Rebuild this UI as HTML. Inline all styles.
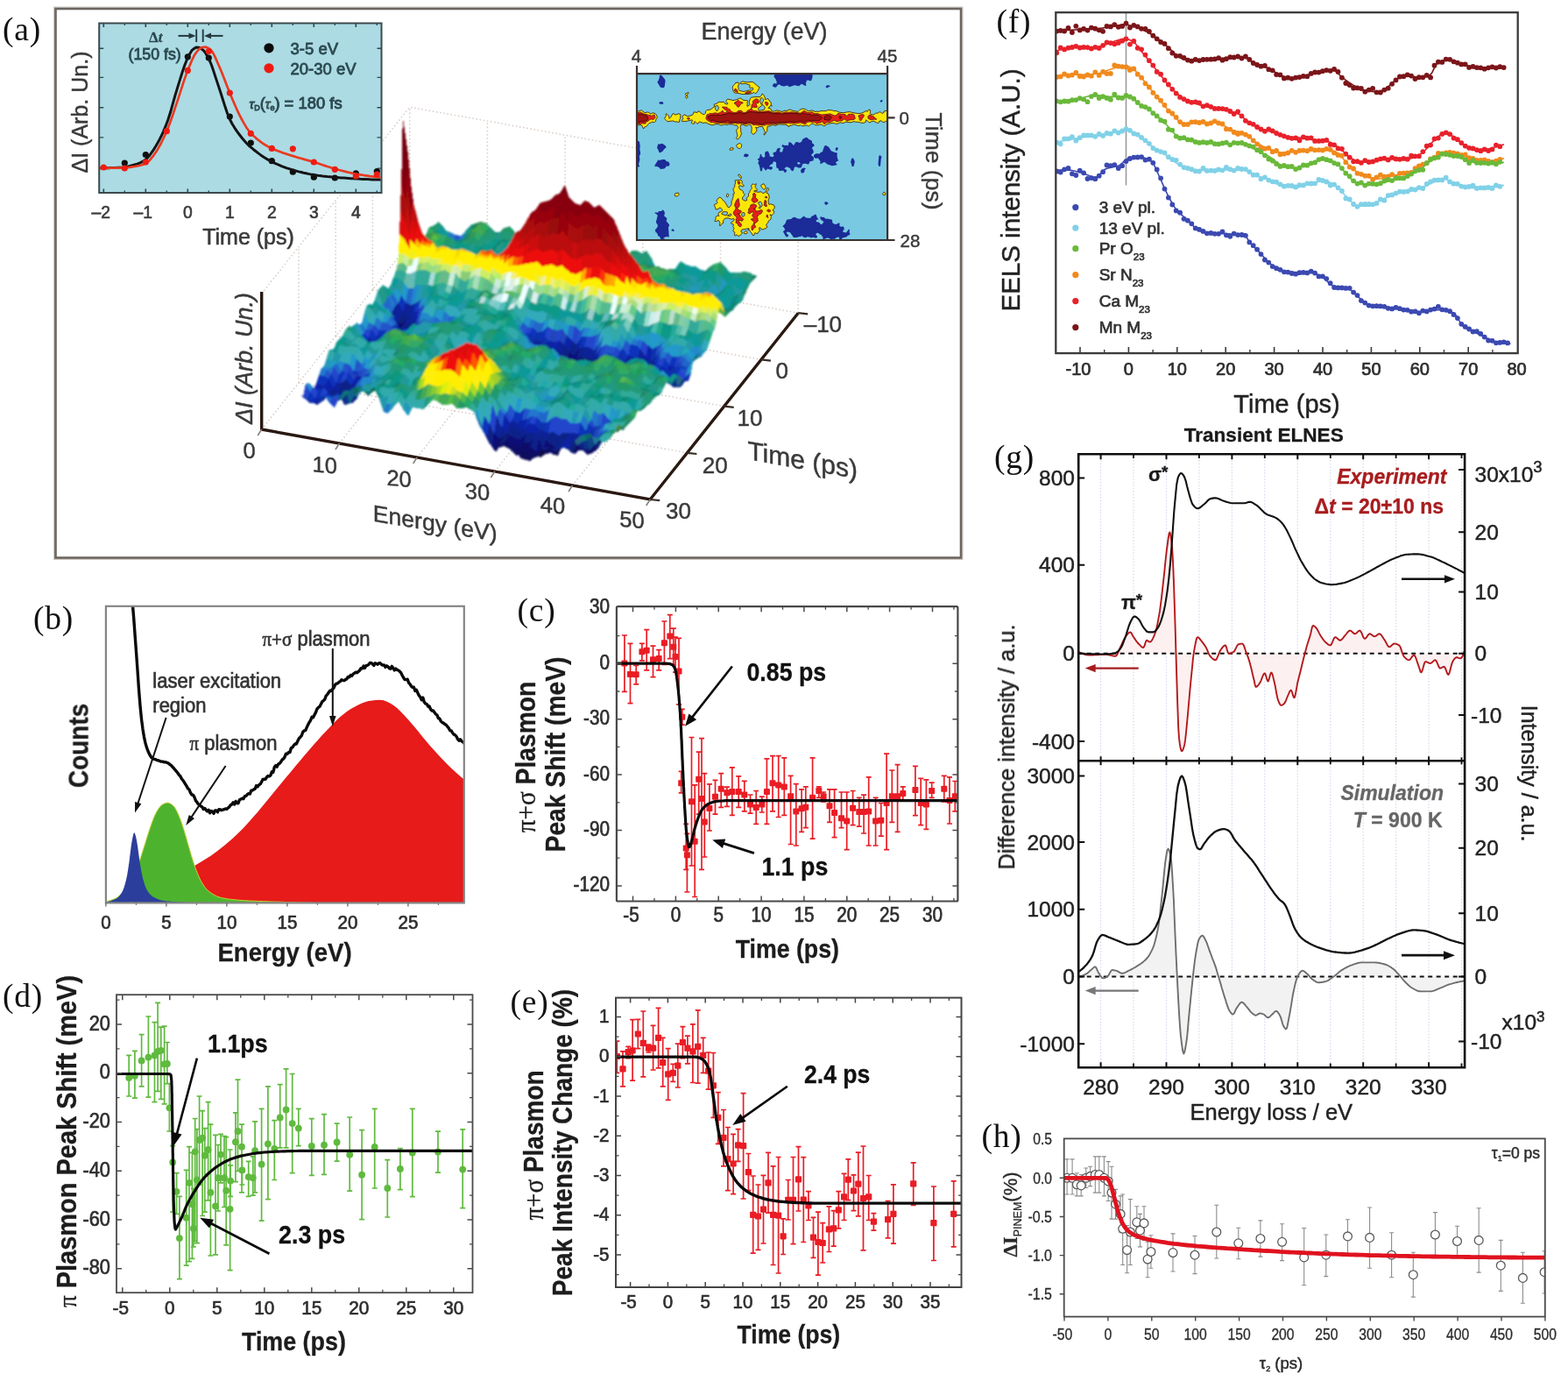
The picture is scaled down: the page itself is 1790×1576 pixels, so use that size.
<!DOCTYPE html>
<html lang="en">
<head>
<meta charset="utf-8">
<title>Figure: ultrafast EELS dynamics</title>
<style>
html,body{margin:0;padding:0;background:#fff;}
body{width:1790px;height:1576px;overflow:hidden;}
svg{display:block;font-family:"Liberation Sans",sans-serif;}
.soft{filter:blur(0.6px)}
</style>
</head>
<body>
<svg width="1790" height="1576" viewBox="0 0 1790 1576">
<defs>
<clipPath id="cpa1"><rect x="114.2" y="27.5" width="320.3" height="191.5"/></clipPath>
<filter id="blur3d" x="-5%" y="-5%" width="110%" height="110%"><feGaussianBlur stdDeviation="0.9"/></filter>
<clipPath id="cpc"><rect x="727" y="84.2" width="286.1" height="189.8"/></clipPath>
<clipPath id="cpb"><rect x="120.9" y="691.8" width="408.9" height="338.6"/></clipPath>
<clipPath id="cpc2"><rect x="703.9" y="692.2" width="389.5" height="336.3"/></clipPath>
<clipPath id="cpd"><rect x="133" y="1135.2" width="406.5" height="340"/></clipPath>
<clipPath id="cpe"><rect x="703" y="1138.6" width="394.5" height="330.4"/></clipPath>
<clipPath id="cpf"><rect x="1205.3" y="14.2" width="527.4" height="388.9"/></clipPath>
<clipPath id="cpg1"><rect x="1231.2" y="518.2" width="440.9" height="350"/></clipPath><clipPath id="cpg2"><rect x="1231.2" y="868.2" width="440.9" height="350"/></clipPath>
<clipPath id="cph"><rect x="1214.7" y="1299.4" width="549.1" height="203.2"/></clipPath>
</defs>
<rect width="1790" height="1576" fill="#fff"/>
<g class="soft">
<g id="a-frame"><rect x="63.5" y="10" width="1033.5" height="626.5" fill="none" stroke="#cfcac6" stroke-width="5" />
<rect x="63.5" y="10" width="1033.5" height="626.5" fill="#fff" stroke="#6c6661" stroke-width="2.6" /></g>
<g id="a-3d"><path d="M298.7 490L467.7 277.2M467.7 277.2L467.7 122.2M387.4 506L556.4 293.2M556.4 293.2L556.4 138.2M476.1 522L645.1 309.2M645.1 309.2L645.1 154.2M564.8 538L733.8 325.2M733.8 325.2L733.8 170.2M653.5 554L822.5 341.2M822.5 341.2L822.5 186.2M742.2 570L911.2 357.2M911.2 357.2L911.2 202.2M467.7 277.2L911.2 357.2M467.7 277.2L467.7 122.2M425.4 330.4L868.9 410.4M425.4 330.4L425.4 175.4M383.2 383.6L826.7 463.6M383.2 383.6L383.2 228.6M340.9 436.8L784.4 516.8M340.9 436.8L340.9 281.8M298.7 490L742.2 570M298.7 490L298.7 335M298.7 335L467.7 122.2L911.2 202.2" stroke="#d9cdc6" stroke-width="1.5" stroke-dasharray="1.6 2.6" fill="none"/><g shape-rendering="crispEdges" filter="url(#blur3d)"><path fill="#188" d="M503 259l6 4l-3-5l-6-5z"/><path fill="#299" d="M509 263l5 2l-3 4l-5-11z"/><path fill="#27c" d="M514 265l6 3l-3 10l-6-9z"/><path fill="#25c" d="M520 268l6 1l-4 9l-5 0z"/><path fill="#27c" d="M526 269l5-5l-3 12l-6 2z"/><path fill="#299" d="M531 264l6-7l-3 11l-6 8z"/><path fill="#197" d="M537 257l5-2l-3 5l-5 8z"/><path fill="#285" d="M542 255l6-2l-3 4l-6 3z"/><path fill="#495" d="M548 253l6 1l-4 3l-5 0z"/><path fill="#3a6" d="M554 254l5 4l-3 3l-6-4z"/><path fill="#297" d="M559 258l6 7l-3 1l-6-5z"/><path fill="#187" d="M565 265l5 0l-3 2l-5-1z"/><path fill="#175" d="M570 265l6-5l-3 4l-6 3z"/><path fill="#296" d="M576 260l6-2l-4 7l-5-1zM582 258l5 6l-3 3l-6-2z"/><path fill="#187" d="M587 264l6 13l-4-9l-5-1zM593 277l5-1l-3-4l-6-4z"/><path fill="#176" d="M598 276l6-9l-3 6l-6-1z"/><path fill="#296" d="M604 267l5-7l-3 9l-5 4z"/><path fill="#5b4" d="M609 260l6-1l-3 10l-6 0z"/><path fill="#7b3" d="M615 259l6 0l-4 7l-5 3z"/><path fill="#9b2" d="M621 259l5 0l-3 4l-6 3z"/><path fill="#bd2" d="M626 259l6 1l-3 7l-6-4z"/><path fill="#ad2" d="M632 260l5-1l-3 12l-5-4z"/><path fill="#9c3" d="M637 259l6 4l-3 7l-6 1z"/><path fill="#7c3" d="M643 263l6 6l-4 2l-5-1z"/><path fill="#6b4" d="M649 269l5-1l-3 7l-6-4zM654 268l6 2l-3 5l-6 0z"/><path fill="#5a4" d="M660 270l5 5l-3-2l-5 2z"/><path fill="#482" d="M665 275l6-4l-3 1l-6 1z"/><path fill="#8b2" d="M671 271l6-4l-4 6l-5-1z"/><path fill="#ad2" d="M677 267l5 5l-3 5l-6-4z"/><path fill="#5b5" d="M682 272l6 10l-3 1l-6-6z"/><path fill="#286" d="M688 282l5 0l-3 3l-5-2z"/><path fill="#295" d="M693 282l6-2l-3 5l-6 0z"/><path fill="#296" d="M699 280l6 5l-4 4l-5-4z"/><path fill="#198" d="M705 285l5 9l-3 3l-6-8zM710 294l6-3l-3 7l-6-1z"/><path fill="#197" d="M716 291l5-5l-3 7l-5 5z"/><path fill="#296" d="M721 286l6 0l-3 6l-6 1z"/><path fill="#297" d="M727 286l6 3l-4 6l-5-3zM733 289l5-3l-3 11l-6-2zM738 286l6 9l-3 7l-6-5z"/><path fill="#199" d="M744 295l5 12l-3 0l-5-5z"/><path fill="#178" d="M749 307l6 1l-3-4l-6 3z"/><path fill="#28a" d="M755 308l6 9l-4-8l-5-5z"/><path fill="#269" d="M761 317l5-4l-3 0l-6-4z"/><path fill="#178" d="M766 313l6-8l-3 5l-6 3z"/><path fill="#198" d="M772 305l5-7l-3 8l-5 4zM777 298l6 4l-3 9l-6-5z"/><path fill="#199" d="M783 302l6 2l-4 9l-5-2zM789 304l5 0l-3 11l-6-2zM794 304l6 4l-3 9l-6-2zM800 308l5 1l-3 5l-5 3z"/><path fill="#187" d="M805 309l6-5l-3 6l-6 4z"/><path fill="#296" d="M811 304l5-3l-3 7l-5 2z"/><path fill="#3a6" d="M816 301l6-2l-3 11l-6-2z"/><path fill="#296" d="M822 299l6 5l-4 13l-5-7z"/><path fill="#198" d="M828 304l5 7l-3 11l-6-5zM833 311l6 0l-3 7l-6 4z"/><path fill="#298" d="M839 311l5 0l-3 6l-5 1z"/><path fill="#297" d="M844 311l6-1l-3 7l-6 0zM850 310l6 1l-4 10l-5-4zM856 311l5 3l-3 5l-6 2z"/><path fill="#176" d="M861 314l6 2l-3-1l-6 4z"/><path fill="#297" d="M500 253l6 5l-4 2l-5-4z"/><path fill="#199" d="M506 258l5 11l-3 0l-6-9z"/><path fill="#27c" d="M511 269l6 9l-3-1l-6-8z"/><path fill="#14a" d="M517 278l5 0l-3-2l-5 1z"/><path fill="#25b" d="M522 278l6-2l-3 2l-6-2z"/><path fill="#278" d="M528 276l6-8l-4 2l-5 8z"/><path fill="#176" d="M534 268l5-8l-3 2l-6 8z"/><path fill="#274" d="M539 260l6-3l-3 3l-6 2z"/><path fill="#4a5" d="M545 257l5 0l-3 4l-5-1z"/><path fill="#3a5" d="M550 257l6 4l-3 4l-6-4z"/><path fill="#296" d="M556 261l6 5l-4 1l-5-2z"/><path fill="#297" d="M562 266l5 1l-3 5l-6-5z"/><path fill="#298" d="M567 267l6-3l-3 10l-6-2z"/><path fill="#297" d="M573 264l5 1l-3 8l-5 1zM578 265l6 2l-3 8l-6-2zM584 267l5 1l-3 9l-5-2z"/><path fill="#298" d="M589 268l6 4l-3 5l-6 0z"/><path fill="#198" d="M595 272l6 1l-4 5l-5-1z"/><path fill="#286" d="M601 273l5-4l-3 6l-6 3z"/><path fill="#2a6" d="M606 269l6 0l-3 6l-6 0z"/><path fill="#4a5" d="M612 269l5-3l-3 7l-5 2z"/><path fill="#6b3" d="M617 266l6-3l-3 8l-6 2z"/><path fill="#7c3" d="M623 263l6 4l-4 7l-5-3z"/><path fill="#5b4" d="M629 267l5 4l-3 7l-6-4z"/><path fill="#5b5" d="M634 271l6-1l-3 8l-6 0z"/><path fill="#5b4" d="M640 270l5 1l-3 7l-5 0zM645 271l6 4l-3 3l-6 0z"/><path fill="#5a4" d="M651 275l6 0l-4 4l-5-1z"/><path fill="#6a3" d="M657 275l5-2l-3 5l-6 1z"/><path fill="#8b3" d="M662 273l6-1l-3 5l-6 1z"/><path fill="#ac2" d="M668 272l5 1l-3 5l-5-1z"/><path fill="#9c2" d="M673 273l6 4l-3 2l-6-1z"/><path fill="#6b4" d="M679 277l6 6l-4 1l-5-5z"/><path fill="#395" d="M685 283l5 2l-3 3l-6-4z"/><path fill="#295" d="M690 285l6 0l-3 4l-6-1z"/><path fill="#296" d="M696 285l5 4l-3 2l-5-2z"/><path fill="#286" d="M701 289l6 8l-3-5l-6-1z"/><path fill="#187" d="M707 297l6 1l-4-2l-5-4zM713 298l5-5l-3 7l-6-4z"/><path fill="#297" d="M718 293l6-1l-3 7l-6 1zM724 292l5 3l-3 5l-5-1zM729 295l6 2l-3 4l-6-1z"/><path fill="#197" d="M735 297l6 5l-4-1l-5 0z"/><path fill="#187" d="M741 302l5 5l-3-5l-6-1z"/><path fill="#176" d="M746 307l6-3l-3 0l-6-2z"/><path fill="#187" d="M752 304l5 5l-3-3l-5-2zM757 309l6 4l-3-5l-6-2z"/><path fill="#176" d="M763 313l6-3l-4-3l-5 1zM769 310l5-4l-3 1l-6 0z"/><path fill="#198" d="M774 306l6 5l-3 5l-6-9z"/><path fill="#299" d="M780 311l5 2l-3 5l-5-2zM785 313l6 2l-3 5l-6-2z"/><path fill="#29a" d="M791 315l6 2l-4 6l-5-3z"/><path fill="#199" d="M797 317l5-3l-3 7l-6 2z"/><path fill="#198" d="M802 314l6-4l-4 9l-5 2zM808 310l5-2l-3 10l-6 1zM813 308l6 2l-3 16l-6-8z"/><path fill="#299" d="M819 310l5 7l-3 18l-5-9z"/><path fill="#29b" d="M824 317l6 5l-3 10l-6 3z"/><path fill="#199" d="M830 322l6-4l-4 8l-5 6zM836 318l5-1l-3 9l-6 0zM841 317l6 0l-3 13l-6-4zM847 317l5 4l-3 11l-5-2z"/><path fill="#198" d="M852 321l6-2l-3 5l-6 8z"/><path fill="#286" d="M858 319l6-4l-4 4l-5 5z"/><path fill="#297" d="M497 256l5 4l-3 4l-5-6z"/><path fill="#199" d="M502 260l6 9l-3 0l-6-5zM508 269l6 8l-4-4l-5-4z"/><path fill="#178" d="M514 277l5-1l-3-4l-6 1z"/><path fill="#289" d="M519 276l6 2l-3-1l-6-5z"/><path fill="#177" d="M525 278l5-8l-3 3l-5 4z"/><path fill="#187" d="M530 270l6-8l-3 7l-6 4z"/><path fill="#296" d="M536 262l6-2l-4 5l-5 4z"/><path fill="#4a4" d="M542 260l5 1l-3 3l-6 1z"/><path fill="#4a5" d="M547 261l6 4l-3 3l-6-4z"/><path fill="#296" d="M553 265l5 2l-3 5l-5-4z"/><path fill="#297" d="M558 267l6 5l-3 4l-6-4z"/><path fill="#198" d="M564 272l6 2l-4 6l-5-4z"/><path fill="#187" d="M570 274l5-1l-3 3l-6 4zM575 273l6 2l-4 2l-5-1z"/><path fill="#198" d="M581 275l5 2l-3 7l-6-7z"/><path fill="#187" d="M586 277l6 0l-3 2l-6 5z"/><path fill="#186" d="M592 277l5 1l-3 1l-5 0z"/><path fill="#175" d="M597 278l6-3l-3 2l-6 2z"/><path fill="#285" d="M603 275l6 0l-4 2l-5 0z"/><path fill="#384" d="M609 275l5-2l-3 4l-6 0z"/><path fill="#5a4" d="M614 273l6-2l-3 6l-6 0z"/><path fill="#5b5" d="M620 271l5 3l-3 8l-5-5z"/><path fill="#3a6" d="M625 274l6 4l-3 5l-6-1zM631 278l6 0l-4 7l-5-2zM637 278l5 0l-3 8l-6-1zM642 278l6 0l-3 9l-6-1zM648 278l5 1l-3 9l-5-1z"/><path fill="#4a5" d="M653 279l6-1l-3 11l-6-1z"/><path fill="#5b4" d="M659 278l6-1l-4 8l-5 4z"/><path fill="#8b3" d="M665 277l5 1l-3 3l-6 4z"/><path fill="#9c2" d="M670 278l6 1l-3 5l-6-3z"/><path fill="#6b4" d="M676 279l5 5l-3 6l-5-6z"/><path fill="#3a5" d="M681 284l6 4l-3 5l-6-3z"/><path fill="#395" d="M687 288l6 1l-4 4l-5 0zM693 289l5 2l-3 2l-6 0z"/><path fill="#296" d="M698 291l6 1l-3 4l-6-3z"/><path fill="#297" d="M704 292l5 4l-3 4l-5-4zM709 296l6 4l-3 2l-6-2z"/><path fill="#176" d="M715 300l6-1l-4 0l-5 3z"/><path fill="#186" d="M721 299l5 1l-3 0l-6-1zM726 300l6 1l-3 0l-6-1z"/><path fill="#175" d="M732 301l5 0l-3 0l-5 0z"/><path fill="#286" d="M737 301l6 1l-3 2l-6-3zM743 302l6 2l-4 2l-5-2z"/><path fill="#186" d="M749 304l5 2l-3-1l-6 1zM754 306l6 2l-3-2l-6-1z"/><path fill="#175" d="M760 308l5-1l-3 1l-5-2zM765 307l6 0l-3 0l-6 1z"/><path fill="#187" d="M771 307l6 9l-4-3l-5-6zM777 316l5 2l-3-2l-6-3z"/><path fill="#188" d="M782 318l6 2l-3 0l-6-4z"/><path fill="#199" d="M788 320l5 3l-3 2l-5-5z"/><path fill="#29a" d="M793 323l6-2l-3 9l-6-5zM799 321l5-2l-3 11l-5 0z"/><path fill="#199" d="M804 319l6-1l-3 6l-6 6z"/><path fill="#299" d="M810 318l6 8l-4 1l-5-3z"/><path fill="#29c" d="M816 326l5 9l-3 1l-6-9z"/><path fill="#26a" d="M821 335l6-3l-3 0l-6 4z"/><path fill="#177" d="M827 332l5-6l-3-1l-5 7z"/><path fill="#187" d="M832 326l6 0l-3 0l-6-1z"/><path fill="#299" d="M838 326l6 4l-4 4l-5-8z"/><path fill="#29a" d="M844 330l5 2l-3 6l-6-4z"/><path fill="#188" d="M849 332l6-8l-3 4l-6 10z"/><path fill="#285" d="M855 324l5-5l-3 3l-5 6z"/><path fill="#296" d="M494 258l5 6l-3 1l-6-6z"/><path fill="#187" d="M499 264l6 5l-3-1l-6-3zM505 269l5 4l-3-3l-5-2z"/><path fill="#176" d="M510 273l6-1l-3-1l-6-1z"/><path fill="#187" d="M516 272l6 5l-4-4l-5-2z"/><path fill="#177" d="M522 277l5-4l-3 1l-6-1z"/><path fill="#187" d="M527 273l6-4l-3 5l-6 0z"/><path fill="#286" d="M533 269l5-4l-3 8l-5 1z"/><path fill="#395" d="M538 265l6-1l-3 6l-6 3z"/><path fill="#3a6" d="M544 264l6 4l-4 7l-5-5z"/><path fill="#297" d="M550 268l5 4l-3 6l-6-3z"/><path fill="#298" d="M555 272l6 4l-3 3l-6-1z"/><path fill="#198" d="M561 276l5 4l-3 2l-5-3z"/><path fill="#176" d="M566 280l6-4l-3 3l-6 3z"/><path fill="#297" d="M572 276l5 1l-3 4l-5-2z"/><path fill="#198" d="M577 277l6 7l-3 2l-6-5z"/><path fill="#176" d="M583 284l6-5l-4 3l-5 4z"/><path fill="#275" d="M589 279l5 0l-3 0l-6 3z"/><path fill="#274" d="M594 279l6-2l-3 0l-6 2z"/><path fill="#494" d="M600 277l5 0l-3 2l-5-2z"/><path fill="#4a5" d="M605 277l6 0l-3 6l-6-4zM611 277l6 0l-4 8l-5-2z"/><path fill="#296" d="M617 277l5 5l-3 10l-6-7z"/><path fill="#297" d="M622 282l6 1l-3 11l-6-2zM628 283l5 2l-3 9l-5 0zM633 285l6 1l-3 8l-6 0zM639 286l6 1l-4 7l-5 0zM645 287l5 1l-3 6l-6 0zM650 288l6 1l-3 8l-6-3z"/><path fill="#296" d="M656 289l5-4l-3 9l-5 3z"/><path fill="#5b4" d="M661 285l6-4l-3 6l-6 7z"/><path fill="#8c3" d="M667 281l6 3l-4 5l-5-2z"/><path fill="#5b4" d="M673 284l5 6l-3 4l-6-5z"/><path fill="#3a5" d="M678 290l6 3l-3 3l-6-2z"/><path fill="#384" d="M684 293l5 0l-3 1l-5 2z"/><path fill="#494" d="M689 293l6 0l-3 3l-6-2z"/><path fill="#3a6" d="M695 293l6 3l-4 4l-5-4z"/><path fill="#296" d="M701 296l5 4l-3 0l-6 0z"/><path fill="#286" d="M706 300l6 2l-3 0l-6-2z"/><path fill="#275" d="M712 302l5-3l-3 3l-5 0z"/><path fill="#296" d="M717 299l6 1l-3 4l-6-2z"/><path fill="#295" d="M723 300l6 1l-4 3l-5 0z"/><path fill="#385" d="M729 301l5 0l-3 2l-6 1z"/><path fill="#395" d="M734 301l6 3l-3 2l-6-3z"/><path fill="#285" d="M740 304l5 2l-3 0l-5 0z"/><path fill="#274" d="M745 306l6-1l-3-1l-6 2z"/><path fill="#395" d="M751 305l6 1l-4 2l-5-4zM757 306l5 2l-3 1l-6-1z"/><path fill="#385" d="M762 308l6-1l-3 2l-6 0z"/><path fill="#296" d="M768 307l5 6l-3 1l-5-5z"/><path fill="#297" d="M773 313l6 3l-3 2l-6-4z"/><path fill="#198" d="M779 316l6 4l-4 4l-5-6z"/><path fill="#299" d="M785 320l5 5l-3 4l-6-5z"/><path fill="#29b" d="M790 325l6 5l-4 5l-5-6zM796 330l5 0l-3 3l-6 2z"/><path fill="#188" d="M801 330l6-6l-3 3l-6 6z"/><path fill="#199" d="M807 324l5 3l-3 2l-5-2z"/><path fill="#29a" d="M812 327l6 9l-3 0l-6-7z"/><path fill="#289" d="M818 336l6-4l-4 3l-5 1z"/><path fill="#188" d="M824 332l5-7l-3 7l-6 3z"/><path fill="#198" d="M829 325l6 1l-3 4l-6 2z"/><path fill="#199" d="M835 326l5 8l-3 4l-5-8z"/><path fill="#29a" d="M840 334l6 4l-3 2l-6-2z"/><path fill="#187" d="M846 338l6-10l-4 4l-5 8z"/><path fill="#286" d="M852 328l5-6l-3 6l-6 4z"/><path fill="#3a6" d="M490 259l6 6l-3 1l-6 0z"/><path fill="#285" d="M496 265l6 3l-4-2l-5 0zM502 268l5 2l-3-2l-6-2z"/><path fill="#175" d="M507 270l6 1l-3-2l-6-1z"/><path fill="#285" d="M513 271l5 2l-3-2l-5-2z"/><path fill="#187" d="M518 273l6 1l-3 2l-6-5zM524 274l6 0l-4 3l-5-1z"/><path fill="#297" d="M530 274l5-1l-3 6l-6-2z"/><path fill="#296" d="M535 273l6-3l-3 8l-6 1z"/><path fill="#297" d="M541 270l5 5l-3 5l-5-2zM546 275l6 3l-3 4l-6-2z"/><path fill="#198" d="M552 278l6 1l-4 6l-5-3zM558 279l5 3l-3 3l-6 0z"/><path fill="#187" d="M563 282l6-3l-4 6l-5 0z"/><path fill="#298" d="M569 279l5 2l-3 8l-6-4z"/><path fill="#199" d="M574 281l6 5l-3 8l-6-5z"/><path fill="#187" d="M580 286l5-4l-3 4l-5 8z"/><path fill="#285" d="M585 282l6-3l-3 3l-6 4z"/><path fill="#483" d="M591 279l6-2l-4 3l-5 2z"/><path fill="#6b4" d="M597 277l5 2l-3 4l-6-3z"/><path fill="#4a5" d="M602 279l6 4l-3 7l-6-7z"/><path fill="#296" d="M608 283l5 2l-3 6l-5-1z"/><path fill="#298" d="M613 285l6 7l-3 5l-6-6z"/><path fill="#199" d="M619 292l6 2l-4 7l-5-4z"/><path fill="#188" d="M625 294l5 0l-3 3l-6 4z"/><path fill="#187" d="M630 294l6 0l-3 2l-6 1z"/><path fill="#186" d="M636 294l5 0l-3 2l-5 0z"/><path fill="#297" d="M641 294l6 0l-3 4l-6-2zM647 294l6 3l-4 2l-5-1z"/><path fill="#175" d="M653 297l5-3l-3 3l-6 2z"/><path fill="#394" d="M658 294l6-7l-3 6l-6 4z"/><path fill="#7b3" d="M664 287l5 2l-3 4l-5 0z"/><path fill="#5b4" d="M669 289l6 5l-3 5l-6-6z"/><path fill="#3a6" d="M675 294l6 2l-4 5l-5-2z"/><path fill="#395" d="M681 296l5-2l-3 5l-6 2z"/><path fill="#5a5" d="M686 294l6 2l-3 4l-6-1z"/><path fill="#3a5" d="M692 296l5 4l-3 2l-5-2z"/><path fill="#384" d="M697 300l6 0l-3 1l-6 1zM703 300l6 2l-4-2l-5 1z"/><path fill="#394" d="M709 302l5 0l-3 2l-6-4z"/><path fill="#3a6" d="M714 302l6 2l-3 5l-6-5z"/><path fill="#2a6" d="M720 304l5 0l-3 7l-5-2z"/><path fill="#3a6" d="M725 304l6-1l-3 6l-6 2z"/><path fill="#4a5" d="M731 303l6 3l-4 3l-5 0z"/><path fill="#3a5" d="M737 306l5 0l-3 5l-6-2z"/><path fill="#4a5" d="M742 306l6-2l-3 6l-6 1zM748 304l5 4l-3 4l-5-2zM753 308l6 1l-3 4l-6-1zM759 309l6 0l-4 5l-5-1z"/><path fill="#2a6" d="M765 309l5 5l-3 6l-6-6z"/><path fill="#297" d="M770 314l6 4l-3 2l-6 0z"/><path fill="#198" d="M776 318l5 6l-3 1l-5-5z"/><path fill="#299" d="M781 324l6 5l-3 6l-6-10z"/><path fill="#29a" d="M787 329l5 6l-3-1l-5 1z"/><path fill="#178" d="M792 335l6-2l-3-1l-6 2z"/><path fill="#188" d="M798 333l6-6l-4 6l-5-1z"/><path fill="#299" d="M804 327l5 2l-3 8l-6-4z"/><path fill="#29a" d="M809 329l6 7l-3 7l-6-6z"/><path fill="#189" d="M815 336l5-1l-3 2l-5 6z"/><path fill="#188" d="M820 335l6-3l-3 3l-6 2z"/><path fill="#198" d="M826 332l6-2l-4 6l-5-1z"/><path fill="#199" d="M832 330l5 8l-3-1l-6-1z"/><path fill="#177" d="M837 338l6 2l-3-3l-6 0z"/><path fill="#176" d="M843 340l5-8l-3 3l-5 2z"/><path fill="#286" d="M848 332l6-4l-3 7l-6 0z"/><path fill="#395" d="M487 266l6 0l-3 4l-6 2z"/><path fill="#494" d="M493 266l5 0l-3 1l-5 3z"/><path fill="#4a4" d="M498 266l6 2l-3 3l-6-4z"/><path fill="#3a6" d="M504 268l6 1l-4 8l-5-6z"/><path fill="#296" d="M510 269l5 2l-3 9l-6-3z"/><path fill="#297" d="M515 271l6 5l-3 8l-6-4z"/><path fill="#198" d="M521 276l5 1l-3 7l-5 0zM526 277l6 2l-3 7l-6-2zM532 279l6-1l-4 8l-5 0z"/><path fill="#298" d="M538 278l5 2l-3 7l-6-1z"/><path fill="#198" d="M543 280l6 2l-3 4l-6 1z"/><path fill="#187" d="M549 282l5 3l-3 1l-5 0z"/><path fill="#186" d="M554 285l6 0l-3 1l-6 0z"/><path fill="#187" d="M560 285l5 0l-3 3l-5-2z"/><path fill="#198" d="M565 285l6 4l-3 5l-6-6z"/><path fill="#299" d="M571 289l6 5l-4 6l-5-6z"/><path fill="#198" d="M577 294l5-8l-3 9l-6 5z"/><path fill="#296" d="M582 286l6-4l-3 6l-6 7z"/><path fill="#494" d="M588 282l5-2l-3 5l-5 3z"/><path fill="#5b4" d="M593 280l6 3l-3 7l-6-5z"/><path fill="#2a6" d="M599 283l6 7l-4 4l-5-4z"/><path fill="#296" d="M605 290l5 1l-3 3l-6 0z"/><path fill="#298" d="M610 291l6 6l-3 2l-6-5z"/><path fill="#187" d="M616 297l5 4l-3-1l-5-1z"/><path fill="#176" d="M621 301l6-4l-3 2l-6 1zM627 297l6-1l-4 2l-5 1z"/><path fill="#286" d="M633 296l5 0l-3 2l-6 0zM638 296l6 2l-3 1l-6-1zM644 298l5 1l-3 2l-5-2z"/><path fill="#275" d="M649 299l6-2l-3 2l-6 2z"/><path fill="#494" d="M655 297l6-4l-4 7l-5-1z"/><path fill="#5b5" d="M661 293l5 0l-3 10l-6-3z"/><path fill="#3a6" d="M666 293l6 6l-3 9l-6-5z"/><path fill="#297" d="M672 299l5 2l-3 8l-5-1z"/><path fill="#296" d="M677 301l6-2l-3 8l-6 2z"/><path fill="#3a6" d="M683 299l6 1l-4 9l-5-2z"/><path fill="#2a6" d="M689 300l5 2l-3 9l-6-2z"/><path fill="#3a6" d="M694 302l6-1l-3 8l-6 2z"/><path fill="#5a4" d="M700 301l5-1l-3 5l-5 4z"/><path fill="#6b4" d="M705 300l6 4l-3 3l-6-2z"/><path fill="#3a6" d="M711 304l6 5l-4 4l-5-6z"/><path fill="#297" d="M717 309l5 2l-3 6l-6-4z"/><path fill="#296" d="M722 311l6-2l-3 7l-6 1zM728 309l5 0l-3 5l-5 2z"/><path fill="#3a6" d="M733 309l6 2l-3 6l-6-3z"/><path fill="#395" d="M739 311l6-1l-4 5l-5 2z"/><path fill="#4a5" d="M745 310l5 2l-3 3l-6 0z"/><path fill="#3a5" d="M750 312l6 1l-3 7l-6-5z"/><path fill="#2a6" d="M756 313l5 1l-3 9l-5-3z"/><path fill="#297" d="M761 314l6 6l-3 6l-6-3zM767 320l6 0l-4 6l-5 0z"/><path fill="#298" d="M773 320l5 5l-3 3l-6-2z"/><path fill="#199" d="M778 325l6 10l-4 0l-5-7z"/><path fill="#188" d="M784 335l5-1l-3 0l-6 1zM789 334l6-2l-3 5l-6-3z"/><path fill="#299" d="M795 332l5 1l-3 6l-5-2zM800 333l6 4l-3 3l-6-1z"/><path fill="#29a" d="M806 337l6 6l-4 0l-5-3z"/><path fill="#178" d="M812 343l5-6l-3 3l-6 3z"/><path fill="#187" d="M817 337l6-2l-3 2l-6 3z"/><path fill="#198" d="M823 335l5 1l-3 3l-5-2z"/><path fill="#199" d="M828 336l6 1l-3 6l-6-4z"/><path fill="#198" d="M834 337l6 0l-4 4l-5 2z"/><path fill="#187" d="M840 337l5-2l-3 5l-6 1z"/><path fill="#298" d="M845 335l6 0l-3 7l-6-2z"/><path fill="#296" d="M484 272l6-2l-4 6l-5 1z"/><path fill="#494" d="M490 270l5-3l-3 6l-6 3z"/><path fill="#5b4" d="M495 267l6 4l-3 4l-6-2z"/><path fill="#2a6" d="M501 271l5 6l-3 4l-5-6z"/><path fill="#297" d="M506 277l6 3l-3 4l-6-3z"/><path fill="#198" d="M512 280l6 4l-4 3l-5-3zM518 284l5 0l-3 4l-6-1z"/><path fill="#199" d="M523 284l6 2l-3 7l-6-5zM529 286l5 0l-3 11l-5-4zM534 286l6 1l-3 10l-6 0z"/><path fill="#198" d="M540 287l6-1l-4 6l-5 5z"/><path fill="#186" d="M546 286l5 0l-3 1l-6 5z"/><path fill="#275" d="M551 286l6 0l-4-1l-5 2z"/><path fill="#286" d="M557 286l5 2l-3 1l-6-4z"/><path fill="#297" d="M562 288l6 6l-3 1l-6-6z"/><path fill="#188" d="M568 294l5 6l-3-3l-5-2z"/><path fill="#177" d="M573 300l6-5l-3 2l-6 0z"/><path fill="#186" d="M579 295l6-7l-4 4l-5 5z"/><path fill="#494" d="M585 288l5-3l-3 5l-6 2z"/><path fill="#4a5" d="M590 285l6 5l-3 4l-6-4z"/><path fill="#2a6" d="M596 290l5 4l-3 3l-5-3z"/><path fill="#297" d="M601 294l6 0l-3 5l-6-2zM607 294l6 5l-4 3l-5-3z"/><path fill="#186" d="M613 299l5 1l-3 1l-6 1zM618 300l6-1l-3 3l-6-1z"/><path fill="#286" d="M624 299l5-1l-3 3l-5 1z"/><path fill="#285" d="M629 298l6 0l-3 2l-6 1z"/><path fill="#384" d="M635 298l6 1l-4 0l-5 1z"/><path fill="#3a6" d="M641 299l5 2l-3 4l-6-6z"/><path fill="#296" d="M646 301l6-2l-3 7l-6-1z"/><path fill="#3a6" d="M652 299l5 1l-3 6l-5 0zM657 300l6 3l-3 5l-6-2z"/><path fill="#297" d="M663 303l6 5l-4 2l-5-2z"/><path fill="#286" d="M669 308l5 1l-3 2l-6-1zM674 309l6-2l-3 4l-6 0z"/><path fill="#297" d="M680 307l5 2l-3 6l-5-4zM685 309l6 2l-3 5l-6-1zM691 311l6-2l-4 8l-5-1z"/><path fill="#396" d="M697 309l5-4l-3 7l-6 5z"/><path fill="#5b4" d="M702 305l6 2l-3 4l-6 1z"/><path fill="#3a5" d="M708 307l5 6l-3 3l-5-5z"/><path fill="#297" d="M713 313l6 4l-3 2l-6-3z"/><path fill="#286" d="M719 317l6-1l-4 3l-5 0z"/><path fill="#296" d="M725 316l5-2l-3 6l-6-1zM730 314l6 3l-3 5l-6-2z"/><path fill="#295" d="M736 317l5-2l-3 5l-5 2z"/><path fill="#3a5" d="M741 315l6 0l-3 5l-6 0z"/><path fill="#2a6" d="M747 315l6 5l-4 7l-5-7z"/><path fill="#297" d="M753 320l5 3l-3 5l-6-1zM758 323l6 3l-4 3l-5-1z"/><path fill="#198" d="M764 326l5 0l-3 6l-6-3zM769 326l6 2l-3 5l-6-1zM775 328l5 7l-3-1l-5-1z"/><path fill="#188" d="M780 335l6-1l-3 4l-6-4z"/><path fill="#299" d="M786 334l6 3l-4 5l-5-4z"/><path fill="#199" d="M792 337l5 2l-3 2l-6 1z"/><path fill="#177" d="M797 339l6 1l-3-2l-6 3z"/><path fill="#187" d="M803 340l5 3l-3-3l-5-2z"/><path fill="#188" d="M808 343l6-3l-3 4l-6-4z"/><path fill="#199" d="M814 340l6-3l-4 10l-5-3zM820 337l5 2l-3 8l-6 0zM825 339l6 4l-3 5l-6-1zM831 343l5-2l-3 9l-5-2z"/><path fill="#188" d="M836 341l6-1l-3 4l-6 6z"/><path fill="#198" d="M842 340l6 2l-4 4l-5-2z"/><path fill="#297" d="M481 277l5-1l-3 6l-5 1z"/><path fill="#395" d="M486 276l6-3l-3 5l-6 4z"/><path fill="#4a5" d="M492 273l6 2l-4 3l-5 0z"/><path fill="#3a6" d="M498 275l5 6l-3 3l-6-6z"/><path fill="#297" d="M503 281l6 3l-3 4l-6-4z"/><path fill="#198" d="M509 284l5 3l-3 3l-5-2zM514 287l6 1l-3 4l-6-2z"/><path fill="#199" d="M520 288l6 5l-4 8l-5-9z"/><path fill="#29a" d="M526 293l5 4l-3 7l-6-3zM531 297l6 0l-4 8l-5-1z"/><path fill="#199" d="M537 297l5-5l-3 8l-6 5z"/><path fill="#197" d="M542 292l6-5l-3 6l-6 7z"/><path fill="#285" d="M548 287l5-2l-3 3l-5 5z"/><path fill="#4a5" d="M553 285l6 4l-3 2l-6-3z"/><path fill="#296" d="M559 289l6 6l-4-1l-5-3z"/><path fill="#187" d="M565 295l5 2l-3 1l-6-4zM570 297l6 0l-3 3l-6-2z"/><path fill="#186" d="M576 297l5-5l-3 6l-5 2z"/><path fill="#395" d="M581 292l6-2l-3 6l-6 2z"/><path fill="#4a5" d="M587 290l6 4l-4 4l-5-2z"/><path fill="#296" d="M593 294l5 3l-3 3l-6-2zM598 297l6 2l-3 3l-6-2z"/><path fill="#297" d="M604 299l5 3l-3 4l-5-4z"/><path fill="#186" d="M609 302l6-1l-3 3l-6 2z"/><path fill="#285" d="M615 301l6 1l-4 1l-5 1zM621 302l5-1l-3 3l-6-1z"/><path fill="#384" d="M626 301l6-1l-3 2l-6 2z"/><path fill="#4a4" d="M632 300l5-1l-3 5l-5-2z"/><path fill="#3a6" d="M637 299l6 6l-3 6l-6-7z"/><path fill="#297" d="M643 305l6 1l-4 9l-5-4zM649 306l5 0l-3 7l-6 2zM654 306l6 2l-3 5l-6 0z"/><path fill="#296" d="M660 308l5 2l-3 2l-5 1zM665 310l6 1l-3 2l-6-1z"/><path fill="#286" d="M671 311l6 0l-4 3l-5-1z"/><path fill="#296" d="M677 311l5 4l-3 1l-6-2z"/><path fill="#286" d="M682 315l6 1l-3 2l-6-2z"/><path fill="#186" d="M688 316l5 1l-3 2l-5-1z"/><path fill="#285" d="M693 317l6-5l-3 5l-6 2z"/><path fill="#494" d="M699 312l6-1l-4 4l-5 2z"/><path fill="#4a5" d="M705 311l5 5l-3 1l-6-2z"/><path fill="#296" d="M710 316l6 3l-3 2l-6-4zM716 319l5 0l-3 4l-5-2z"/><path fill="#297" d="M721 319l6 1l-3 7l-6-4zM727 320l6 2l-4 5l-5 0z"/><path fill="#285" d="M733 322l5-2l-3 4l-6 3z"/><path fill="#394" d="M738 320l6 0l-3 2l-6 2z"/><path fill="#396" d="M744 320l5 7l-3 0l-5-5z"/><path fill="#286" d="M749 327l6 1l-3 1l-6-2z"/><path fill="#297" d="M755 328l5 1l-3 4l-5-4z"/><path fill="#198" d="M760 329l6 3l-3 6l-6-5zM766 332l6 1l-4 5l-5 0z"/><path fill="#187" d="M772 333l5 1l-3 2l-6 2z"/><path fill="#198" d="M777 334l6 4l-3 2l-6-4zM783 338l5 4l-3 0l-5-2z"/><path fill="#176" d="M788 342l6-1l-3-2l-6 3z"/><path fill="#165" d="M794 341l6-3l-4-1l-5 2z"/><path fill="#187" d="M800 338l5 2l-3 1l-6-4z"/><path fill="#199" d="M805 340l6 4l-3 4l-6-7z"/><path fill="#29a" d="M811 344l5 3l-3 10l-5-9zM816 347l6 0l-3 9l-6 1z"/><path fill="#199" d="M822 347l6 1l-4 2l-5 6zM828 348l5 2l-3 3l-6-3z"/><path fill="#187" d="M833 350l6-6l-3 5l-6 4zM839 344l5 2l-3 2l-5 1z"/><path fill="#186" d="M478 283l5-1l-3 3l-6 0z"/><path fill="#285" d="M483 282l6-4l-3 4l-6 3z"/><path fill="#494" d="M489 278l5 0l-3 3l-5 1z"/><path fill="#3a6" d="M494 278l6 6l-3 5l-6-8z"/><path fill="#297" d="M500 284l6 4l-4 4l-5-3z"/><path fill="#197" d="M506 288l5 2l-3 3l-6-1z"/><path fill="#187" d="M511 290l6 2l-3 1l-6 0z"/><path fill="#199" d="M517 292l5 9l-3 1l-5-9zM522 301l6 3l-3 1l-6-3z"/><path fill="#289" d="M528 304l5 1l-3 0l-5 0z"/><path fill="#177" d="M533 305l6-5l-3 1l-6 4z"/><path fill="#187" d="M539 300l6-7l-4 6l-5 2z"/><path fill="#296" d="M545 293l5-5l-3 9l-6 2z"/><path fill="#3a6" d="M550 288l6 3l-3 7l-6-1z"/><path fill="#2a6" d="M556 291l5 3l-3 5l-5-1z"/><path fill="#297" d="M561 294l6 4l-3 5l-6-4zM567 298l6 2l-4 4l-5-1z"/><path fill="#286" d="M573 300l5-2l-3 5l-6 1z"/><path fill="#296" d="M578 298l6-2l-3 6l-6 1z"/><path fill="#395" d="M584 296l5 2l-3 2l-5 2z"/><path fill="#394" d="M589 298l6 2l-3-1l-6 1z"/><path fill="#395" d="M595 300l6 2l-4 2l-5-5z"/><path fill="#297" d="M601 302l5 4l-3 3l-6-5z"/><path fill="#286" d="M606 306l6-2l-3 3l-6 2z"/><path fill="#285" d="M612 304l5-1l-3 2l-5 2z"/><path fill="#395" d="M617 303l6 1l-3 2l-6-1z"/><path fill="#494" d="M623 304l6-2l-4 4l-5 0z"/><path fill="#4b5" d="M629 302l5 2l-3 6l-6-4z"/><path fill="#2a6" d="M634 304l6 7l-3 3l-6-4z"/><path fill="#297" d="M640 311l5 4l-3 2l-5-3z"/><path fill="#186" d="M645 315l6-2l-3 4l-6 0z"/><path fill="#297" d="M651 313l6 0l-4 8l-5-4zM657 313l5-1l-3 10l-6-1zM662 312l6 1l-3 7l-6 2z"/><path fill="#296" d="M668 313l5 1l-3 3l-5 3zM673 314l6 2l-3 4l-6-3zM679 316l6 2l-4 2l-5 0z"/><path fill="#286" d="M685 318l5 1l-3 2l-6-1z"/><path fill="#285" d="M690 319l6-2l-3 4l-6 0z"/><path fill="#494" d="M696 317l5-2l-3 3l-5 3z"/><path fill="#5a4" d="M701 315l6 2l-3 2l-6-1z"/><path fill="#4a4" d="M707 317l6 4l-4 0l-5-2z"/><path fill="#395" d="M713 321l5 2l-3 2l-6-4z"/><path fill="#297" d="M718 323l6 4l-3 3l-6-5z"/><path fill="#286" d="M724 327l5 0l-3 3l-5 0z"/><path fill="#275" d="M729 327l6-3l-3 3l-6 3z"/><path fill="#494" d="M735 324l6-2l-4 4l-5 1z"/><path fill="#5a4" d="M741 322l5 5l-3 0l-6-1z"/><path fill="#395" d="M746 327l6 2l-4 3l-5-5z"/><path fill="#297" d="M752 329l5 4l-3 3l-6-4z"/><path fill="#197" d="M757 333l6 5l-3-1l-6-1z"/><path fill="#176" d="M763 338l5 0l-3 0l-5-1z"/><path fill="#175" d="M768 338l6-2l-3 0l-6 2z"/><path fill="#297" d="M774 336l6 4l-4 0l-5-4z"/><path fill="#187" d="M780 340l5 2l-3 1l-6-3z"/><path fill="#186" d="M785 342l6-3l-3 3l-6 1z"/><path fill="#296" d="M791 339l5-2l-3 6l-5-1z"/><path fill="#297" d="M796 337l6 4l-3 7l-6-5z"/><path fill="#199" d="M802 341l6 7l-4 4l-5-4z"/><path fill="#29a" d="M808 348l5 9l-3 1l-6-6z"/><path fill="#28a" d="M813 357l6-1l-3 4l-6-2z"/><path fill="#178" d="M819 356l5-6l-3 2l-5 8z"/><path fill="#188" d="M824 350l6 3l-3-1l-6 0z"/><path fill="#177" d="M830 353l6-4l-4 3l-5 0z"/><path fill="#187" d="M836 349l5-1l-3 4l-6 0z"/><path fill="#285" d="M474 285l6 0l-3 2l-6 1z"/><path fill="#384" d="M480 285l6-3l-4 3l-5 2z"/><path fill="#5a4" d="M486 282l5-1l-3 5l-6-1z"/><path fill="#3a6" d="M491 281l6 8l-3 3l-6-6z"/><path fill="#297" d="M497 289l5 3l-3 3l-5-3zM502 292l6 1l-3 2l-6 0z"/><path fill="#186" d="M508 293l6 0l-4 2l-5 0z"/><path fill="#198" d="M514 293l5 9l-3 0l-6-7z"/><path fill="#188" d="M519 302l6 3l-4-2l-5-1z"/><path fill="#177" d="M525 305l5 0l-3-2l-6 0z"/><path fill="#176" d="M530 305l6-4l-3 1l-6 1zM536 301l5-2l-3 2l-5 1z"/><path fill="#297" d="M541 299l6-2l-3 7l-6-3zM547 297l6 1l-4 6l-5 0zM553 298l5 1l-3 7l-6-2zM558 299l6 4l-3 4l-6-1z"/><path fill="#197" d="M564 303l5 1l-3 4l-5-1z"/><path fill="#175" d="M569 304l6-1l-3 1l-6 4z"/><path fill="#285" d="M575 303l6-1l-4 1l-5 1z"/><path fill="#384" d="M581 302l5-2l-3 3l-6 0z"/><path fill="#593" d="M586 300l6-1l-3 3l-6 1z"/><path fill="#5b5" d="M592 299l5 5l-3 3l-5-5z"/><path fill="#296" d="M597 304l6 5l-3 1l-6-3z"/><path fill="#275" d="M603 309l6-2l-4 1l-5 2z"/><path fill="#383" d="M609 307l5-2l-3 1l-6 2z"/><path fill="#593" d="M614 305l6 1l-3 2l-6-2z"/><path fill="#5a4" d="M620 306l5 0l-3 5l-5-3z"/><path fill="#4a5" d="M625 306l6 4l-3 6l-6-5z"/><path fill="#296" d="M631 310l6 4l-4 4l-5-2z"/><path fill="#297" d="M637 314l5 3l-3 5l-6-4zM642 317l6 0l-3 5l-6 0z"/><path fill="#198" d="M648 317l5 4l-3 7l-5-6z"/><path fill="#199" d="M653 321l6 1l-3 8l-6-2z"/><path fill="#198" d="M659 322l6-2l-4 6l-5 4z"/><path fill="#297" d="M665 320l5-3l-3 8l-6 1zM670 317l6 3l-3 7l-6-2z"/><path fill="#296" d="M676 320l5 0l-3 5l-5 2zM681 320l6 1l-3 3l-6 1z"/><path fill="#385" d="M687 321l6 0l-4 2l-5 1z"/><path fill="#494" d="M693 321l5-3l-3 4l-6 1z"/><path fill="#6b3" d="M698 318l6 1l-3 4l-6-1z"/><path fill="#6b4" d="M704 319l5 2l-3 3l-5-1z"/><path fill="#5a4" d="M709 321l6 4l-3 2l-6-3z"/><path fill="#296" d="M715 325l6 5l-4 0l-5-3zM721 330l5 0l-3 4l-6-4z"/><path fill="#285" d="M726 330l6-3l-3 5l-6 2z"/><path fill="#494" d="M732 327l5-1l-3 4l-5 2z"/><path fill="#5b4" d="M737 326l6 1l-3 4l-6-1z"/><path fill="#4a5" d="M743 327l5 5l-3 5l-5-6z"/><path fill="#297" d="M748 332l6 4l-3 4l-6-3z"/><path fill="#286" d="M754 336l6 1l-4 2l-5 1z"/><path fill="#285" d="M760 337l5 1l-3 1l-6 0zM765 338l6-2l-3 3l-6 0zM771 336l5 4l-3-1l-5 0z"/><path fill="#296" d="M776 340l6 3l-3 2l-6-6z"/><path fill="#297" d="M782 343l6-1l-4 6l-5-3z"/><path fill="#198" d="M788 342l5 1l-3 10l-6-5z"/><path fill="#199" d="M793 343l6 5l-3 11l-6-6zM799 348l5 4l-3 1l-5 6z"/><path fill="#188" d="M804 352l6 6l-3-5l-6 0zM810 358l6 2l-4 1l-5-8z"/><path fill="#177" d="M816 360l5-8l-3 4l-6 5z"/><path fill="#187" d="M821 352l6 0l-3 2l-6 2z"/><path fill="#186" d="M827 352l5 0l-3 2l-5 0z"/><path fill="#187" d="M832 352l6 0l-3 3l-6-1z"/><path fill="#297" d="M471 288l6-1l-3 6l-6 4z"/><path fill="#395" d="M477 287l5-2l-3 4l-5 4z"/><path fill="#5a4" d="M482 285l6 1l-3 5l-6-2z"/><path fill="#3a5" d="M488 286l6 6l-4 3l-5-4z"/><path fill="#297" d="M494 292l5 3l-3 5l-6-5z"/><path fill="#286" d="M499 295l6 0l-3 3l-6 2z"/><path fill="#296" d="M505 295l5 0l-3 5l-5-2z"/><path fill="#298" d="M510 295l6 7l-3 3l-6-5z"/><path fill="#176" d="M516 302l5 1l-3 0l-5 2zM521 303l6 0l-3 0l-6 0z"/><path fill="#187" d="M527 303l6-1l-4 4l-5-3z"/><path fill="#186" d="M533 302l5-1l-3 2l-6 3z"/><path fill="#297" d="M538 301l6 3l-3 3l-6-4zM544 304l5 0l-3 6l-5-3z"/><path fill="#198" d="M549 304l6 2l-3 6l-6-2zM555 306l6 1l-4 8l-5-3zM561 307l5 1l-3 5l-6 2z"/><path fill="#285" d="M566 308l6-4l-3 2l-6 7z"/><path fill="#494" d="M572 304l5-1l-3 2l-5 1z"/><path fill="#5a4" d="M577 303l6 0l-3 5l-6-3z"/><path fill="#5b4" d="M583 303l6-1l-4 7l-5-1z"/><path fill="#5b5" d="M589 302l5 5l-3 5l-6-3z"/><path fill="#3a5" d="M594 307l6 3l-3 2l-6 0z"/><path fill="#384" d="M600 310l5-2l-3 3l-5 1z"/><path fill="#582" d="M605 308l6-2l-3 0l-6 5z"/><path fill="#8c3" d="M611 306l6 2l-4 3l-5-5z"/><path fill="#5b4" d="M617 308l5 3l-3 7l-6-7z"/><path fill="#296" d="M622 311l6 5l-3 7l-6-5z"/><path fill="#297" d="M628 316l5 2l-3 9l-5-4z"/><path fill="#198" d="M633 318l6 4l-3 7l-6-2zM639 322l6 0l-4 6l-5 1zM645 322l5 6l-3 1l-6-1zM650 328l6 2l-3 2l-6-3z"/><path fill="#199" d="M656 330l5-4l-3 11l-5-5zM661 326l6-1l-3 12l-6 0z"/><path fill="#198" d="M667 325l6 2l-4 7l-5 3z"/><path fill="#297" d="M673 327l5-2l-3 7l-6 2z"/><path fill="#296" d="M678 325l6-1l-3 5l-6 3z"/><path fill="#395" d="M684 324l5-1l-3 5l-5 1z"/><path fill="#5a4" d="M689 323l6-1l-3 5l-6 1z"/><path fill="#6b4" d="M695 322l6 1l-4 6l-5-2zM701 323l5 1l-3 5l-6 0z"/><path fill="#5b4" d="M706 324l6 3l-3 5l-6-3z"/><path fill="#3a6" d="M712 327l5 3l-3 6l-5-4z"/><path fill="#297" d="M717 330l6 4l-3 6l-6-4z"/><path fill="#296" d="M723 334l6-2l-4 6l-5 2z"/><path fill="#395" d="M729 332l5-2l-3 5l-6 3z"/><path fill="#5b5" d="M734 330l6 1l-4 7l-5-3z"/><path fill="#3a6" d="M740 331l5 6l-3 6l-6-5z"/><path fill="#297" d="M745 337l6 3l-3 7l-6-4zM751 340l5-1l-3 7l-5 1z"/><path fill="#296" d="M756 339l6 0l-3 5l-6 2zM762 339l6 0l-4 5l-5 0z"/><path fill="#395" d="M768 339l5 0l-3 3l-6 2z"/><path fill="#3a6" d="M773 339l6 6l-3 1l-6-4z"/><path fill="#297" d="M779 345l5 3l-3 4l-5-6z"/><path fill="#199" d="M784 348l6 5l-3 6l-6-7z"/><path fill="#29a" d="M790 353l6 6l-4 4l-5-4z"/><path fill="#188" d="M796 359l5-6l-3 5l-6 5z"/><path fill="#187" d="M801 353l6 0l-3 3l-6 2z"/><path fill="#198" d="M807 353l5 8l-3-2l-5-3z"/><path fill="#166" d="M812 361l6-5l-3 0l-6 3z"/><path fill="#175" d="M818 356l6-2l-4 0l-5 2z"/><path fill="#286" d="M824 354l5 0l-3 2l-6-2zM829 354l6 1l-3 2l-6-1z"/><path fill="#373" d="M468 297l6-4l-4-6l-5 0z"/><path fill="#483" d="M474 293l5-4l-3 0l-6-2z"/><path fill="#593" d="M479 289l6 2l-3-1l-6-1z"/><path fill="#5a4" d="M485 291l5 4l-3 0l-5-5z"/><path fill="#295" d="M490 295l6 5l-3-1l-6-4z"/><path fill="#275" d="M496 300l6-2l-4 1l-5 0z"/><path fill="#297" d="M502 298l5 2l-3 6l-6-7z"/><path fill="#298" d="M507 300l6 5l-4 2l-5-1z"/><path fill="#175" d="M513 305l5-2l-3 0l-6 4z"/><path fill="#285" d="M518 303l6 0l-3 0l-6 0z"/><path fill="#286" d="M524 303l5 3l-3 1l-5-4z"/><path fill="#275" d="M529 306l6-3l-3 2l-6 2z"/><path fill="#296" d="M535 303l6 4l-4 1l-5-3z"/><path fill="#297" d="M541 307l5 3l-3 4l-6-6z"/><path fill="#197" d="M546 310l6 2l-3 3l-6-1z"/><path fill="#187" d="M552 312l5 3l-3-1l-5 1z"/><path fill="#175" d="M557 315l6-2l-3-1l-6 2z"/><path fill="#274" d="M563 313l6-7l-4 0l-5 6z"/><path fill="#593" d="M569 306l5-1l-3 2l-6-1z"/><path fill="#6b4" d="M574 305l6 3l-3 3l-6-4z"/><path fill="#4a5" d="M580 308l5 1l-3 5l-5-3zM585 309l6 3l-3 4l-6-2z"/><path fill="#395" d="M591 312l6 0l-4 2l-5 2z"/><path fill="#483" d="M597 312l5-1l-3 0l-6 3z"/><path fill="#891" d="M602 311l6-5l-3 1l-6 4z"/><path fill="#bc2" d="M608 306l5 5l-3 0l-5-4z"/><path fill="#6a3" d="M613 311l6 7l-3-1l-6-6z"/><path fill="#395" d="M619 318l6 5l-4-2l-5-4z"/><path fill="#285" d="M625 323l5 4l-3-7l-6 1z"/><path fill="#275" d="M630 327l6 2l-3-8l-6-1z"/><path fill="#174" d="M636 329l5-1l-3-9l-5 2z"/><path fill="#274" d="M641 328l6 1l-3-12l-6 2z"/><path fill="#285" d="M647 329l6 3l-4-11l-5-4z"/><path fill="#286" d="M653 332l5 5l-3-11l-6-5z"/><path fill="#175" d="M658 337l6 0l-3-12l-6 1z"/><path fill="#164" d="M664 337l5-3l-3-11l-5 2z"/><path fill="#374" d="M669 334l6-2l-3-9l-6 0z"/><path fill="#483" d="M675 332l6-3l-4-6l-5 0z"/><path fill="#582" d="M681 329l5-1l-3-6l-6 1z"/><path fill="#791" d="M686 328l6-1l-3-7l-6 2z"/><path fill="#9b2" d="M692 327l5 2l-3-5l-5-4z"/><path fill="#7a2" d="M697 329l6 0l-3-4l-6-1zM703 329l6 3l-4-6l-5-1z"/><path fill="#6a3" d="M709 332l5 4l-3-5l-6-5z"/><path fill="#395" d="M714 336l6 4l-3-2l-6-7z"/><path fill="#274" d="M720 340l5-2l-3 0l-5 0z"/><path fill="#384" d="M725 338l6-3l-3 2l-6 1z"/><path fill="#4a4" d="M731 335l5 3l-3 1l-5-2z"/><path fill="#3a6" d="M736 338l6 5l-3 1l-6-5z"/><path fill="#297" d="M742 343l6 4l-4 2l-5-5z"/><path fill="#197" d="M748 347l5-1l-3 6l-6-3z"/><path fill="#186" d="M753 346l6-2l-3 4l-6 4z"/><path fill="#285" d="M759 344l5 0l-3 2l-5 2z"/><path fill="#494" d="M764 344l6-2l-3 4l-6 0z"/><path fill="#4a5" d="M770 342l6 4l-4 3l-5-3z"/><path fill="#297" d="M776 346l5 6l-3 1l-6-4z"/><path fill="#187" d="M781 352l6 7l-3-3l-6-3z"/><path fill="#188" d="M787 359l5 4l-3-3l-5-4z"/><path fill="#177" d="M792 363l6-5l-3 3l-6-1z"/><path fill="#176" d="M798 358l6-2l-4 1l-5 4zM804 356l5 3l-3-2l-6 0z"/><path fill="#164" d="M809 359l6-3l-3-2l-6 3z"/><path fill="#274" d="M815 356l5-2l-3 1l-5-1z"/><path fill="#395" d="M820 354l6 2l-3 2l-6-3z"/><path fill="#296" d="M826 356l6 1l-4 5l-5-4z"/><path fill="#d11" d="M465 287l5 0l-2-44l-5-16z"/><path fill="#ed0" d="M470 287l6 2l-2-25l-6-21zM476 289l6 1l-2-16l-6-10z"/><path fill="#dd1" d="M482 290l5 5l-2-12l-5-9z"/><path fill="#ac2" d="M487 295l6 4l-2-11l-6-5z"/><path fill="#7a2" d="M493 299l5 0l-2-9l-5-2z"/><path fill="#5a4" d="M498 299l6 7l-2-8l-6-8z"/><path fill="#384" d="M504 306l5 1l-1-9l-6 0z"/><path fill="#473" d="M509 307l6-4l-2-8l-5 3z"/><path fill="#692" d="M515 303l6 0l-2-7l-6-1z"/><path fill="#6a3" d="M521 303l5 4l-2-9l-5-2z"/><path fill="#582" d="M526 307l6-2l-2-9l-6 2z"/><path fill="#7a2" d="M532 305l5 3l-1-9l-6-3z"/><path fill="#4a4" d="M537 308l6 6l-2-9l-5-6z"/><path fill="#284" d="M543 314l6 1l-2-9l-6-1z"/><path fill="#373" d="M549 315l5-1l-2-12l-5 4z"/><path fill="#483" d="M554 314l6-2l-2-11l-6 1z"/><path fill="#891" d="M560 312l5-6l-1-9l-6 4z"/><path fill="#cc1" d="M565 306l6 1l-2-7l-5-3z"/><path fill="#bb1" d="M571 307l6 4l-2-9l-6-2z"/><path fill="#9a1" d="M577 311l5 3l-2-11l-5-1z"/><path fill="#9a2" d="M582 314l6 2l-2-14l-6 1z"/><path fill="#991" d="M588 316l5-2l-1-18l-6 6z"/><path fill="#a90" d="M593 314l6-3l-2-18l-5 3zM599 311l6-4l-2-21l-6 7z"/><path fill="#db0" d="M605 307l5 4l-2-26l-5 1z"/><path fill="#ec0" d="M610 311l6 6l-2-30l-6-2z"/><path fill="#cb0" d="M616 317l5 4l-2-35l-5 1z"/><path fill="#ba0" d="M621 321l6-1l-2-36l-6 2z"/><path fill="#cb0" d="M627 320l6 1l-2-37l-6 0z"/><path fill="#a90" d="M633 321l5-2l-2-39l-5 4z"/><path fill="#b50" d="M638 319l6-2l-2-40l-6 3z"/><path fill="#c30" d="M644 317l5 4l-2-44l-5 0z"/><path fill="#eb0" d="M649 321l6 5l-2-41l-6-8z"/><path fill="#cb0" d="M655 326l6-1l-2-39l-6-1z"/><path fill="#ba0" d="M661 325l5-2l-2-37l-5 0z"/><path fill="#c70" d="M666 323l6 0l-2-38l-6 1z"/><path fill="#c50" d="M672 323l5 0l-2-37l-5-1z"/><path fill="#b40" d="M677 323l6-1l-2-35l-6-1z"/><path fill="#a11" d="M683 322l6-2l-2-35l-6 2z"/><path fill="#d21" d="M689 320l5 4l-2-34l-5-5z"/><path fill="#d50" d="M694 324l6 1l-2-32l-6-3z"/><path fill="#d70" d="M700 325l5 1l-2-30l-5-3z"/><path fill="#ed0" d="M705 326l6 5l-2-27l-6-8zM711 331l6 7l-2-24l-6-10z"/><path fill="#cc0" d="M717 338l5 0l-2-20l-5-4z"/><path fill="#bb0" d="M722 338l6-1l-2-17l-6-2z"/><path fill="#dc1" d="M728 337l5 2l-2-15l-5-4z"/><path fill="#cc1" d="M733 339l6 5l-2-13l-6-7z"/><path fill="#7a3" d="M739 344l5 5l-1-15l-6-3z"/><path fill="#4a4" d="M744 349l6 3l-2-11l-5-7z"/><path fill="#373" d="M750 352l6-4l-2-9l-6 2z"/><path fill="#582" d="M756 348l5-2l-2-9l-5 2z"/><path fill="#7a2" d="M761 346l6 0l-2-6l-6-3zM767 346l5 3l-1-7l-6-2z"/><path fill="#5a3" d="M772 349l6 4l-2-8l-5-3z"/><path fill="#484" d="M778 353l6 3l-2-10l-6-1z"/><path fill="#395" d="M784 356l5 4l-2-10l-5-4z"/><path fill="#285" d="M789 360l6 1l-2-9l-6-2z"/><path fill="#274" d="M795 361l5-4l-1-9l-6 4z"/><path fill="#483" d="M800 357l6 0l-2-10l-5 1z"/><path fill="#682" d="M806 357l6-3l-2-8l-6 1z"/><path fill="#8a2" d="M812 354l5 1l-2-8l-5-1z"/><path fill="#8b2" d="M817 355l6 3l-2-7l-6-4z"/><path fill="#5a4" d="M823 358l5 4l-1-5l-6-6z"/><path fill="#801" d="M463 227l5 16l-1-48l-6-35z"/><path fill="#911" d="M468 243l6 21l-1-27l-6-42z"/><path fill="#c11" d="M474 264l6 10l-2-18l-5-19z"/><path fill="#e40" d="M480 274l5 9l-1-12l-6-15z"/><path fill="#ed0" d="M485 283l6 5l-2-12l-5-5z"/><path fill="#cc0" d="M491 288l5 2l-1-11l-6-3z"/><path fill="#ed0" d="M496 290l6 8l-1-11l-6-8z"/><path fill="#ba0" d="M502 298l6 0l-2-13l-5 2zM508 298l5-3l-1-9l-6-1z"/><path fill="#cb0" d="M513 295l6 1l-2-8l-5-2zM519 296l5 2l-1-10l-6 0z"/><path fill="#ba0" d="M524 298l6-2l-2-9l-5 1z"/><path fill="#dc0" d="M530 296l6 3l-2-10l-6-2z"/><path fill="#dd1" d="M536 299l5 6l-1-12l-6-4z"/><path fill="#cb1" d="M541 305l6 1l-2-11l-5-2z"/><path fill="#a90" d="M547 306l5-4l-1-12l-6 5z"/><path fill="#ba0" d="M552 302l6-1l-2-11l-5 0z"/><path fill="#a90" d="M558 301l6-4l-2-10l-6 3z"/><path fill="#ed0" d="M564 297l5 3l-1-7l-6-6z"/><path fill="#cb0" d="M569 300l6 2l-2-10l-5 1z"/><path fill="#ba0" d="M575 302l5 1l-1-15l-6 4z"/><path fill="#a90" d="M580 303l6-1l-2-19l-5 5z"/><path fill="#a10" d="M586 302l6-6l-2-22l-6 9z"/><path fill="#911" d="M592 296l5-3l-1-22l-6 3z"/><path fill="#900" d="M597 293l6-7l-2-24l-5 9z"/><path fill="#800" d="M603 286l5-1l-1-31l-6 8z"/><path fill="#901" d="M608 285l6 2l-2-34l-5 1z"/><path fill="#700" d="M614 287l5-1l-1-40l-6 7z"/><path fill="#701" d="M619 286l6-2l-1-40l-6 2z"/><path fill="#801" d="M625 284l6 0l-2-41l-5 1z"/><path fill="#700" d="M631 284l5-4l-1-42l-6 5z"/><path fill="#600" d="M636 280l6-3l-2-42l-5 3zM642 277l5 0l-1-49l-6 7z"/><path fill="#901" d="M647 277l6 8l-1-44l-6-13z"/><path fill="#801" d="M653 285l6 1l-2-40l-5-5zM659 286l5 0l-1-38l-6-2z"/><path fill="#700" d="M664 286l6-1l-2-41l-5 4z"/><path fill="#801" d="M670 285l5 1l-1-40l-6-2zM675 286l6 1l-1-37l-6-4z"/><path fill="#600" d="M681 287l6-2l-2-38l-5 3z"/><path fill="#901" d="M687 285l5 5l-1-37l-6-6zM692 290l6 3l-2-36l-5-4z"/><path fill="#911" d="M698 293l5 3l-1-33l-6-6z"/><path fill="#a11" d="M703 296l6 8l-1-30l-6-11z"/><path fill="#b11" d="M709 304l6 10l-2-26l-5-14z"/><path fill="#c11" d="M715 314l5 4l-1-22l-6-8zM720 318l6 2l-2-20l-5-4z"/><path fill="#d11" d="M726 320l5 4l-1-18l-6-6z"/><path fill="#e90" d="M731 324l6 7l-1-16l-6-9z"/><path fill="#dc0" d="M737 331l6 3l-2-18l-5-1z"/><path fill="#ed0" d="M743 334l5 7l-1-15l-6-10z"/><path fill="#bb0" d="M748 341l6-2l-2-11l-5-2z"/><path fill="#ba0" d="M754 339l5-2l-1-10l-6 1z"/><path fill="#dc0" d="M759 337l6 3l-2-9l-5-4z"/><path fill="#cb0" d="M765 340l6 2l-2-10l-6-1z"/><path fill="#dc1" d="M771 342l5 3l-1-9l-6-4z"/><path fill="#bb0" d="M776 345l6 1l-2-10l-5 0z"/><path fill="#dc1" d="M782 346l5 4l-1-12l-6-2z"/><path fill="#cc1" d="M787 350l6 2l-2-12l-5-2z"/><path fill="#a90" d="M793 352l6-4l-2-10l-6 2z"/><path fill="#ba0" d="M799 348l5-1l-1-9l-6 0z"/><path fill="#aa0" d="M804 347l6-1l-2-10l-5 2z"/><path fill="#cb0" d="M810 346l5 1l-1-9l-6-2z"/><path fill="#dd0" d="M815 347l6 4l-2-8l-5-5z"/><path fill="#dd1" d="M821 351l6 6l-2-8l-6-6z"/><path fill="#601" d="M461 160l6 35l-1-18l-6-43z"/><path fill="#801" d="M467 195l6 42l-2-9l-5-51z"/><path fill="#a11" d="M473 237l5 19l-1-5l-6-23z"/><path fill="#c11" d="M478 256l6 15l-2-4l-5-16z"/><path fill="#d11" d="M484 271l5 5l-1-3l-6-6z"/><path fill="#d60" d="M489 276l6 3l-1-3l-6-3z"/><path fill="#ed0" d="M495 279l6 8l-2-4l-5-7z"/><path fill="#ba0" d="M501 287l5-2l-1-4l-6 2z"/><path fill="#cb0" d="M506 285l6 1l-2-4l-5-1z"/><path fill="#dc0" d="M512 286l5 2l-1-3l-6-3z"/><path fill="#cb0" d="M517 288l6 0l-1-3l-6 0z"/><path fill="#ba0" d="M523 288l5-1l-1-3l-5 1z"/><path fill="#dc0" d="M528 287l6 2l-1-3l-6-2zM534 289l6 4l-2-5l-5-2zM540 293l5 2l-1-4l-6-3z"/><path fill="#a90" d="M545 295l6-5l-1-4l-6 5z"/><path fill="#c80" d="M551 290l5 0l-1-3l-5-1z"/><path fill="#a40" d="M556 290l6-3l-1-2l-6 2z"/><path fill="#e60" d="M562 287l6 6l-2-2l-5-6z"/><path fill="#b60" d="M568 293l5-1l-1-3l-6 2z"/><path fill="#911" d="M573 292l6-4l-1-4l-6 5zM579 288l5-5l-1-7l-5 8z"/><path fill="#800" d="M584 283l6-9l-1-9l-6 11z"/><path fill="#801" d="M590 274l6-3l-2-8l-5 2z"/><path fill="#700" d="M596 271l5-9l-1-8l-6 9z"/><path fill="#600" d="M601 262l6-8l-1-11l-6 11z"/><path fill="#601" d="M607 254l5-1l-1-13l-5 3z"/><path fill="#600" d="M612 253l6-7l-1-15l-6 9z"/><path fill="#601" d="M618 246l6-2l-2-14l-5 1zM624 244l5-1l-1-15l-6 2z"/><path fill="#500" d="M629 243l6-5l-1-16l-6 6zM635 238l5-3l-1-14l-5 1zM640 235l6-7l-1-17l-6 10z"/><path fill="#701" d="M646 228l6 13l-2-15l-5-15zM652 241l5 5l-1-14l-6-6zM657 246l6 2l-1-14l-6-2z"/><path fill="#500" d="M663 248l5-4l-1-15l-5 5z"/><path fill="#701" d="M668 244l6 2l-1-15l-6-2zM674 246l6 4l-2-13l-5-6z"/><path fill="#500" d="M680 250l5-3l-1-13l-6 3z"/><path fill="#701" d="M685 247l6 6l-2-14l-5-5z"/><path fill="#801" d="M691 253l5 4l-1-13l-6-5zM696 257l6 6l-1-12l-6-7zM702 263l6 11l-2-11l-5-12z"/><path fill="#901" d="M708 274l5 14l-1-10l-6-15z"/><path fill="#a11" d="M713 288l6 8l-2-9l-5-9z"/><path fill="#b11" d="M719 296l5 4l-1-6l-6-7zM724 300l6 6l-1-4l-6-8z"/><path fill="#c11" d="M730 306l6 9l-2-5l-5-8z"/><path fill="#b11" d="M736 315l5 1l-1-7l-6 1z"/><path fill="#d11" d="M741 316l6 10l-2-6l-5-11z"/><path fill="#db0" d="M747 326l5 2l-1-4l-6-4z"/><path fill="#ba0" d="M752 328l6-1l-1-3l-6 0z"/><path fill="#ec0" d="M758 327l5 4l-1-3l-5-4z"/><path fill="#cb0" d="M763 331l6 1l-1-3l-6-1z"/><path fill="#ec0" d="M769 332l6 4l-2-4l-5-3z"/><path fill="#ba0" d="M775 336l5 0l-1-3l-6-1z"/><path fill="#cb0" d="M780 336l6 2l-1-4l-6-1z"/><path fill="#dc0" d="M786 338l5 2l-1-4l-5-2z"/><path fill="#ba0" d="M791 340l6-2l-1-3l-6 1z"/><path fill="#ca0" d="M797 338l6 0l-2-3l-5 0z"/><path fill="#ba0" d="M803 338l5-2l-1-2l-6 1z"/><path fill="#db0" d="M808 336l6 2l-1-2l-6-2z"/><path fill="#ed0" d="M814 338l5 5l-1-3l-5-4zM819 343l6 6l-1-2l-6-7z"/><path fill="#701" d="M460 134l6 43l-1 5l-5-42z"/><path fill="#801" d="M466 177l5 51l0 3l-6-49z"/><path fill="#b11" d="M471 228l6 23l-1 3l-5-23z"/><path fill="#d11" d="M477 251l5 16l0 2l-6-15z"/><path fill="#e11" d="M482 267l6 6l0 1l-6-5z"/><path fill="#f31" d="M488 273l6 3l-1 1l-5-3z"/><path fill="#fb0" d="M494 276l5 7l0 0l-6-6z"/><path fill="#dc0" d="M499 283l6-2l-1 0l-5 2z"/><path fill="#fb0" d="M505 281l5 1l0 1l-6-2z"/><path fill="#fe0" d="M510 282l6 3l0 0l-6-2z"/><path fill="#fd0" d="M516 285l6 0l-1 1l-5-1z"/><path fill="#eb0" d="M522 285l5-1l0 1l-6 1z"/><path fill="#fb0" d="M527 284l6 2l-1 1l-5-2z"/><path fill="#fd0" d="M533 286l5 2l0 1l-6-2z"/><path fill="#fe0" d="M538 288l6 3l0 0l-6-2z"/><path fill="#da0" d="M544 291l6-5l-1 1l-5 4z"/><path fill="#e50" d="M550 286l5 1l0 1l-6-1z"/><path fill="#d21" d="M555 287l6-2l-1 1l-5 2z"/><path fill="#f41" d="M561 285l5 6l0 1l-6-6z"/><path fill="#d50" d="M566 291l6-2l-1 1l-5 2z"/><path fill="#c11" d="M572 289l6-5l-1 1l-6 5zM578 284l5-8l0 1l-6 8z"/><path fill="#a11" d="M583 276l6-11l-1 1l-5 11zM589 265l5-2l0 1l-6 2z"/><path fill="#911" d="M594 263l6-9l-1 2l-5 8z"/><path fill="#901" d="M600 254l6-11l-1 3l-6 10z"/><path fill="#801" d="M606 243l5-3l0 2l-6 4zM611 240l6-9l-1 3l-5 8zM617 231l5-1l0 4l-6 0zM622 230l6-2l-1 3l-5 3zM628 228l6-6l-1 4l-6 5zM634 222l5-1l0 4l-6 1z"/><path fill="#701" d="M639 221l6-10l-1 5l-5 9zM645 211l5 15l0 4l-6-14z"/><path fill="#801" d="M650 226l6 6l-1 4l-5-6zM656 232l6 2l-1 4l-6-2zM662 234l5-5l0 5l-6 4zM667 229l6 2l-1 4l-5-1zM673 231l5 6l0 3l-6-5zM678 237l6-3l-1 3l-5 3zM684 234l5 5l0 3l-6-5zM689 239l6 5l0 3l-6-5zM695 244l6 7l-1 4l-5-8z"/><path fill="#901" d="M701 251l5 12l0 3l-6-11z"/><path fill="#911" d="M706 263l6 15l-1 2l-5-14z"/><path fill="#a11" d="M712 278l5 9l0 1l-6-8z"/><path fill="#b11" d="M717 287l6 7l0 2l-6-8z"/><path fill="#c11" d="M723 294l6 8l-1 3l-5-9z"/><path fill="#d11" d="M729 302l5 8l0 2l-6-7zM734 310l6-1l-1 1l-5 2z"/><path fill="#e11" d="M740 309l5 11l0 0l-6-10z"/><path fill="#f50" d="M745 320l6 4l0 1l-6-5z"/><path fill="#e70" d="M751 324l6 0l-1 1l-5 0z"/><path fill="#fa0" d="M757 324l5 4l0 1l-6-4z"/><path fill="#ec0" d="M762 328l6 1l-1 0l-5 0z"/><path fill="#fe0" d="M768 329l5 3l0 0l-6-3z"/><path fill="#ed0" d="M773 332l6 1l-1 0l-5-1z"/><path fill="#fd0" d="M779 333l6 1l-1 0l-6-1zM785 334l5 2l0 0l-6-2z"/><path fill="#ed0" d="M790 336l6-1l-1 1l-5 0z"/><path fill="#fd0" d="M796 335l5 0l0 1l-6 0z"/><path fill="#e90" d="M801 335l6-1l-1 0l-5 2z"/><path fill="#f80" d="M807 334l6 2l-1 0l-6-2z"/><path fill="#fe0" d="M813 336l5 4l0 1l-6-5zM818 340l6 7l-1 0l-5-6z"/><path fill="#701" d="M460 140l5 42l0 12l-6-39z"/><path fill="#801" d="M465 182l6 49l-1 7l-5-44z"/><path fill="#b11" d="M471 231l5 23l0 4l-6-20z"/><path fill="#d11" d="M476 254l6 15l-1 2l-5-13z"/><path fill="#e11" d="M482 269l6 5l-1 2l-6-5z"/><path fill="#f41" d="M488 274l5 3l0 1l-6-2z"/><path fill="#fc0" d="M493 277l6 6l-1 1l-5-6z"/><path fill="#dc0" d="M499 283l5-2l0 0l-6 3z"/><path fill="#fb0" d="M504 281l6 2l-1 0l-5-2z"/><path fill="#fe0" d="M510 283l6 2l-1 1l-6-3zM516 285l5 1l0 1l-6-1z"/><path fill="#ed0" d="M521 286l6-1l-1 1l-5 1z"/><path fill="#fc0" d="M527 285l5 2l0 1l-6-2z"/><path fill="#fe0" d="M532 287l6 2l-1 0l-5-1zM538 289l6 2l-1 1l-6-3z"/><path fill="#da0" d="M544 291l5-4l0 1l-6 4z"/><path fill="#f50" d="M549 287l6 1l-1 1l-5-1z"/><path fill="#e31" d="M555 288l5-2l0 2l-6 1z"/><path fill="#f50" d="M560 286l6 6l-1 1l-5-5z"/><path fill="#e60" d="M566 292l5-2l0 2l-6 1z"/><path fill="#d11" d="M571 290l6-5l0 3l-6 4zM577 285l6-8l-1 3l-5 8z"/><path fill="#c11" d="M583 277l5-11l0 4l-6 10z"/><path fill="#b11" d="M588 266l6-2l-1 5l-5 1z"/><path fill="#a11" d="M594 264l5-8l0 6l-6 7zM599 256l6-10l0 7l-6 9z"/><path fill="#901" d="M605 246l6-4l-1 7l-5 4zM611 242l5-8l0 7l-6 8z"/><path fill="#801" d="M616 234l6 0l-1 9l-5-2zM622 234l5-3l0 9l-6 3zM627 231l6-5l0 9l-6 5zM633 226l6-1l-1 10l-5 0zM639 225l5-9l0 11l-6 8zM644 216l6 14l-1 10l-5-13zM650 230l5 6l0 9l-6-5zM655 236l6 2l-1 10l-5-3zM661 238l6-4l-1 9l-6 5zM667 234l5 1l0 8l-6 0zM672 235l6 5l-1 8l-5-5zM678 240l5-3l0 8l-6 3zM683 237l6 5l-1 7l-5-4zM689 242l6 5l-1 8l-6-6z"/><path fill="#901" d="M695 247l5 8l0 7l-6-7zM700 255l6 11l-1 6l-5-10z"/><path fill="#a11" d="M706 266l5 14l0 4l-6-12z"/><path fill="#b11" d="M711 280l6 8l-1 4l-5-8z"/><path fill="#c11" d="M717 288l6 8l-1 5l-6-9z"/><path fill="#d11" d="M723 296l5 9l0 4l-6-8z"/><path fill="#e11" d="M728 305l6 7l-1 3l-5-6zM734 312l5-2l0 3l-6 2zM739 310l6 10l-1 1l-5-8z"/><path fill="#f50" d="M745 320l6 5l-1 1l-6-5z"/><path fill="#f80" d="M751 325l5 0l0 1l-6 0z"/><path fill="#fa0" d="M756 325l6 4l-1 0l-5-3z"/><path fill="#fc0" d="M762 329l5 0l0 0l-6 0z"/><path fill="#fe0" d="M767 329l6 3l-1 0l-5-3zM773 332l5 1l0 1l-6-2z"/><path fill="#ed0" d="M778 333l6 1l0 0l-6 0z"/><path fill="#fe0" d="M784 334l6 2l-1 0l-5-2z"/><path fill="#fd0" d="M790 336l5 0l0 1l-6-1z"/><path fill="#fe0" d="M795 336l6 0l-1 1l-5 0z"/><path fill="#eb0" d="M801 336l5-2l0 2l-6 1z"/><path fill="#f90" d="M806 334l6 2l0 1l-6-1z"/><path fill="#fe0" d="M812 336l6 5l-1 1l-5-5zM818 341l5 6l0 0l-6-5z"/><path fill="#701" d="M459 155l6 39l-1 16l-5-32z"/><path fill="#901" d="M465 194l5 44l0 9l-6-37z"/><path fill="#c11" d="M470 238l6 20l-1 6l-5-17z"/><path fill="#e11" d="M476 258l5 13l0 4l-6-11z"/><path fill="#f31" d="M481 271l6 5l0 2l-6-3z"/><path fill="#f60" d="M487 276l6 2l-1 1l-5-1z"/><path fill="#fe0" d="M493 278l5 6l0 1l-6-6z"/><path fill="#dc0" d="M498 284l6-3l-1 1l-5 3z"/><path fill="#fc0" d="M504 281l5 2l0 1l-6-2z"/><path fill="#fe0" d="M509 283l6 3l0 1l-6-3zM515 286l6 1l-1 2l-5-2z"/><path fill="#ed0" d="M521 287l5-1l0 1l-6 2z"/><path fill="#fe0" d="M526 286l6 2l-1 1l-5-2zM532 288l5 1l0 1l-6-1zM537 289l6 3l-1 0l-5-2z"/><path fill="#db0" d="M543 292l6-4l-1 1l-6 3z"/><path fill="#f60" d="M549 288l5 1l0 1l-6-1z"/><path fill="#e50" d="M554 289l6-1l-1 2l-5 0z"/><path fill="#f80" d="M560 288l5 5l0 2l-6-5z"/><path fill="#fa0" d="M565 293l6-1l-1 2l-5 1z"/><path fill="#e31" d="M571 292l6-4l-1 3l-6 3z"/><path fill="#e11" d="M577 288l5-8l0 4l-6 7z"/><path fill="#d11" d="M582 280l6-10l-1 6l-5 8z"/><path fill="#c11" d="M588 270l5-1l0 6l-6 1z"/><path fill="#b11" d="M593 269l6-7l-1 8l-5 5z"/><path fill="#a11" d="M599 262l6-9l-1 10l-6 7zM605 253l5-4l0 10l-6 4z"/><path fill="#901" d="M610 249l6-8l-1 12l-5 6zM616 241l5 2l0 12l-6-2zM621 243l6-3l-1 12l-5 3zM627 240l6-5l-1 14l-6 3z"/><path fill="#801" d="M633 235l5 0l0 14l-6 0zM638 235l6-8l-1 15l-5 7zM644 227l5 13l0 14l-6-12z"/><path fill="#901" d="M649 240l6 5l-1 14l-5-5zM655 245l5 3l0 13l-6-2zM660 248l6-5l0 14l-6 4zM666 243l6 0l-1 13l-5 1zM672 243l5 5l0 12l-6-4zM677 248l6-3l-1 12l-5 3zM683 245l5 4l0 11l-6-3zM688 249l6 6l0 11l-6-6zM694 255l6 7l-1 10l-5-6z"/><path fill="#911" d="M700 262l5 10l0 8l-6-8z"/><path fill="#a11" d="M705 272l6 12l-1 7l-5-11z"/><path fill="#b11" d="M711 284l5 8l0 6l-6-7z"/><path fill="#c11" d="M716 292l6 9l0 7l-6-10z"/><path fill="#d11" d="M722 301l6 8l-1 6l-5-7z"/><path fill="#e11" d="M728 309l5 6l0 4l-6-4zM733 315l6-2l-1 4l-5 2zM739 313l5 8l0 2l-6-6z"/><path fill="#f70" d="M744 321l6 5l0 2l-6-5z"/><path fill="#fa0" d="M750 326l6 0l-1 2l-5 0z"/><path fill="#fc0" d="M756 326l5 3l0 1l-6-2zM761 329l6 0l-1 1l-5 0z"/><path fill="#fe0" d="M767 329l5 3l0 1l-6-3zM772 332l6 2l-1 1l-5-2z"/><path fill="#ed0" d="M778 334l6 0l-1 0l-6 1z"/><path fill="#fe0" d="M784 334l5 2l0 0l-6-2zM789 336l6 1l-1 1l-5-2zM795 337l5 0l0 2l-6-1z"/><path fill="#ec0" d="M800 337l6-1l-1 1l-5 2z"/><path fill="#fa0" d="M806 336l6 1l-1 1l-6-1z"/><path fill="#fe0" d="M812 337l5 5l0 1l-6-5zM817 342l6 5l-1 1l-5-5z"/><path fill="#801" d="M459 178l5 32l0 21l-6-23z"/><path fill="#a11" d="M464 210l6 37l-1 13l-5-29z"/><path fill="#d11" d="M470 247l5 17l0 8l-6-12z"/><path fill="#e11" d="M475 264l6 11l-1 4l-5-7z"/><path fill="#f80" d="M481 275l6 3l-1 3l-6-2z"/><path fill="#fa0" d="M487 278l5 1l0 3l-6-1z"/><path fill="#fe0" d="M492 279l6 6l-1 2l-5-5z"/><path fill="#ec0" d="M498 285l5-3l0 2l-6 3z"/><path fill="#fd0" d="M503 282l6 2l-1 2l-5-2z"/><path fill="#fe0" d="M509 284l6 3l-1 1l-6-2zM515 287l5 2l0 2l-6-3z"/><path fill="#fd0" d="M520 289l6-2l-1 2l-5 2z"/><path fill="#fe0" d="M526 287l5 2l0 2l-6-2zM531 289l6 1l-1 1l-5 0zM537 290l5 2l0 2l-6-3z"/><path fill="#ec0" d="M542 292l6-3l-1 2l-5 3z"/><path fill="#f90" d="M548 289l6 1l-1 2l-6-1z"/><path fill="#f70" d="M554 290l5 0l0 2l-6 0z"/><path fill="#fb0" d="M559 290l6 5l-1 2l-5-5z"/><path fill="#fe0" d="M565 295l5-1l0 3l-6 0z"/><path fill="#f90" d="M570 294l6-3l-1 5l-5 1z"/><path fill="#e11" d="M576 291l6-7l-1 6l-6 6z"/><path fill="#d11" d="M582 284l5-8l0 8l-6 6zM587 276l6-1l-1 9l-5 0z"/><path fill="#c11" d="M593 275l5-5l0 11l-6 3z"/><path fill="#b11" d="M598 270l6-7l-1 13l-5 5zM604 263l6-4l-1 12l-6 5z"/><path fill="#a11" d="M610 259l5-6l0 14l-6 4zM615 253l6 2l-1 16l-5-4zM621 255l5-3l0 17l-6 2z"/><path fill="#911" d="M626 252l6-3l-1 17l-5 3zM632 249l6 0l-1 19l-6-2z"/><path fill="#901" d="M638 249l5-7l0 21l-6 5zM643 242l6 12l-1 18l-5-9z"/><path fill="#a11" d="M649 254l5 5l0 17l-6-4zM654 259l6 2l-1 17l-5-2zM660 261l6-4l-1 17l-6 4z"/><path fill="#911" d="M666 257l5-1l0 17l-6 1zM671 256l6 4l-1 15l-5-2zM677 260l5-3l0 15l-6 3z"/><path fill="#901" d="M682 257l6 3l-1 14l-5-2z"/><path fill="#911" d="M688 260l6 6l-1 15l-6-7z"/><path fill="#a11" d="M694 266l5 6l0 13l-6-4zM699 272l6 8l-1 11l-5-6z"/><path fill="#b11" d="M705 280l5 11l0 9l-6-9z"/><path fill="#c11" d="M710 291l6 7l-1 8l-5-6z"/><path fill="#d11" d="M716 298l6 10l-1 10l-6-12z"/><path fill="#e11" d="M722 308l5 7l0 9l-6-6z"/><path fill="#f50" d="M727 315l6 4l-1 6l-5-1z"/><path fill="#f31" d="M733 319l5-2l0 5l-6 3zM738 317l6 6l-1 3l-5-4z"/><path fill="#fb0" d="M744 323l6 5l-1 2l-6-4z"/><path fill="#fe0" d="M750 328l5 0l0 2l-6 0zM755 328l6 2l-1 2l-5-2z"/><path fill="#fd0" d="M761 330l5 0l0 1l-6 1z"/><path fill="#fe0" d="M766 330l6 3l-1 0l-5-2zM772 333l5 2l0 2l-6-4z"/><path fill="#ed0" d="M777 335l6-1l-1 1l-5 2z"/><path fill="#fe0" d="M783 334l6 2l-1 1l-6-2zM789 336l5 2l0 2l-6-3zM794 338l6 1l-1 2l-5-1z"/><path fill="#fd0" d="M800 339l5-2l0 2l-6 2zM805 337l6 1l-1 2l-5-1z"/><path fill="#fe0" d="M811 338l6 5l-1 2l-6-5zM817 343l5 5l0 1l-6-4z"/><path fill="#a11" d="M458 208l6 23l-1 23l-6-15z"/><path fill="#c11" d="M464 231l5 29l-1 13l-5-19z"/><path fill="#e11" d="M469 260l6 12l-1 8l-6-7z"/><path fill="#fb0" d="M475 272l5 7l0 5l-6-4z"/><path fill="#fe0" d="M480 279l6 2l-1 3l-5 0zM486 281l6 1l-1 2l-6 0zM492 282l5 5l-1 2l-5-5z"/><path fill="#ed0" d="M497 287l6-3l-1 2l-6 3z"/><path fill="#fe0" d="M503 284l5 2l0 2l-6-2zM508 286l6 2l-1 2l-5-2zM514 288l6 3l-1 2l-6-3z"/><path fill="#ed0" d="M520 291l5-2l-1 2l-5 2z"/><path fill="#fe0" d="M525 289l6 2l-1 3l-6-3zM531 291l5 0l0 2l-6 1zM536 291l6 3l-1 2l-5-3z"/><path fill="#ed0" d="M542 294l5-3l0 2l-6 3z"/><path fill="#fc0" d="M547 291l6 1l-1 2l-5-1z"/><path fill="#fb0" d="M553 292l6 0l-1 3l-6-1z"/><path fill="#fe0" d="M559 292l5 5l0 2l-6-4zM564 297l6 0l-1 4l-5-2zM570 297l5-1l0 5l-6 0z"/><path fill="#f70" d="M575 296l6-6l-1 6l-5 5z"/><path fill="#e11" d="M581 290l6-6l-1 9l-6 3zM587 284l5 0l0 10l-6-1zM592 284l6-3l-1 11l-5 2z"/><path fill="#d11" d="M598 281l5-5l0 13l-6 3z"/><path fill="#c11" d="M603 276l6-5l-1 15l-5 3zM609 271l6-4l-1 17l-6 2z"/><path fill="#b11" d="M615 267l5 4l0 17l-6-4zM620 271l6-2l-1 17l-5 2zM626 269l5-3l0 19l-6 1zM631 266l6 2l-1 20l-5-3zM637 268l6-5l-1 21l-6 4zM643 263l5 9l0 19l-6-7zM648 272l6 4l-1 19l-5-4z"/><path fill="#c11" d="M654 276l5 2l0 18l-6-1z"/><path fill="#b11" d="M659 278l6-4l-1 19l-5 3zM665 274l6-1l-1 17l-6 3zM671 273l5 2l-1 17l-5-2zM676 275l6-3l-1 17l-6 3zM682 272l5 2l0 16l-6-1zM687 274l6 7l-1 16l-5-7zM693 281l6 4l-1 15l-6-3z"/><path fill="#c11" d="M699 285l5 6l-1 13l-5-4z"/><path fill="#d11" d="M704 291l6 9l-1 11l-6-7z"/><path fill="#e11" d="M710 300l5 6l0 9l-6-4zM715 306l6 12l-1 8l-5-11z"/><path fill="#fd0" d="M721 318l6 6l-1 6l-6-4z"/><path fill="#fe0" d="M727 324l5 1l-1 6l-5-1zM732 325l6-3l-1 5l-6 4z"/><path fill="#fa0" d="M738 322l5 4l0 4l-6-3z"/><path fill="#fe0" d="M743 326l6 4l-1 3l-5-3zM749 330l6 0l-1 2l-6 1zM755 330l5 2l-1 2l-5-2zM760 332l6-1l-1 2l-6 1zM766 331l5 2l0 2l-6-2zM771 333l6 4l-1 2l-5-4z"/><path fill="#fd0" d="M777 337l5-2l0 2l-6 2z"/><path fill="#fe0" d="M782 335l6 2l-1 2l-5-2zM788 337l6 3l-1 2l-6-3zM794 340l5 1l0 3l-6-2z"/><path fill="#fd0" d="M799 341l6-2l-1 2l-5 3z"/><path fill="#fe0" d="M805 339l5 1l0 2l-6-1zM810 340l6 5l-1 2l-5-5zM816 345l6 4l-1 3l-6-5z"/><path fill="#d11" d="M457 239l6 15l-1 20l-6-6z"/><path fill="#e11" d="M463 254l5 19l0 12l-6-11z"/><path fill="#fe0" d="M468 273l6 7l-1 8l-5-3zM474 280l6 4l-1 5l-6-1zM480 284l5 0l-1 5l-5 0zM485 284l6 0l-1 4l-6 1zM491 284l5 5l0 3l-6-4zM496 289l6-3l-1 4l-5 2zM502 286l6 2l-1 3l-6-1zM508 288l5 2l-1 2l-5-1zM513 290l6 3l-1 2l-6-3z"/><path fill="#fd0" d="M519 293l5-2l0 2l-6 2z"/><path fill="#fe0" d="M524 291l6 3l-1 3l-5-4zM530 294l6-1l-1 4l-6 0zM536 293l5 3l-1 3l-5-2zM541 296l6-3l-1 3l-6 3zM547 293l5 1l0 3l-6-1zM552 294l6 1l-1 3l-5-1zM558 295l6 4l-1 3l-6-4zM564 299l5 2l-1 4l-5-3zM569 301l6 0l-1 6l-6-2zM575 301l5-5l0 8l-6 3z"/><path fill="#fb0" d="M580 296l6-3l-1 10l-5 1z"/><path fill="#f60" d="M586 293l6 1l-1 9l-6 0z"/><path fill="#f41" d="M592 294l5-2l-1 10l-5 1z"/><path fill="#e11" d="M597 292l6-3l-1 12l-6 1zM603 289l5-3l0 14l-6 1zM608 286l6-2l-1 15l-5 1zM614 284l6 4l-1 16l-6-5zM620 288l5-2l-1 17l-5 1zM625 286l6-1l-1 17l-6 1zM631 285l5 3l0 17l-6-3z"/><path fill="#d11" d="M636 288l6-4l-1 19l-5 2z"/><path fill="#e11" d="M642 284l6 7l-1 17l-6-5zM648 291l5 4l-1 17l-5-4zM653 295l6 1l-1 17l-6-1zM659 296l5-3l0 17l-6 3z"/><path fill="#d11" d="M664 293l6-3l-1 16l-5 4zM670 290l5 2l0 14l-6 0zM675 292l6-3l-1 15l-5 2zM681 289l6 1l-1 16l-6-2zM687 290l5 7l-1 15l-5-6zM692 297l6 3l-1 14l-6-2z"/><path fill="#e11" d="M698 300l5 4l0 12l-6-2zM703 304l6 7l-1 10l-5-5z"/><path fill="#f21" d="M709 311l6 4l-1 9l-6-3z"/><path fill="#fe0" d="M715 315l5 11l-1 7l-5-9zM720 326l6 4l-1 5l-6-2zM726 330l5 1l0 5l-6-1zM731 331l6-4l-1 7l-5 2zM737 327l6 3l-1 4l-6 0zM743 330l5 3l-1 3l-5-2zM748 333l6-1l-1 4l-6 0zM754 332l5 2l0 2l-6 0zM759 334l6-1l-1 3l-5 0zM765 333l6 2l-1 2l-6-1zM771 335l5 4l-1 2l-5-4zM776 339l6-2l-1 4l-6 0zM782 337l5 2l0 4l-6-2zM787 339l6 3l-1 4l-5-3zM793 342l6 2l-1 3l-6-1zM799 344l5-3l-1 4l-5 2zM804 341l6 1l-1 4l-6-1zM810 342l5 5l0 4l-6-5zM815 347l6 5l-1 3l-5-4zM456 268l6 6l-1 16l-6-1zM462 274l6 11l-1 10l-6-5z"/><path fill="#ee2" d="M468 285l5 3l-1 8l-5-1z"/><path fill="#fe1" d="M473 288l6 1l-1 5l-6 2z"/><path fill="#fe0" d="M479 289l5 0l-1 5l-5 0zM484 289l6-1l-1 5l-6 1zM490 288l6 4l-1 4l-6-3zM496 292l5-2l-1 5l-5 1zM501 290l6 1l-1 5l-6-1zM507 291l5 1l-1 4l-5 0zM512 292l6 3l-1 4l-6-3zM518 295l6-2l-1 4l-6 2zM524 293l5 4l-1 5l-5-5zM529 297l6 0l-1 5l-6 0zM535 297l5 2l-1 5l-5-2zM540 299l6-3l-1 5l-6 3zM546 296l6 1l-1 4l-6 0zM552 297l5 1l-1 4l-5-1zM557 298l6 4l-1 4l-6-4zM563 302l5 3l-1 5l-5-4z"/><path fill="#fe1" d="M568 305l6 2l-1 7l-6-4z"/><path fill="#fe0" d="M574 307l6-3l-1 7l-6 3zM580 304l5-1l-1 8l-5 0zM585 303l6 0l-1 9l-6-1zM591 303l5-1l-1 8l-5 2zM596 302l6-1l-1 10l-6-1zM602 301l6-1l-1 12l-6-1zM608 300l5-1l-1 13l-5 0zM613 299l6 5l-1 12l-6-4zM619 304l5-1l-1 12l-5 1zM624 303l6-1l-1 14l-6-1zM630 302l6 3l-2 15l-5-4zM636 305l5-2l-1 15l-6 2zM641 303l6 5l-1 14l-6-4zM647 308l5 4l-1 14l-5-4zM652 312l6 1l-1 14l-6-1zM658 313l6-3l-2 13l-5 4z"/><path fill="#fa0" d="M664 310l5-4l-1 13l-6 4z"/><path fill="#f31" d="M669 306l6 0l-1 12l-6 1z"/><path fill="#e11" d="M675 306l5-2l-1 13l-5 1zM680 304l6 2l-1 13l-6-2z"/><path fill="#f31" d="M686 306l5 6l-1 14l-5-7z"/><path fill="#f90" d="M691 312l6 2l-1 12l-6 0z"/><path fill="#fa0" d="M697 314l6 2l-1 11l-6-1z"/><path fill="#fe0" d="M703 316l5 5l-1 10l-5-4zM708 321l6 3l-1 8l-6-1zM714 324l5 9l-1 5l-5-6z"/><path fill="#fe2" d="M719 333l6 2l-1 4l-6-1z"/><path fill="#ee6" d="M725 335l6 1l-1 6l-6-3z"/><path fill="#fe1" d="M731 336l5-2l-1 6l-5 2z"/><path fill="#fe0" d="M736 334l6 0l-1 5l-6 1zM742 334l5 2l-1 5l-5-2zM747 336l6 0l-1 4l-6 1zM753 336l6 0l-1 4l-6 0zM759 336l5 0l-1 4l-5 0zM764 336l6 1l-1 3l-6 0zM770 337l5 4l-1 3l-5-4zM775 341l6 0l-1 5l-6-2zM781 341l6 2l-1 6l-6-3zM787 343l5 3l-1 5l-5-2z"/><path fill="#fe1" d="M792 346l6 1l-1 6l-6-2z"/><path fill="#fe0" d="M798 347l5-2l-1 5l-5 3zM803 345l6 1l-1 5l-6-1zM809 346l6 5l-1 5l-6-5z"/><path fill="#ce6" d="M815 351l5 4l-1 6l-5-5zM455 289l6 1l-1 10l-6 1z"/><path fill="#ce9" d="M461 290l6 5l-2 9l-5-4z"/><path fill="#ad7" d="M467 295l5 1l-1 7l-6 1z"/><path fill="#eff" d="M472 296l6-2l-1 7l-6 2z"/><path fill="#ce6" d="M478 294l5 0l-1 6l-5 1z"/><path fill="#de6" d="M483 294l6-1l-1 6l-6 1z"/><path fill="#ce6" d="M489 293l6 3l-2 7l-5-4zM495 296l5-1l-1 7l-6 1z"/><path fill="#ee4" d="M500 295l6 1l-1 6l-6 0z"/><path fill="#fe0" d="M506 296l5 0l-1 5l-5 1z"/><path fill="#fe1" d="M511 296l6 3l-1 5l-6-3z"/><path fill="#fe0" d="M517 299l6-2l-2 5l-5 2z"/><path fill="#fe4" d="M523 297l5 5l-1 7l-6-7z"/><path fill="#ce7" d="M528 302l6 0l-2 8l-5-1z"/><path fill="#ce6" d="M534 302l5 2l-1 6l-6 0z"/><path fill="#ee2" d="M539 304l6-3l-1 6l-6 3z"/><path fill="#fe0" d="M545 301l6 0l-2 5l-5 1zM551 301l5 1l-1 7l-6-3zM556 302l6 4l-2 6l-5-3z"/><path fill="#ce6" d="M562 306l5 4l-1 7l-6-5z"/><path fill="#be6" d="M567 310l6 4l-1 7l-6-4z"/><path fill="#dea" d="M573 314l6-3l-2 8l-5 2z"/><path fill="#efe" d="M579 311l5 0l-1 7l-6 1z"/><path fill="#ee8" d="M584 311l6 1l-2 6l-5 0z"/><path fill="#fe1" d="M590 312l5-2l-1 6l-6 2z"/><path fill="#fe0" d="M595 310l6 1l-1 7l-6-2zM601 311l6 1l-2 9l-5-3zM607 312l5 0l-1 10l-6-1z"/><path fill="#ee3" d="M612 312l6 4l-2 10l-5-4z"/><path fill="#ee9" d="M618 316l5-1l-1 10l-6 1z"/><path fill="#fe1" d="M623 315l6 1l-1 9l-6 0z"/><path fill="#ee7" d="M629 316l5 4l-1 10l-5-5z"/><path fill="#de5" d="M634 320l6-2l-1 9l-6 3z"/><path fill="#ee5" d="M640 318l6 4l-2 9l-5-4z"/><path fill="#ce6" d="M646 322l5 4l-1 9l-6-4z"/><path fill="#bd7" d="M651 326l6 1l-1 10l-6-2z"/><path fill="#ce6" d="M657 327l5-4l-1 10l-5 4z"/><path fill="#fe0" d="M662 323l6-4l-1 10l-6 4zM668 319l6-1l-2 9l-5 2zM674 318l5-1l-1 10l-6 0zM679 317l6 2l-1 10l-6-2zM685 319l5 7l-1 9l-5-6zM690 326l6 0l-1 9l-6 0zM696 326l6 1l-2 9l-5-1zM702 327l5 4l-1 8l-6-3zM707 331l6 1l-1 6l-6 1z"/><path fill="#ee7" d="M713 332l5 6l-1 4l-5-4z"/><path fill="#ce7" d="M718 338l6 1l-1 3l-6 0z"/><path fill="#deb" d="M724 339l6 3l-2 5l-5-5zM730 342l5-2l-1 7l-6 0z"/><path fill="#ce6" d="M735 340l6-1l-1 6l-6 2z"/><path fill="#de5" d="M741 339l5 2l-1 6l-5-2z"/><path fill="#ee5" d="M746 341l6-1l-1 6l-6 1z"/><path fill="#fe0" d="M752 340l6 0l-2 6l-5 0zM758 340l5 0l-1 6l-6 0zM763 340l6 0l-2 5l-5 1zM769 340l5 4l-1 5l-6-4z"/><path fill="#fe3" d="M774 344l6 2l-1 6l-6-3z"/><path fill="#ce6" d="M780 346l6 3l-2 6l-5-3z"/><path fill="#ce9" d="M786 349l5 2l-1 6l-6-2z"/><path fill="#efe" d="M791 351l6 2l-2 6l-5-2z"/><path fill="#ce6" d="M797 353l5-3l-1 6l-6 3z"/><path fill="#ee4" d="M802 350l6 1l-1 6l-6-1z"/><path fill="#ce6" d="M808 351l6 5l-2 6l-5-5z"/><path fill="#ad7" d="M814 356l5 5l-1 6l-6-5z"/><path fill="#6b8" d="M454 301l6-1l-2 8l-6 1z"/><path fill="#5b8" d="M460 300l5 4l-1 8l-6-4z"/><path fill="#eff" d="M465 304l6-1l-2 9l-5 0zM471 303l6-2l-2 8l-6 3z"/><path fill="#8c7" d="M477 301l5-1l-2 8l-5 1z"/><path fill="#ad7" d="M482 300l6-1l-2 9l-6 0z"/><path fill="#9d7" d="M488 299l5 4l-1 8l-6-3z"/><path fill="#9d8" d="M493 303l6-1l-2 10l-5-1z"/><path fill="#ad7" d="M499 302l6 0l-2 7l-6 3z"/><path fill="#ce6" d="M505 302l5-1l-2 7l-5 1zM510 301l6 3l-2 8l-6-4z"/><path fill="#dea" d="M516 304l5-2l-1 9l-6 1z"/><path fill="#cea" d="M521 302l6 7l-2 9l-5-7z"/><path fill="#8c7" d="M527 309l5 1l-1 11l-6-3zM532 310l6 0l-2 8l-5 3z"/><path fill="#cea" d="M538 310l6-3l-2 7l-6 4z"/><path fill="#deb" d="M544 307l5-1l-1 9l-6-1z"/><path fill="#ce6" d="M549 306l6 3l-2 8l-5-2zM555 309l5 3l-1 8l-6-3z"/><path fill="#9d7" d="M560 312l6 5l-2 9l-5-6z"/><path fill="#ced" d="M566 317l6 4l-2 8l-6-3z"/><path fill="#9da" d="M572 321l5-2l-1 8l-6 2z"/><path fill="#eff" d="M577 319l6-1l-2 8l-5 1z"/><path fill="#ded" d="M583 318l5 0l-1 8l-6 0z"/><path fill="#efe" d="M588 318l6-2l-2 9l-5 1z"/><path fill="#ce6" d="M594 316l6 2l-2 6l-6 1z"/><path fill="#dea" d="M600 318l5 3l-1 6l-6-3z"/><path fill="#eff" d="M605 321l6 1l-2 10l-5-5z"/><path fill="#9d8" d="M611 322l5 4l-1 10l-6-4z"/><path fill="#9d9" d="M616 326l6-1l-2 10l-5 1z"/><path fill="#9d7" d="M622 325l6 0l-2 11l-6-1z"/><path fill="#ad9" d="M628 325l5 5l-1 9l-6-3z"/><path fill="#9d7" d="M633 330l6-3l-2 7l-5 5z"/><path fill="#cea" d="M639 327l5 4l-1 6l-6-3z"/><path fill="#adb" d="M644 331l6 4l-2 8l-5-6z"/><path fill="#5b8" d="M650 335l6 2l-2 9l-6-3z"/><path fill="#adb" d="M656 337l5-4l-2 11l-5 2z"/><path fill="#9d7" d="M661 333l6-4l-2 13l-6 2z"/><path fill="#dec" d="M667 329l5-2l-1 11l-6 4z"/><path fill="#ee5" d="M672 327l6 0l-2 9l-5 2z"/><path fill="#ee3" d="M678 327l6 2l-2 10l-6-3z"/><path fill="#deb" d="M684 329l5 6l-2 9l-5-5z"/><path fill="#bd7" d="M689 335l6 0l-2 10l-6-1z"/><path fill="#ce9" d="M695 335l5 1l-1 10l-6-1z"/><path fill="#eff" d="M700 336l6 3l-2 10l-5-3z"/><path fill="#bd7" d="M706 339l6-1l-2 8l-6 3z"/><path fill="#eff" d="M712 338l5 4l-2 6l-5-2z"/><path fill="#bd7" d="M717 342l6 0l-2 4l-6 2z"/><path fill="#ad7" d="M723 342l5 5l-1 6l-6-7z"/><path fill="#ced" d="M728 347l6 0l-2 11l-5-5z"/><path fill="#8c7" d="M734 347l6-2l-2 9l-6 4z"/><path fill="#bda" d="M740 345l5 2l-2 9l-5-2z"/><path fill="#bd8" d="M745 347l6-1l-2 10l-6 0z"/><path fill="#ce9" d="M751 346l5 0l-1 8l-6 2z"/><path fill="#dea" d="M756 346l6 0l-2 7l-5 1z"/><path fill="#ce6" d="M762 346l5-1l-1 8l-6 0zM767 345l6 4l-2 7l-5-3z"/><path fill="#ce9" d="M773 349l6 3l-2 7l-6-3z"/><path fill="#ad7" d="M779 352l5 3l-1 7l-6-3z"/><path fill="#9d7" d="M784 355l6 2l-2 7l-5-2z"/><path fill="#cec" d="M790 357l5 2l-1 8l-6-3z"/><path fill="#9c7" d="M795 359l6-3l-2 9l-5 2z"/><path fill="#ad7" d="M801 356l6 1l-2 8l-6 0z"/><path fill="#ad9" d="M807 357l5 5l-1 6l-6-3z"/><path fill="#6c8" d="M812 362l6 5l-2 8l-5-7z"/><path fill="#3a9" d="M452 309l6-1l-3 10l-6-1zM458 308l6 4l-3 10l-6-4z"/><path fill="#6ba" d="M464 312l5 0l-3 17l-5-7z"/><path fill="#6bb" d="M469 312l6-3l-3 20l-6 0z"/><path fill="#3a9" d="M475 309l5-1l-3 17l-5 4zM480 308l6 0l-3 17l-6 0zM486 308l6 3l-3 14l-6 0z"/><path fill="#add" d="M492 311l5 1l-3 14l-5-1z"/><path fill="#4b8" d="M497 312l6-3l-3 15l-6 2z"/><path fill="#6b8" d="M503 309l5-1l-3 14l-5 2zM508 308l6 4l-3 13l-6-3z"/><path fill="#ced" d="M514 312l6-1l-3 15l-6-1z"/><path fill="#5b9" d="M520 311l5 7l-3 13l-5-5z"/><path fill="#3a9" d="M525 318l6 3l-3 13l-6-3zM531 321l5-3l-3 12l-5 4z"/><path fill="#6c9" d="M536 318l6-4l-3 14l-6 2z"/><path fill="#adb" d="M542 314l6 1l-3 16l-6-3z"/><path fill="#6c8" d="M548 315l5 2l-3 15l-5-1z"/><path fill="#6b8" d="M553 317l6 3l-3 11l-6 1z"/><path fill="#5b8" d="M559 320l5 6l-3 8l-5-3z"/><path fill="#bdd" d="M564 326l6 3l-3 7l-6-2z"/><path fill="#5b9" d="M570 329l6-2l-3 7l-6 2z"/><path fill="#ced" d="M576 327l5-1l-3 6l-5 2z"/><path fill="#dee" d="M581 326l6 0l-3 6l-6 0z"/><path fill="#adb" d="M587 326l5-1l-3 9l-5-2z"/><path fill="#8c7" d="M592 325l6-1l-3 11l-6-1z"/><path fill="#eff" d="M598 324l6 3l-4 11l-5-3z"/><path fill="#6b9" d="M604 327l5 5l-3 12l-6-6z"/><path fill="#dee" d="M609 332l6 4l-3 11l-6-3z"/><path fill="#3a9" d="M615 336l5-1l-3 11l-5 1z"/><path fill="#4b9" d="M620 335l6 1l-3 11l-6-1z"/><path fill="#3a9" d="M626 336l6 3l-4 10l-5-2z"/><path fill="#4b9" d="M632 339l5-5l-3 14l-6 1z"/><path fill="#5b8" d="M637 334l6 3l-3 14l-6-3z"/><path fill="#cee" d="M643 337l5 6l-3 11l-5-3z"/><path fill="#2a9" d="M648 343l6 3l-3 9l-6-1z"/><path fill="#add" d="M654 346l5-2l-3 12l-5-1z"/><path fill="#3a9" d="M659 344l6-2l-3 16l-6-2z"/><path fill="#4b9" d="M665 342l6-4l-3 18l-6 2z"/><path fill="#7c8" d="M671 338l5-2l-3 16l-5 4z"/><path fill="#ada" d="M676 336l6 3l-3 16l-6-3z"/><path fill="#6c9" d="M682 339l5 5l-3 15l-5-4z"/><path fill="#5b8" d="M687 344l6 1l-3 13l-6 1z"/><path fill="#5b9" d="M693 345l6 1l-3 12l-6 0z"/><path fill="#eff" d="M699 346l5 3l-3 10l-5-1z"/><path fill="#5b8" d="M704 349l6-3l-3 11l-6 2z"/><path fill="#ced" d="M710 346l5 2l-3 9l-5 0z"/><path fill="#cec" d="M715 348l6-2l-3 10l-6 1z"/><path fill="#6c8" d="M721 346l6 7l-3 10l-6-7z"/><path fill="#3a9" d="M727 353l5 5l-3 13l-5-8zM732 358l6-4l-3 18l-6-1z"/><path fill="#9dc" d="M738 354l5 2l-3 16l-5 0z"/><path fill="#cee" d="M743 356l6 0l-3 13l-6 3z"/><path fill="#dee" d="M749 356l6-2l-3 13l-6 2z"/><path fill="#6c8" d="M755 354l5-1l-3 15l-5-1z"/><path fill="#7c8" d="M760 353l6 0l-3 17l-6-2z"/><path fill="#bdc" d="M766 353l5 3l-3 14l-5 0z"/><path fill="#6b8" d="M771 356l6 3l-3 12l-6-1z"/><path fill="#8ca" d="M777 359l6 3l-3 11l-6-2z"/><path fill="#7ca" d="M783 362l5 2l-3 12l-5-3z"/><path fill="#3a9" d="M788 364l6 3l-3 13l-6-4zM794 367l5-2l-3 16l-5-1z"/><path fill="#5b9" d="M799 365l6 0l-3 13l-6 3z"/><path fill="#5b8" d="M805 365l6 3l-3 8l-6 2z"/><path fill="#4b9" d="M811 368l5 7l-3 6l-5-5z"/><path fill="#199" d="M449 317l6 1l-3 10l-6-3z"/><path fill="#299" d="M455 318l6 4l-3 14l-6-8z"/><path fill="#29c" d="M461 322l5 7l-3 16l-5-9z"/><path fill="#26c" d="M466 329l6 0l-3 19l-6-3z"/><path fill="#28c" d="M472 329l5-4l-3 21l-5 2z"/><path fill="#29b" d="M477 325l6 0l-3 17l-6 4z"/><path fill="#299" d="M483 325l6 0l-3 9l-6 8z"/><path fill="#199" d="M489 325l5 1l-3 9l-5-1z"/><path fill="#198" d="M494 326l6-2l-3 8l-6 3z"/><path fill="#3a9" d="M500 324l5-2l-3 7l-5 3zM505 322l6 3l-3 7l-6-3z"/><path fill="#7cb" d="M511 325l6 1l-3 9l-6-3z"/><path fill="#298" d="M517 326l5 5l-3 6l-5-2z"/><path fill="#199" d="M522 331l6 3l-3 4l-6-1zM528 334l5-4l-3 12l-5-4z"/><path fill="#3a9" d="M533 330l6-2l-3 12l-6 2zM539 328l6 3l-4 11l-5-2z"/><path fill="#2a9" d="M545 331l5 1l-3 5l-6 5z"/><path fill="#286" d="M550 332l6-1l-3 2l-6 4z"/><path fill="#296" d="M556 331l5 3l-3 2l-5-3zM561 334l6 2l-3 2l-6-2z"/><path fill="#285" d="M567 336l6-2l-4 2l-5 2z"/><path fill="#494" d="M573 334l5-2l-3 2l-6 2z"/><path fill="#5b4" d="M578 332l6 0l-3 4l-6-2z"/><path fill="#5b6" d="M584 332l5 2l-3 6l-5-4z"/><path fill="#5b8" d="M589 334l6 1l-3 6l-6-1z"/><path fill="#eff" d="M595 335l5 3l-3 10l-5-7z"/><path fill="#2a9" d="M600 338l6 6l-3 9l-6-5z"/><path fill="#198" d="M606 344l6 3l-3 8l-6-2zM612 347l5-1l-3 10l-5-1zM617 346l6 1l-3 8l-6 1zM623 347l5 2l-3 9l-5-3zM628 349l6-1l-3 12l-6-2zM634 348l6 3l-3 12l-6-3z"/><path fill="#199" d="M640 351l5 3l-3 8l-5 1zM645 354l6 1l-3 6l-6 1zM651 355l5 1l-3 7l-5-2zM656 356l6 2l-3 8l-6-3zM662 358l6-2l-3 14l-6-4z"/><path fill="#298" d="M668 356l5-4l-3 11l-5 7z"/><path fill="#9cc" d="M673 352l6 3l-3 11l-6-3z"/><path fill="#198" d="M679 355l5 4l-3 9l-5-2zM684 359l6-1l-3 9l-6 1z"/><path fill="#6bb" d="M690 358l6 0l-3 8l-6 1z"/><path fill="#2a9" d="M696 358l5 1l-3 6l-5 1z"/><path fill="#bdd" d="M701 359l6-2l-3 6l-6 2z"/><path fill="#4b9" d="M707 357l5 0l-3 8l-5-2z"/><path fill="#adc" d="M712 357l6-1l-3 7l-6 2zM718 356l6 7l-3 6l-6-6z"/><path fill="#198" d="M724 363l5 8l-3 10l-5-12z"/><path fill="#299" d="M729 371l6 1l-3 12l-6-3zM735 372l5 0l-3 9l-5 3z"/><path fill="#199" d="M740 372l6-3l-3 10l-6 2z"/><path fill="#4ba" d="M746 369l6-2l-3 13l-6-1z"/><path fill="#2a8" d="M752 367l5 1l-3 15l-5-3z"/><path fill="#198" d="M757 368l6 2l-3 17l-6-4zM763 370l5 0l-3 15l-5 2z"/><path fill="#2a9" d="M768 370l6 1l-3 10l-6 4z"/><path fill="#5ba" d="M774 371l6 2l-4 9l-5-1z"/><path fill="#7cb" d="M780 373l5 3l-3 7l-6-1z"/><path fill="#198" d="M785 376l6 4l-3 7l-6-4z"/><path fill="#199" d="M791 380l5 1l-3 15l-5-9zM796 381l6-3l-3 17l-6 1z"/><path fill="#298" d="M802 378l6-2l-4 11l-5 8z"/><path fill="#2a8" d="M808 376l5 5l-3 10l-6-4z"/><path fill="#299" d="M446 325l6 3l-3 7l-6-5z"/><path fill="#29c" d="M452 328l6 8l-3 10l-6-11z"/><path fill="#13b" d="M458 336l5 9l-3 11l-5-10z"/><path fill="#129" d="M463 345l6 3l-3 13l-6-5zM469 348l5-2l-3 15l-5 0z"/><path fill="#13b" d="M474 346l6-4l-3 8l-6 11z"/><path fill="#28b" d="M480 342l6-8l-4 6l-5 10z"/><path fill="#299" d="M486 334l5 1l-3 4l-6 1z"/><path fill="#188" d="M491 335l6-3l-3 4l-6 3z"/><path fill="#298" d="M497 332l5-3l-3 6l-5 1z"/><path fill="#3aa" d="M502 329l6 3l-3 6l-6-3z"/><path fill="#2a9" d="M508 332l6 3l-4 6l-5-3z"/><path fill="#199" d="M514 335l5 2l-3 3l-6 1z"/><path fill="#198" d="M519 337l6 1l-3 3l-6-1z"/><path fill="#199" d="M525 338l5 4l-3 4l-5-5z"/><path fill="#299" d="M530 342l6-2l-3 8l-6-2z"/><path fill="#199" d="M536 340l5 2l-3 2l-5 4z"/><path fill="#176" d="M541 342l6-5l-3 3l-6 4z"/><path fill="#286" d="M547 337l6-4l-3 5l-6 2z"/><path fill="#5b8" d="M553 333l5 3l-3 4l-5-2z"/><path fill="#296" d="M558 336l6 2l-3 4l-6-2z"/><path fill="#bdd" d="M564 338l5-2l-3 7l-5-1z"/><path fill="#cee" d="M569 336l6-2l-3 11l-6-2z"/><path fill="#eff" d="M575 334l6 2l-3 8l-6 1z"/><path fill="#4a9" d="M581 336l5 4l-3 7l-5-3z"/><path fill="#8cb" d="M586 340l6 1l-3 5l-6 1z"/><path fill="#bed" d="M592 341l5 7l-3 5l-5-7z"/><path fill="#3aa" d="M597 348l6 5l-3 8l-6-8z"/><path fill="#3ab" d="M603 353l6 2l-3 9l-6-3zM609 355l5 1l-3 10l-5-2zM614 356l6-1l-3 14l-6-3zM620 355l5 3l-3 9l-5 2z"/><path fill="#299" d="M625 358l6 2l-3 4l-6 3z"/><path fill="#199" d="M631 360l6 3l-3 2l-6-1zM637 363l5-1l-3 4l-5-1z"/><path fill="#299" d="M642 362l6-1l-3 7l-6-2z"/><path fill="#3aa" d="M648 361l5 2l-3 8l-5-3zM653 363l6 3l-3 6l-6-1z"/><path fill="#29b" d="M659 366l6 4l-3 8l-6-6z"/><path fill="#3ab" d="M665 370l5-7l-3 11l-5 4z"/><path fill="#3aa" d="M670 363l6 3l-3 8l-6 0z"/><path fill="#3ab" d="M676 366l5 2l-3 8l-5-2z"/><path fill="#3aa" d="M681 368l6-1l-3 7l-6 2z"/><path fill="#198" d="M687 367l6-1l-3 4l-6 4z"/><path fill="#187" d="M693 366l5-1l-3 4l-5 1z"/><path fill="#286" d="M698 365l6-2l-3 4l-6 2z"/><path fill="#2a8" d="M704 363l5 2l-3 6l-5-4z"/><path fill="#3a9" d="M709 365l6-2l-3 8l-6 0z"/><path fill="#7cb" d="M715 363l6 6l-4 10l-5-8z"/><path fill="#3aa" d="M721 369l5 12l-3 6l-6-8z"/><path fill="#29c" d="M726 381l6 3l-3 4l-6-1zM732 384l5-3l-3 8l-5-1z"/><path fill="#29b" d="M737 381l6-2l-3 15l-6-5z"/><path fill="#29c" d="M743 379l6 1l-4 18l-5-4zM749 380l5 3l-3 12l-6 3z"/><path fill="#29b" d="M754 383l6 4l-3 4l-6 4z"/><path fill="#29a" d="M760 387l5-2l-3 7l-5-1z"/><path fill="#3aa" d="M765 385l6-4l-3 9l-6 2z"/><path fill="#2a9" d="M771 381l5 1l-3 3l-5 5z"/><path fill="#198" d="M776 382l6 1l-3 3l-6-1z"/><path fill="#199" d="M782 383l6 4l-3 3l-6-4z"/><path fill="#29a" d="M788 387l5 9l-3 2l-5-8z"/><path fill="#28c" d="M793 396l6-1l-3 10l-6-7z"/><path fill="#29b" d="M799 395l5-8l-3 12l-5 6z"/><path fill="#3ab" d="M804 387l6 4l-3 9l-6-1z"/><path fill="#199" d="M443 330l6 5l-3 2l-6-10z"/><path fill="#26c" d="M449 335l6 11l-4 3l-5-12z"/><path fill="#129" d="M455 346l5 10l-3 7l-6-14z"/><path fill="#128" d="M460 356l6 5l-3 6l-6-4z"/><path fill="#127" d="M466 361l5 0l-3 5l-5 1z"/><path fill="#128" d="M471 361l6-11l-3 8l-6 8z"/><path fill="#24c" d="M477 350l5-10l-3 11l-5 7z"/><path fill="#29b" d="M482 340l6-1l-3 6l-6 6z"/><path fill="#199" d="M488 339l6-3l-3 6l-6 3z"/><path fill="#198" d="M494 336l5-1l-3 4l-5 3zM499 335l6 3l-3 3l-6-2zM505 338l5 3l-3 2l-5-2z"/><path fill="#188" d="M510 341l6-1l-3 3l-6 0z"/><path fill="#198" d="M516 340l6 1l-3 3l-6-1z"/><path fill="#199" d="M522 341l5 5l-3 1l-5-3z"/><path fill="#29a" d="M527 346l6 2l-3 5l-6-6z"/><path fill="#177" d="M533 348l5-4l-3 1l-5 8z"/><path fill="#176" d="M538 344l6-4l-3 4l-6 1z"/><path fill="#3a9" d="M544 340l6-2l-3 8l-6-2z"/><path fill="#bdd" d="M550 338l5 2l-3 6l-5 0z"/><path fill="#4ba" d="M555 340l6 2l-3 5l-6-1z"/><path fill="#8cc" d="M561 342l5 1l-3 7l-5-3z"/><path fill="#7cc" d="M566 343l6 2l-3 9l-6-4z"/><path fill="#5bb" d="M572 345l6-1l-3 10l-6 0z"/><path fill="#2a9" d="M578 344l5 3l-3 6l-5 1z"/><path fill="#dee" d="M583 347l6-1l-3 6l-6 1z"/><path fill="#3aa" d="M589 346l5 7l-3 7l-5-8zM594 353l6 8l-3 7l-6-8z"/><path fill="#29c" d="M600 361l6 3l-3 10l-6-6z"/><path fill="#27c" d="M606 364l5 2l-3 8l-5 0z"/><path fill="#26c" d="M611 366l6 3l-3 10l-6-5zM617 369l5-2l-3 11l-5 1z"/><path fill="#29c" d="M622 367l6-3l-3 8l-6 6z"/><path fill="#3ab" d="M628 364l6 1l-3 11l-6-4z"/><path fill="#29b" d="M634 365l5 1l-3 11l-5-1zM639 366l6 2l-3 7l-6 2z"/><path fill="#29c" d="M645 368l5 3l-3 12l-5-8z"/><path fill="#26c" d="M650 371l6 1l-3 17l-6-6z"/><path fill="#24c" d="M656 372l6 6l-4 15l-5-4z"/><path fill="#25c" d="M662 378l5-4l-3 10l-6 9z"/><path fill="#28c" d="M667 374l6 0l-3 10l-6 0z"/><path fill="#29c" d="M673 374l5 2l-3 8l-5 0z"/><path fill="#29b" d="M678 376l6-2l-3 8l-6 2z"/><path fill="#3aa" d="M684 374l6-4l-4 7l-5 5z"/><path fill="#187" d="M690 370l5-1l-3 4l-6 4z"/><path fill="#286" d="M695 369l6-2l-3 4l-6 2z"/><path fill="#5b9" d="M701 367l5 4l-3 6l-5-6z"/><path fill="#3aa" d="M706 371l6 0l-3 9l-6-3zM712 371l5 8l-3 9l-5-8z"/><path fill="#29b" d="M717 379l6 8l-3 6l-6-5z"/><path fill="#27c" d="M723 387l6 1l-3 6l-6-1z"/><path fill="#26c" d="M729 388l5 1l-3 9l-5-4z"/><path fill="#24c" d="M734 389l6 5l-3 13l-6-9z"/><path fill="#12a" d="M740 394l5 4l-3 17l-5-8z"/><path fill="#13a" d="M745 398l6-3l-3 13l-6 7z"/><path fill="#25c" d="M751 395l6-4l-3 8l-6 9z"/><path fill="#29c" d="M757 391l5 1l-3 4l-5 3z"/><path fill="#299" d="M762 392l6-2l-3 5l-6 1z"/><path fill="#3aa" d="M768 390l5-5l-3 8l-5 2zM773 385l6 1l-3 8l-6-1zM779 386l6 4l-3 6l-6-2z"/><path fill="#29a" d="M785 390l5 8l-3 1l-5-3z"/><path fill="#28c" d="M790 398l6 7l-3 1l-6-7z"/><path fill="#26b" d="M796 405l5-6l-3 7l-5 0z"/><path fill="#29b" d="M801 399l6 1l-3 2l-6 4z"/><path fill="#198" d="M440 327l6 10l-3 1l-6-13z"/><path fill="#27c" d="M446 337l5 12l-3 6l-5-17z"/><path fill="#129" d="M451 349l6 14l-3 6l-6-14z"/><path fill="#127" d="M457 363l6 4l-3 2l-6 0z"/><path fill="#116" d="M463 367l5-1l-3-3l-5 6z"/><path fill="#117" d="M468 366l6-8l-3 4l-6 1z"/><path fill="#12a" d="M474 358l5-7l-3 14l-5-3z"/><path fill="#24c" d="M479 351l6-6l-3 14l-6 6z"/><path fill="#29b" d="M485 345l6-3l-3 5l-6 12z"/><path fill="#187" d="M491 342l5-3l-3 2l-5 6z"/><path fill="#199" d="M496 339l6 2l-3 8l-6-8z"/><path fill="#3aa" d="M502 341l5 2l-3 7l-5-1z"/><path fill="#2a9" d="M507 343l6 0l-3 5l-6 2z"/><path fill="#199" d="M513 343l6 1l-3 5l-6-1zM519 344l5 3l-3 4l-5-2z"/><path fill="#29a" d="M524 347l6 6l-3 5l-6-7z"/><path fill="#188" d="M530 353l5-8l-3 4l-5 9z"/><path fill="#197" d="M535 345l6-1l-3 5l-6 0z"/><path fill="#297" d="M541 344l6 2l-3 3l-6 0zM547 346l5 0l-3 4l-5-1z"/><path fill="#2a8" d="M552 346l6 1l-3 5l-6-2z"/><path fill="#3a9" d="M558 347l5 3l-3 6l-5-4z"/><path fill="#2a9" d="M563 350l6 4l-3 6l-6-4z"/><path fill="#198" d="M569 354l6 0l-3 4l-6 2zM575 354l5-1l-3 4l-5 1z"/><path fill="#298" d="M580 353l6-1l-3 6l-6-1z"/><path fill="#2a9" d="M586 352l5 8l-3 6l-5-8z"/><path fill="#29a" d="M591 360l6 8l-3 5l-6-7z"/><path fill="#25c" d="M597 368l6 6l-4 7l-5-8z"/><path fill="#24c" d="M603 374l5 0l-3 6l-6 1z"/><path fill="#13b" d="M608 374l6 5l-3 8l-6-7z"/><path fill="#13a" d="M614 379l5-1l-3 12l-5-3z"/><path fill="#13b" d="M619 378l6-6l-3 13l-6 5z"/><path fill="#24c" d="M625 372l6 4l-4 13l-5-4z"/><path fill="#24b" d="M631 376l5 1l-3 13l-6-1z"/><path fill="#24c" d="M636 377l6-2l-3 14l-6 1z"/><path fill="#24b" d="M642 375l5 8l-3 10l-5-4z"/><path fill="#12a" d="M647 383l6 6l-3 12l-6-8z"/><path fill="#128" d="M653 389l5 4l-3 14l-5-6z"/><path fill="#129" d="M658 393l6-9l-3 13l-6 10z"/><path fill="#13b" d="M664 384l6 0l-3 12l-6 1z"/><path fill="#24c" d="M670 384l5 0l-3 12l-5 0zM675 384l6-2l-3 18l-6-4z"/><path fill="#26c" d="M681 382l5-5l-3 16l-5 7z"/><path fill="#3ab" d="M686 377l6-4l-3 10l-6 10z"/><path fill="#3aa" d="M692 373l6-2l-3 8l-6 4zM698 371l5 6l-3 11l-5-9zM703 377l6 3l-3 10l-6-2z"/><path fill="#29b" d="M709 380l5 8l-3 9l-5-7z"/><path fill="#25c" d="M714 388l6 5l-3 13l-6-9z"/><path fill="#13b" d="M720 393l6 1l-3 14l-6-2zM726 394l5 4l-3 12l-5-2z"/><path fill="#129" d="M731 398l6 9l-3 10l-6-7z"/><path fill="#128" d="M737 407l5 8l-3 6l-5-4z"/><path fill="#127" d="M742 415l6-7l-3 6l-6 7z"/><path fill="#12a" d="M748 408l6-9l-3 8l-6 7z"/><path fill="#26b" d="M754 399l5-3l-3 6l-5 5z"/><path fill="#29c" d="M759 396l6-1l-3 7l-6 0zM765 395l5-2l-3 14l-5-5zM770 393l6 1l-3 13l-6 0z"/><path fill="#29b" d="M776 394l6 2l-3 10l-6 1z"/><path fill="#2ab" d="M782 396l5 3l-3 4l-5 3z"/><path fill="#29c" d="M787 399l6 7l-3 4l-6-7z"/><path fill="#26b" d="M793 406l5 0l-3 2l-5 2z"/><path fill="#28b" d="M798 406l6-4l-3 5l-6 1z"/><path fill="#298" d="M437 325l6 13l-3 7l-6-17z"/><path fill="#26c" d="M443 338l5 17l-3 5l-5-15z"/><path fill="#128" d="M448 355l6 14l-3 3l-6-12z"/><path fill="#117" d="M454 369l6 0l-3 5l-6-2zM460 369l5-6l-3 6l-5 5z"/><path fill="#129" d="M465 363l6-1l-3 6l-6 1zM471 362l5 3l-3 5l-5-2z"/><path fill="#128" d="M476 365l6-6l-3 4l-6 7z"/><path fill="#26b" d="M482 359l6-12l-3 5l-6 11z"/><path fill="#298" d="M488 347l5-6l-3 5l-5 6z"/><path fill="#3aa" d="M493 341l6 8l-3 7l-6-10z"/><path fill="#299" d="M499 349l5 1l-3 3l-5 3zM504 350l6-2l-3 7l-6-2z"/><path fill="#3ab" d="M510 348l6 1l-3 12l-6-6zM516 349l5 2l-3 10l-5 0zM521 351l6 7l-3 4l-6-1z"/><path fill="#188" d="M527 358l5-9l-3 3l-5 10z"/><path fill="#187" d="M532 349l6 0l-3 3l-6 0zM538 349l6 0l-4 3l-5 0z"/><path fill="#298" d="M544 349l5 1l-3 4l-6-2zM549 350l6 2l-3 4l-6-2z"/><path fill="#198" d="M555 352l5 4l-3 3l-5-3zM560 356l6 4l-3-1l-6 0z"/><path fill="#187" d="M566 360l6-2l-4 1l-5 0zM572 358l5-1l-3 2l-6 0zM577 357l6 1l-3 2l-6-1z"/><path fill="#198" d="M583 358l5 8l-3-3l-5-3z"/><path fill="#199" d="M588 366l6 7l-3-2l-6-8z"/><path fill="#26c" d="M594 373l5 8l-3 0l-5-10z"/><path fill="#13b" d="M599 381l6-1l-3 7l-6-6z"/><path fill="#13a" d="M605 380l6 7l-3 6l-6-6z"/><path fill="#129" d="M611 387l5 3l-3 4l-5-1z"/><path fill="#128" d="M616 390l6-5l-3 4l-6 5z"/><path fill="#13a" d="M622 385l5 4l-3 2l-5-2z"/><path fill="#12a" d="M627 389l6 1l-3 5l-6-4zM633 390l6-1l-3 11l-6-5z"/><path fill="#129" d="M639 389l5 4l-3 13l-5-6z"/><path fill="#128" d="M644 393l6 8l-3 10l-6-5z"/><path fill="#117" d="M650 401l5 6l-3 10l-5-6zM655 407l6-10l-3 12l-6 8z"/><path fill="#128" d="M661 397l6-1l-3 11l-6 2z"/><path fill="#129" d="M667 396l5 0l-3 11l-5 0zM672 396l6 4l-3 10l-6-3zM678 400l5-7l-3 12l-5 5z"/><path fill="#25c" d="M683 393l6-10l-3 13l-6 9z"/><path fill="#3ab" d="M689 383l6-4l-3 14l-6 3zM695 379l5 9l-3 7l-5-2z"/><path fill="#29c" d="M700 388l6 2l-3 6l-6-1z"/><path fill="#27c" d="M706 390l5 7l-3 3l-5-4z"/><path fill="#13b" d="M711 397l6 9l-3 5l-6-11z"/><path fill="#129" d="M717 406l6 2l-3 13l-6-10z"/><path fill="#128" d="M723 408l5 2l-3 10l-5 1zM728 410l6 7l-3 8l-6-5z"/><path fill="#117" d="M734 417l5 4l-3 4l-5 0zM739 421l6-7l-3 4l-6 7z"/><path fill="#129" d="M745 414l6-7l-4 7l-5 4z"/><path fill="#14b" d="M751 407l5-5l-3 7l-6 5z"/><path fill="#27c" d="M756 402l6 0l-3 6l-6 1z"/><path fill="#25c" d="M762 402l5 5l-3 10l-5-9z"/><path fill="#13b" d="M767 407l6 0l-3 12l-6-2z"/><path fill="#24c" d="M773 407l6-1l-4 9l-5 4z"/><path fill="#27b" d="M779 406l5-3l-3 4l-6 8z"/><path fill="#28c" d="M784 403l6 7l-3 4l-6-7z"/><path fill="#26b" d="M790 410l5-2l-3 4l-5 2z"/><path fill="#28a" d="M795 408l6-1l-3 1l-6 4z"/><path fill="#298" d="M434 328l6 17l-3 2l-6-14z"/><path fill="#26c" d="M440 345l5 15l-3-3l-5-10z"/><path fill="#129" d="M445 360l6 12l-3-7l-6-8z"/><path fill="#117" d="M451 372l6 2l-4-3l-5-6z"/><path fill="#127" d="M457 374l5-5l-3 9l-6-7z"/><path fill="#128" d="M462 369l6-1l-3 11l-6-1zM468 368l5 2l-3 3l-5 6zM473 370l6-7l-3 2l-6 8z"/><path fill="#25a" d="M479 363l6-11l-4 5l-5 8z"/><path fill="#3ab" d="M485 352l5-6l-3 11l-6 0zM490 346l6 10l-3 6l-6-5z"/><path fill="#29b" d="M496 356l5-3l-3 8l-5 1z"/><path fill="#29c" d="M501 353l6 2l-3 13l-6-7z"/><path fill="#27c" d="M507 355l6 6l-4 9l-5-2z"/><path fill="#26c" d="M513 361l5 0l-3 10l-6-1z"/><path fill="#27c" d="M518 361l6 1l-3 7l-6 2z"/><path fill="#3aa" d="M524 362l5-10l-3 7l-5 10zM529 352l6 0l-3 6l-6 1zM535 352l5 0l-3 8l-5-2zM540 352l6 2l-3 6l-6 0z"/><path fill="#197" d="M546 354l6 2l-3 2l-6 2z"/><path fill="#187" d="M552 356l5 3l-3-1l-5 0zM557 359l6 0l-3 1l-6-2zM563 359l5 0l-3 3l-5-2z"/><path fill="#197" d="M568 359l6 0l-3 4l-6-1z"/><path fill="#187" d="M574 359l6 1l-3 2l-6 1z"/><path fill="#197" d="M580 360l5 3l-3 2l-5-3z"/><path fill="#198" d="M585 363l6 8l-3-3l-6-3z"/><path fill="#299" d="M591 371l5 10l-3-5l-5-8z"/><path fill="#24b" d="M596 381l6 6l-3 1l-6-12z"/><path fill="#129" d="M602 387l6 6l-3-2l-6-3z"/><path fill="#128" d="M608 393l5 1l-3-1l-5-2z"/><path fill="#129" d="M613 394l6-5l-3 6l-6-2z"/><path fill="#13a" d="M619 389l5 2l-3 3l-5 1z"/><path fill="#129" d="M624 391l6 4l-3 0l-6-1zM630 395l6 5l-3 5l-6-10z"/><path fill="#127" d="M636 400l5 6l-3 10l-5-11z"/><path fill="#116" d="M641 406l6 5l-3 11l-6-6zM647 411l5 6l-3 6l-5-1zM652 417l6-8l-3 8l-6 6z"/><path fill="#117" d="M658 409l6-2l-3 9l-6 1z"/><path fill="#127" d="M664 407l5 0l-3 12l-5-3zM669 407l6 3l-3 9l-6 0zM675 410l5-5l-3 8l-5 6z"/><path fill="#129" d="M680 405l6-9l-3 11l-6 6z"/><path fill="#24c" d="M686 396l6-3l-4 12l-5 2z"/><path fill="#25c" d="M692 393l5 2l-3 8l-6 2zM697 395l6 1l-3 9l-6-2z"/><path fill="#24c" d="M703 396l5 4l-3 8l-5-3z"/><path fill="#13a" d="M708 400l6 11l-3 5l-6-8z"/><path fill="#128" d="M714 411l6 10l-4 7l-5-12z"/><path fill="#117" d="M720 421l5-1l-3 4l-6 4zM725 420l6 5l-3-1l-6 0z"/><path fill="#116" d="M731 425l5 0l-3 1l-5-2z"/><path fill="#117" d="M736 425l6-7l-3 6l-6 2z"/><path fill="#128" d="M742 418l5-4l-3 8l-5 2z"/><path fill="#12a" d="M747 414l6-5l-3 6l-6 7z"/><path fill="#24c" d="M753 409l6-1l-3 10l-6-3z"/><path fill="#13b" d="M759 408l5 9l-3 7l-5-6z"/><path fill="#12a" d="M764 417l6 2l-3 3l-6 2z"/><path fill="#129" d="M770 419l5-4l-3 4l-5 3z"/><path fill="#24b" d="M775 415l6-8l-3 10l-6 2z"/><path fill="#26c" d="M781 407l6 7l-3 5l-6-2z"/><path fill="#25b" d="M787 414l5-2l-3 3l-5 4z"/><path fill="#177" d="M792 412l6-4l-3-3l-6 10z"/><path fill="#3aa" d="M431 333l6 14l-3 2l-6-7z"/><path fill="#29b" d="M437 347l5 10l-3-4l-5-4z"/><path fill="#25a" d="M442 357l6 8l-3-10l-6-2z"/><path fill="#13a" d="M448 365l5 6l-3-9l-5-7z"/><path fill="#128" d="M453 371l6 7l-3-3l-6-13z"/><path fill="#117" d="M459 378l6 1l-3 2l-6-6z"/><path fill="#116" d="M465 379l5-6l-3 1l-5 7z"/><path fill="#128" d="M470 373l6-8l-3 6l-6 3z"/><path fill="#24b" d="M476 365l5-8l-3 10l-5 4z"/><path fill="#28c" d="M481 357l6 0l-3 7l-6 3zM487 357l6 5l-3 4l-6-2z"/><path fill="#27c" d="M493 362l5-1l-3 7l-5-2z"/><path fill="#26c" d="M498 361l6 7l-3 4l-6-4z"/><path fill="#24c" d="M504 368l5 2l-3 4l-5-2z"/><path fill="#14b" d="M509 370l6 1l-3 1l-6 2z"/><path fill="#25a" d="M515 371l6-2l-3 0l-6 3z"/><path fill="#178" d="M521 369l5-10l-3 4l-5 6z"/><path fill="#199" d="M526 359l6-1l-3 7l-6-2z"/><path fill="#3aa" d="M532 358l5 2l-3 8l-5-3zM537 360l6 0l-3 10l-6-2zM543 360l6-2l-3 8l-6 4z"/><path fill="#298" d="M549 358l5 0l-3 3l-5 5z"/><path fill="#186" d="M554 358l6 2l-3 0l-6 1z"/><path fill="#297" d="M560 360l5 2l-3 2l-5-4z"/><path fill="#197" d="M565 362l6 1l-3 3l-6-2zM571 363l6-1l-3 4l-6 0z"/><path fill="#297" d="M577 362l5 3l-3 2l-5-1z"/><path fill="#198" d="M582 365l6 3l-3 2l-6-3z"/><path fill="#199" d="M588 368l5 8l-3-2l-5-4z"/><path fill="#28a" d="M593 376l6 12l-3-7l-6-7z"/><path fill="#15a" d="M599 388l6 3l-3-7l-6-3z"/><path fill="#13a" d="M605 391l5 2l-3 0l-5-9zM610 393l6 2l-3 5l-6-7z"/><path fill="#129" d="M616 395l5-1l-3 3l-5 3z"/><path fill="#13a" d="M621 394l6 1l-3 3l-6-1z"/><path fill="#129" d="M627 395l6 10l-4 3l-5-10z"/><path fill="#117" d="M633 405l5 11l-3 3l-6-11z"/><path fill="#116" d="M638 416l6 6l-3 7l-6-10z"/><path fill="#115" d="M644 422l5 1l-3 2l-5 4zM649 423l6-6l-3 1l-6 7z"/><path fill="#116" d="M655 417l6-1l-4 2l-5 0z"/><path fill="#117" d="M661 416l5 3l-3 4l-6-5z"/><path fill="#116" d="M666 419l6 0l-3 4l-6 0zM672 419l5-6l-3 6l-5 4z"/><path fill="#128" d="M677 413l6-6l-3 9l-6 3z"/><path fill="#12a" d="M683 407l5-2l-3 8l-5 3z"/><path fill="#13b" d="M688 405l6-2l-3 8l-6 2zM694 403l6 2l-3 7l-6-1zM700 405l5 3l-3 9l-5-5z"/><path fill="#129" d="M705 408l6 8l-3 1l-6 0z"/><path fill="#128" d="M711 416l5 12l-3-4l-5-7z"/><path fill="#116" d="M716 428l6-4l-3 1l-6-1zM722 424l6 0l-3-3l-6 4z"/><path fill="#117" d="M728 424l5 2l-3-2l-5-3z"/><path fill="#127" d="M733 426l6-2l-3 3l-6-3zM739 424l5-2l-3 2l-5 3z"/><path fill="#128" d="M744 422l6-7l-3 2l-6 7z"/><path fill="#13b" d="M750 415l6 3l-3 2l-6-3z"/><path fill="#12a" d="M756 418l5 6l-3-1l-5-3z"/><path fill="#128" d="M761 424l6-2l-3 1l-6 0z"/><path fill="#139" d="M767 422l5-3l-3 4l-5 0z"/><path fill="#13b" d="M772 419l6-2l-3 8l-6-2z"/><path fill="#14b" d="M778 417l6 2l-3 3l-6 3z"/><path fill="#25a" d="M784 419l5-4l-3 4l-5 3z"/><path fill="#188" d="M789 415l6-10l-3 2l-6 12z"/><path fill="#199" d="M428 342l6 7l-3 3l-6-4zM434 349l5 4l-3 0l-5-1z"/><path fill="#188" d="M439 353l6 2l-3-3l-6 1z"/><path fill="#29b" d="M445 355l5 7l-3-2l-5-8z"/><path fill="#13a" d="M450 362l6 13l-3-4l-6-11z"/><path fill="#128" d="M456 375l6 6l-3-3l-6-7z"/><path fill="#116" d="M462 381l5-7l-3 1l-5 3z"/><path fill="#129" d="M467 374l6-3l-3 6l-6-2z"/><path fill="#13a" d="M473 371l5-4l-3 8l-5 2z"/><path fill="#25b" d="M478 367l6-3l-3 3l-6 8z"/><path fill="#27b" d="M484 364l6 2l-3 1l-6 0zM490 366l5 2l-3 1l-5-2z"/><path fill="#26b" d="M495 368l6 4l-3-3l-6 0z"/><path fill="#25b" d="M501 372l5 2l-3 2l-5-7z"/><path fill="#14b" d="M506 374l6-2l-3 3l-6 1z"/><path fill="#269" d="M512 372l6-3l-3-2l-6 8z"/><path fill="#177" d="M518 369l5-6l-3-1l-5 5z"/><path fill="#198" d="M523 363l6 2l-3 2l-6-5z"/><path fill="#299" d="M529 365l5 3l-3 4l-5-5z"/><path fill="#29a" d="M534 368l6 2l-3 6l-6-4zM540 370l6-4l-3 7l-6 3z"/><path fill="#298" d="M546 366l5-5l-3 5l-5 7z"/><path fill="#297" d="M551 361l6-1l-3 5l-6 1zM557 360l5 4l-3 4l-5-3z"/><path fill="#198" d="M562 364l6 2l-3 5l-6-3z"/><path fill="#3a9" d="M568 366l6 0l-4 6l-5-1z"/><path fill="#2a8" d="M574 366l5 1l-3 5l-6 0z"/><path fill="#198" d="M579 367l6 3l-3 3l-6-1zM585 370l5 4l-3 1l-5-2z"/><path fill="#199" d="M590 374l6 7l-3-1l-6-5zM596 381l6 3l-4 0l-5-4z"/><path fill="#27c" d="M602 384l5 9l-3-4l-6-5z"/><path fill="#13a" d="M607 393l6 7l-3-5l-6-6z"/><path fill="#129" d="M613 400l5-3l-3 0l-5-2z"/><path fill="#13a" d="M618 397l6 1l-3 0l-6-1z"/><path fill="#129" d="M624 398l5 10l-3-8l-5-2z"/><path fill="#128" d="M629 408l6 11l-3-12l-6-7z"/><path fill="#116" d="M635 419l6 10l-3-15l-6-7z"/><path fill="#115" d="M641 429l5-4l-3-8l-5-3zM646 425l6-7l-3-4l-6 3z"/><path fill="#116" d="M652 418l5 0l-3 1l-5-5z"/><path fill="#117" d="M657 418l6 5l-3 2l-6-6z"/><path fill="#116" d="M663 423l6 0l-3 2l-6 0zM669 423l5-4l-3 4l-5 2z"/><path fill="#128" d="M674 419l6-3l-3 9l-6-2zM680 416l5-3l-3 8l-5 4z"/><path fill="#129" d="M685 413l6-2l-3 4l-6 6z"/><path fill="#12a" d="M691 411l6 1l-3 0l-6 3z"/><path fill="#129" d="M697 412l5 5l-3-3l-5-2z"/><path fill="#128" d="M702 417l6 0l-3-5l-6 2z"/><path fill="#129" d="M708 417l5 7l-3-5l-5-7z"/><path fill="#127" d="M713 424l6 1l-3-3l-6-3z"/><path fill="#116" d="M719 425l6-4l-3-4l-6 5z"/><path fill="#128" d="M725 421l5 3l-3-8l-5 1zM730 424l6 3l-3-8l-6-3z"/><path fill="#127" d="M736 427l5-3l-3-8l-5 3z"/><path fill="#138" d="M741 424l6-7l-3 0l-6-1z"/><path fill="#24b" d="M747 417l6 3l-3 3l-6-6z"/><path fill="#13b" d="M753 420l5 3l-3 4l-5-4z"/><path fill="#13a" d="M758 423l6 0l-3 5l-6-1zM764 423l5 0l-3 5l-5 0zM769 423l6 2l-3 1l-6 2z"/><path fill="#139" d="M775 425l6-3l-4-1l-5 5z"/><path fill="#25c" d="M781 422l5-3l-3 10l-6-8z"/><path fill="#29c" d="M786 419l6-12l-3 18l-6 4z"/><path fill="#187" d="M425 348l6 4l-3-2l-6-3z"/><path fill="#188" d="M431 352l5 1l-3 1l-5-4z"/><path fill="#199" d="M436 353l6-1l-3 6l-6-4z"/><path fill="#29a" d="M442 352l5 8l-3 3l-5-5z"/><path fill="#26c" d="M447 360l6 11l-3 0l-6-8z"/><path fill="#12a" d="M453 371l6 7l-3-1l-6-6z"/><path fill="#128" d="M459 378l5-3l-3 0l-5 2z"/><path fill="#12a" d="M464 375l6 2l-3 2l-6-4z"/><path fill="#129" d="M470 377l5-2l-3 5l-5-1z"/><path fill="#14a" d="M475 375l6-8l-3 4l-6 9z"/><path fill="#28a" d="M481 367l6 0l-3 0l-6 4zM487 367l5 2l-3 0l-5-2zM492 369l6 0l-3 1l-6-1z"/><path fill="#28b" d="M498 369l5 7l-3-3l-5-3z"/><path fill="#26a" d="M503 376l6-1l-3-2l-6 0z"/><path fill="#178" d="M509 375l6-8l-4 2l-5 4z"/><path fill="#177" d="M515 367l5-5l-3 3l-6 4z"/><path fill="#198" d="M520 362l6 5l-3 1l-6-3z"/><path fill="#188" d="M526 367l5 5l-3-4l-5 0zM531 372l6 4l-3-5l-6-3z"/><path fill="#177" d="M537 376l6-3l-4-2l-5 0z"/><path fill="#176" d="M543 373l5-7l-3 4l-6 1z"/><path fill="#3a9" d="M548 366l6-1l-3 10l-6-5z"/><path fill="#3aa" d="M554 365l5 3l-3 13l-5-6zM559 368l6 3l-3 10l-6 0zM565 371l5 1l-3 4l-5 5z"/><path fill="#198" d="M570 372l6 0l-3 4l-6 0z"/><path fill="#2a9" d="M576 372l6 1l-3 7l-6-4z"/><path fill="#3aa" d="M582 373l5 2l-3 10l-5-5zM587 375l6 5l-3 8l-6-3z"/><path fill="#29a" d="M593 380l5 4l-3 3l-5 1z"/><path fill="#29b" d="M598 384l6 5l-3 2l-6-4z"/><path fill="#27b" d="M604 389l6 6l-3-2l-6-2z"/><path fill="#25a" d="M610 395l5 2l-3-3l-5-1zM615 397l6 1l-3-3l-6-1z"/><path fill="#15a" d="M621 398l5 2l-3-5l-5 0z"/><path fill="#14b" d="M626 400l6 7l-3-6l-6-6z"/><path fill="#129" d="M632 407l6 7l-3-12l-6-1z"/><path fill="#128" d="M638 414l5 3l-3-8l-5-7z"/><path fill="#127" d="M643 417l6-3l-3-2l-6-3zM649 414l5 5l-3-5l-5-2z"/><path fill="#117" d="M654 419l6 6l-3-9l-6-2z"/><path fill="#116" d="M660 425l6 0l-3-2l-6-7zM666 425l5-2l-3 0l-5 0z"/><path fill="#117" d="M671 423l6 2l-3-1l-6-1z"/><path fill="#116" d="M677 425l5-4l-3-1l-5 4z"/><path fill="#127" d="M682 421l6-6l-3-1l-6 6z"/><path fill="#138" d="M688 415l6-3l-3-6l-6 8z"/><path fill="#15a" d="M694 412l5 2l-3-7l-5-1z"/><path fill="#159" d="M699 414l6-2l-3-3l-6-2z"/><path fill="#24b" d="M705 412l5 7l-3-3l-5-7z"/><path fill="#13a" d="M710 419l6 3l-3-1l-6-5z"/><path fill="#128" d="M716 422l6-5l-4-2l-5 6z"/><path fill="#159" d="M722 417l5-1l-3-5l-6 4z"/><path fill="#26a" d="M727 416l6 3l-3-8l-6 0z"/><path fill="#279" d="M733 419l5-3l-3-5l-5 0z"/><path fill="#28b" d="M738 416l6 1l-3 0l-6-6z"/><path fill="#25c" d="M744 417l6 6l-4 0l-5-6z"/><path fill="#13b" d="M750 423l5 4l-3 2l-6-6z"/><path fill="#129" d="M755 427l6 1l-3 1l-6 0z"/><path fill="#13a" d="M761 428l5 0l-3 6l-5-5zM766 428l6-2l-3 6l-6 2z"/><path fill="#14b" d="M772 426l5-5l-3 7l-5 4z"/><path fill="#24c" d="M777 421l6 8l-3 6l-6-7z"/><path fill="#13b" d="M783 429l6-4l-3 10l-6 0z"/><path fill="#198" d="M422 347l6 3l-3 5l-6-7z"/><path fill="#299" d="M428 350l5 4l-3 7l-5-6z"/><path fill="#3ab" d="M433 354l6 4l-3 10l-6-7z"/><path fill="#29c" d="M439 358l5 5l-3 5l-5 0z"/><path fill="#27c" d="M444 363l6 8l-3 1l-6-4z"/><path fill="#13b" d="M450 371l6 6l-4 0l-5-5z"/><path fill="#13a" d="M456 377l5-2l-3 4l-6-2z"/><path fill="#13b" d="M461 375l6 4l-3 5l-6-5z"/><path fill="#129" d="M467 379l5 1l-3 1l-5 3z"/><path fill="#139" d="M472 380l6-9l-3 0l-6 10z"/><path fill="#28a" d="M478 371l6-4l-4 4l-5 0z"/><path fill="#29a" d="M484 367l5 2l-3 4l-6-2zM489 369l6 1l-3 3l-6 0z"/><path fill="#188" d="M495 370l5 3l-3-3l-5 3zM500 373l6 0l-3-2l-6-1zM506 373l5-4l-3 4l-5-2z"/><path fill="#187" d="M511 369l6-4l-3 3l-6 5zM517 365l6 3l-3 0l-6 0z"/><path fill="#186" d="M523 368l5 0l-3 0l-5 0z"/><path fill="#187" d="M528 368l6 3l-3 0l-6-3z"/><path fill="#188" d="M534 371l5 0l-3 3l-5-3z"/><path fill="#198" d="M539 371l6-1l-3 5l-6-1z"/><path fill="#199" d="M545 370l6 5l-3 5l-6-5z"/><path fill="#299" d="M551 375l5 6l-3 2l-5-3z"/><path fill="#188" d="M556 381l6 0l-3-1l-6 3z"/><path fill="#176" d="M562 381l5-5l-3 0l-5 4z"/><path fill="#187" d="M567 376l6 0l-3 2l-6-2z"/><path fill="#198" d="M573 376l6 4l-3 2l-6-4z"/><path fill="#299" d="M579 380l5 5l-3 4l-5-7z"/><path fill="#29a" d="M584 385l6 3l-3 4l-6-3z"/><path fill="#189" d="M590 388l5-1l-3 2l-5 3z"/><path fill="#29a" d="M595 387l6 4l-3 4l-6-6z"/><path fill="#29c" d="M601 391l6 2l-3 5l-6-3z"/><path fill="#28c" d="M607 393l5 1l-3 3l-5 1z"/><path fill="#29b" d="M612 394l6 1l-3 3l-6-1z"/><path fill="#28b" d="M618 395l5 0l-3 2l-5 1z"/><path fill="#29b" d="M623 395l6 6l-3-2l-6-2z"/><path fill="#26a" d="M629 401l6 1l-3-4l-6 1z"/><path fill="#25b" d="M635 402l5 7l-3-5l-5-6z"/><path fill="#13a" d="M640 409l6 3l-3-4l-6-4z"/><path fill="#129" d="M646 412l5 2l-3-2l-5-4zM651 414l6 2l-3-2l-6-2zM657 416l6 7l-4-3l-5-6z"/><path fill="#116" d="M663 423l5 0l-3-6l-6 3z"/><path fill="#127" d="M668 423l6 1l-3-11l-6 4z"/><path fill="#128" d="M674 424l5-4l-3-6l-5-1z"/><path fill="#138" d="M679 420l6-6l-3 0l-6 0z"/><path fill="#269" d="M685 414l6-8l-4 0l-5 8z"/><path fill="#178" d="M691 406l5 1l-3-3l-6 2z"/><path fill="#188" d="M696 407l6 2l-3-1l-6-4z"/><path fill="#28a" d="M702 409l5 7l-3-6l-5-2z"/><path fill="#26b" d="M707 416l6 5l-3-4l-6-7z"/><path fill="#159" d="M713 421l5-6l-3-1l-5 3z"/><path fill="#178" d="M718 415l6-4l-3-1l-6 4z"/><path fill="#188" d="M724 411l6 0l-3-2l-6 1zM730 411l5 0l-3-1l-5-1z"/><path fill="#199" d="M735 411l6 6l-3-2l-6-5z"/><path fill="#28c" d="M741 417l5 6l-3 1l-5-9z"/><path fill="#24c" d="M746 423l6 6l-3 1l-6-6z"/><path fill="#13a" d="M752 429l6 0l-3 1l-6 0zM758 429l5 5l-3-4l-5 0z"/><path fill="#139" d="M763 434l6-2l-3-1l-6-1z"/><path fill="#13b" d="M769 432l5-4l-3 8l-5-5zM774 428l6 7l-3 7l-6-6z"/><path fill="#129" d="M780 435l6 0l-3-1l-6 8z"/><path fill="#3aa" d="M419 348l6 7l-4 13l-5-11z"/><path fill="#3ab" d="M425 355l5 6l-3 10l-6-3z"/><path fill="#27c" d="M430 361l6 7l-3 9l-6-6z"/><path fill="#25c" d="M436 368l5 0l-3 9l-5 0zM441 368l6 4l-3 6l-6-1z"/><path fill="#24b" d="M447 372l5 5l-3 7l-5-6z"/><path fill="#12a" d="M452 377l6 2l-3 12l-6-7z"/><path fill="#129" d="M458 379l6 5l-3 11l-6-4zM464 384l5-3l-3 2l-5 12z"/><path fill="#159" d="M469 381l6-10l-3-1l-6 13z"/><path fill="#188" d="M475 371l5 0l-3 0l-5-1z"/><path fill="#29a" d="M480 371l6 2l-3 5l-6-7zM486 373l6 0l-3 5l-6 0z"/><path fill="#177" d="M492 373l5-3l-3-1l-5 9z"/><path fill="#176" d="M497 370l6 1l-3-3l-6 1zM503 371l5 2l-3-5l-5 0z"/><path fill="#165" d="M508 373l6-5l-3-1l-6 1z"/><path fill="#186" d="M514 368l6 0l-3 2l-6-3z"/><path fill="#297" d="M520 368l5 0l-3 4l-5-2z"/><path fill="#298" d="M525 368l6 3l-3 4l-6-3z"/><path fill="#198" d="M531 371l5 3l-3 3l-5-2zM536 374l6 1l-3 4l-6-2zM542 375l6 5l-3-1l-6 0z"/><path fill="#188" d="M548 380l5 3l-3-2l-5-2z"/><path fill="#166" d="M553 383l6-3l-3-3l-6 4z"/><path fill="#165" d="M559 380l5-4l-3-1l-5 2z"/><path fill="#286" d="M564 376l6 2l-3 1l-6-4z"/><path fill="#198" d="M570 378l6 4l-3 3l-6-6z"/><path fill="#199" d="M576 382l5 7l-3-1l-5-3zM581 389l6 3l-3 1l-6-5z"/><path fill="#188" d="M587 392l5-3l-3 1l-5 3z"/><path fill="#29a" d="M592 389l6 6l-3 1l-6-6z"/><path fill="#28c" d="M598 395l6 3l-4 7l-5-9z"/><path fill="#26c" d="M604 398l5-1l-3 9l-6-1z"/><path fill="#28c" d="M609 397l6 1l-3 4l-6 4z"/><path fill="#289" d="M615 398l5-1l-3 0l-5 5z"/><path fill="#177" d="M620 397l6 2l-3-5l-6 3z"/><path fill="#188" d="M626 399l6-1l-4 1l-5-5z"/><path fill="#29b" d="M632 398l5 6l-3 1l-6-6z"/><path fill="#27c" d="M637 404l6 4l-3 1l-6-4z"/><path fill="#25b" d="M643 408l5 4l-3-1l-5-2z"/><path fill="#14a" d="M648 412l6 2l-3-4l-6 1z"/><path fill="#13a" d="M654 414l5 6l-3-1l-5-9z"/><path fill="#129" d="M659 420l6-3l-3 3l-6-1z"/><path fill="#139" d="M665 417l6-4l-3-3l-6 10z"/><path fill="#26a" d="M671 413l5 1l-3-1l-5-3z"/><path fill="#26c" d="M676 414l6 0l-3 4l-6-5z"/><path fill="#28a" d="M682 414l5-8l-3 6l-5 6z"/><path fill="#188" d="M687 406l6-2l-3 2l-6 6zM693 404l6 4l-3-2l-6 0z"/><path fill="#177" d="M699 408l5 2l-3-4l-5 0z"/><path fill="#188" d="M704 410l6 7l-3-4l-6-7zM710 417l5-3l-3 1l-5-2zM715 414l6-4l-3 5l-6 0z"/><path fill="#198" d="M721 410l6-1l-3 4l-6 2z"/><path fill="#188" d="M727 409l5 1l-3 2l-5 1z"/><path fill="#198" d="M732 410l6 5l-3-1l-6-2z"/><path fill="#29a" d="M738 415l5 9l-3 2l-5-12z"/><path fill="#26b" d="M743 424l6 6l-3-4l-6 0z"/><path fill="#159" d="M749 430l6 0l-3-6l-6 2z"/><path fill="#269" d="M755 430l5 0l-3-7l-5 1z"/><path fill="#26a" d="M760 430l6 1l-3-1l-6-7z"/><path fill="#24c" d="M766 431l5 5l-3 6l-5-12z"/><path fill="#12a" d="M771 436l6 6l-3 0l-6 0z"/><path fill="#138" d="M777 442l6-8l-3-2l-6 10z"/><path fill="#29c" d="M416 357l5 11l-3 8l-5-7z"/><path fill="#26c" d="M421 368l6 3l-3 5l-6 0z"/><path fill="#24c" d="M427 371l6 6l-3 7l-6-8z"/><path fill="#13b" d="M433 377l5 0l-3 5l-5 2zM438 377l6 1l-3 6l-6-2z"/><path fill="#13a" d="M444 378l5 6l-3 7l-5-7z"/><path fill="#129" d="M449 384l6 7l-3 8l-6-8z"/><path fill="#127" d="M455 391l6 4l-3-1l-6 5zM461 395l5-12l-3-5l-5 16z"/><path fill="#178" d="M466 383l6-13l-3 2l-6 6z"/><path fill="#198" d="M472 370l5 1l-3 2l-5-1z"/><path fill="#29a" d="M477 371l6 7l-3 2l-6-7zM483 378l6 0l-3 2l-6 0z"/><path fill="#188" d="M489 378l5-9l-3 5l-5 6z"/><path fill="#197" d="M494 369l6-1l-3 5l-6 1z"/><path fill="#297" d="M500 368l5 0l-3 5l-5 0z"/><path fill="#296" d="M505 368l6-1l-3 5l-6 1z"/><path fill="#297" d="M511 367l6 3l-3 4l-6-2zM517 370l5 2l-3 3l-5-1zM522 372l6 3l-3 3l-6-3z"/><path fill="#187" d="M528 375l5 2l-3 1l-5 0z"/><path fill="#198" d="M533 377l6 2l-3 3l-6-4z"/><path fill="#199" d="M539 379l6 0l-4 7l-5-4z"/><path fill="#3aa" d="M545 379l5 2l-3 8l-6-3z"/><path fill="#298" d="M550 381l6-4l-3 3l-6 9z"/><path fill="#285" d="M556 377l5-2l-3 2l-5 3z"/><path fill="#296" d="M561 375l6 4l-3 4l-6-6z"/><path fill="#198" d="M567 379l6 6l-4 6l-5-8z"/><path fill="#199" d="M573 385l5 3l-3 2l-6 1zM578 388l6 5l-3 0l-6-3z"/><path fill="#177" d="M584 393l5-3l-3 0l-5 3z"/><path fill="#188" d="M589 390l6 6l-3-3l-6-3z"/><path fill="#189" d="M595 396l5 9l-3-7l-5-5z"/><path fill="#26a" d="M600 405l6 1l-3-3l-6-5z"/><path fill="#279" d="M606 406l6-4l-3 0l-6 1z"/><path fill="#177" d="M612 402l5-5l-3-1l-5 6z"/><path fill="#176" d="M617 397l6-3l-3 0l-6 2z"/><path fill="#187" d="M623 394l5 5l-3-3l-5-2z"/><path fill="#198" d="M628 399l6 6l-3-2l-6-7z"/><path fill="#29b" d="M634 405l6 4l-3 1l-6-7z"/><path fill="#27c" d="M640 409l5 2l-3 2l-5-3z"/><path fill="#27b" d="M645 411l6-1l-3 2l-6 1z"/><path fill="#26c" d="M651 410l5 9l-3-1l-5-6z"/><path fill="#13a" d="M656 419l6 1l-3 0l-6-2z"/><path fill="#159" d="M662 420l6-10l-3 1l-6 9z"/><path fill="#289" d="M668 410l5 3l-3-1l-5-1z"/><path fill="#28b" d="M673 413l6 5l-3-2l-6-4z"/><path fill="#279" d="M679 418l5-6l-3 2l-5 2z"/><path fill="#177" d="M684 412l6-6l-3 3l-6 5z"/><path fill="#176" d="M690 406l6 0l-3-1l-6 4zM696 406l5 0l-3 0l-5-1z"/><path fill="#187" d="M701 406l6 7l-3-3l-6-4zM707 413l5 2l-3-2l-5-3z"/><path fill="#199" d="M712 415l6 0l-3 4l-6-6z"/><path fill="#188" d="M718 415l6-2l-3 3l-6 3z"/><path fill="#187" d="M724 413l5-1l-3 2l-5 2zM729 412l6 2l-3 0l-6 0z"/><path fill="#188" d="M735 414l5 12l-3-9l-5-3z"/><path fill="#177" d="M740 426l6 0l-3-10l-6 1zM746 426l6-2l-3-5l-6-3z"/><path fill="#188" d="M752 424l5-1l-3 2l-5-6z"/><path fill="#29b" d="M757 423l6 7l-3 6l-6-11z"/><path fill="#24c" d="M763 430l5 12l-3-3l-5-3z"/><path fill="#138" d="M768 442l6 0l-3-11l-6 8z"/><path fill="#268" d="M774 442l6-10l-4-2l-5 1z"/><path fill="#27c" d="M413 369l5 7l-3 5l-5-11z"/><path fill="#24c" d="M418 376l6 0l-3 9l-6-4z"/><path fill="#13b" d="M424 376l6 8l-3 7l-6-6z"/><path fill="#12a" d="M430 384l5-2l-3 6l-5 3z"/><path fill="#13b" d="M435 382l6 2l-3 4l-6 0z"/><path fill="#13a" d="M441 384l5 7l-3-2l-5-1z"/><path fill="#128" d="M446 391l6 8l-3-5l-6-5z"/><path fill="#116" d="M452 399l6-5l-3-3l-6 3z"/><path fill="#139" d="M458 394l5-16l-3 0l-5 13z"/><path fill="#188" d="M463 378l6-6l-3 5l-6 1z"/><path fill="#199" d="M469 372l5 1l-3 5l-5-1z"/><path fill="#29a" d="M474 373l6 7l-3 5l-6-7z"/><path fill="#189" d="M480 380l6 0l-4 1l-5 4z"/><path fill="#188" d="M486 380l5-6l-3 7l-6 0z"/><path fill="#3aa" d="M491 374l6-1l-3 8l-6 0z"/><path fill="#3a9" d="M497 373l5 0l-3 5l-5 3z"/><path fill="#297" d="M502 373l6-1l-3 4l-6 2zM508 372l6 2l-4 3l-5-1zM514 374l5 1l-3 3l-6-1z"/><path fill="#298" d="M519 375l6 3l-3 6l-6-6z"/><path fill="#3aa" d="M525 378l5 0l-3 9l-5-3zM530 378l6 4l-3 4l-6 1z"/><path fill="#199" d="M536 382l5 4l-3 7l-5-7z"/><path fill="#3ab" d="M541 386l6 3l-3 8l-6-4z"/><path fill="#3aa" d="M547 389l6-9l-3 9l-6 8z"/><path fill="#297" d="M553 380l5-3l-3 9l-5 3zM558 377l6 6l-3 6l-6-3z"/><path fill="#198" d="M564 383l5 8l-3 3l-5-5z"/><path fill="#199" d="M569 391l6-1l-3 7l-6-3z"/><path fill="#188" d="M575 390l6 3l-3-1l-6 5z"/><path fill="#176" d="M581 393l5-3l-3 0l-5 2z"/><path fill="#187" d="M586 390l6 3l-3-1l-6-2zM592 393l5 5l-3-4l-5-2z"/><path fill="#188" d="M597 398l6 5l-3-6l-6-3z"/><path fill="#177" d="M603 403l6-1l-3-3l-6-2z"/><path fill="#166" d="M609 402l5-6l-3 1l-5 2z"/><path fill="#175" d="M614 396l6-2l-3 0l-6 3zM620 394l5 2l-3-1l-5-1z"/><path fill="#187" d="M625 396l6 7l-3-2l-6-6z"/><path fill="#199" d="M631 403l6 7l-3 1l-6-10z"/><path fill="#28b" d="M637 410l5 3l-3 1l-5-3z"/><path fill="#28a" d="M642 413l6-1l-3 1l-6 1z"/><path fill="#28b" d="M648 412l5 6l-3-4l-5-1z"/><path fill="#26a" d="M653 418l6 2l-3-6l-6 0z"/><path fill="#167" d="M659 420l6-9l-3 0l-6 3z"/><path fill="#188" d="M665 411l5 1l-3 0l-5-1zM670 412l6 4l-3-4l-6 0zM676 416l5-2l-3 0l-5-2z"/><path fill="#177" d="M681 414l6-5l-3 1l-6 4z"/><path fill="#175" d="M687 409l6-4l-3 0l-6 5z"/><path fill="#285" d="M693 405l5 1l-3 1l-5-2z"/><path fill="#286" d="M698 406l6 4l-3-2l-6-1z"/><path fill="#186" d="M704 410l5 3l-3-3l-5-2z"/><path fill="#187" d="M709 413l6 6l-3-3l-6-6z"/><path fill="#176" d="M715 419l6-3l-4 1l-5-1zM721 416l5-2l-3 0l-6 3z"/><path fill="#175" d="M726 414l6 0l-3-1l-6 1z"/><path fill="#286" d="M732 414l5 3l-3-2l-5-2z"/><path fill="#175" d="M737 417l6-1l-3 1l-6-2z"/><path fill="#297" d="M743 416l6 3l-4 2l-5-4z"/><path fill="#199" d="M749 419l5 6l-3 4l-6-8z"/><path fill="#29a" d="M754 425l6 11l-3-2l-6-5z"/><path fill="#26a" d="M760 436l5 3l-3-6l-5 1z"/><path fill="#166" d="M765 439l6-8l-3-4l-6 6z"/><path fill="#177" d="M771 431l5-1l-3-2l-5-1z"/><path fill="#29c" d="M410 370l5 11l-3 2l-5-15z"/><path fill="#13b" d="M415 381l6 4l-3 8l-6-10z"/><path fill="#129" d="M421 385l6 6l-4 4l-5-2zM427 391l5-3l-3 7l-6 0z"/><path fill="#12a" d="M432 388l6 0l-3 7l-6 0z"/><path fill="#129" d="M438 388l5 1l-3-1l-5 7z"/><path fill="#139" d="M443 389l6 5l-3-10l-6 4zM449 394l6-3l-4-6l-5-1z"/><path fill="#268" d="M455 391l5-13l-3 2l-6 5z"/><path fill="#199" d="M460 378l6-1l-3 5l-6-2zM466 377l5 1l-3 4l-5 0z"/><path fill="#29a" d="M471 378l6 7l-3 2l-6-5z"/><path fill="#188" d="M477 385l5-4l-3 1l-5 5z"/><path fill="#199" d="M482 381l6 0l-3 6l-6-5z"/><path fill="#188" d="M488 381l6 0l-3 0l-6 6z"/><path fill="#176" d="M494 381l5-3l-3 1l-5 2z"/><path fill="#187" d="M499 378l6-2l-3 4l-6-1z"/><path fill="#297" d="M505 376l5 1l-3 4l-5-1zM510 377l6 1l-3 5l-6-2z"/><path fill="#3aa" d="M516 378l6 6l-3 13l-6-14z"/><path fill="#3ab" d="M522 384l5 3l-3 15l-5-5zM527 387l6-1l-3 13l-6 3zM533 386l5 7l-3 8l-5-2z"/><path fill="#29a" d="M538 393l6 4l-3 0l-6 4z"/><path fill="#177" d="M544 397l6-8l-3 0l-6 8z"/><path fill="#186" d="M550 389l5-3l-3 3l-5 0z"/><path fill="#298" d="M555 386l6 3l-3 4l-6-4z"/><path fill="#199" d="M561 389l5 5l-3 2l-5-3z"/><path fill="#198" d="M566 394l6 3l-3 0l-6-1z"/><path fill="#176" d="M572 397l6-5l-3 2l-6 3zM578 392l5-2l-3 2l-5 2z"/><path fill="#285" d="M583 390l6 2l-3-1l-6 1z"/><path fill="#286" d="M589 392l5 2l-3 0l-5-3z"/><path fill="#186" d="M594 394l6 3l-3-2l-6-1zM600 397l6 2l-3-1l-6-3z"/><path fill="#165" d="M606 399l5-2l-3-1l-5 2z"/><path fill="#275" d="M611 397l6-3l-3 2l-6 0z"/><path fill="#296" d="M617 394l5 1l-3 4l-5-3z"/><path fill="#297" d="M622 395l6 6l-3 4l-6-6z"/><path fill="#199" d="M628 401l6 10l-3-1l-6-5z"/><path fill="#188" d="M634 411l5 3l-3-4l-5 0z"/><path fill="#166" d="M639 414l6-1l-3-7l-6 4z"/><path fill="#177" d="M645 413l5 1l-3-6l-5-2z"/><path fill="#188" d="M650 414l6 0l-3 0l-6-6z"/><path fill="#199" d="M656 414l6-3l-4 6l-5-3z"/><path fill="#198" d="M662 411l5 1l-3 2l-6 3zM667 412l6 0l-3 3l-6-1zM673 412l5 2l-3 2l-5-1z"/><path fill="#176" d="M678 414l6-4l-3 1l-6 5z"/><path fill="#275" d="M684 410l6-5l-4 2l-5 4z"/><path fill="#4a5" d="M690 405l5 2l-3 3l-6-3z"/><path fill="#3a6" d="M695 407l6 1l-3 5l-6-3z"/><path fill="#295" d="M701 408l5 2l-3 1l-5 2z"/><path fill="#285" d="M706 410l6 6l-3-4l-6-1zM712 416l5 1l-3-2l-5-3z"/><path fill="#175" d="M717 417l6-3l-3 2l-6-1z"/><path fill="#285" d="M723 414l6-1l-3 2l-6 1z"/><path fill="#395" d="M729 413l5 2l-3 2l-5-2z"/><path fill="#2a6" d="M734 415l6 2l-3 4l-6-4z"/><path fill="#297" d="M740 417l5 4l-3 3l-5-3z"/><path fill="#198" d="M745 421l6 8l-3-2l-6-3z"/><path fill="#187" d="M751 429l6 5l-3-6l-6-1z"/><path fill="#177" d="M757 434l5-1l-3-4l-5-1z"/><path fill="#187" d="M762 433l6-6l-3 5l-6-3z"/><path fill="#198" d="M768 427l5 1l-3 5l-5-1z"/><path fill="#29a" d="M407 368l5 15l-3 0l-5-12z"/><path fill="#13a" d="M412 383l6 10l-3-8l-6-2z"/><path fill="#129" d="M418 393l5 2l-3-5l-5-5zM423 395l6 0l-3 4l-6-9zM429 395l6 0l-3 8l-6-4zM435 395l5-7l-3 3l-5 12z"/><path fill="#269" d="M440 388l6-4l-3-2l-6 9z"/><path fill="#177" d="M446 384l5 1l-3-6l-5 3z"/><path fill="#166" d="M451 385l6-5l-3-2l-6 1z"/><path fill="#177" d="M457 380l6 2l-3-4l-6 0zM463 382l5 0l-3-2l-5-2z"/><path fill="#188" d="M468 382l6 5l-3-4l-6-3z"/><path fill="#176" d="M474 387l5-5l-3-1l-5 2z"/><path fill="#198" d="M479 382l6 5l-3-2l-6-4z"/><path fill="#176" d="M485 387l6-6l-3 0l-6 4z"/><path fill="#186" d="M491 381l5-2l-3 3l-5-1z"/><path fill="#297" d="M496 379l6 1l-3 5l-6-3z"/><path fill="#3a9" d="M502 380l5 1l-3 10l-5-6zM507 381l6 2l-3 5l-6 3z"/><path fill="#199" d="M513 383l6 14l-3-2l-6-7z"/><path fill="#28a" d="M519 397l5 5l-3-3l-5-4z"/><path fill="#27b" d="M524 402l6-3l-3 5l-6-5z"/><path fill="#28c" d="M530 399l5 2l-3 5l-5-2z"/><path fill="#279" d="M535 401l6-4l-3 1l-6 8z"/><path fill="#187" d="M541 397l6-8l-3 6l-6 3z"/><path fill="#3a9" d="M547 389l5 0l-3 7l-5-1z"/><path fill="#198" d="M552 389l6 4l-3 3l-6 0zM558 393l5 3l-3 1l-5-1zM563 396l6 1l-3 3l-6-3z"/><path fill="#187" d="M569 397l6-3l-3 3l-6 3z"/><path fill="#286" d="M575 394l5-2l-3 2l-5 3z"/><path fill="#374" d="M580 392l6-1l-3-1l-6 4z"/><path fill="#395" d="M586 391l5 3l-3 0l-5-4z"/><path fill="#296" d="M591 394l6 1l-3 4l-6-5z"/><path fill="#297" d="M597 395l6 3l-4 3l-5-2z"/><path fill="#285" d="M603 398l5-2l-3 2l-6 3z"/><path fill="#395" d="M608 396l6 0l-3 2l-6 0z"/><path fill="#3a5" d="M614 396l5 3l-3 2l-5-3z"/><path fill="#297" d="M619 399l6 6l-3 3l-6-7z"/><path fill="#198" d="M625 405l6 5l-4 0l-5-2zM631 410l5 0l-3 3l-6-3z"/><path fill="#177" d="M636 410l6-4l-3 2l-6 5z"/><path fill="#287" d="M642 406l5 2l-3 1l-5-1z"/><path fill="#198" d="M647 408l6 6l-3-1l-6-4z"/><path fill="#187" d="M653 414l5 3l-3-3l-5-1z"/><path fill="#176" d="M658 417l6-3l-3 0l-6 0z"/><path fill="#199" d="M664 414l6 1l-3 6l-6-7z"/><path fill="#187" d="M670 415l5 1l-3 0l-5 5z"/><path fill="#175" d="M675 416l6-5l-3 1l-6 4z"/><path fill="#284" d="M681 411l5-4l-3 4l-5 1z"/><path fill="#4a5" d="M686 407l6 3l-3 1l-6 0z"/><path fill="#3a6" d="M692 410l6 3l-3 3l-6-5z"/><path fill="#296" d="M698 413l5-2l-3 7l-5-2z"/><path fill="#3a5" d="M703 411l6 1l-3 3l-6 3zM709 412l5 3l-3 1l-5-1z"/><path fill="#395" d="M714 415l6 1l-3 3l-6-3z"/><path fill="#3a6" d="M720 416l6-1l-3 6l-6-2zM726 415l5 2l-3 4l-5 0z"/><path fill="#296" d="M731 417l6 4l-3 1l-6-1zM737 421l5 3l-3 0l-5-2z"/><path fill="#297" d="M742 424l6 3l-3 1l-6-4z"/><path fill="#186" d="M748 427l6 1l-3 0l-6 0z"/><path fill="#187" d="M754 428l5 1l-3 1l-5-2z"/><path fill="#198" d="M759 429l6 3l-3 2l-6-4zM765 432l5 1l-3 5l-5-4z"/><path fill="#199" d="M404 371l5 12l-3-5l-5-5z"/><path fill="#28a" d="M409 383l6 2l-3-3l-6-4z"/><path fill="#26b" d="M415 385l5 5l-3-2l-5-6z"/><path fill="#13b" d="M420 390l6 9l-3-4l-6-7z"/><path fill="#129" d="M426 399l6 4l-3 2l-6-10z"/><path fill="#128" d="M432 403l5-12l-3 10l-5 4z"/><path fill="#26c" d="M437 391l6-9l-3 11l-6 8z"/><path fill="#188" d="M443 382l5-3l-3-1l-5 15z"/><path fill="#165" d="M448 379l6-1l-3-3l-6 3z"/><path fill="#176" d="M454 378l6 0l-3-1l-6-2z"/><path fill="#186" d="M460 378l5 2l-3-1l-5-2z"/><path fill="#187" d="M465 380l6 3l-3 0l-6-4zM471 383l5-2l-3 4l-5-2z"/><path fill="#198" d="M476 381l6 4l-3 1l-6-1z"/><path fill="#176" d="M482 385l6-4l-3 3l-6 2z"/><path fill="#297" d="M488 381l5 1l-3 4l-5-2z"/><path fill="#298" d="M493 382l6 3l-3 5l-6-4z"/><path fill="#3aa" d="M499 385l5 6l-3 8l-5-9zM504 391l6-3l-3 9l-6 2z"/><path fill="#198" d="M510 388l6 7l-3-3l-6 5z"/><path fill="#187" d="M516 395l5 4l-3-5l-5-2z"/><path fill="#189" d="M521 399l6 5l-3-3l-6-7z"/><path fill="#28b" d="M527 404l5 2l-3 0l-5-5z"/><path fill="#289" d="M532 406l6-8l-3 7l-6 1z"/><path fill="#3ab" d="M538 398l6-3l-4 14l-5-4z"/><path fill="#3aa" d="M544 395l5 1l-3 11l-6 2zM549 396l6 0l-3 4l-6 7z"/><path fill="#197" d="M555 396l5 1l-3 2l-5 1z"/><path fill="#187" d="M560 397l6 3l-3 0l-6-1z"/><path fill="#176" d="M566 400l6-3l-4 1l-5 2z"/><path fill="#175" d="M572 397l5-3l-3 1l-6 3z"/><path fill="#494" d="M577 394l6-4l-3 6l-6-1z"/><path fill="#4a5" d="M583 390l5 4l-3 5l-5-3z"/><path fill="#2a6" d="M588 394l6 5l-3 3l-6-3z"/><path fill="#285" d="M594 399l5 2l-3-1l-5 2zM599 401l6-3l-3 4l-6-2z"/><path fill="#395" d="M605 398l6 0l-3 4l-6 0z"/><path fill="#3a6" d="M611 398l5 3l-3 4l-5-3z"/><path fill="#297" d="M616 401l6 7l-3 3l-6-6z"/><path fill="#199" d="M622 408l5 2l-3 8l-5-7z"/><path fill="#3aa" d="M627 410l6 3l-3 12l-6-7zM633 413l6-5l-3 7l-6 10z"/><path fill="#286" d="M639 408l5 1l-3 1l-5 5zM644 409l6 4l-3-2l-6-1z"/><path fill="#175" d="M650 413l5 1l-3-4l-5 1zM655 414l6 0l-3-2l-6-2z"/><path fill="#187" d="M661 414l6 7l-3-4l-6-5z"/><path fill="#176" d="M667 421l5-5l-3 2l-5-1z"/><path fill="#285" d="M672 416l6-4l-3 4l-6 2z"/><path fill="#395" d="M678 412l5-1l-3 3l-5 2z"/><path fill="#4a5" d="M683 411l6 0l-3 4l-6-1z"/><path fill="#3a6" d="M689 411l6 5l-3 5l-6-6z"/><path fill="#297" d="M695 416l5 2l-3 6l-5-3z"/><path fill="#296" d="M700 418l6-3l-3 6l-6 3z"/><path fill="#3a5" d="M706 415l5 1l-3 5l-5 0zM711 416l6 3l-3 3l-6-1z"/><path fill="#395" d="M717 419l6 2l-3 2l-6-1z"/><path fill="#2a6" d="M723 421l5 0l-3 6l-5-4z"/><path fill="#295" d="M728 421l6 1l-3 3l-6 2z"/><path fill="#2a6" d="M734 422l5 2l-3 4l-5-3z"/><path fill="#297" d="M739 424l6 4l-3 5l-6-5z"/><path fill="#298" d="M745 428l6 0l-4 6l-5-1z"/><path fill="#286" d="M751 428l5 2l-3 0l-6 4z"/><path fill="#185" d="M756 430l6 4l-3-4l-6 0z"/><path fill="#186" d="M762 434l5 4l-3-4l-5-4z"/><path fill="#198" d="M401 373l5 5l-3-1l-5-5z"/><path fill="#299" d="M406 378l6 4l-3 4l-6-9z"/><path fill="#29b" d="M412 382l5 6l-3 1l-5-3z"/><path fill="#26c" d="M417 388l6 7l-3 0l-6-6z"/><path fill="#13a" d="M423 395l6 10l-3-3l-6-7z"/><path fill="#127" d="M429 405l5-4l-3-2l-5 3z"/><path fill="#139" d="M434 401l6-8l-3-2l-6 8z"/><path fill="#176" d="M440 393l5-15l-3 1l-5 12z"/><path fill="#174" d="M445 378l6-3l-3 1l-6 3z"/><path fill="#395" d="M451 375l6 2l-3 1l-6-2z"/><path fill="#285" d="M457 377l5 2l-3 0l-5-1z"/><path fill="#286" d="M462 379l6 4l-3-1l-6-3z"/><path fill="#186" d="M468 383l5 2l-3-1l-5-2z"/><path fill="#175" d="M473 385l6 1l-3-3l-6 1zM479 386l6-2l-4 1l-5-2z"/><path fill="#296" d="M485 384l5 2l-3 2l-6-3z"/><path fill="#198" d="M490 386l6 4l-3 5l-6-7z"/><path fill="#299" d="M496 390l5 9l-3 4l-5-8z"/><path fill="#188" d="M501 399l6-2l-3 1l-6 5z"/><path fill="#176" d="M507 397l6-5l-4-1l-5 7z"/><path fill="#187" d="M513 392l5 2l-3 1l-6-4z"/><path fill="#199" d="M518 394l6 7l-3 2l-6-8zM524 401l5 5l-3-1l-5-2z"/><path fill="#299" d="M529 406l6-1l-3 4l-6-4z"/><path fill="#29b" d="M535 405l5 4l-3 1l-5-1z"/><path fill="#189" d="M540 409l6-2l-3 1l-6 2z"/><path fill="#177" d="M546 407l6-7l-3 3l-6 5z"/><path fill="#176" d="M552 400l5-1l-3 0l-5 4z"/><path fill="#175" d="M557 399l6 1l-3-2l-6 1zM563 400l5-2l-3 1l-5-1z"/><path fill="#384" d="M568 398l6-3l-3 4l-6 0z"/><path fill="#4a5" d="M574 395l6 1l-3 5l-6-2z"/><path fill="#3a6" d="M580 396l5 3l-3 7l-5-5z"/><path fill="#296" d="M585 399l6 3l-3 2l-6 2z"/><path fill="#295" d="M591 402l5-2l-3 4l-5 0z"/><path fill="#2a6" d="M596 400l6 2l-3 6l-6-4zM602 402l6 0l-3 7l-6-1z"/><path fill="#297" d="M608 402l5 3l-3 9l-5-5z"/><path fill="#3a9" d="M613 405l6 6l-3 5l-6-2z"/><path fill="#199" d="M619 411l5 7l-3 4l-5-6z"/><path fill="#29a" d="M624 418l6 7l-3 3l-6-6z"/><path fill="#188" d="M630 425l6-10l-3 7l-6 6z"/><path fill="#3a9" d="M636 415l5-5l-3 6l-5 6z"/><path fill="#296" d="M641 410l6 1l-3 4l-6 1z"/><path fill="#395" d="M647 411l5-1l-3 3l-5 2z"/><path fill="#3a6" d="M652 410l6 2l-3 5l-6-4z"/><path fill="#297" d="M658 412l6 5l-3 2l-6-2z"/><path fill="#296" d="M664 417l5 1l-3 2l-5-1zM669 418l6-2l-3 5l-6-1zM675 416l5-2l-3 7l-5 0z"/><path fill="#3a6" d="M680 414l6 1l-3 10l-6-4z"/><path fill="#297" d="M686 415l6 6l-4 6l-5-2zM692 421l5 3l-3 2l-6 1z"/><path fill="#286" d="M697 424l6-3l-3 4l-6 1z"/><path fill="#296" d="M703 421l5 0l-3 5l-5-1z"/><path fill="#3a6" d="M708 421l6 1l-3 5l-6-1zM714 422l6 1l-4 4l-5 0z"/><path fill="#296" d="M720 423l5 4l-3 6l-6-6zM725 427l6-2l-3 6l-6 2z"/><path fill="#297" d="M731 425l5 3l-3 7l-5-4z"/><path fill="#3a9" d="M736 428l6 5l-3 6l-6-4z"/><path fill="#2a9" d="M742 433l5 1l-3 5l-5 0z"/><path fill="#186" d="M747 434l6-4l-3 4l-6 5z"/><path fill="#296" d="M753 430l6 0l-3 4l-6 0z"/><path fill="#2a6" d="M759 430l5 4l-3 2l-5-2z"/><path fill="#297" d="M398 372l5 5l-3 1l-5-3z"/><path fill="#199" d="M403 377l6 9l-3-1l-6-7z"/><path fill="#177" d="M409 386l5 3l-3-7l-5 3z"/><path fill="#188" d="M414 389l6 6l-3-8l-6-5z"/><path fill="#27b" d="M420 395l6 7l-4-9l-5-6z"/><path fill="#159" d="M426 402l5-3l-3-9l-6 3z"/><path fill="#166" d="M431 399l6-8l-3-5l-6 4z"/><path fill="#165" d="M437 391l5-12l-3 2l-5 5z"/><path fill="#395" d="M442 379l6-3l-3 6l-6-1z"/><path fill="#4a5" d="M448 376l6 2l-4 3l-5 1zM454 378l5 1l-3 3l-6-1z"/><path fill="#395" d="M459 379l6 3l-3 1l-6-1z"/><path fill="#284" d="M465 382l5 2l-3-1l-5 0z"/><path fill="#374" d="M470 384l6-1l-3-2l-6 2z"/><path fill="#494" d="M476 383l5 2l-3 0l-5-4z"/><path fill="#295" d="M481 385l6 3l-3 1l-6-4z"/><path fill="#298" d="M487 388l6 7l-3 3l-6-9z"/><path fill="#299" d="M493 395l5 8l-3 4l-5-9z"/><path fill="#188" d="M498 403l6-5l-3 3l-6 6z"/><path fill="#186" d="M504 398l5-7l-3 3l-5 7z"/><path fill="#297" d="M509 391l6 4l-3 4l-6-5z"/><path fill="#199" d="M515 395l6 8l-3 6l-6-10zM521 403l5 2l-3 1l-5 3z"/><path fill="#188" d="M526 405l6 4l-3-2l-6-1z"/><path fill="#177" d="M532 409l5 1l-3-6l-5 3zM537 410l6-2l-3-3l-6-1z"/><path fill="#165" d="M543 408l6-5l-3-1l-6 3z"/><path fill="#164" d="M549 403l5-4l-3-1l-5 4z"/><path fill="#395" d="M554 399l6-1l-3 4l-6-4z"/><path fill="#396" d="M560 398l5 1l-3 4l-5-1z"/><path fill="#3a6" d="M565 399l6 0l-3 6l-6-2z"/><path fill="#2a6" d="M571 399l6 2l-3 7l-6-3z"/><path fill="#297" d="M577 401l5 5l-3 6l-5-4z"/><path fill="#286" d="M582 406l6-2l-3 5l-6 3z"/><path fill="#296" d="M588 404l5 0l-3 7l-5-2z"/><path fill="#297" d="M593 404l6 4l-3 7l-6-4z"/><path fill="#3a9" d="M599 408l6 1l-3 11l-6-5z"/><path fill="#3aa" d="M605 409l5 5l-3 7l-5-1z"/><path fill="#2a9" d="M610 414l6 2l-3 4l-6 1z"/><path fill="#198" d="M616 416l5 6l-3-2l-5 0z"/><path fill="#188" d="M621 422l6 6l-3-7l-6-1z"/><path fill="#177" d="M627 428l6-6l-4 0l-5-1z"/><path fill="#187" d="M633 422l5-6l-3 5l-6 1z"/><path fill="#297" d="M638 416l6-1l-3 5l-6 1z"/><path fill="#296" d="M644 415l5-2l-3 6l-5 1z"/><path fill="#2a6" d="M649 413l6 4l-3 5l-6-3z"/><path fill="#297" d="M655 417l6 2l-4 5l-5-2zM661 419l5 1l-3 4l-6 0z"/><path fill="#296" d="M666 420l6 1l-3 3l-6 0zM672 421l5 0l-3 5l-5-2z"/><path fill="#297" d="M677 421l6 4l-3 4l-6-3zM683 425l5 2l-3 2l-5 0z"/><path fill="#175" d="M688 427l6-1l-3 0l-6 3z"/><path fill="#285" d="M694 426l6-1l-3 2l-6-1z"/><path fill="#296" d="M700 425l5 1l-3 4l-5-3z"/><path fill="#297" d="M705 426l6 1l-3 6l-6-3z"/><path fill="#296" d="M711 427l5 0l-3 4l-5 2z"/><path fill="#297" d="M716 427l6 6l-3 2l-6-4zM722 433l6-2l-3 5l-6-1zM728 431l5 4l-3 3l-5-2z"/><path fill="#198" d="M733 435l6 4l-3 2l-6-3z"/><path fill="#187" d="M739 439l5 0l-3 2l-5 0z"/><path fill="#186" d="M744 439l6-5l-3 4l-6 3z"/><path fill="#297" d="M750 434l6 0l-3 7l-6-3zM756 434l5 2l-3 6l-5-1z"/><path fill="#3a9" d="M395 375l5 3l-3 8l-6-3z"/><path fill="#3aa" d="M400 378l6 7l-3 4l-6-3z"/><path fill="#187" d="M406 385l5-3l-3 2l-5 5z"/><path fill="#198" d="M411 382l6 5l-3 0l-6-3z"/><path fill="#199" d="M417 387l5 6l-3-2l-5-4z"/><path fill="#177" d="M422 393l6-3l-3 0l-6 1z"/><path fill="#187" d="M428 390l6-4l-3 4l-6 0z"/><path fill="#197" d="M434 386l5-5l-3 8l-5 1z"/><path fill="#297" d="M439 381l6 1l-3 5l-6 2z"/><path fill="#395" d="M445 382l5-1l-3 4l-5 2z"/><path fill="#3a5" d="M450 381l6 1l-3 6l-6-3zM456 382l6 1l-3 4l-6 1z"/><path fill="#4a4" d="M462 383l5 0l-3 3l-5 1z"/><path fill="#5a4" d="M467 383l6-2l-3 6l-6-1z"/><path fill="#5b4" d="M473 381l5 4l-3 4l-5-2z"/><path fill="#4a5" d="M478 385l6 4l-3 2l-6-2z"/><path fill="#297" d="M484 389l6 9l-3-1l-6-6z"/><path fill="#198" d="M490 398l5 9l-3-1l-5-9z"/><path fill="#199" d="M495 407l6-6l-3 9l-6-4z"/><path fill="#3aa" d="M501 401l5-7l-3 9l-5 7z"/><path fill="#3a9" d="M506 394l6 5l-3 6l-6-2z"/><path fill="#299" d="M512 399l6 10l-3 6l-6-10z"/><path fill="#29a" d="M518 409l5-3l-3 7l-5 2z"/><path fill="#188" d="M523 406l6 1l-3 0l-6 6z"/><path fill="#176" d="M529 407l5-3l-3 0l-5 3z"/><path fill="#186" d="M534 404l6 1l-3 1l-6-2z"/><path fill="#175" d="M540 405l6-3l-3 0l-6 4z"/><path fill="#374" d="M546 402l5-4l-3 1l-5 3z"/><path fill="#494" d="M551 398l6 4l-3-1l-6-2z"/><path fill="#394" d="M557 402l5 1l-3 0l-5-2z"/><path fill="#395" d="M562 403l6 2l-3 2l-6-4z"/><path fill="#297" d="M568 405l6 3l-4 3l-5-4zM574 408l5 4l-3 1l-6-2z"/><path fill="#175" d="M579 412l6-3l-3 2l-6 2z"/><path fill="#297" d="M585 409l5 2l-3 4l-5-4z"/><path fill="#298" d="M590 411l6 4l-3 4l-6-4z"/><path fill="#199" d="M596 415l6 5l-4 4l-5-5zM602 420l5 1l-3 6l-6-3z"/><path fill="#2aa" d="M607 421l6-1l-3 8l-6-1z"/><path fill="#188" d="M613 420l5 0l-3 2l-5 6z"/><path fill="#176" d="M618 420l6 1l-3-1l-6 2zM624 421l5 1l-3 0l-5-2zM629 422l6-1l-3 1l-6 0z"/><path fill="#286" d="M635 421l6-1l-3 4l-6-2z"/><path fill="#297" d="M641 420l5-1l-3 6l-5-1zM646 419l6 3l-3 3l-6 0zM652 422l5 2l-3 6l-5-5zM657 424l6 0l-3 4l-6 2zM663 424l6 0l-3 4l-6 0zM669 424l5 2l-3 6l-5-4z"/><path fill="#3a9" d="M674 426l6 3l-3 5l-6-2z"/><path fill="#187" d="M680 429l5 0l-3 3l-5 2z"/><path fill="#286" d="M685 429l6-3l-3 4l-6 2z"/><path fill="#395" d="M691 426l6 1l-3 2l-6 1z"/><path fill="#296" d="M697 427l5 3l-3 1l-5-2zM702 430l6 3l-3 1l-6-3z"/><path fill="#274" d="M708 433l5-2l-3-1l-5 4z"/><path fill="#385" d="M713 431l6 4l-3-4l-6-1z"/><path fill="#285" d="M719 435l6 1l-3-1l-6-4z"/><path fill="#286" d="M725 436l5 2l-3 0l-5-3z"/><path fill="#297" d="M730 438l6 3l-3 1l-6-4z"/><path fill="#197" d="M736 441l5 0l-3 3l-5-2z"/><path fill="#298" d="M741 441l6-3l-3 8l-6-2zM747 438l6 3l-3 7l-6-2z"/><path fill="#3a9" d="M753 441l5 1l-3 7l-5-1z"/><path fill="#199" d="M391 383l6 3l-3 5l-6-5z"/><path fill="#299" d="M397 386l6 3l-3 6l-6-4z"/><path fill="#3aa" d="M403 389l5-5l-3 8l-5 3zM408 384l6 3l-3 10l-6-5zM414 387l5 4l-3 5l-5 1z"/><path fill="#198" d="M419 391l6-1l-3 4l-6 2z"/><path fill="#3aa" d="M425 390l6 0l-3 9l-6-5zM431 390l5-1l-3 9l-5 1z"/><path fill="#3a9" d="M436 389l6-2l-3 6l-6 5z"/><path fill="#296" d="M442 387l5-2l-3 5l-5 3z"/><path fill="#2a6" d="M447 385l6 3l-3 5l-6-3z"/><path fill="#296" d="M453 388l6-1l-3 6l-6 0z"/><path fill="#3a5" d="M459 387l5-1l-3 6l-5 1z"/><path fill="#4a5" d="M464 386l6 1l-3 8l-6-3z"/><path fill="#3a6" d="M470 387l5 2l-3 8l-5-2zM475 389l6 2l-3 4l-6 2z"/><path fill="#296" d="M481 391l6 6l-3 2l-6-4z"/><path fill="#198" d="M487 397l5 9l-3 1l-5-8z"/><path fill="#299" d="M492 406l6 4l-3 2l-6-5z"/><path fill="#188" d="M498 410l5-7l-3 6l-5 3z"/><path fill="#3aa" d="M503 403l6 2l-3 7l-6-3z"/><path fill="#299" d="M509 405l6 10l-4-1l-5-2z"/><path fill="#177" d="M515 415l5-2l-3-2l-6 3z"/><path fill="#166" d="M520 413l6-6l-3-1l-6 5z"/><path fill="#175" d="M526 407l5-3l-3 1l-5 1z"/><path fill="#286" d="M531 404l6 2l-3 1l-6-2z"/><path fill="#275" d="M537 406l6-4l-4 3l-5 2z"/><path fill="#493" d="M543 402l5-3l-3 3l-6 3z"/><path fill="#6a3" d="M548 399l6 2l-3 1l-6 0z"/><path fill="#6b3" d="M554 401l5 2l-3 2l-5-3z"/><path fill="#4a5" d="M559 403l6 4l-3 4l-6-6z"/><path fill="#296" d="M565 407l5 4l-3 1l-5-1z"/><path fill="#297" d="M570 411l6 2l-3 4l-6-5zM576 413l6-2l-3 6l-6 0zM582 411l5 4l-3 9l-5-7z"/><path fill="#3aa" d="M587 415l6 4l-3 7l-6-2z"/><path fill="#199" d="M593 419l5 5l-3 0l-5 2zM598 424l6 3l-3 2l-6-5z"/><path fill="#29a" d="M604 427l6 1l-3 6l-6-5z"/><path fill="#298" d="M610 428l5-6l-3 5l-5 7z"/><path fill="#187" d="M615 422l6-2l-3 3l-6 4z"/><path fill="#297" d="M621 420l5 2l-3 5l-5-4zM626 422l6 0l-3 5l-6 0zM632 422l6 2l-3 3l-6 0zM638 424l5 1l-3 4l-5-2zM643 425l6 0l-3 3l-6 1z"/><path fill="#298" d="M649 425l5 5l-3 7l-5-9z"/><path fill="#3aa" d="M654 430l6-2l-3 8l-6 1z"/><path fill="#3a9" d="M660 428l6 0l-3 6l-6 2z"/><path fill="#298" d="M666 428l5 4l-3 4l-5-2z"/><path fill="#198" d="M671 432l6 2l-3 4l-6-2z"/><path fill="#2a9" d="M677 434l5-2l-3 6l-5 0z"/><path fill="#297" d="M682 432l6-2l-3 9l-6-1zM688 430l6-1l-3 7l-6 3z"/><path fill="#2a6" d="M694 429l5 2l-3 7l-5-2z"/><path fill="#297" d="M699 431l6 3l-3 6l-6-2z"/><path fill="#295" d="M705 434l5-4l-3 6l-5 4z"/><path fill="#5b5" d="M710 430l6 1l-3 5l-6 0z"/><path fill="#4a5" d="M716 431l6 4l-3 4l-6-3z"/><path fill="#2a6" d="M722 435l5 3l-3 4l-5-3z"/><path fill="#297" d="M727 438l6 4l-3 3l-6-3z"/><path fill="#187" d="M733 442l5 2l-3 1l-5 0zM738 444l6 2l-3 1l-6-2z"/><path fill="#198" d="M744 446l6 2l-4 2l-5-3z"/><path fill="#187" d="M750 448l5 1l-3 2l-6-1z"/><path fill="#198" d="M388 386l6 5l-3-1l-6-1z"/><path fill="#188" d="M394 391l6 4l-3-1l-6-4zM400 395l5-3l-3 3l-5-1z"/><path fill="#199" d="M405 392l6 5l-3 1l-6-3z"/><path fill="#188" d="M411 397l5-1l-3 1l-5 1z"/><path fill="#199" d="M416 396l6-2l-3 6l-6-3z"/><path fill="#299" d="M422 394l6 5l-3 5l-6-4zM428 399l5-1l-3 6l-5 0z"/><path fill="#3aa" d="M433 398l6-5l-3 8l-6 3z"/><path fill="#298" d="M439 393l5-3l-3 8l-5 3z"/><path fill="#297" d="M444 390l6 3l-3 6l-6-1zM450 393l6 0l-4 6l-5 0z"/><path fill="#296" d="M456 393l5-1l-3 5l-6 2zM461 392l6 3l-3 4l-6-2z"/><path fill="#297" d="M467 395l5 2l-3 4l-5-2zM472 397l6-2l-3 8l-6-2zM478 395l6 4l-4 8l-5-4z"/><path fill="#3aa" d="M484 399l5 8l-3 8l-6-8z"/><path fill="#29a" d="M489 407l6 5l-3 3l-6 0z"/><path fill="#187" d="M495 412l5-3l-3 1l-5 5z"/><path fill="#177" d="M500 409l6 3l-3-4l-6 2z"/><path fill="#176" d="M506 412l5 2l-3-7l-5 1zM511 414l6-3l-3-3l-6-1z"/><path fill="#165" d="M517 411l6-5l-3 1l-6 1z"/><path fill="#285" d="M523 406l5-1l-3 3l-5-1zM528 405l6 2l-3 0l-6 1z"/><path fill="#384" d="M534 407l5-2l-3 0l-5 2z"/><path fill="#593" d="M539 405l6-3l-3 2l-6 1z"/><path fill="#8c3" d="M545 402l6 0l-3 5l-6-3z"/><path fill="#6b4" d="M551 402l5 3l-3 5l-5-3z"/><path fill="#3a5" d="M556 405l6 6l-3 7l-6-8z"/><path fill="#297" d="M562 411l5 1l-3 7l-5-1zM567 412l6 5l-3 8l-6-6z"/><path fill="#3a9" d="M573 417l6 0l-3 7l-6 1z"/><path fill="#2a9" d="M579 417l5 7l-3 4l-5-4z"/><path fill="#199" d="M584 424l6 2l-3 5l-6-3z"/><path fill="#198" d="M590 426l5-2l-3 5l-5 2z"/><path fill="#199" d="M595 424l6 5l-3 4l-6-4z"/><path fill="#29a" d="M601 429l6 5l-3 3l-6-4zM607 434l5-7l-3 10l-5 0z"/><path fill="#3aa" d="M612 427l6-4l-3 12l-6 2zM618 423l5 4l-3 7l-5 1zM623 427l6 0l-3 8l-6-1z"/><path fill="#3a9" d="M629 427l6 0l-3 9l-6-1zM635 427l5 2l-3 8l-5-1zM640 429l6-1l-3 7l-6 2z"/><path fill="#198" d="M646 428l5 9l-3 1l-5-3z"/><path fill="#188" d="M651 437l6-1l-3 3l-6-1zM657 436l6-2l-3 5l-6 0z"/><path fill="#197" d="M663 434l5 2l-3 1l-5 2z"/><path fill="#187" d="M668 436l6 2l-3 0l-6-1z"/><path fill="#186" d="M674 438l5 0l-3 0l-5 0z"/><path fill="#197" d="M679 438l6 1l-3 4l-6-5zM685 439l6-3l-4 6l-5 1z"/><path fill="#297" d="M691 436l5 2l-3 5l-6-1z"/><path fill="#298" d="M696 438l6 2l-3 6l-6-3z"/><path fill="#297" d="M702 440l5-4l-3 9l-5 1z"/><path fill="#296" d="M707 436l6 0l-3 9l-6 0zM713 436l6 3l-4 8l-5-2z"/><path fill="#297" d="M719 439l5 3l-3 4l-6 1zM724 442l6 3l-3 4l-6-3zM730 445l5 0l-3 5l-5-1z"/><path fill="#286" d="M735 445l6 2l-3 0l-6 3z"/><path fill="#297" d="M741 447l5 3l-3 2l-5-5z"/><path fill="#186" d="M746 450l6 1l-3 1l-6 0z"/><path fill="#198" d="M385 389l6 1l-3 4l-6 2zM391 390l6 4l-4 1l-5-1z"/><path fill="#187" d="M397 394l5 1l-3 0l-6 0z"/><path fill="#177" d="M402 395l6 3l-3-3l-6 0zM408 398l5-1l-3 0l-5-2z"/><path fill="#199" d="M413 397l6 3l-3 7l-6-10z"/><path fill="#3ab" d="M419 400l6 4l-4 7l-5-4z"/><path fill="#29b" d="M425 404l5 0l-3 9l-6-2z"/><path fill="#3ab" d="M430 404l6-3l-3 9l-6 3z"/><path fill="#3aa" d="M436 401l5-3l-3 5l-5 7zM441 398l6 1l-3 8l-6-4zM447 399l5 0l-3 6l-5 2z"/><path fill="#287" d="M452 399l6-2l-3 5l-6 3z"/><path fill="#296" d="M458 397l6 2l-3 3l-6 0z"/><path fill="#297" d="M464 399l5 2l-3 4l-5-3z"/><path fill="#3a9" d="M469 401l6 2l-3 9l-6-7z"/><path fill="#3aa" d="M475 403l5 4l-3 10l-5-5z"/><path fill="#3ab" d="M480 407l6 8l-3 5l-6-3z"/><path fill="#188" d="M486 415l6 0l-3 1l-6 4z"/><path fill="#177" d="M492 415l5-5l-3 2l-5 4z"/><path fill="#175" d="M497 410l6-2l-3-1l-6 5z"/><path fill="#264" d="M503 408l5-1l-3-3l-5 3z"/><path fill="#384" d="M508 407l6 1l-3-4l-6 0zM514 408l6-1l-3 2l-6-5z"/><path fill="#395" d="M520 407l5 1l-3 2l-5-1z"/><path fill="#394" d="M525 408l6-1l-3 2l-6 1z"/><path fill="#5a4" d="M531 407l5-2l-3 4l-5 0z"/><path fill="#7b3" d="M536 405l6-1l-3 6l-6-1z"/><path fill="#7c3" d="M542 404l6 3l-3 4l-6-1z"/><path fill="#6b4" d="M548 407l5 3l-3 2l-5-1z"/><path fill="#3a5" d="M553 410l6 8l-3-1l-6-5z"/><path fill="#286" d="M559 418l5 1l-3 2l-5-4z"/><path fill="#298" d="M564 419l6 6l-3 0l-6-4z"/><path fill="#177" d="M570 425l6-1l-3 1l-6 0z"/><path fill="#176" d="M576 424l5 4l-3-4l-5 1z"/><path fill="#187" d="M581 428l6 3l-3-3l-6-4z"/><path fill="#188" d="M587 431l5-2l-3 4l-5-5zM592 429l6 4l-3-2l-6 2z"/><path fill="#177" d="M598 433l6 4l-3-6l-6 0z"/><path fill="#187" d="M604 437l5 0l-3-2l-5-4z"/><path fill="#299" d="M609 437l6-2l-3 9l-6-9z"/><path fill="#3aa" d="M615 435l5-1l-3 7l-5 3z"/><path fill="#2aa" d="M620 434l6 1l-3 7l-6-1z"/><path fill="#3aa" d="M626 435l6 1l-4 7l-5-1z"/><path fill="#199" d="M632 436l5 1l-3 3l-6 3z"/><path fill="#2a9" d="M637 437l6-2l-3 9l-6-4z"/><path fill="#198" d="M643 435l5 3l-3 1l-5 5z"/><path fill="#187" d="M648 438l6 1l-3 0l-6 0z"/><path fill="#198" d="M654 439l6 0l-4 4l-5-4zM660 439l5-2l-3 6l-6 0z"/><path fill="#3a9" d="M665 437l6 1l-3 9l-6-4zM671 438l5 0l-3 5l-5 4z"/><path fill="#298" d="M676 438l6 5l-3 3l-6-3z"/><path fill="#198" d="M682 443l5-1l-3 6l-5-2z"/><path fill="#3aa" d="M687 442l6 1l-3 7l-6-2z"/><path fill="#3a9" d="M693 443l6 3l-3 4l-6 0z"/><path fill="#198" d="M699 446l5-1l-3 6l-5-1z"/><path fill="#298" d="M704 445l6 0l-3 5l-6 1z"/><path fill="#3a9" d="M710 445l5 2l-3 6l-5-3zM715 447l6-1l-3 7l-6 0zM721 446l6 3l-3 6l-6-2zM727 449l5 1l-3 6l-5-1z"/><path fill="#286" d="M732 450l6-3l-3 5l-6 4z"/><path fill="#297" d="M738 447l5 5l-3 1l-5-1zM743 452l6 0l-3 3l-6-2z"/><path fill="#199" d="M382 396l6-2l-3 8l-6-3z"/><path fill="#3aa" d="M388 394l5 1l-3 11l-5-4zM393 395l6 0l-3 7l-6 4zM399 395l6 0l-3 7l-6 0zM405 395l5 2l-3 12l-5-7z"/><path fill="#3ab" d="M410 397l6 10l-3 9l-6-7z"/><path fill="#29c" d="M416 407l5 4l-3 1l-5 4z"/><path fill="#28a" d="M421 411l6 2l-3-1l-6 0z"/><path fill="#178" d="M427 413l6-3l-3-1l-6 3z"/><path fill="#177" d="M433 410l5-7l-3 2l-5 4z"/><path fill="#198" d="M438 403l6 4l-3 0l-6-2z"/><path fill="#177" d="M444 407l5-2l-3 1l-5 1z"/><path fill="#186" d="M449 405l6-3l-3 4l-6 0z"/><path fill="#297" d="M455 402l6 0l-3 4l-6 0zM461 402l5 3l-3 3l-5-2z"/><path fill="#197" d="M466 405l6 7l-3-3l-6-1z"/><path fill="#187" d="M472 412l5 5l-3-5l-5-3z"/><path fill="#177" d="M477 417l6 3l-3-7l-6-1z"/><path fill="#176" d="M483 420l6-4l-3-3l-6 0z"/><path fill="#165" d="M489 416l5-4l-3-1l-5 2z"/><path fill="#264" d="M494 412l6-5l-3-1l-6 5z"/><path fill="#483" d="M500 407l5-3l-3 2l-5 0z"/><path fill="#6b4" d="M505 404l6 0l-3 5l-6-3z"/><path fill="#5b5" d="M511 404l6 5l-3 4l-6-4z"/><path fill="#3a5" d="M517 409l5 1l-3 4l-5-1z"/><path fill="#494" d="M522 410l6-1l-3 4l-6 1z"/><path fill="#5a3" d="M528 409l5 0l-3 2l-5 2z"/><path fill="#6a3" d="M533 409l6 1l-3 2l-6-1zM539 410l6 1l-4 2l-5-1z"/><path fill="#6b3" d="M545 411l5 1l-3 3l-6-2z"/><path fill="#5a4" d="M550 412l6 5l-3-2l-6 0z"/><path fill="#494" d="M556 417l5 4l-3-5l-5-1z"/><path fill="#395" d="M561 421l6 4l-3-8l-6-1z"/><path fill="#284" d="M567 425l6 0l-4-6l-5-2z"/><path fill="#285" d="M573 425l5-1l-3 0l-6-5z"/><path fill="#297" d="M578 424l6 4l-3 4l-6-8z"/><path fill="#198" d="M584 428l5 5l-3 0l-5-1z"/><path fill="#176" d="M589 433l6-2l-3 0l-6 2zM595 431l6 0l-4 0l-5 0z"/><path fill="#198" d="M601 431l5 4l-3 2l-6-6z"/><path fill="#299" d="M606 435l6 9l-3 0l-6-7z"/><path fill="#178" d="M612 444l5-3l-3 0l-5 3z"/><path fill="#199" d="M617 441l6 1l-3 4l-6-5z"/><path fill="#29a" d="M623 442l5 1l-3 8l-5-5z"/><path fill="#3ab" d="M628 443l6-3l-3 13l-6-2zM634 440l6 4l-3 7l-6 2z"/><path fill="#187" d="M640 444l5-5l-3 2l-5 10z"/><path fill="#197" d="M645 439l6 0l-3 4l-6-2z"/><path fill="#3aa" d="M651 439l5 4l-3 9l-5-9zM656 443l6 0l-3 10l-6-1zM662 443l6 4l-3 8l-6-2z"/><path fill="#299" d="M668 447l5-4l-3 5l-5 7z"/><path fill="#198" d="M673 443l6 3l-3 4l-6-2zM679 446l5 2l-3 5l-5-3z"/><path fill="#188" d="M684 448l6 2l-3 1l-6 2z"/><path fill="#176" d="M690 450l6 0l-3 0l-6 1z"/><path fill="#187" d="M696 450l5 1l-3 3l-5-4z"/><path fill="#198" d="M701 451l6-1l-3 5l-6-1zM707 450l5 3l-3 4l-5-2z"/><path fill="#187" d="M712 453l6 0l-3 3l-6 1z"/><path fill="#198" d="M718 453l6 2l-3 3l-6-2z"/><path fill="#199" d="M724 455l5 1l-3 7l-5-5z"/><path fill="#3aa" d="M729 456l6-4l-3 9l-6 2z"/><path fill="#297" d="M735 452l5 1l-3 4l-5 4zM740 453l6 2l-3 5l-6-3z"/><path fill="#188" d="M379 399l6 3l-3 0l-6-3z"/><path fill="#29a" d="M385 402l5 4l-3 6l-5-10z"/><path fill="#3ab" d="M390 406l6-4l-3 12l-6-2zM396 402l6 0l-3 14l-6-2z"/><path fill="#29c" d="M402 402l5 7l-3 15l-5-8z"/><path fill="#25c" d="M407 409l6 7l-3 8l-6 0z"/><path fill="#26c" d="M413 416l5-4l-3 8l-5 4z"/><path fill="#29c" d="M418 412l6 0l-3 9l-6-1z"/><path fill="#3ab" d="M424 412l6-3l-3 7l-6 5z"/><path fill="#399" d="M430 409l5-4l-3 6l-5 5z"/><path fill="#3aa" d="M435 405l6 2l-3 7l-6-3zM441 407l5-1l-3 6l-5 2z"/><path fill="#3a9" d="M446 406l6 0l-3 6l-6 0z"/><path fill="#297" d="M452 406l6 0l-3 3l-6 3z"/><path fill="#296" d="M458 406l5 2l-3 2l-5-1z"/><path fill="#286" d="M463 408l6 1l-3 0l-6 1z"/><path fill="#275" d="M469 409l5 3l-3-3l-5 0z"/><path fill="#286" d="M474 412l6 1l-3-1l-6-3z"/><path fill="#186" d="M480 413l6 0l-4 1l-5-2z"/><path fill="#175" d="M486 413l5-2l-3 0l-6 3z"/><path fill="#384" d="M491 411l6-5l-3 4l-6 1z"/><path fill="#6b4" d="M497 406l5 0l-3 5l-5-1zM502 406l6 3l-3 4l-6-2z"/><path fill="#4a5" d="M508 409l6 4l-4 4l-5-4z"/><path fill="#3a5" d="M514 413l5 1l-3 3l-6 0z"/><path fill="#494" d="M519 414l6-1l-3 2l-6 2z"/><path fill="#6a4" d="M525 413l5-2l-3 6l-5-2z"/><path fill="#6b3" d="M530 411l6 1l-3 4l-6 1z"/><path fill="#7a2" d="M536 412l5 1l-3 1l-5 2z"/><path fill="#8b2" d="M541 413l6 2l-3 1l-6-2z"/><path fill="#7a2" d="M547 415l6 0l-3 0l-6 1z"/><path fill="#8a2" d="M553 415l5 1l-3-2l-5 1z"/><path fill="#991" d="M558 416l6 1l-3-7l-6 4z"/><path fill="#bc1" d="M564 417l5 2l-3-3l-5-6z"/><path fill="#6a3" d="M569 419l6 5l-3 0l-6-8z"/><path fill="#296" d="M575 424l6 8l-3 1l-6-9z"/><path fill="#187" d="M581 432l5 1l-3 1l-5-1z"/><path fill="#186" d="M586 433l6-2l-3 3l-6 0z"/><path fill="#297" d="M592 431l5 0l-3 7l-5-4z"/><path fill="#2a9" d="M597 431l6 6l-3 4l-6-3z"/><path fill="#199" d="M603 437l6 7l-3 2l-6-5z"/><path fill="#188" d="M609 444l5-3l-3 4l-5 1z"/><path fill="#299" d="M614 441l6 5l-3 4l-6-5z"/><path fill="#29b" d="M620 446l5 5l-3 5l-5-6z"/><path fill="#28c" d="M625 451l6 2l-3 6l-6-3z"/><path fill="#28b" d="M631 453l6-2l-3 3l-6 5z"/><path fill="#188" d="M637 451l5-10l-3 6l-5 7z"/><path fill="#3a9" d="M642 441l6 2l-3 5l-6-1z"/><path fill="#188" d="M648 443l5 9l-3-5l-5 1z"/><path fill="#187" d="M653 452l6 1l-3-2l-6-4z"/><path fill="#199" d="M659 453l6 2l-3 2l-6-6z"/><path fill="#188" d="M665 455l5-7l-3 6l-5 3z"/><path fill="#198" d="M670 448l6 2l-3 2l-6 2z"/><path fill="#187" d="M676 450l5 3l-3 0l-5-1zM681 453l6-2l-3 3l-6-1z"/><path fill="#197" d="M687 451l6-1l-3 4l-6 0z"/><path fill="#298" d="M693 450l5 4l-3 2l-5-2z"/><path fill="#198" d="M698 454l6 1l-3 3l-6-2zM704 455l5 2l-3 2l-5-1z"/><path fill="#187" d="M709 457l6-1l-3 2l-6 1z"/><path fill="#197" d="M715 456l6 2l-4 2l-5-2z"/><path fill="#199" d="M721 458l5 5l-3 6l-6-9z"/><path fill="#2aa" d="M726 463l6-2l-3 7l-6 1z"/><path fill="#3a9" d="M732 461l5-4l-3 6l-5 5z"/><path fill="#297" d="M737 457l6 3l-3 2l-6 1z"/><path fill="#3aa" d="M376 399l6 3l-3 10l-6-4z"/><path fill="#29a" d="M382 402l5 10l-3 2l-5-2z"/><path fill="#28c" d="M387 412l6 2l-3 10l-6-10z"/><path fill="#25c" d="M393 414l6 2l-3 9l-6-1z"/><path fill="#24c" d="M399 416l5 8l-3 2l-5-1z"/><path fill="#13b" d="M404 424l6 0l-3 4l-6-2z"/><path fill="#24b" d="M410 424l5-4l-3 10l-5-2z"/><path fill="#25c" d="M415 420l6 1l-3 7l-6 2z"/><path fill="#27b" d="M421 421l6-5l-4 7l-5 5z"/><path fill="#39a" d="M427 416l5-5l-3 6l-6 6z"/><path fill="#299" d="M432 411l6 3l-3 5l-6-2z"/><path fill="#198" d="M438 414l5-2l-3 4l-5 3z"/><path fill="#176" d="M443 412l6 0l-3 0l-6 4z"/><path fill="#164" d="M449 412l6-3l-4 0l-5 3z"/><path fill="#285" d="M455 409l5 1l-3 1l-6-2z"/><path fill="#295" d="M460 410l6-1l-3 4l-6-2z"/><path fill="#395" d="M466 409l5 0l-3 4l-5 0z"/><path fill="#2a6" d="M471 409l6 3l-3 5l-6-4z"/><path fill="#297" d="M477 412l5 2l-3 5l-5-2z"/><path fill="#296" d="M482 414l6-3l-3 6l-6 2z"/><path fill="#4a5" d="M488 411l6-1l-3 8l-6-1z"/><path fill="#5b5" d="M494 410l5 1l-3 6l-5 1zM499 411l6 2l-3 5l-6-1z"/><path fill="#494" d="M505 413l5 4l-3-1l-5 2z"/><path fill="#483" d="M510 417l6 0l-3-1l-6 0z"/><path fill="#482" d="M516 417l6-2l-3-1l-6 2z"/><path fill="#7a2" d="M522 415l5 2l-3-2l-5-1z"/><path fill="#692" d="M527 417l6-1l-3-1l-6 0z"/><path fill="#891" d="M533 416l5-2l-3 0l-5 1z"/><path fill="#aa1" d="M538 414l6 2l-3-4l-6 2z"/><path fill="#ba1" d="M544 416l6-1l-3-3l-6 0z"/><path fill="#bb0" d="M550 415l5-1l-3-2l-5 0z"/><path fill="#a90" d="M555 414l6-4l-3-1l-6 3z"/><path fill="#ed0" d="M561 410l5 6l-3 0l-5-7z"/><path fill="#cd2" d="M566 416l6 8l-3 1l-6-9z"/><path fill="#4a5" d="M572 424l6 9l-3-1l-6-7z"/><path fill="#286" d="M578 433l5 1l-3 1l-5-3z"/><path fill="#296" d="M583 434l6 0l-3 4l-6-3z"/><path fill="#298" d="M589 434l5 4l-3 4l-5-4z"/><path fill="#198" d="M594 438l6 3l-3 4l-6-3z"/><path fill="#299" d="M600 441l6 5l-3 7l-6-8z"/><path fill="#3aa" d="M606 446l5-1l-3 7l-5 1z"/><path fill="#29a" d="M611 445l6 5l-3 3l-6-1z"/><path fill="#29b" d="M617 450l5 6l-3 2l-5-5z"/><path fill="#27a" d="M622 456l6 3l-3-3l-6 2z"/><path fill="#289" d="M628 459l6-5l-3 3l-6-1z"/><path fill="#188" d="M634 454l5-7l-3 7l-5 3z"/><path fill="#299" d="M639 447l6 1l-3 4l-6 2z"/><path fill="#176" d="M645 448l5-1l-3 1l-5 4z"/><path fill="#198" d="M650 447l6 4l-3 2l-6-5z"/><path fill="#199" d="M656 451l6 6l-4 7l-5-11z"/><path fill="#299" d="M662 457l5-3l-3 6l-6 4zM667 454l6-2l-3 6l-6 2z"/><path fill="#187" d="M673 452l5 1l-3 1l-5 4z"/><path fill="#197" d="M678 453l6 1l-3 3l-6-3z"/><path fill="#198" d="M684 454l6 0l-4 7l-5-4z"/><path fill="#3aa" d="M690 454l5 2l-3 4l-6 1z"/><path fill="#298" d="M695 456l6 2l-3 6l-6-4z"/><path fill="#3aa" d="M701 458l5 1l-3 9l-5-4zM706 459l6-1l-3 9l-6 1zM712 458l5 2l-3 9l-5-2zM717 460l6 9l-3 6l-6-6z"/><path fill="#199" d="M723 469l6-1l-3 3l-6 4z"/><path fill="#187" d="M729 468l5-5l-3 4l-5 4z"/><path fill="#186" d="M734 463l6-1l-3 2l-6 3z"/><path fill="#29b" d="M373 408l6 4l-3 8l-6-2z"/><path fill="#29c" d="M379 412l5 2l-3 4l-5 2z"/><path fill="#26c" d="M384 414l6 10l-3 4l-6-10z"/><path fill="#13b" d="M390 424l6 1l-4 2l-5 1z"/><path fill="#13a" d="M396 425l5 1l-3-2l-6 3z"/><path fill="#24b" d="M401 426l6 2l-3 6l-6-10z"/><path fill="#12a" d="M407 428l5 2l-3 13l-5-9zM412 430l6-2l-3 14l-6 1z"/><path fill="#13b" d="M418 428l5-5l-3 12l-5 7z"/><path fill="#28c" d="M423 423l6-6l-3 9l-6 9z"/><path fill="#3ab" d="M429 417l6 2l-3 9l-6-2zM435 419l5-3l-3 11l-5 1z"/><path fill="#3aa" d="M440 416l6-4l-3 6l-6 9z"/><path fill="#296" d="M446 412l5-3l-3 5l-5 4z"/><path fill="#3a6" d="M451 409l6 2l-3 4l-6-1z"/><path fill="#2a6" d="M457 411l6 2l-3 7l-6-5z"/><path fill="#297" d="M463 413l5 0l-3 8l-5-1zM468 413l6 4l-3 10l-6-6z"/><path fill="#3a9" d="M474 417l5 2l-3 5l-5 3z"/><path fill="#297" d="M479 419l6-2l-3 7l-6 0zM485 417l6 1l-3 7l-6-1z"/><path fill="#296" d="M491 418l5-1l-3 4l-5 4z"/><path fill="#494" d="M496 417l6 1l-3 1l-6 2z"/><path fill="#583" d="M502 418l5-2l-3-1l-5 4z"/><path fill="#792" d="M507 416l6 0l-3-3l-6 2z"/><path fill="#991" d="M513 416l6-2l-3-4l-6 3z"/><path fill="#ba0" d="M519 414l5 1l-3-7l-5 2z"/><path fill="#bb0" d="M524 415l6 0l-3-5l-6-2z"/><path fill="#ba0" d="M530 415l5-1l-3-4l-5 0z"/><path fill="#aa0" d="M535 414l6-2l-3-5l-6 3z"/><path fill="#ba0" d="M541 412l6 0l-3-8l-6 3z"/><path fill="#bb0" d="M547 412l5 0l-3-8l-5 0z"/><path fill="#ba0" d="M552 412l6-3l-3-3l-6-2z"/><path fill="#ed0" d="M558 409l5 7l-3-2l-5-8z"/><path fill="#dd1" d="M563 416l6 9l-3 0l-6-11z"/><path fill="#6b3" d="M569 425l6 7l-3 0l-6-7z"/><path fill="#395" d="M575 432l5 3l-3 1l-5-4z"/><path fill="#296" d="M580 435l6 3l-3 1l-6-3z"/><path fill="#286" d="M586 438l5 4l-3-1l-5-2z"/><path fill="#187" d="M591 442l6 3l-3-1l-6-3z"/><path fill="#198" d="M597 445l6 8l-4-4l-5-5z"/><path fill="#177" d="M603 453l5-1l-3-4l-6 1zM608 452l6 1l-3-3l-6-2z"/><path fill="#199" d="M614 453l5 5l-3 0l-5-8z"/><path fill="#189" d="M619 458l6-2l-3 3l-6-1z"/><path fill="#199" d="M625 456l6 1l-4 2l-5 0z"/><path fill="#188" d="M631 457l5-3l-3 4l-6 1zM636 454l6-2l-3 4l-6 2z"/><path fill="#187" d="M642 452l5-4l-3 5l-5 3z"/><path fill="#298" d="M647 448l6 5l-3 4l-6-4z"/><path fill="#299" d="M653 453l5 11l-3 4l-5-11z"/><path fill="#188" d="M658 464l6-4l-3 2l-6 6z"/><path fill="#199" d="M664 460l6-2l-3 7l-6-3z"/><path fill="#3a9" d="M670 458l5-4l-3 8l-5 3z"/><path fill="#3aa" d="M675 454l6 3l-3 11l-6-6zM681 457l5 4l-3 12l-5-5zM686 461l6-1l-3 11l-6 2z"/><path fill="#3ab" d="M692 460l6 4l-3 15l-6-8z"/><path fill="#29c" d="M698 464l5 4l-3 15l-5-4z"/><path fill="#29b" d="M703 468l6-1l-3 10l-6 6z"/><path fill="#3ab" d="M709 467l5 2l-3 7l-5 1z"/><path fill="#29a" d="M714 469l6 6l-3 2l-6-1z"/><path fill="#188" d="M720 475l6-4l-3 2l-6 4z"/><path fill="#177" d="M726 471l5-4l-3 2l-5 4z"/><path fill="#176" d="M731 467l6-3l-3 3l-6 2z"/><path fill="#28c" d="M370 418l6 2l-3 2l-6-2z"/><path fill="#27c" d="M376 420l5-2l-3 9l-5-5z"/><path fill="#24c" d="M381 418l6 10l-3 9l-6-10z"/><path fill="#13b" d="M387 428l5-1l-3 10l-5 0z"/><path fill="#24c" d="M392 427l6-3l-3 9l-6 4z"/><path fill="#13b" d="M398 424l6 10l-3 6l-6-7z"/><path fill="#129" d="M404 434l5 9l-3 4l-5-7z"/><path fill="#117" d="M409 443l6-1l-3-1l-6 6z"/><path fill="#128" d="M415 442l5-7l-3 1l-5 5z"/><path fill="#15a" d="M420 435l6-9l-3 4l-6 6z"/><path fill="#29b" d="M426 426l6 2l-3 2l-6 0z"/><path fill="#29a" d="M432 428l5-1l-3 4l-5-1z"/><path fill="#3aa" d="M437 427l6-9l-3 10l-6 3z"/><path fill="#3a9" d="M443 418l5-4l-3 8l-5 6z"/><path fill="#297" d="M448 414l6 1l-3 7l-6 0zM454 415l6 5l-3 5l-6-3z"/><path fill="#3a9" d="M460 420l5 1l-3 7l-5-3z"/><path fill="#3aa" d="M465 421l6 6l-3 7l-6-6zM471 427l5-3l-3 8l-5 2zM476 424l6 0l-3 5l-6 3z"/><path fill="#198" d="M482 424l6 1l-3 4l-6 0z"/><path fill="#286" d="M488 425l5-4l-3 5l-5 3z"/><path fill="#394" d="M493 421l6-2l-3 3l-6 4z"/><path fill="#792" d="M499 419l5-4l-3 1l-5 6z"/><path fill="#a90" d="M504 415l6-2l-3-2l-6 5zM510 413l6-3l-3-3l-6 4zM516 410l5-2l-3-5l-5 4z"/><path fill="#ca0" d="M521 408l6 2l-3-9l-6 2z"/><path fill="#cb0" d="M527 410l5 0l-3-8l-5-1z"/><path fill="#a90" d="M532 410l6-3l-3-7l-6 2z"/><path fill="#b40" d="M538 407l6-3l-4-5l-5 1z"/><path fill="#a11" d="M544 404l5 0l-3-8l-6 3z"/><path fill="#d11" d="M549 404l6 2l-3-4l-6-6z"/><path fill="#eb0" d="M555 406l5 8l-3-3l-5-9z"/><path fill="#ed0" d="M560 414l6 11l-3 1l-6-15z"/><path fill="#9c3" d="M566 425l6 7l-4 6l-5-12z"/><path fill="#4a5" d="M572 432l5 4l-3 5l-6-3z"/><path fill="#296" d="M577 436l6 3l-3 7l-6-5z"/><path fill="#297" d="M583 439l5 2l-3 8l-5-3z"/><path fill="#3a9" d="M588 441l6 3l-3 10l-6-5z"/><path fill="#3aa" d="M594 444l5 5l-3 6l-5-1zM599 449l6-1l-3 7l-6 0zM605 448l6 2l-3 9l-6-4z"/><path fill="#2aa" d="M611 450l5 8l-3 4l-5-3z"/><path fill="#29a" d="M616 458l6 1l-3 6l-6-3zM622 459l5 0l-3 5l-5 1z"/><path fill="#188" d="M627 459l6-1l-3 0l-6 6z"/><path fill="#187" d="M633 458l6-2l-3 1l-6 1z"/><path fill="#176" d="M639 456l5-3l-3 3l-5 1z"/><path fill="#198" d="M644 453l6 4l-3 2l-6-3zM650 457l5 11l-3-6l-5-3z"/><path fill="#166" d="M655 468l6-6l-3-1l-6 1z"/><path fill="#177" d="M661 462l6 3l-3-3l-6-1z"/><path fill="#187" d="M667 465l5-3l-3 3l-5-3z"/><path fill="#3aa" d="M672 462l6 6l-3 11l-6-14z"/><path fill="#27c" d="M678 468l5 5l-3 14l-5-8z"/><path fill="#26c" d="M683 473l6-2l-3 15l-6 1z"/><path fill="#24c" d="M689 471l6 8l-3 16l-6-9z"/><path fill="#13a" d="M695 479l5 4l-3 13l-5-1z"/><path fill="#13b" d="M700 483l6-6l-3 11l-6 8z"/><path fill="#28c" d="M706 477l5-1l-3 6l-5 6z"/><path fill="#188" d="M711 476l6 1l-3-2l-6 7z"/><path fill="#166" d="M717 477l6-4l-3-2l-6 4z"/><path fill="#165" d="M723 473l5-4l-3-2l-5 4z"/><path fill="#275" d="M728 469l6-2l-3 2l-6-2z"/><path fill="#27c" d="M367 420l6 2l-3 7l-6-1z"/><path fill="#25c" d="M373 422l5 5l-3 5l-5-3z"/><path fill="#13b" d="M378 427l6 10l-3 6l-6-11z"/><path fill="#129" d="M384 437l5 0l-3 14l-5-8z"/><path fill="#128" d="M389 437l6-4l-3 23l-6-5zM395 433l6 7l-3 10l-6 6zM401 440l5 7l-3-1l-5 4z"/><path fill="#127" d="M406 447l6-6l-3-5l-6 10z"/><path fill="#138" d="M412 441l5-5l-3-6l-5 6z"/><path fill="#279" d="M417 436l6-6l-3 0l-6 0z"/><path fill="#289" d="M423 430l6 0l-3 2l-6-2z"/><path fill="#189" d="M429 430l5 1l-3 0l-5 1z"/><path fill="#188" d="M434 431l6-3l-3 4l-6-1zM440 428l5-6l-3 5l-5 5z"/><path fill="#298" d="M445 422l6 0l-3 5l-6 0z"/><path fill="#197" d="M451 422l6 3l-3 2l-6 0z"/><path fill="#198" d="M457 425l5 3l-3 4l-5-5z"/><path fill="#299" d="M462 428l6 6l-3 6l-6-8z"/><path fill="#2aa" d="M468 434l5-2l-3 7l-5 1z"/><path fill="#187" d="M473 432l6-3l-3 2l-6 8zM479 429l6 0l-4 3l-5-1z"/><path fill="#286" d="M485 429l5-3l-3 5l-6 1z"/><path fill="#395" d="M490 426l6-4l-3 5l-6 4z"/><path fill="#8b2" d="M496 422l5-6l-3 3l-5 8z"/><path fill="#ba0" d="M501 416l6-5l-3-2l-6 10z"/><path fill="#a90" d="M507 411l6-4l-4-4l-5 6z"/><path fill="#a60" d="M513 407l5-4l-3-3l-6 3z"/><path fill="#a21" d="M518 403l6-2l-3-2l-6 1z"/><path fill="#a11" d="M524 401l5 1l-3-5l-5 2z"/><path fill="#911" d="M529 402l6-2l-3-9l-6 6z"/><path fill="#a11" d="M535 400l5-1l-3-7l-5-1zM540 399l6-3l-3-3l-6-1z"/><path fill="#d11" d="M546 396l6 6l-3 3l-6-12z"/><path fill="#f40" d="M552 402l5 9l-3 4l-5-10z"/><path fill="#fe0" d="M557 411l6 15l-3 1l-6-12z"/><path fill="#ac2" d="M563 426l5 12l-3 0l-5-11z"/><path fill="#3a6" d="M568 438l6 3l-3 6l-6-9z"/><path fill="#298" d="M574 441l6 5l-3 7l-6-6z"/><path fill="#3aa" d="M580 446l5 3l-3 12l-5-8z"/><path fill="#3ab" d="M585 449l6 5l-3 15l-6-8z"/><path fill="#29c" d="M591 454l5 1l-3 16l-5-2z"/><path fill="#3ab" d="M596 455l6 0l-3 11l-6 5zM602 455l6 4l-3 8l-6-1zM608 459l5 3l-3 5l-5 0z"/><path fill="#29c" d="M613 462l6 3l-3 5l-6-3zM619 465l5-1l-3 7l-5-1z"/><path fill="#3aa" d="M624 464l6-6l-3 9l-6 4z"/><path fill="#187" d="M630 458l6-1l-3 3l-6 7zM636 457l5-1l-3 3l-5 1z"/><path fill="#298" d="M641 456l6 3l-3 4l-6-4z"/><path fill="#198" d="M647 459l5 3l-3 5l-5-4z"/><path fill="#2a9" d="M652 462l6-1l-3 8l-6-2z"/><path fill="#3aa" d="M658 461l6 1l-3 9l-6-2zM664 462l5 3l-3 7l-5-1z"/><path fill="#29a" d="M669 465l6 14l-3 4l-6-11z"/><path fill="#24c" d="M675 479l5 8l-3 2l-5-6z"/><path fill="#13a" d="M680 487l6-1l-3 3l-6 0zM686 486l6 9l-4-3l-5-3z"/><path fill="#128" d="M692 495l5 1l-3-6l-6 2z"/><path fill="#127" d="M697 496l6-8l-3-2l-6 4z"/><path fill="#259" d="M703 488l5-6l-3 0l-5 4z"/><path fill="#177" d="M708 482l6-7l-3 1l-6 6z"/><path fill="#176" d="M714 475l6-4l-4 2l-5 3z"/><path fill="#285" d="M720 471l5-4l-3 3l-6 3z"/><path fill="#395" d="M725 467l6 2l-3 0l-6 1z"/><path fill="#13b" d="M364 428l6 1l-3 11l-6-2zM370 429l5 3l-3 7l-5 1z"/><path fill="#12a" d="M375 432l6 11l-3 4l-6-8z"/><path fill="#128" d="M381 443l5 8l-3 1l-5-5z"/><path fill="#117" d="M386 451l6 5l-3 0l-6-4z"/><path fill="#116" d="M392 456l6-6l-3 3l-6 3z"/><path fill="#117" d="M398 450l5-4l-3 0l-5 7z"/><path fill="#129" d="M403 446l6-10l-3 5l-6 5z"/><path fill="#26c" d="M409 436l5-6l-3 10l-5 1z"/><path fill="#28c" d="M414 430l6 0l-3 14l-6-4zM420 430l6 2l-4 11l-5 1z"/><path fill="#29b" d="M426 432l5-1l-3 5l-6 7z"/><path fill="#189" d="M431 431l6 1l-3 1l-6 3z"/><path fill="#198" d="M437 432l5-5l-3 7l-5-1zM442 427l6 0l-3 4l-6 3z"/><path fill="#197" d="M448 427l6 0l-4 4l-5 0z"/><path fill="#198" d="M454 427l5 5l-3 2l-6-3z"/><path fill="#299" d="M459 432l6 8l-3 3l-6-9z"/><path fill="#199" d="M465 440l5-1l-3 3l-5 1z"/><path fill="#188" d="M470 439l6-8l-3 6l-6 5z"/><path fill="#197" d="M476 431l5 1l-3 3l-5 2z"/><path fill="#175" d="M481 432l6-1l-3 0l-6 4z"/><path fill="#373" d="M487 431l6-4l-3-2l-6 6z"/><path fill="#991" d="M493 427l5-8l-3-4l-5 10z"/><path fill="#a90" d="M498 419l6-10l-3-2l-6 8z"/><path fill="#a50" d="M504 409l5-6l-3 0l-5 4z"/><path fill="#a11" d="M509 403l6-3l-3 1l-6 2zM515 400l6-1l-3 0l-6 2zM521 399l5-2l-3-1l-5 3z"/><path fill="#911" d="M526 397l6-6l-3 2l-6 3z"/><path fill="#d11" d="M532 391l5 1l-3 5l-5-4zM537 392l6 1l-3 9l-6-5z"/><path fill="#e11" d="M543 393l6 12l-3 9l-6-12z"/><path fill="#fc0" d="M549 405l5 10l-3 10l-5-11z"/><path fill="#fe0" d="M554 415l6 12l-3 8l-6-10z"/><path fill="#ad2" d="M560 427l5 11l-3 7l-5-10z"/><path fill="#296" d="M565 438l6 9l-3 8l-6-10z"/><path fill="#3aa" d="M571 447l6 6l-3 13l-6-11z"/><path fill="#3ab" d="M577 453l5 8l-3 9l-5-4z"/><path fill="#25c" d="M582 461l6 8l-3 10l-6-9z"/><path fill="#13b" d="M588 469l5 2l-3 13l-5-5zM593 471l6-5l-3 13l-6 5z"/><path fill="#25c" d="M599 466l6 1l-3 11l-6 1z"/><path fill="#27c" d="M605 467l5 0l-3 8l-5 3zM610 467l6 3l-3 6l-6-1z"/><path fill="#26c" d="M616 470l5 1l-3 11l-5-6zM621 471l6-4l-3 15l-6 0z"/><path fill="#3ab" d="M627 467l6-7l-4 17l-5 5z"/><path fill="#3aa" d="M633 460l5-1l-3 16l-6 2zM638 459l6 4l-3 15l-6-3z"/><path fill="#3ab" d="M644 463l5 4l-3 11l-5 0zM649 467l6 2l-3 14l-6-5z"/><path fill="#29b" d="M655 469l6 2l-4 12l-5 0z"/><path fill="#3ab" d="M661 471l5 1l-3 10l-6 1z"/><path fill="#27c" d="M666 472l6 11l-3 9l-6-10z"/><path fill="#13b" d="M672 483l5 6l-3 5l-5-2z"/><path fill="#13a" d="M677 489l6 0l-3 0l-6 5zM683 489l5 3l-3-4l-5 1z"/><path fill="#149" d="M688 492l6-2l-3-6l-6 4z"/><path fill="#269" d="M694 490l6-4l-3-4l-6 2z"/><path fill="#167" d="M700 486l5-4l-3-4l-5 4z"/><path fill="#176" d="M705 482l6-6l-3 2l-6 0z"/><path fill="#186" d="M711 476l5-3l-3 4l-5 1z"/><path fill="#286" d="M716 473l6-3l-3 5l-6 2z"/><path fill="#3a6" d="M722 470l6-1l-3 7l-6-1z"/><path fill="#12a" d="M361 438l6 2l-4 4l-5 1z"/><path fill="#129" d="M367 440l5-1l-3 2l-6 3z"/><path fill="#12a" d="M372 439l6 8l-3-1l-6-5z"/><path fill="#128" d="M378 447l5 5l-3 3l-5-9z"/><path fill="#117" d="M383 452l6 4l-3 1l-6-2z"/><path fill="#116" d="M389 456l6-3l-4 1l-5 3z"/><path fill="#127" d="M395 453l5-7l-3 3l-6 5z"/><path fill="#13a" d="M400 446l6-5l-3 5l-6 3z"/><path fill="#24c" d="M406 441l5-1l-3 6l-5 0zM411 440l6 4l-3 1l-6 1z"/><path fill="#149" d="M417 444l5-1l-3-5l-5 7z"/><path fill="#177" d="M422 443l6-7l-3 0l-6 2z"/><path fill="#299" d="M428 436l6-3l-3 8l-6-5zM434 433l5 1l-3 4l-5 3z"/><path fill="#187" d="M439 434l6-3l-3 2l-6 5zM445 431l5 0l-3 2l-5 0z"/><path fill="#198" d="M450 431l6 3l-3 2l-6-3zM456 434l6 9l-3-4l-6-3z"/><path fill="#177" d="M462 443l5-1l-3-2l-5-1z"/><path fill="#187" d="M467 442l6-5l-3 4l-6-1z"/><path fill="#176" d="M473 437l5-2l-3 1l-5 5z"/><path fill="#274" d="M478 435l6-4l-3-2l-6 7z"/><path fill="#682" d="M484 431l6-6l-3-2l-6 6z"/><path fill="#a90" d="M490 425l5-10l-3-3l-5 11zM495 415l6-8l-3 1l-6 4z"/><path fill="#d30" d="M501 407l5-4l-3 5l-5 0z"/><path fill="#c11" d="M506 403l6-2l-3 3l-6 4z"/><path fill="#a11" d="M512 401l6-2l-3 0l-6 5z"/><path fill="#b11" d="M518 399l5-3l-3 3l-5 0z"/><path fill="#d11" d="M523 396l6-3l-3 8l-6-2zM529 393l5 4l-3 13l-5-9z"/><path fill="#e11" d="M534 397l6 5l-3 14l-6-6z"/><path fill="#f50" d="M540 402l6 12l-3 10l-6-8z"/><path fill="#fe0" d="M546 414l5 11l-3 9l-5-10z"/><path fill="#fe1" d="M551 425l6 10l-3 8l-6-9z"/><path fill="#6b4" d="M557 435l5 10l-3 6l-5-8z"/><path fill="#297" d="M562 445l6 10l-3 1l-6-5z"/><path fill="#299" d="M568 455l6 11l-4 1l-5-11z"/><path fill="#28c" d="M574 466l5 4l-3 2l-6-5z"/><path fill="#24c" d="M579 470l6 9l-3 4l-6-11z"/><path fill="#129" d="M585 479l5 5l-3 5l-5-6zM590 484l6-5l-3 13l-6-3z"/><path fill="#12a" d="M596 479l6-1l-4 11l-5 3z"/><path fill="#13b" d="M602 478l5-3l-3 8l-6 6z"/><path fill="#24c" d="M607 475l6 1l-3 8l-6-1z"/><path fill="#13b" d="M613 476l5 6l-3 8l-5-6z"/><path fill="#13a" d="M618 482l6 0l-3 10l-6-2z"/><path fill="#13b" d="M624 482l5-5l-3 17l-5-2z"/><path fill="#24c" d="M629 477l6-2l-3 18l-6 1zM635 475l6 3l-3 19l-6-4zM641 478l5 0l-3 16l-5 3zM646 478l6 5l-3 11l-6 0zM652 483l5 0l-3 11l-5 0zM657 483l6-1l-3 13l-6-1z"/><path fill="#13b" d="M663 482l6 10l-3 8l-6-5z"/><path fill="#13a" d="M669 492l5 2l-3 4l-5 2zM674 494l6-5l-3 10l-6-1z"/><path fill="#24b" d="M680 489l5-1l-3 12l-5-1z"/><path fill="#26c" d="M685 488l6-4l-3 8l-6 8z"/><path fill="#3ab" d="M691 484l6-2l-3 7l-6 3z"/><path fill="#188" d="M697 482l5-4l-3 4l-5 7z"/><path fill="#198" d="M702 478l6 0l-3 4l-6 0z"/><path fill="#197" d="M708 478l5-1l-3 5l-5 0z"/><path fill="#286" d="M713 477l6-2l-3 4l-6 3z"/><path fill="#296" d="M719 475l6 1l-3 3l-6 0z"/><path fill="#129" d="M358 445l5-1l-3 0l-5-3zM363 444l6-3l-3 3l-6 0z"/><path fill="#13a" d="M369 441l6 5l-3-2l-6 0z"/><path fill="#129" d="M375 446l5 9l-3-4l-5-7z"/><path fill="#117" d="M380 455l6 2l-3-3l-6-3z"/><path fill="#116" d="M386 457l5-3l-3-2l-5 2z"/><path fill="#128" d="M391 454l6-5l-3 6l-6-3z"/><path fill="#12a" d="M397 449l6-3l-3 10l-6-1z"/><path fill="#13b" d="M403 446l5 0l-3 9l-5 1zM408 446l6-1l-3 3l-6 7z"/><path fill="#279" d="M414 445l5-7l-3 0l-5 10z"/><path fill="#188" d="M419 438l6-2l-3 3l-6-1z"/><path fill="#29a" d="M425 436l6 5l-3 5l-6-7z"/><path fill="#188" d="M431 441l5-3l-3 1l-5 7z"/><path fill="#187" d="M436 438l6-5l-3 5l-6 1z"/><path fill="#3a9" d="M442 433l5 0l-3 6l-5-1z"/><path fill="#198" d="M447 433l6 3l-3 3l-6 0z"/><path fill="#187" d="M453 436l6 3l-3-1l-6 1z"/><path fill="#176" d="M459 439l5 1l-3-1l-5-1zM464 440l6 1l-3-1l-6-1z"/><path fill="#175" d="M470 441l5-5l-3 3l-5 1z"/><path fill="#394" d="M475 436l6-7l-3 6l-6 4z"/><path fill="#ab1" d="M481 429l6-6l-3 2l-6 10z"/><path fill="#dc0" d="M487 423l5-11l-3 4l-5 9z"/><path fill="#fc0" d="M492 412l6-4l-3 7l-6 1z"/><path fill="#f70" d="M498 408l5 0l-3 6l-5 1z"/><path fill="#e11" d="M503 408l6-4l-3 7l-6 3zM509 404l6-5l-4 9l-5 3zM515 399l5 0l-3 8l-6 1z"/><path fill="#d11" d="M520 399l6 2l-3 7l-6-1z"/><path fill="#e11" d="M526 401l5 9l-3 6l-5-8z"/><path fill="#f50" d="M531 410l6 6l-3 8l-6-8z"/><path fill="#fe0" d="M537 416l6 8l-4 11l-5-11z"/><path fill="#fe1" d="M543 424l5 10l-3 12l-6-11z"/><path fill="#7c3" d="M548 434l6 9l-3 9l-6-6z"/><path fill="#296" d="M554 443l5 8l-3 9l-5-8z"/><path fill="#3a9" d="M559 451l6 5l-3 5l-6-1z"/><path fill="#3aa" d="M565 456l5 11l-3 8l-5-14z"/><path fill="#25c" d="M570 467l6 5l-3 16l-6-13z"/><path fill="#12a" d="M576 472l6 11l-3 13l-6-8z"/><path fill="#128" d="M582 483l5 6l-3 9l-5-2zM587 489l6 3l-3 9l-6-3zM593 492l5-3l-3 12l-5 0z"/><path fill="#129" d="M598 489l6-6l-3 11l-6 7z"/><path fill="#12a" d="M604 483l6 1l-3 10l-6 0zM610 484l5 6l-3 4l-5 0z"/><path fill="#129" d="M615 490l6 2l-3 3l-6-1zM621 492l5 2l-3 8l-5-7z"/><path fill="#128" d="M626 494l6-1l-3 14l-6-5zM632 493l6 4l-3 16l-6-6zM638 497l5-3l-3 19l-5 0zM643 494l6 0l-3 12l-6 7z"/><path fill="#129" d="M649 494l5 0l-3 9l-5 3zM654 494l6 1l-3 13l-6-5zM660 495l6 5l-3 11l-6-3zM666 500l5-2l-3 10l-5 3zM671 498l6 1l-3 14l-6-5zM677 499l5 1l-3 13l-5 0z"/><path fill="#12a" d="M682 500l6-8l-3 15l-6 6z"/><path fill="#25c" d="M688 492l6-3l-3 11l-6 7z"/><path fill="#3ab" d="M694 489l5-7l-3 9l-5 9z"/><path fill="#3aa" d="M699 482l6 0l-3 11l-6-2zM705 482l5 0l-3 10l-5 1z"/><path fill="#3a9" d="M710 482l6-3l-3 5l-6 8z"/><path fill="#286" d="M716 479l6 0l-3 3l-6 2z"/><path fill="#14a" d="M355 441l5 3l-3-2l-5-5z"/><path fill="#13b" d="M360 444l6 0l-3 2l-6-4z"/><path fill="#13a" d="M366 444l6 0l-3-1l-6 3zM372 444l5 7l-3-3l-5-5z"/><path fill="#129" d="M377 451l6 3l-3-2l-6-4z"/><path fill="#128" d="M383 454l5-2l-3-3l-5 3z"/><path fill="#129" d="M388 452l6 3l-3-2l-6-4zM394 455l6 1l-3 4l-6-7zM400 456l5-1l-3 5l-5 0z"/><path fill="#139" d="M405 455l6-7l-3 6l-6 6z"/><path fill="#28b" d="M411 448l5-10l-3 6l-5 10z"/><path fill="#299" d="M416 438l6 1l-3 5l-6 0zM422 439l6 7l-3-1l-6-1z"/><path fill="#177" d="M428 446l5-7l-3 1l-5 5z"/><path fill="#187" d="M433 439l6-1l-3 3l-6-1z"/><path fill="#198" d="M439 438l5 1l-3 4l-5-2zM444 439l6 0l-3 4l-6 0z"/><path fill="#187" d="M450 439l6-1l-4 4l-5 1z"/><path fill="#296" d="M456 438l5 1l-3 3l-6 0z"/><path fill="#297" d="M461 439l6 1l-3 8l-6-6z"/><path fill="#298" d="M467 440l5-1l-3 8l-5 1z"/><path fill="#296" d="M472 439l6-4l-3 9l-6 3z"/><path fill="#8c3" d="M478 435l6-10l-4 10l-5 9z"/><path fill="#fe1" d="M484 425l5-9l-3 12l-6 7z"/><path fill="#fe0" d="M489 416l6-1l-3 10l-6 3zM495 415l5-1l-3 9l-5 2z"/><path fill="#fc0" d="M500 414l6-3l-3 12l-6 0z"/><path fill="#f50" d="M506 411l5-3l-3 14l-5 1z"/><path fill="#e11" d="M511 408l6-1l-3 15l-6 0zM517 407l6 1l-3 17l-6-3z"/><path fill="#f70" d="M523 408l5 8l-3 15l-5-6z"/><path fill="#fe0" d="M528 416l6 8l-3 10l-6-3zM534 424l5 11l-3 9l-5-10z"/><path fill="#ad2" d="M539 435l6 11l-3 7l-6-9z"/><path fill="#3a5" d="M545 446l6 6l-3 6l-6-5z"/><path fill="#3aa" d="M551 452l5 8l-3 14l-5-16z"/><path fill="#3ab" d="M556 460l6 1l-3 23l-6-10z"/><path fill="#24c" d="M562 461l5 14l-3 20l-5-11z"/><path fill="#129" d="M567 475l6 13l-3 13l-6-6z"/><path fill="#128" d="M573 488l6 8l-3 2l-6 3z"/><path fill="#117" d="M579 496l5 2l-3 0l-5 0zM584 498l6 3l-3 7l-6-10zM590 501l5 0l-3 10l-5-3zM595 501l6-7l-3 11l-6 6z"/><path fill="#128" d="M601 494l6 0l-3 11l-6 0zM607 494l5 0l-3 7l-5 4z"/><path fill="#129" d="M612 494l6 1l-3 6l-6 0z"/><path fill="#128" d="M618 495l5 7l-3 10l-5-11z"/><path fill="#117" d="M623 502l6 5l-3 8l-6-3z"/><path fill="#116" d="M629 507l6 6l-3 6l-6-4zM635 513l5 0l-3 7l-5-1zM640 513l6-7l-3 0l-6 14z"/><path fill="#117" d="M646 506l5-3l-3 0l-5 3z"/><path fill="#129" d="M651 503l6 5l-3 2l-6-7z"/><path fill="#128" d="M657 508l6 3l-3 3l-6-4z"/><path fill="#127" d="M663 511l5-3l-3 6l-5 0z"/><path fill="#128" d="M668 508l6 5l-3 6l-6-5z"/><path fill="#127" d="M674 513l5 0l-3 4l-5 2zM679 513l6-6l-3 6l-6 4z"/><path fill="#129" d="M685 507l6-7l-4 5l-5 8z"/><path fill="#27a" d="M691 500l5-9l-3 2l-6 12z"/><path fill="#199" d="M696 491l6 2l-3 1l-6-1z"/><path fill="#188" d="M702 493l5-1l-3 1l-5 1z"/><path fill="#177" d="M707 492l6-8l-3 4l-6 5z"/><path fill="#286" d="M713 484l6-2l-4 4l-5 2z"/><path fill="#28c" d="M352 437l5 5l-3 5l-5-9z"/><path fill="#24c" d="M357 442l6 4l-3 9l-6-8z"/><path fill="#13b" d="M363 446l6-3l-3 10l-6 2z"/><path fill="#24c" d="M369 443l5 5l-3 2l-5 3z"/><path fill="#13b" d="M374 448l6 4l-3 1l-6-3z"/><path fill="#13a" d="M380 452l5-3l-3 3l-5 1z"/><path fill="#14b" d="M385 449l6 4l-3-1l-6 0z"/><path fill="#13a" d="M391 453l6 7l-4 2l-5-10z"/><path fill="#128" d="M397 460l5 0l-3 1l-6 1zM402 460l6-6l-3-3l-6 10z"/><path fill="#279" d="M408 454l5-10l-3 2l-5 5z"/><path fill="#199" d="M413 444l6 0l-3 3l-6-1z"/><path fill="#29a" d="M419 444l6 1l-4 7l-5-5z"/><path fill="#188" d="M425 445l5-5l-3 5l-6 7z"/><path fill="#198" d="M430 440l6 1l-3 5l-6-1z"/><path fill="#3aa" d="M436 441l5 2l-3 10l-5-7zM441 443l6 0l-3 9l-6 1zM447 443l5-1l-3 6l-5 4z"/><path fill="#297" d="M452 442l6 0l-3 5l-6 1z"/><path fill="#198" d="M458 442l6 6l-3 2l-6-3zM464 448l5-1l-3 5l-5-2z"/><path fill="#3a9" d="M469 447l6-3l-3 9l-6-1z"/><path fill="#3a6" d="M475 444l5-9l-3 10l-5 8z"/><path fill="#ad2" d="M480 435l6-7l-3 14l-6 3z"/><path fill="#fe1" d="M486 428l6-3l-3 13l-6 4zM492 425l5-2l-3 17l-5-2z"/><path fill="#fe0" d="M497 423l6 0l-3 18l-6-1zM503 423l5-1l-3 17l-5 2zM508 422l6 0l-3 13l-6 4zM514 422l6 3l-3 15l-6-5zM520 425l5 6l-3 15l-5-6z"/><path fill="#fe1" d="M525 431l6 3l-3 14l-6-2z"/><path fill="#de1" d="M531 434l5 10l-3 8l-5-4z"/><path fill="#5b4" d="M536 444l6 9l-3 6l-6-7z"/><path fill="#297" d="M542 453l6 5l-3 9l-6-8z"/><path fill="#3ab" d="M548 458l5 16l-3 14l-5-21z"/><path fill="#13b" d="M553 474l6 10l-3 14l-6-10z"/><path fill="#128" d="M559 484l5 11l-3 14l-5-11z"/><path fill="#117" d="M564 495l6 6l-3 11l-6-3z"/><path fill="#116" d="M570 501l6-3l-3 4l-6 10z"/><path fill="#127" d="M576 498l5 0l-3 3l-5 1z"/><path fill="#117" d="M581 498l6 10l-3 3l-6-10z"/><path fill="#116" d="M587 508l5 3l-3 9l-5-9zM592 511l6-6l-3 13l-6 2zM598 505l6 0l-3 10l-6 3z"/><path fill="#117" d="M604 505l5-4l-3 9l-5 5z"/><path fill="#128" d="M609 501l6 0l-3 14l-6-5z"/><path fill="#117" d="M615 501l5 11l-3 10l-5-7z"/><path fill="#116" d="M620 512l6 3l-3 3l-6 4z"/><path fill="#115" d="M626 515l6 4l-4-2l-5 1zM632 519l5 1l-3-4l-6 1zM637 520l6-14l-3 1l-6 9z"/><path fill="#127" d="M643 506l5-3l-3-1l-5 5z"/><path fill="#129" d="M648 503l6 7l-3 1l-6-9z"/><path fill="#128" d="M654 510l6 4l-4 4l-5-7z"/><path fill="#116" d="M660 514l5 0l-3-3l-6 7z"/><path fill="#117" d="M665 514l6 5l-3-6l-6-2z"/><path fill="#116" d="M671 519l5-2l-3-4l-5 0zM676 517l6-4l-3-5l-6 5z"/><path fill="#127" d="M682 513l5-8l-3-3l-5 6z"/><path fill="#177" d="M687 505l6-12l-3 0l-6 9zM693 493l6 1l-3-3l-6 2z"/><path fill="#176" d="M699 494l5-1l-3-2l-5 0z"/><path fill="#175" d="M704 493l6-5l-3 2l-6 1z"/><path fill="#286" d="M710 488l5-2l-3 5l-5-1z"/><path fill="#24c" d="M349 438l5 9l-3 8l-5-3z"/><path fill="#13b" d="M354 447l6 8l-3 4l-6-4z"/><path fill="#12a" d="M360 455l6-2l-4 9l-5-3z"/><path fill="#13a" d="M366 453l5-3l-3 8l-6 4z"/><path fill="#13b" d="M371 450l6 3l-3 0l-6 5z"/><path fill="#14b" d="M377 453l5-1l-3 2l-5-1z"/><path fill="#25b" d="M382 452l6 0l-3 3l-6-1z"/><path fill="#14b" d="M388 452l5 10l-3-7l-5 0z"/><path fill="#138" d="M393 462l6-1l-3-12l-6 6z"/><path fill="#168" d="M399 461l6-10l-3-8l-6 6z"/><path fill="#166" d="M405 451l5-5l-3-3l-5 0z"/><path fill="#187" d="M410 446l6 1l-3-2l-6-2z"/><path fill="#198" d="M416 447l5 5l-3-2l-5-5z"/><path fill="#177" d="M421 452l6-7l-3 2l-6 3z"/><path fill="#187" d="M427 445l6 1l-3 0l-6 1z"/><path fill="#199" d="M433 446l5 7l-3 0l-5-7z"/><path fill="#29a" d="M438 453l6-1l-3 9l-6-8z"/><path fill="#3ab" d="M444 452l5-4l-3 13l-5 0z"/><path fill="#3aa" d="M449 448l6-1l-3 10l-6 4z"/><path fill="#2a9" d="M455 447l6 3l-3 2l-6 5z"/><path fill="#198" d="M461 450l5 2l-3 5l-5-5z"/><path fill="#3aa" d="M466 452l6 1l-3 13l-6-9zM472 453l5-8l-3 11l-5 10z"/><path fill="#296" d="M477 445l6-3l-3 14l-6 0z"/><path fill="#4a5" d="M483 442l6-4l-3 16l-6 2z"/><path fill="#6b4" d="M489 438l5 2l-3 12l-5 2z"/><path fill="#8c3" d="M494 440l6 1l-3 8l-6 3z"/><path fill="#ad2" d="M500 441l5-2l-3 11l-5-1z"/><path fill="#de1" d="M505 439l6-4l-3 14l-6 1z"/><path fill="#ee1" d="M511 435l6 5l-3 10l-6-1z"/><path fill="#cd2" d="M517 440l5 6l-3 4l-5 0z"/><path fill="#9c3" d="M522 446l6 2l-3 8l-6-6z"/><path fill="#5b4" d="M528 448l5 4l-3 9l-5-5z"/><path fill="#2a6" d="M533 452l6 7l-3 7l-6-5z"/><path fill="#3a9" d="M539 459l6 8l-3 5l-6-6z"/><path fill="#29c" d="M545 467l5 21l-3-3l-5-13z"/><path fill="#129" d="M550 488l6 10l-3-3l-6-10z"/><path fill="#117" d="M556 498l5 11l-3-4l-5-10z"/><path fill="#116" d="M561 509l6 3l-3 1l-6-8zM567 512l6-10l-4 9l-5 2z"/><path fill="#127" d="M573 502l5-1l-3 8l-6 2z"/><path fill="#117" d="M578 501l6 10l-3 1l-6-3z"/><path fill="#116" d="M584 511l5 9l-3-4l-5-4z"/><path fill="#115" d="M589 520l6-2l-3 0l-6-2zM595 518l6-3l-4 7l-5-4z"/><path fill="#116" d="M601 515l5-5l-3 11l-6 1zM606 510l6 5l-3 8l-6-2zM612 515l5 7l-3-1l-5 2z"/><path fill="#114" d="M617 522l6-4l-3-7l-6 10z"/><path fill="#116" d="M623 518l5-1l-3-6l-5 0zM628 517l6-1l-3-4l-6-1zM634 516l6-9l-3 4l-6 1z"/><path fill="#129" d="M640 507l5-5l-3 8l-5 1z"/><path fill="#12a" d="M645 502l6 9l-3 2l-6-3z"/><path fill="#128" d="M651 511l5 7l-3-1l-5-4z"/><path fill="#116" d="M656 518l6-7l-3-3l-6 9z"/><path fill="#128" d="M662 511l6 2l-3-9l-6 4z"/><path fill="#138" d="M668 513l5 0l-3-11l-5 2z"/><path fill="#148" d="M673 513l6-5l-3-10l-6 4z"/><path fill="#279" d="M679 508l5-6l-3-1l-5-3z"/><path fill="#177" d="M684 502l6-9l-3 4l-6 4z"/><path fill="#187" d="M690 493l6-2l-3 3l-6 3zM696 491l5 0l-3 2l-5 1z"/><path fill="#175" d="M701 491l6-1l-3 1l-6 2z"/><path fill="#274" d="M707 490l5 1l-3-5l-5 5z"/><path fill="#13a" d="M346 452l5 3l-3 0l-5-4zM351 455l6 4l-3 1l-6-5z"/><path fill="#129" d="M357 459l5 3l-3-2l-5 0z"/><path fill="#128" d="M362 462l6-4l-3 1l-6 1z"/><path fill="#139" d="M368 458l6-5l-3-1l-6 7z"/><path fill="#26c" d="M374 453l5 1l-3 6l-5-8z"/><path fill="#24c" d="M379 454l6 1l-3 10l-6-5z"/><path fill="#25b" d="M385 455l5 0l-3 0l-5 10z"/><path fill="#177" d="M390 455l6-6l-3-3l-6 9zM396 449l6-6l-3 3l-6 0z"/><path fill="#176" d="M402 443l5 0l-3 0l-5 3z"/><path fill="#175" d="M407 443l6 2l-3-5l-6 3z"/><path fill="#187" d="M413 445l5 5l-3-3l-5-7z"/><path fill="#165" d="M418 450l6-3l-3 0l-6 0z"/><path fill="#164" d="M424 447l6-1l-3-4l-6 5z"/><path fill="#187" d="M430 446l5 7l-3 0l-5-11z"/><path fill="#29a" d="M435 453l6 8l-3 9l-6-17z"/><path fill="#27c" d="M441 461l5 0l-3 11l-5-2z"/><path fill="#29b" d="M446 461l6-4l-3 8l-6 7z"/><path fill="#3aa" d="M452 457l6-5l-3 6l-6 7zM458 452l5 5l-3 10l-5-9z"/><path fill="#29b" d="M463 457l6 9l-3 9l-6-8z"/><path fill="#3ab" d="M469 466l5-10l-3 9l-5 10z"/><path fill="#3aa" d="M474 456l6 0l-3 10l-6-1zM480 456l6-2l-3 13l-6-1z"/><path fill="#298" d="M486 454l5-2l-3 10l-5 5z"/><path fill="#3a6" d="M491 452l6-3l-3 7l-6 6z"/><path fill="#5b5" d="M497 449l5 1l-3 8l-5-2z"/><path fill="#4a5" d="M502 450l6-1l-3 13l-6-4zM508 449l6 1l-4 12l-5 0z"/><path fill="#5b4" d="M514 450l5 0l-3 11l-6 1z"/><path fill="#4a5" d="M519 450l6 6l-3 10l-6-5z"/><path fill="#296" d="M525 456l5 5l-3 5l-5 0zM530 461l6 5l-3-1l-6 1z"/><path fill="#187" d="M536 466l6 6l-4-4l-5-3z"/><path fill="#188" d="M542 472l5 13l-3-11l-6-6z"/><path fill="#26b" d="M547 485l6 10l-3-10l-6-11z"/><path fill="#129" d="M553 495l5 10l-3-7l-5-13z"/><path fill="#117" d="M558 505l6 8l-3-4l-6-11z"/><path fill="#116" d="M564 513l5-2l-3 5l-5-7z"/><path fill="#115" d="M569 511l6-2l-3-2l-6 9z"/><path fill="#116" d="M575 509l6 3l-3-9l-6 4zM581 512l5 4l-3-9l-5-4zM586 516l6 2l-3-5l-6-6zM592 518l5 4l-3 1l-5-10z"/><path fill="#115" d="M597 522l6-1l-3 4l-6-2zM603 521l6 2l-3 3l-6-1zM609 523l5-2l-3-2l-5 7z"/><path fill="#116" d="M614 521l6-10l-3 2l-6 6z"/><path fill="#128" d="M620 511l5 0l-3 2l-5 0zM625 511l6 1l-3-1l-6 2zM631 512l6-1l-3 4l-6-4zM637 511l5-1l-3 2l-5 3z"/><path fill="#129" d="M642 510l6 3l-3-2l-6 1z"/><path fill="#128" d="M648 513l5 4l-3-5l-5-1z"/><path fill="#127" d="M653 517l6-9l-3-5l-6 9z"/><path fill="#268" d="M659 508l6-4l-3-6l-6 5z"/><path fill="#177" d="M665 504l5-2l-3-6l-5 2z"/><path fill="#166" d="M670 502l6-4l-3-3l-6 1z"/><path fill="#188" d="M676 498l5 3l-3-2l-5-4zM681 501l6-4l-3 4l-6-2z"/><path fill="#3aa" d="M687 497l6-3l-3 11l-6-4zM693 494l5-1l-3 9l-5 3z"/><path fill="#296" d="M698 493l6-2l-3 3l-6 8z"/><path fill="#582" d="M704 491l5-5l-3-2l-5 10z"/></g><path d="M298.7 333L298.7 490L742.2 570L911.2 357.2" stroke="#2a1812" stroke-width="3.4" fill="none" stroke-linejoin="miter"/><path d="M911.2 357.2l11 1.2M868.9 410.4l11 1.2M826.7 463.6l11 1.2M784.4 516.8l11 1.2M742.2 570l11 1.2" stroke="#3a2c26" stroke-width="2.2" fill="none"/><path d="M298.7 490l-4.5 7M387.4 506l-4.5 7M476.1 522l-4.5 7M564.8 538l-4.5 7M653.5 554l-4.5 7M742.2 570l-4.5 7" stroke="#8a807a" stroke-width="1.6" fill="none"/><text transform="translate(284.7 522.8) skewY(5)" font-size="25.5" text-anchor="middle" fill="#3a3a3a" stroke="#3a3a3a" stroke-width="0.45">0</text><text transform="translate(370.7 539.5) skewY(5)" font-size="25.5" text-anchor="middle" fill="#3a3a3a" stroke="#3a3a3a" stroke-width="0.45">10</text><text transform="translate(455.6 554.9) skewY(5)" font-size="25.5" text-anchor="middle" fill="#3a3a3a" stroke="#3a3a3a" stroke-width="0.45">20</text><text transform="translate(545 570.1) skewY(5)" font-size="25.5" text-anchor="middle" fill="#3a3a3a" stroke="#3a3a3a" stroke-width="0.45">30</text><text transform="translate(631 585.6) skewY(5)" font-size="25.5" text-anchor="middle" fill="#3a3a3a" stroke="#3a3a3a" stroke-width="0.45">40</text><text transform="translate(721.5 602.1) skewY(5)" font-size="25.5" text-anchor="middle" fill="#3a3a3a" stroke="#3a3a3a" stroke-width="0.45">50</text><text x="939.4" y="378.6" font-size="26" text-anchor="middle" fill="#3a3a3a" stroke="#3a3a3a" stroke-width="0.45">–10</text><text x="892.8" y="432.4" font-size="26" text-anchor="middle" fill="#3a3a3a" stroke="#3a3a3a" stroke-width="0.45">0</text><text x="855.9" y="485.6" font-size="26" text-anchor="middle" fill="#3a3a3a" stroke="#3a3a3a" stroke-width="0.45">10</text><text x="816.2" y="539.7" font-size="26" text-anchor="middle" fill="#3a3a3a" stroke="#3a3a3a" stroke-width="0.45">20</text><text x="774.4" y="592.3" font-size="26" text-anchor="middle" fill="#3a3a3a" stroke="#3a3a3a" stroke-width="0.45">30</text><text transform="translate(425.8 594.7) skewY(9.3)" font-size="26.6" fill="#3a3a3a" stroke="#3a3a3a" stroke-width="0.45">Energy (eV)</text><text transform="translate(853.4 524.3) skewY(10)" font-size="30" fill="#3a3a3a" stroke="#3a3a3a" stroke-width="0.45">Time (ps)</text><text transform="translate(287.5 409) rotate(-90)" font-size="27" text-anchor="middle" font-style="italic" fill="#3a3a3a" stroke="#3a3a3a" stroke-width="0.45">ΔI (Arb. Un.)</text></g>
<g id="a-inset"><rect x="113.2" y="26.5" width="322.3" height="193.5" fill="#acdbe4" stroke="#3c4a4c" stroke-width="2" />
<path d="M118.3 220v-4.5M166.3 220v-4.5M214.3 220v-4.5M262.3 220v-4.5M310.3 220v-4.5M358.3 220v-4.5M406.3 220v-4.5" stroke="#34484a" stroke-width="1.6" fill="none"/>
<path d="M118.3 26.5v4.5M166.3 26.5v4.5M214.3 26.5v4.5M262.3 26.5v4.5M310.3 26.5v4.5M358.3 26.5v4.5M406.3 26.5v4.5" stroke="#34484a" stroke-width="1.6" fill="none"/>
<path d="M142.3 220v-2.5M190.3 220v-2.5M238.3 220v-2.5M286.3 220v-2.5M334.3 220v-2.5M382.3 220v-2.5M430.3 220v-2.5" stroke="#34484a" stroke-width="1.4" fill="none"/>
<path d="M142.3 26.5v2.5M190.3 26.5v2.5M238.3 26.5v2.5M286.3 26.5v2.5M334.3 26.5v2.5M382.3 26.5v2.5M430.3 26.5v2.5" stroke="#34484a" stroke-width="1.4" fill="none"/>
<path d="M113.2 55.2h5M113.2 88.4h5M113.2 122.7h5M113.2 156.9h5M113.2 192.1h5" stroke="#34484a" stroke-width="1.4" fill="none"/>
<path d="M435.5 55.2h-5M435.5 88.4h-5M435.5 122.7h-5M435.5 156.9h-5M435.5 192.1h-5" stroke="#34484a" stroke-width="1.4" fill="none"/>
<g clip-path="url(#cpa1)">
<circle cx="142.3" cy="186" r="3.6" fill="#0d0d0d"/><circle cx="166.3" cy="176.5" r="3.6" fill="#0d0d0d"/><circle cx="214.3" cy="64.8" r="3.6" fill="#0d0d0d"/><circle cx="238.3" cy="66" r="3.6" fill="#0d0d0d"/><circle cx="262.3" cy="133" r="3.6" fill="#0d0d0d"/><circle cx="286.3" cy="163" r="3.6" fill="#0d0d0d"/><circle cx="310.3" cy="183.7" r="3.6" fill="#0d0d0d"/><circle cx="334.3" cy="196.2" r="3.6" fill="#0d0d0d"/><circle cx="358.3" cy="202.2" r="3.6" fill="#0d0d0d"/><circle cx="382.3" cy="203" r="3.6" fill="#0d0d0d"/><circle cx="406.3" cy="197.8" r="3.6" fill="#0d0d0d"/><circle cx="430.3" cy="195.5" r="3.6" fill="#0d0d0d"/>
<path d="M113 191.8L115.7 191.8L118.4 191.8L121.2 191.7L123.9 191.7L126.6 191.6L129.3 191.5L132 191.4L134.7 191.3L137.5 191.2L140.2 191L142.9 190.6L145.6 190.1L148.3 189.5L151 188.7L153.7 187.9L156.5 187.1L159.2 186.1L161.9 184.8L164.6 183.2L167.3 181.2L170 178.3L172.7 174.7L175.5 170.6L178.2 166.2L180.9 161.6L183.6 156.3L186.3 150.6L189 144.2L191.7 137L194.5 128.3L197.2 118.7L199.9 109L202.6 100.1L205.3 91.4L208 82.7L210.7 74.7L213.5 67.8L216.2 62.2L218.9 57.7L221.6 55.3L224.3 53.9L227 54.2L229.7 55.6L232.5 57.7L235.2 61.4L237.9 66.2L240.6 72.1L243.3 79.6L246 87.9L248.8 96.4L251.5 104.4L254.2 113L256.9 121.6L259.6 129.5L262.3 136L265 141.2L267.8 145.8L270.5 149.9L273.2 153.5L275.9 157L278.6 160.2L281.3 163.2L284 166L286.8 168.4L289.5 170.7L292.2 172.8L294.9 174.9L297.6 176.9L300.3 178.7L303 180.4L305.8 182.1L308.5 183.6L311.2 184.9L313.9 186.3L316.6 187.5L319.3 188.7L322 189.8L324.8 190.8L327.5 191.8L330.2 192.7L332.9 193.6L335.6 194.4L338.3 195.1L341 195.9L343.8 196.5L346.5 197.2L349.2 197.8L351.9 198.4L354.6 198.9L357.3 199.3L360.1 199.8L362.8 200.2L365.5 200.5L368.2 200.9L370.9 201.2L373.6 201.5L376.3 201.7L379.1 202L381.8 202.3L384.5 202.5L387.2 202.7L389.9 202.9L392.6 203.1L395.3 203.3L398.1 203.5L400.8 203.7L403.5 203.8L406.2 204L408.9 204.1L411.6 204.3L414.3 204.4L417.1 204.5L419.8 204.6L422.5 204.8L425.2 204.9L427.9 205L430.6 205.1L433.3 205.1L436.1 205.2" fill="none" stroke="#141414" stroke-width="3" stroke-linejoin="round"/>
<path d="M113 191.8L115.7 191.8L118.4 191.8L121.2 191.8L123.9 191.8L126.6 191.7L129.3 191.7L132 191.7L134.7 191.6L137.5 191.6L140.2 191.5L142.9 191.3L145.6 191.1L148.3 190.8L151 190.4L153.7 190L156.5 189.5L159.2 189L161.9 188.3L164.6 187.3L167.3 186L170 183.8L172.7 180.7L175.5 177.1L178.2 173.2L180.9 168.9L183.6 164L186.3 158.5L189 152.6L191.7 146.2L194.5 139L197.2 131.2L199.9 123.1L202.6 115.1L205.3 106.9L208 98.4L210.7 90.1L213.5 82.5L216.2 75.8L218.9 69.2L221.6 63.6L224.3 59.5L227 56.3L229.7 54.3L232.5 53.8L235.2 53.7L237.9 54.9L240.6 56.9L243.3 60.5L246 66.1L248.8 72.5L251.5 78.6L254.2 85.3L256.9 92.3L259.6 99.3L262.3 106.1L265 112.5L267.8 119L270.5 125.2L273.2 130.9L275.9 136L278.6 140.9L281.3 145.4L284 149.3L286.8 152.5L289.5 155.1L292.2 157.6L294.9 159.8L297.6 161.9L300.3 163.8L303 165.5L305.8 167.1L308.5 168.5L311.2 169.8L313.9 171L316.6 172.1L319.3 173.1L322 174.1L324.8 175L327.5 175.9L330.2 176.7L332.9 177.6L335.6 178.4L338.3 179.3L341 180.1L343.8 180.8L346.5 181.6L349.2 182.4L351.9 183.1L354.6 183.9L357.3 184.7L360.1 185.5L362.8 186.4L365.5 187.3L368.2 188.2L370.9 189.1L373.6 190L376.3 190.8L379.1 191.7L381.8 192.5L384.5 193.2L387.2 194L389.9 194.7L392.6 195.4L395.3 196.1L398.1 196.8L400.8 197.4L403.5 198L406.2 198.5L408.9 199L411.6 199.4L414.3 199.9L417.1 200.3L419.8 200.7L422.5 201.1L425.2 201.4L427.9 201.7L430.6 202L433.3 202.3L436.1 202.5" fill="none" stroke="#ea3a20" stroke-width="2.7" stroke-linejoin="round"/>
<circle cx="118.3" cy="191" r="3.6" fill="#ee1c12"/><circle cx="142.3" cy="192" r="3.6" fill="#ee1c12"/><circle cx="166.3" cy="185" r="3.6" fill="#ee1c12"/><circle cx="190.3" cy="149.7" r="3.6" fill="#ee1c12"/><circle cx="214.3" cy="80.4" r="3.6" fill="#ee1c12"/><circle cx="238.3" cy="58.5" r="3.6" fill="#ee1c12"/><circle cx="262.3" cy="106" r="3.6" fill="#ee1c12"/><circle cx="286.3" cy="152.4" r="3.6" fill="#ee1c12"/><circle cx="310.3" cy="169.4" r="3.6" fill="#ee1c12"/><circle cx="334.3" cy="169.8" r="3.6" fill="#ee1c12"/><circle cx="358.3" cy="185" r="3.6" fill="#ee1c12"/><circle cx="382.3" cy="193.3" r="3.6" fill="#ee1c12"/><circle cx="406.3" cy="201" r="3.6" fill="#ee1c12"/><circle cx="430.3" cy="199" r="3.6" fill="#ee1c12"/>
</g>
<circle cx="307" cy="54.8" r="5.6" fill="#0a0a0a"/>
<circle cx="307" cy="77.8" r="5.6" fill="#ee1a12"/>
<text x="331.5" y="61.6" font-size="18.5" fill="#2c4a50" stroke="#2c4a50" stroke-width="0.8">3-5 eV</text>
<text x="331.5" y="84.6" font-size="18.5" fill="#2c4a50" stroke="#2c4a50" stroke-width="0.8">20-30 eV</text>
<text x="170" y="47.5" font-size="17" font-weight="bold" fill="#2c4a50" font-family="Liberation Serif, serif" stroke="#2c4a50" stroke-width="0.3">Δ<tspan font-style="italic">t</tspan></text>
<text x="146.5" y="68.2" font-size="17.8" fill="#2c4a50" stroke="#2c4a50" stroke-width="0.8">(150 fs)</text>
<text x="284.5" y="123.6" font-size="18.4" fill="#2c4a50" stroke="#2c4a50" stroke-width="0.9"><tspan font-style="italic" font-size="15">τ</tspan><tspan font-size="9" dy="2">D</tspan><tspan dy="-2">(</tspan><tspan font-style="italic" font-size="15" fill="#c86a4a">τ</tspan><tspan font-size="9" dy="2" fill="#c86a4a">e</tspan><tspan dy="-2">) = 180 fs</tspan></text>
<path d="M203.5 40.9L216.5 40.9" stroke="#24383c" stroke-width="2" /><path d="M223.5 40.9L215.5 44.3L215.5 37.5Z" fill="#24383c"/>
<path d="M254.5 40.9L240 40.9" stroke="#24383c" stroke-width="2" /><path d="M233 40.9L241 37.5L241 44.3Z" fill="#24383c"/>
<path d="M224.2 33.5L224.2 48" stroke="#24383c" stroke-width="1.9" />
<path d="M231.7 33.5L231.7 48" stroke="#24383c" stroke-width="1.9" />
<text x="115.3" y="248.9" font-size="19.3" text-anchor="middle" fill="#3a3a3a" stroke="#3a3a3a" stroke-width="0.6">–2</text>
<text x="163.3" y="248.9" font-size="19.3" text-anchor="middle" fill="#3a3a3a" stroke="#3a3a3a" stroke-width="0.6">–1</text>
<text x="214.3" y="248.9" font-size="19.3" text-anchor="middle" fill="#3a3a3a" stroke="#3a3a3a" stroke-width="0.6">0</text>
<text x="262.3" y="248.9" font-size="19.3" text-anchor="middle" fill="#3a3a3a" stroke="#3a3a3a" stroke-width="0.6">1</text>
<text x="310.3" y="248.9" font-size="19.3" text-anchor="middle" fill="#3a3a3a" stroke="#3a3a3a" stroke-width="0.6">2</text>
<text x="358.3" y="248.9" font-size="19.3" text-anchor="middle" fill="#3a3a3a" stroke="#3a3a3a" stroke-width="0.6">3</text>
<text x="406.3" y="248.9" font-size="19.3" text-anchor="middle" fill="#3a3a3a" stroke="#3a3a3a" stroke-width="0.6">4</text>
<text x="283.5" y="279" font-size="25" text-anchor="middle" fill="#3a3a3a" stroke="#3a3a3a" stroke-width="0.6">Time (ps)</text>
<text transform="translate(99.5 128) rotate(-90)" font-size="25" text-anchor="middle" fill="#3a3a3a" stroke="#3a3a3a" stroke-width="0.45">ΔI (Arb. Un.)</text></g>
<g id="pa_contour"><g clip-path="url(#cpc)"><rect x="727" y="84.2" width="286.1" height="189.8" fill="#79c9e3" stroke="none" stroke-width="1" /><path d="M886 99.5L885 99.8L883.4 99.2L882 98.2L881.8 97.2L884 94.7L886 95.7L886.5 95.2L886.7 93.2L885.5 90.2L883.3 87.2L885.8 82.2L887 81.3L889 81.4L892 83.2L894 82.9L896 83.7L898 83.5L899 84.2L903 85L909 83.7L914 83.5L920 80.9L922 81.7L925 84.5L927.7 85.2L927.3 89.2L926 92L925 92.6L923 91.4L921 91.7L919.8 95.2L920.4 97.2L920 98.2L915 95.7L912 98.3L907 97.2L901 99.2L899 97.5L895 98.5L892 97.9L890 96.5L889 96.5L887.4 97.2L887.2 98.2ZM757 100.3L754 99.8L750.6 94.2L750.5 93.2L751.4 92.2L752.6 89.2L753 86.1L754 85.4L756 86.7L759 90.6L759.6 92.2L758.8 98.2L758 100ZM944 100.6L942.6 99.2L942.9 98.2L944 97.4L945 97.1L948.1 98.2ZM1007 116.3L1005 116.5L1004.6 115.2L1005.8 114.2L1007 114.1L1007.6 115.2ZM757 118.4L756 118.9L754 118.7L752.7 118.2L752.2 117.2L753.4 116.2L756 116L757.4 117.2ZM896 197.2L894 194.4L891 195L889 194.4L888.5 192.2L886.3 191.2L886 185.2L884 184.2L883 184.4L882.4 185.2L882 187L880 187.4L879 188.9L877.9 189.2L878.7 190.2L881 190.2L881.9 191.2L881.9 192.2L880.9 193.2L880 193.8L876 192.5L875 194.2L874 194.4L871 190.7L870.5 191.2L870.2 194.2L869 195.7L868 194.7L866.9 189.2L865.5 186.2L865.4 185.2L866.3 184.2L866.3 183.2L864.9 182.2L864.9 181.2L866 180.9L867.4 179.2L867.7 176.2L869 175.7L869.6 178.2L872 179.9L873.5 178.2L873 175.2L873.4 174.2L874 173.1L876 172.6L877 173L878.6 176.2L878.5 178.2L882 179.3L883.3 178.2L883.4 177.2L882.3 175.2L882.8 174.2L886 173L886.9 170.2L888 169.3L890 168.8L890.9 169.2L890.1 172.2L890.3 173.2L891 173.6L892 173.8L893.7 172.2L893.7 170.2L894.6 169.2L894.4 168.2L892.5 167.2L893 165.1L896 166L899 165.7L900 166.2L900.2 163.2L901 162.1L903 162.8L906 166.1L908.3 162.2L910 161.9L913 163.1L915.4 161.2L916 159.1L920 156.8L921.8 157.2L923.7 159.2L926.2 160.2L927 161.2L927 163.2L929 164.6L929.8 166.2L928 167.4L926.7 169.2L928 170.4L928.9 173.2L928 175.1L926.4 176.2L926.1 177.2L928.9 179.2L928.7 183.2L924.6 184.2L923 187.7L920 186.8L917 186.8L915.7 188.2L915 190.7L914 191.4L911 191.6L910 190.5L907 190.5L906 194.2L905 195.2L903 194.2L902 192.1L898 190.3L895.3 192.2L898.3 194.2L897.4 196.2ZM729 190.6L727 190.2L726.6 189.2L725 188.4L723 190.3L723 188.4L725 187.8L725.2 187.2L726 181.2L726.9 179.2L725.4 170.2L726.3 167.2L725.1 164.2L727 161L728 160.7L729.6 161.2L730 162.2L730.7 166.2L730.4 170.2L731.2 175.2L729.9 178.2L730.4 182.2L729.1 187.2L729.2 188.2L730.1 189.2L729.8 190.2ZM754 174.3L753 174.3L752.2 173.2L751.1 170.2L750.2 169.2L750.2 168.2L751 164.9L751.8 164.2L753 164.4L756 163.8L759.7 166.2L760.6 168.2L758.1 170.2L756 173.2L755 173.3ZM950 189.3L944 187.2L942 185.3L940 185.3L937 187.2L936.2 186.2L936.6 184.2L934 180.5L931 180.8L929 179.2L929.1 177.2L930 175.9L933 175L935 175.8L936.5 174.2L938.6 173.2L939.4 172.2L939.6 170.2L940.4 169.2L940.8 167.2L942 166L943 165.9L946 167.7L948.9 172.2L953.8 174.2L955 174.1L955.9 175.2L955.5 177.2L956.1 181.2L957.5 183.2L955 184.2L954.3 185.2L954.1 186.2L955.6 187.2L955.2 188.2ZM955 172.6L953.5 170.2L954.6 168.2L956 168.1L956.7 169.2L956.6 170.2ZM852 179.4L848.8 178.2L849.6 176.2L851 175.3L854.5 176.2L854.3 178.2ZM1005 189.5L1004 190L1003 189.3L1002.5 187.2L1003.3 178.2L1004 177.2L1005 177.2L1006.5 179.2L1005.8 181.2ZM974 189.9L973 190L972.2 189.2L972.1 187.2L971.1 185.2L972 181.2L973 180.4L974 180.5L975.8 184.2L974.8 189.2ZM758 192.4L754 193.1L752 190.7L749 189.8L748 190.2L747.3 189.2L747.7 188.2L751 183L752 182.6L753 183.1L756 181.9L759 181.9L761 184.2L763 184.5L763.7 185.2L764.5 187.2L764 188.9L763 189.7L761 189.5L759 192.1ZM913.4 187.2L913.7 186.2L912 184.9L910.5 185.2L910.1 186.2L911 187.6ZM917 197.5L914.6 197.2L914 194.2L916 192L918 191.4L920.1 192.2L918.7 193.2L918.2 196.2ZM944 233.6L943 233.9L941.8 233.2L941.2 231.2L941.9 230.2L944 230.4L945.2 231.2L945.5 232.2ZM758 277.2L753.9 277.2L753.1 274.2L754 272.2L755.2 272.2L754 272.1L753 269.9L751.3 269.2L750 265.8L748.6 265.2L747.8 262.2L750 259.9L750.8 258.2L750.6 256.2L749.1 254.2L748.9 253.2L750.7 246.2L750.5 245.2L747.5 243.2L747.9 242.2L751 242.8L752 241L755 240.9L756 239.7L757 239.5L758.3 241.2L759 243.2L758.1 246.2L761.5 249.2L760.6 252.2L763.9 256.2L764.1 257.2L763 259.2L763.8 270.2L763 270.6L761 270.1L757.7 271.2L757.5 272.2L760 273L761 275.2L759 276.1ZM960 274L959 274.1L958.1 273.2L958.2 271.2L957 270.6L955 270.9L953 272.7L948 273L947 271.9L946 272L945 271.3L940 273.3L939.3 272.2L939.5 270.2L938 269.5L938.2 268.2L936 267.4L934 265.7L932 266L931.4 267.2L931.4 268.2L932.8 269.2L933.1 270.2L932 271.8L928 270.7L926 271.5L924 270.5L922 270.2L921 270.3L920 271.2L918 271L915 268.9L913.9 270.2L912 270L910 271L906 271L902 265.3L899 264.5L898 265.1L897.7 266.2L900.1 268.2L900 269.2L899 270.3L898 270.4L897 269.7L893.9 264.2L896.2 262.2L895 259.5L893.3 258.2L896.4 255.2L898 251.1L899 250.5L903 250.1L906 247.7L908 247.9L909.8 249.2L913 249.7L914 249.5L917 247L918 246.8L920 248.6L925 249.1L926.2 247.2L931 244.5L932 245.7L932.7 248.2L934.5 250.2L932 251L931.6 252.2L932.4 253.2L935 253.8L937 256.1L938 256.2L940.5 253.2L936.7 250.2L936.2 248.2L937 247L938 247.7L941 248L942 249.4L943 249.8L944 249.4L950 250.8L950.3 254.2L953 255.9L955 255.8L958 254.2L958.7 255.2L958.2 257.2L959 258.2L960 258.7L963 258.5L963.8 261.2L963.5 262.2L962.2 263.2L962.2 264.2L963 264.9L966 265.4L969 261.5L969.9 262.2L969.6 265.2L970.5 267.2L970 267.9L968 268.7L966 270.5L962.1 271.2ZM770 263.2L769 264L766.4 263.2L766.6 262.2L768 261.1Z" fill="#1b2b97" fill-rule="evenodd"/><path d="M855 107.4L847 107.5L844 106.6L839 106.1L837.7 105.2L837.3 104.2L836.2 100.2L836.6 98.2L839.5 95.2L840 93.9L841 94.8L842 93.9L843 94.1L843.6 95.2L842.5 99.2L843.1 100.2L843 102.2L844 103.4L849 104.5L856 102.8L859 103.1L859.9 102.2L859.4 100.2L856 100.3L855.5 99.2L856.2 98.2L856 97.1L851 95.3L847 95.8L845 95.2L845.4 94.2L848 92.8L850 93.5L854 93.9L858 93.3L860 93.9L867.3 100.2L866.1 101.2L865.5 103.2L863 106.5L862 106.5L861 105.5L860 105.6L858 106.8ZM784 112.4L782.6 111.2L782.7 110.2L783.6 109.2L782.1 107.2L786 105.4L786.1 106.2L784.4 108.2L785 111.2ZM842 159.1L841 158.7L840.6 157.2L842 155.2L840.7 149.2L840.7 148.2L842.5 146.2L842.5 145.2L841 142.8L839 143.1L837 141.9L832 141.8L830 142.5L827 141.9L823 143L820 141.6L817 141.6L813 142.9L808 141.1L807 140.2L805 139.9L803 140.5L799 139L798 139.2L797 140.9L796 141.4L793 138.4L792.4 141.2L791 141.5L789.2 140.2L790.6 137.2L790 136.8L783 138.5L780 138.3L779 138.9L778.5 137.2L779.9 135.2L778.9 133.2L781 130.7L785 132.8L789 131.7L791 130.8L792 127.8L796 128.5L797 126.9L798 127L802 130.2L804 130.6L805.3 129.2L805.5 127.2L807 125.6L811 125.1L812.3 124.2L815.8 121.2L815.1 119.2L819 117.9L820 116.3L824 116.6L826 116.1L827 117.7L830 119.2L831.1 118.2L828.9 116.2L828.9 115.2L830 113.5L831 113.1L837 114.6L841 113.7L845 111.8L849 114.5L853 114.6L853.7 115.2L852.8 117.2L853.4 118.2L852.8 120.2L853 121.4L855.4 120.2L856.2 119.2L855.2 117.2L855.3 116.2L856.2 113.2L857.5 111.2L864 110.4L867 110.7L868 110.3L869.7 108.2L870 106.9L872 108.5L873.6 112.2L873.3 113.2L874 113.9L876 112.5L877 112.9L879 116L880.5 117.2L880 119.4L881.1 120.2L881.1 121.2L880 120.5L879 120.9L877 123.4L879 123.5L879.8 124.2L880.5 126.2L883 127.3L887 125.8L893 127.5L896 126.1L898 126.5L902 124.9L905 126.3L911 127.5L913 125.3L916 124L919 124.5L923 126.9L927 125.9L931 127.6L933 127L934 127.5L937 126.6L943 126.6L945 125.6L950 125.8L952 126.7L954 126.4L959 128.4L964 128.7L966 128L970 127.6L975 128.9L981 129.6L985 128.6L989 126.3L990 127.6L991.6 125.2L993 125L993.8 128.2L993.1 129.2L993.7 130.2L996 131L998 130.5L999.6 129.2L1002 129.1L1004 127.7L1005.8 128.2L1007 129.6L1009.2 128.2L1009 127L1011 126.4L1014 127.1L1014.2 128.2L1017 129.2L1017 137L1014 136.6L1011 138.7L1008 139.6L1006 137.8L1004 138L1003 140.2L1002 140.5L997 138.1L995 138.6L993 139.9L992 139.7L989 136.7L988.4 137.2L988.4 139.2L986 140.3L983 140.2L980 139.2L977 139.3L975 138.6L971 139.8L965 139.1L963 140.6L959 139.8L956 141.4L954 141.4L952 140.4L948 140.7L944 141.7L941 143.9L940 143.7L938 141.9L932 143L930 142.5L929 141.2L928 141L926 141.4L923 144.4L921 142.7L919 143.5L916 143.7L915 143.6L914 142.6L912 143.7L906 141.9L904 143.1L901.4 143.2L901 144.4L899.6 144.2L899 143L896.5 142.2L889 141.8L885 143.3L882 142.4L879 143.9L876 144.2L875.7 149.2L873 153.7L872 153.9L872 152.9L873.6 151.2L870.3 144.2L867 144.5L865 145.8L864 145.9L863 145L862.6 145.2L863.7 147.2L863.9 149.2L861 153L860 153.2L859 152.9L857.7 151.2L858.3 146.2L857.5 143.2L855 141.9L852 143.9L848 142.2L846 142.1L845.1 145.2L845.8 148.2L845.6 150.2L846.5 152.2L845 156.2ZM867 126.2L872.3 125.2L873.2 123.2L873.2 122.2L871 120.2L870.1 118.2L870 117.2L871.6 115.2L871.7 113.2L870 111.5L868.1 112.2L867.8 116.2L869.6 120.2L869 121.2L865.6 123.2L866 126.2ZM819.3 126.2L819.3 125.2L820.5 124.2L820 121.4L819 120.5L816.5 121.2L816.1 122.2L816.6 124.2L818 126.6ZM735 146.8L734 146.2L732.9 143.2L731 142.4L727 143.1L723 145.1L723 126.5L725 126.1L728 127.4L732 125.7L736 128.8L740 127.8L742 129.7L743 130L745 128.8L746 129L748 129.5L749.4 131.2L750.4 134.2L748.9 136.2L748.4 138.2L747 139.7L744 139.1L743 140.1L741 140.6L738 144.2L735.6 145.2ZM775 139.5L773 138.9L771 139.1L768 137.9L762 138.7L758.4 135.2L760.5 132.2L760 130.1L761 129.7L763 131.9L763.8 133.2L764 135.4L766 133.4L768 129.7L769 129.6L771 131.2L774 129.9L776.4 130.2L776.9 131.2L776.6 135.2L775.9 136.2L775.6 139.2ZM845 169.4L844 169.7L842 168.6L840.6 166.2L841.1 165.2L844 163.6L845 163.5L846.7 165.2L846.2 168.2ZM836 171.2L833.1 171.2L833 170.2L834 168.8L837 168.8L837.2 170.2ZM846 203.9L842.8 200.2L842.9 199.2L844.4 199.2L846 201.3L846.5 202.2ZM844 269.3L842.3 269.2L841 267.7L839 269.2L838.4 268.2L838.9 265.2L837 263.9L836.8 263.2L837.8 261.2L837.8 260.2L836.6 258.2L837.5 257.2L837.3 256.2L837 255.7L835 255.6L834.3 254.2L837 252.7L838 251.3L838.1 250.2L837 249.3L836 250.1L835 250.2L831 248.8L827.6 249.2L825.4 252.2L825.9 254.2L824 255.3L822 258L821.5 257.2L821.9 254.2L821 252.2L820 251.4L818 252.5L816 252.6L816 251.6L817 250.7L817 247.7L819 246.1L821 246.4L820 245.3L820.2 243.2L821 242.1L823 241.7L824.7 240.2L824.6 239.2L822 236.8L819 238.9L817 238.9L816 235.1L815.1 234.2L816 233L818 232.6L819.1 231.2L817.9 229.2L819.9 226.2L822 225L824.5 227.2L825.7 229.2L827.4 230.2L831 236.5L832 236.9L834 235.2L835 233.2L835.2 229.2L836.2 228.2L836.3 226.2L837.3 224.2L836.9 221.2L838.1 221.2L838.4 220.2L837.2 217.2L837 215.2L838.8 213.2L838.7 211.2L839.6 209.2L839 205.9L846 205.3L847.3 207.2L847 209.2L849.4 212.2L848 213L845 211.7L843.8 212.2L843.4 213.2L844.6 216.2L847.2 217.2L848.1 218.2L848.6 220.2L850 221.6L849.6 223.2L847.7 225.2L847.4 227.2L848 227.8L851 229.4L853 228.2L851.9 226.2L854.5 224.2L854.5 221.2L855.9 219.2L856.4 217.2L858.2 215.2L858.5 214.2L857.6 213.2L857.9 211.2L860 209.7L861 210.7L862 210.6L863 209.5L863 211.2L861.9 213.2L864 215.8L864.5 217.2L864 217.7L861.5 217.2L860.7 218.2L862 218.8L863 219.1L864 218.7L865 219.4L869 218.8L871 220.8L874 219.1L876 214.3L877.5 215.2L877.2 217.2L875.1 219.2L875 220.2L877.2 221.2L878.3 225.2L877.1 228.2L877.3 232.2L878 233.6L879 232.7L880 232.8L883.7 234.2L884.3 237.2L883.8 238.2L882.2 239.2L882.1 240.2L883.8 241.2L883.6 243.2L881 245.7L879 244.9L878.8 245.2L880 245.6L880.3 246.2L880 250.2L877.2 252.2L876.8 254.2L874.6 256.2L875.8 259.2L874.9 260.2L871 261.9L869 261.6L868.5 260.2L867 259.6L866.4 260.2L866.5 261.2L867.7 263.2L866 264.3L865 266.4L864 266.6L862 265.6L861.3 266.2L861 268.2L860 268.9L859 268.2L858.3 266.2L857 265.1L856 263.2L855 262.3L853.6 262.2L855 261.9L855 260.6L847 262.1L846 263.1L845.9 264.2L846 264.8L847 264.9L847.4 266.2ZM872 216.3L870 214.4L868.7 212.2L869 211.1L872 209.6L874.2 213.2L873.8 215.2ZM1010 222.9L1007.9 222.2L1007.6 221.2L1009 219.2L1010 219.4L1010.6 220.2L1010.8 221.2ZM773 224.4L772 223.7L771 224L770.2 223.2L770.5 221.2L771 220.5L774.6 220.2L775.1 222.2ZM831 224.5L830 224.9L829.3 224.2L829.5 222.2L830 221.3L831 221.1L832 222.2ZM868.4 237.2L868.1 236.2L870 235.2L870.1 234.2L869.5 231.2L868 230L866 230.8L865.5 232.2L867 233.6L867.8 235.2L866 237.2L867 238.2ZM829.7 245.2L830.6 243.2L830.4 242.2L829 241.7L826 241.6L825 242.2L823.8 244.2L829 246ZM849.9 246.2L850.1 243.2L848 242.3L846.7 244.2L846.9 246.2L848 247.2L849 247.1ZM833.8 246.2L835.2 245.2L834 243.9L830.4 246.2L833 246.7ZM852 267L849.2 266.2L849.2 265.2L850 264.3L852 263.3L853.2 265.2ZM846 277.2L843.5 277.2L843.8 275.2L846 273.3L847 273.3L847.3 274.2Z" fill="#f8e60a" stroke="#4a2a10" stroke-width="0.9" fill-rule="evenodd"/><path d="M842 105.2L838.8 104.2L838.4 103.2L839 101.3L840 101.2L842.1 104.2L842.4 105.2ZM856 106.2L852 106.7L850.5 106.2L853 104.8L857 104.5L857.8 105.2ZM874 142.5L873 143.1L868 142.7L866 143.1L863 142.4L860 142.6L857.6 141.2L855 140.6L851 142L848 141.1L844 140.8L843 141.2L838 140.3L835 141L832 140.4L829 140.9L827 140.1L825 140.6L815 140L814 139.6L812 139.9L807.3 137.2L805.8 135.2L807 130.9L808 130.4L809 130.5L810 129.4L813 129.7L816 128.8L820 129.4L823 127.9L825 126.1L826 128.5L828 128.8L830 127.2L829.8 126.2L827 124.8L824.4 122.2L825 122L830 122.4L832 124.7L833 124.6L834.7 127.2L838 128.6L840.8 128.2L843 126.4L845 126.1L847 126.8L849 128.8L851.7 128.2L853.3 126.2L857.7 124.2L858 120.2L859.8 117.2L859.2 116.2L859.5 115.2L862.1 113.2L864 112.7L866 114.2L866.3 116.2L866 117.3L865 117.8L864 117.4L862.9 118.2L864.3 121.2L864 122.6L859 122.2L858.1 123.2L858 124.2L860 126.4L863 126.4L866 127.6L878 126.7L883 128.8L888 127.8L893 129.2L896 128L901 128.2L903 127.7L914 129.1L918 126.2L920 127.6L923 128.7L927 127.7L930 129.8L933 129.5L938 131L948 129.9L953 132.1L955 131.4L957 129.1L959 130L965 130.6L966 132.5L967 132.2L969 130.1L971 130.4L973 130L975.3 131.2L976.3 135.2L975.4 136.2L969 137.2L967 138.2L964 135.7L961 138L958 138L955 139L953 137.3L947 139.6L943 139.8L942 141.3L941 141.6L940 140.8L939 138.5L937 139.8L934 140.4L933 141.2L932 141L929.7 139.2L927 139.4L925 138.9L922 139.2L919 141.8L914 140L909 140.7L902 140.7L900 140.2L897 141L889 140.6L886 142L885 142.1L883 141L879 142.2L875 142.1ZM844 121.5L843 122.2L842 122L840.1 119.2L838.4 118.2L838.5 117.2L843 114.3L845 116.4L846 116.2L848.1 117.2L848 117.9L846 118.1ZM876 120.4L875 120.3L874 119.1L873.4 117.2L874 116.1L876.7 117.2L877 118.2ZM731 141.4L723 140.9L723 127.8L728 128.6L731 128L735.5 130.2L738 130.5L741 131.7L742 131.5L744 132.4L746 130.9L747.3 131.2L748.1 134.2L746 136.6L744 136L742 136.2L740.2 138.2L738 138.8L737 140.8L736 141.2L733 140.7ZM983 137.6L981.5 137.2L981 136.5L981.2 135.2L979.9 132.2L981.6 131.2L985 130.5L986.2 131.2L986.4 132.2ZM1000 136.5L998 136L994 136.8L991.1 135.2L990.8 133.2L992 131.3L994 131.6L998 133.4L1000.7 136.2ZM786 136.3L784.1 135.2L786 134.2L787 134.7L787.4 135.2L787 136.1ZM843 210.3L841.9 207.2L843 206.9L844.2 207.2L845.1 208.2L844 210.2ZM861 231.3L860 230.9L857.8 228.2L859.9 224.2L859.5 221.2L861 220.1L862.9 222.2L862.4 225.2L865.2 228.2L865.1 229.2L864 230ZM876 225.5L874 226L873.3 225.2L874 224.2L875 224.2ZM846 258.3L845 258.8L844 258.5L842.8 257.2L842 255.1L839.9 254.2L840 253L840.8 252.2L840 251.2L840.4 249.2L841.4 248.2L838.1 245.2L837.2 243.2L837.7 241.2L839 240.2L840 237.3L840.6 237.2L839 236L838.7 233.2L840.9 228.2L843 226.4L844.3 234.2L843 236.8L841.1 237.2L844 240.1L846 240.3L846.2 242.2L845 243.5L841.9 244.2L844 244.5L845.6 247.2L848.8 250.2L847 252.6L845 251.3L843.1 252.2L846.6 256.2ZM875 235.7L873 235.1L872.2 234.2L873 228.5L874 228.6L875 230L874.6 232.2L875.5 235.2ZM859 262.6L858 262.2L858 258.2L859.9 256.2L860.8 253.2L857.1 250.2L859 249.8L860.4 248.2L858.7 246.2L858.8 245.2L860.3 243.2L859.9 242.2L859 241.9L857 242.6L856 244L854.3 243.2L853.7 242.2L855.2 241.2L854.3 239.2L856.4 236.2L857 233.9L860 232.8L863.4 234.2L863.9 235.2L862 237.9L860 238.4L862 238.4L862.5 240.2L864 241L866 240.8L869 239.6L870 239.7L870.5 241.2L869 243.8L867 244.5L864.5 247.2L865.3 252.2L861.6 255.2L861.3 256.2L862.8 259.2L860.8 260.2L859.9 261.2L859.9 262.2ZM879 241.7L877 241.9L875.5 240.2L876.4 239.2L878 239L879.7 240.2ZM877 248.7L874.8 247.2L875 245.8L876 244.9Z" fill="#e3201a" stroke="#5a1a10" stroke-width="0.8" fill-rule="evenodd"/><path d="M872 141.3L870 141.8L863 140.4L860 141L857 139.6L854 139.6L851 140.4L846 140L844 139.2L840 139.6L838 139.1L835 139.8L833 139.4L831 137.7L830 137.7L828 138.9L821 139.2L816 138L814 137L812 137.8L811 137.5L808.8 135.2L808 133.2L811 131.7L815 131.2L817 131.6L819 130.8L823 131.6L825 130.5L828 130.6L830 129.4L833 128.6L835 129.6L838 130.1L842 129.1L844 127.9L848 129.6L850 129.8L855 127.6L857 127.5L865 128.6L870 128.7L877 127.9L883 129.7L889 129.5L892 130.4L896 129.3L899 129.7L904 129.3L905 129.7L907 129.2L914 130.4L917 128.7L921 130.4L925 130.3L925.5 131.2L927 131.8L929 131.1L934 131.1L938.6 134.2L938.3 135.2L935 137.9L931 137.4L926 137.9L922 137.1L920 138.8L918 139.5L914 138.1L906 139.3L903 138.7L892 139.9L888 139.6L886 140.3L878 140L874 140.3ZM729 140.2L723 139.2L723 129.6L724 130.2L732 130.2L738.5 132.2L739.8 135.2L739 136.8L734 139.2L731 138.2L730 140ZM946 137.3L941 136.4L941 133.2L944 131.6L947.8 132.2L949.4 134.2L947 137ZM960 135.5L958.4 135.2L958 132.7L960 132.8L960.9 134.2Z" fill="#9a1412" stroke="#3a0a08" stroke-width="0.8" fill-rule="evenodd"/></g><path d="M727 75V274H1021.5M1013.1 75V274M727 84.2H1013.1M1013.1 134.3h8.5" stroke="#3a3230" stroke-width="2.2" fill="none"/><text x="872.5" y="44.6" font-size="27" text-anchor="middle" fill="#3a3a3a" stroke="#3a3a3a" stroke-width="0.45">Energy (eV)</text><text x="726.5" y="70.6" font-size="20.5" text-anchor="middle" fill="#3a3a3a" stroke="#3a3a3a" stroke-width="0.45">4</text><text x="1013" y="70.6" font-size="20.5" text-anchor="middle" fill="#3a3a3a" stroke="#3a3a3a" stroke-width="0.45">45</text><text x="1026.5" y="141.6" font-size="20.5" fill="#3a3a3a" stroke="#3a3a3a" stroke-width="0.45">0</text><text x="1027.5" y="282" font-size="20.5" fill="#3a3a3a" stroke="#3a3a3a" stroke-width="0.45">28</text><text transform="translate(1056.5 184) rotate(90)" font-size="26.5" text-anchor="middle" fill="#3a3a3a" stroke="#3a3a3a" stroke-width="0.45">Time (ps)</text></g>
<g id="pb"><g clip-path="url(#cpb)"><path d="M207.4 1030.4L207.4 997L211.5 994.6L215.6 992.1L219.7 989.6L223.8 987.1L227.9 984.6L232 982.1L236.1 979.6L240.2 976.9L244.3 974L248.4 971L252.5 967.8L256.6 964.5L260.7 961.1L264.8 957.5L268.9 953.7L273 949.8L277.1 945.7L281.2 941.3L285.3 936.8L289.4 932.1L293.5 927.4L297.6 922.5L301.7 917.6L305.8 912.6L309.9 907.6L314 902.6L318.1 897.6L322.2 892.6L326.3 887.6L330.4 882.7L334.5 877.7L338.6 872.8L342.7 868L346.8 863.1L350.9 858.2L355 853.4L359.1 848.8L363.2 844.2L367.3 839.6L371.4 835.3L375.5 830.9L379.6 826.6L383.7 822.4L387.8 818.6L391.9 815.3L396 812.1L400.1 809.3L404.2 806.9L408.4 804.8L412.5 802.8L416.6 801.2L420.7 800.1L424.8 799.4L428.9 799L433 798.7L437.1 799L441.2 800.5L445.3 802.5L449.4 804.9L453.5 808.3L457.6 812.3L461.7 816.5L465.8 820.9L469.9 825.7L474 830.5L478.1 835.6L482.2 840.7L486.3 845.6L490.4 850.4L494.5 855L498.6 859.6L502.7 864L506.8 868.2L510.9 872.4L515 876.5L519.1 880.3L523.2 883.9L527.3 887.4L531.4 890.7L531.8 890.7L531.8 1030.4Z" fill="#e61b1a"/><path d="M119.9 1028.7L122.5 1028.4L125.2 1027.7L127.9 1026.8L130.5 1025.8L133.2 1024.4L135.8 1022.5L138.5 1020.4L141.2 1017.9L143.8 1015L146.5 1011.4L149.1 1006.9L151.8 1001.9L154.4 996L157.1 988.8L159.8 981.2L162.4 972.9L165.1 964.5L167.7 955.9L170.4 947.5L173 939.8L175.7 932.7L178.4 927.1L181 922.7L183.7 919.4L186.3 917.6L189 916.4L191.6 916L194.3 916.9L197 918.7L199.6 921.6L202.3 926.5L204.9 932.4L207.6 939.8L210.3 948.2L212.9 957.1L215.6 966.5L218.2 975.5L220.9 984.2L223.5 992L226.2 998.7L228.9 1004.5L231.5 1009L234.2 1012.9L236.8 1015.9L239.5 1018.1L242.1 1019.9L244.8 1021.5L247.5 1022.8L250.1 1023.8L252.8 1024.5L255.4 1025.1L258.1 1025.5L260.7 1026L263.4 1026.3L266.1 1026.6L268.7 1026.9L271.4 1027.1L274 1027.3L276.7 1027.5L279.4 1027.7L282 1027.8L284.7 1028L287.3 1028.1L290 1028.2L292.6 1028.3L295.3 1028.4L298 1028.5L300.6 1028.6L303.3 1028.7L305.9 1028.8L308.6 1028.9L311.2 1029L313.9 1029.1L316.6 1029.1L319.2 1029.2L321.9 1029.3L324.5 1029.4L327.2 1029.5L329.8 1029.6L332.5 1029.7L335.2 1029.7L337.8 1029.8L340.5 1029.9L343.1 1030L345.8 1030.1L348.5 1030.1L351.1 1030.2L353.8 1030.3L356.4 1030.4L356.4 1030.4L119.9 1030.4Z" fill="#4db32f" stroke="#c8d23a" stroke-width="1"/><path d="M119.9 1029.4L121.1 1029.3L122.3 1029.2L123.5 1029L124.7 1028.7L125.9 1028.4L127.1 1028L128.3 1027.6L129.5 1027.1L130.7 1026.5L131.9 1026L133.1 1025.4L134.3 1024.5L135.5 1023.4L136.7 1022L137.9 1020.3L139.1 1018.4L140.3 1016.1L141.5 1012.9L142.7 1009.1L143.9 1004.6L145.1 998.9L146.3 991.5L147.5 983.4L148.7 973.5L149.9 963.9L151.1 957.2L152.3 951.7L153.5 950.1L154.7 953.3L155.9 958.6L157.1 965.4L158.3 974.6L159.5 983.1L160.7 990.5L161.9 997.1L163.1 1002.4L164.3 1006.7L165.5 1010.5L166.7 1013.6L167.9 1015.9L169.1 1017.8L170.3 1019.4L171.6 1020.8L172.8 1021.9L174 1022.9L175.2 1023.7L176.4 1024.3L177.6 1024.9L178.8 1025.5L180 1026L181.2 1026.5L182.4 1026.9L183.6 1027.2L184.8 1027.6L186 1027.8L187.2 1028L188.4 1028.1L189.6 1028.3L190.8 1028.4L192 1028.5L193.2 1028.6L194.4 1028.7L195.6 1028.8L196.8 1028.9L198 1029L199.2 1029.1L200.4 1029.1L201.6 1029.2L202.8 1029.3L204 1029.4L205.2 1029.4L206.4 1029.5L207.6 1029.6L208.8 1029.6L210 1029.7L211.2 1029.7L212.4 1029.8L213.6 1029.8L214.8 1029.8L216 1029.9L217.2 1029.9L218.4 1029.9L219.6 1030L220.8 1030L222 1030L223.2 1030L224.4 1030L225.6 1030L226.8 1030L226.8 1030.4L119.9 1030.4Z" fill="#2c3e9c"/><path d="M149.7 679.8L151.2 687.8L152.6 704.2L154.1 724.8L155.6 745.1L157.1 766.3L158.5 786.6L160 805.3L161.5 820.6L163 831.9L164.4 840.6L165.9 847.7L167.4 852.9L168.9 857L170.3 860.1L171.8 862.8L173.3 864.9L174.8 866L176.2 866.3L177.7 866.7L179.2 867.6L180.6 867.7L182.1 868.4L183.6 869L185.1 869.1L186.5 869.3L188 869.8L189.5 869.9L191 870.5L192.4 871.1L193.9 872.3L195.4 873.5L196.9 875.1L198.3 876.7L199.8 878.5L201.3 880.1L202.8 882L204.2 884.2L205.7 885.6L207.2 888.4L208.6 890.3L210.1 892.3L211.6 894.8L213.1 897.2L214.5 899.9L216 901L217.5 904.8L219 907L220.4 907.1L221.9 909.7L223.4 913.6L224.9 915.5L226.3 917.7L227.8 918.7L229.3 920L230.8 920.9L232.2 923.4L233.7 922.4L235.2 924.3L236.6 925.8L238.1 924.3L239.6 927.8L241.1 925.4L242.5 926.1L244 928.4L245.5 924.9L247 924.9L248.4 926.9L249.9 923.6L251.4 923.9L252.9 924.6L254.3 924.1L255.8 923.7L257.3 922.9L258.8 923.3L260.2 922.2L261.7 921L263.2 918.8L264.7 918L266.1 915.9L267.6 918L269.1 914.4L270.5 916.5L272 916.7L273.5 912.5L275 912L276.4 911.2L277.9 911.6L279.4 908.7L280.9 908.3L282.3 906.7L283.8 905.7L285.3 906.1L286.8 902.2L288.2 902L289.7 900.9L291.2 900.2L292.7 896.5L294.1 897.8L295.6 895.7L297.1 894.8L298.5 892.6L300 889.4L301.5 889.1L303 889.3L304.4 887L305.9 885.5L307.4 886L308.9 884.9L310.3 880.8L311.8 881.4L313.3 875.4L314.8 873.6L316.2 875.1L317.7 872.1L319.2 871.3L320.7 869.4L322.1 867L323.6 866L325.1 863.7L326.5 860.1L328 860.3L329.5 858.5L331 858.5L332.4 853.5L333.9 852.9L335.4 850.6L336.9 849L338.3 849.1L339.8 845.7L341.3 842.7L342.8 841.2L344.2 839.7L345.7 835.5L347.2 833.9L348.7 833.6L350.1 830.4L351.6 827.1L353.1 824.2L354.5 822.2L356 818.3L357.5 818.8L359 815.8L360.4 813.1L361.9 809.2L363.4 807.4L364.9 806.4L366.3 803.8L367.8 800.7L369.3 799.6L370.8 798L372.2 794.2L373.7 792.5L375.2 790.3L376.7 788.2L378.1 788.6L379.6 786.6L381.1 784.8L382.5 781.6L384 780.2L385.5 779.9L387 778.3L388.4 777.7L389.9 775.8L391.4 776.3L392.9 776.7L394.3 775.6L395.8 774.9L397.3 772.5L398.8 772.7L400.2 770.6L401.7 771.3L403.2 769.1L404.7 768.2L406.1 767.2L407.6 767.7L409.1 766.3L410.6 765.1L412 762.6L413.5 762.9L415 760.1L416.4 762.4L417.9 759.7L419.4 759.3L420.9 758.4L422.3 756.4L423.8 756.4L425.3 757.8L426.8 759.5L428.2 756.8L429.7 757.3L431.2 758.2L432.7 756.6L434.1 756.8L435.6 758.4L437.1 759.1L438.6 759L440 761.4L441.5 759.8L443 760.8L444.4 762.6L445.9 763.3L447.4 760.4L448.9 762.5L450.3 764.9L451.8 763L453.3 764.4L454.8 765L456.2 766.1L457.7 767.7L459.2 770.7L460.7 773.5L462.1 775.5L463.6 775.6L465.1 775.2L466.6 779.2L468 780.6L469.5 783.1L471 784.3L472.4 784.2L473.9 788.4L475.4 787.4L476.9 790.8L478.3 793.7L479.8 795.5L481.3 798.7L482.8 796.1L484.2 800.9L485.7 803L487.2 803.5L488.7 806.2L490.1 806L491.6 809.5L493.1 811L494.6 811L496 812.9L497.5 815L499 816.1L500.4 819.6L501.9 820.2L503.4 823.1L504.9 824.6L506.3 825.1L507.8 826.5L509.3 827.3L510.8 829.2L512.2 830.8L513.7 833.7L515.2 833.9L516.7 836.5L518.1 838.1L519.6 838.8L521.1 840.5L522.6 843.7L524 845.2L525.5 843.8L527 845.8L528.5 846.8L529.9 848.1L531.4 851.2" fill="none" stroke="#0a0a0a" stroke-width="3.4" stroke-linejoin="round"/></g><rect x="120.9" y="691.8" width="408.9" height="338.6" fill="none" stroke="#858585" stroke-width="2.2" /><path d="M120.9 1030.4v4M189.9 1030.4v4M258.9 1030.4v4M327.9 1030.4v4M396.9 1030.4v4M465.9 1030.4v4" stroke="#666" stroke-width="1.3" fill="none"/><path d="M155.4 1030.4v2.5M224.4 1030.4v2.5M293.4 1030.4v2.5M362.4 1030.4v2.5M431.4 1030.4v2.5M500.4 1030.4v2.5" stroke="#777" stroke-width="1.1" fill="none"/><text transform="translate(120.9 1060) scale(0.91 1)" font-size="22.6" text-anchor="middle" fill="#2e2e2e" stroke="#2e2e2e" stroke-width="0.7">0</text><text transform="translate(189.9 1060) scale(0.91 1)" font-size="22.6" text-anchor="middle" fill="#2e2e2e" stroke="#2e2e2e" stroke-width="0.7">5</text><text transform="translate(258.9 1060) scale(0.91 1)" font-size="22.6" text-anchor="middle" fill="#2e2e2e" stroke="#2e2e2e" stroke-width="0.7">10</text><text transform="translate(327.9 1060) scale(0.91 1)" font-size="22.6" text-anchor="middle" fill="#2e2e2e" stroke="#2e2e2e" stroke-width="0.7">15</text><text transform="translate(396.9 1060) scale(0.91 1)" font-size="22.6" text-anchor="middle" fill="#2e2e2e" stroke="#2e2e2e" stroke-width="0.7">20</text><text transform="translate(465.9 1060) scale(0.91 1)" font-size="22.6" text-anchor="middle" fill="#2e2e2e" stroke="#2e2e2e" stroke-width="0.7">25</text><text transform="translate(325 1097.2) scale(0.91 1)" font-size="30.3" text-anchor="middle" font-weight="bold" fill="#1c1c1c" stroke="#1c1c1c" stroke-width="0.3">Energy (eV)</text><text transform="translate(100.5 851) rotate(-90) scale(0.91 1)" font-size="30.8" text-anchor="middle" font-weight="bold" fill="#1c1c1c" stroke="#1c1c1c" stroke-width="0.3">Counts</text><text transform="translate(299.5 737.4) scale(0.91 1)" font-size="24.2" fill="#333" stroke="#333" stroke-width="0.7"><tspan font-size="23.1" font-family="Liberation Serif, serif">π+σ</tspan> plasmon</text><text transform="translate(174.3 785) scale(0.91 1)" font-size="24.2" fill="#333" stroke="#333" stroke-width="0.7">laser excitation</text><text transform="translate(174.3 812.5) scale(0.91 1)" font-size="24.2" fill="#333" stroke="#333" stroke-width="0.7">region</text><text transform="translate(216.5 856) scale(0.91 1)" font-size="24.2" fill="#333" stroke="#333" stroke-width="0.7"><tspan font-size="23.1" font-family="Liberation Serif, serif">π</tspan> plasmon</text><path d="M379.8 740L379.8 818" stroke="#111" stroke-width="2" /><path d="M379.8 829L376 817L383.6 817Z" fill="#111"/><path d="M189.6 819L157.4 917" stroke="#111" stroke-width="2" /><path d="M154 927.5L154.1 914.9L161.4 917.3Z" fill="#111"/><path d="M257.6 874L218.3 932.9" stroke="#111" stroke-width="2" /><path d="M212.2 942L215.7 929.9L222 934.1Z" fill="#111"/></g>
<g id="pc"><g clip-path="url(#cpc2)"><path d="M712.9 725V789.3M709.9 725h6M709.9 789.3h6M719.5 734.3V802.6M716.5 734.3h6M716.5 802.6h6M726.2 759.4V780.9M723.2 759.4h6M723.2 780.9h6M732.9 734.3V753.8M729.9 734.3h6M729.9 753.8h6M738.2 718.7V764.9M735.2 718.7h6M735.2 764.9h6M745.5 737.2V772.7M742.5 737.2h6M742.5 772.7h6M752.2 741.6V764.9M749.2 741.6h6M749.2 764.9h6M758.4 709V758.3M755.4 709h6M755.4 758.3h6M764.8 701.6V751.6M761.8 701.6h6M761.8 751.6h6M768.8 717.2V758.3M765.8 717.2h6M765.8 758.3h6M771 727.2V767.1M768 727.2h6M768 767.1h6M775 728.3V803.8M772 728.3h6M772 803.8h6M778.8 809.3V827.1M775.8 809.3h6M775.8 827.1h6M777.7 880.3V904.8M774.7 880.3h6M774.7 904.8h6M783.2 940.3V992.4M780.2 940.3h6M780.2 992.4h6M784.4 951.4V1018M781.4 951.4h6M781.4 1018h6M789.5 841.5V988M786.5 841.5h6M786.5 988h6M793.2 895.9V1023.5M790.2 895.9h6M790.2 1023.5h6M797.7 858.1V929.2M794.7 858.1h6M794.7 929.2h6M801 842.6V992.4M798 842.6h6M798 992.4h6M804.3 882.6V978M801.3 882.6h6M801.3 978h6M809.9 894.8V948M806.9 894.8h6M806.9 948h6M816.5 890.3V929.2M813.5 890.3h6M813.5 929.2h6M823.2 882.6V921.4M820.2 882.6h6M820.2 921.4h6M829.9 898.1V920.3M826.9 898.1h6M826.9 920.3h6M835.8 875.9V930.3M832.8 875.9h6M832.8 930.3h6M843.2 885.9V921.4M840.2 885.9h6M840.2 921.4h6M849.8 891.4V925.8M846.8 891.4h6M846.8 925.8h6M856.5 907V928.1M853.5 907h6M853.5 928.1h6M863.2 902.5V940.3M860.2 902.5h6M860.2 940.3h6M869.8 909.2V927M866.8 909.2h6M866.8 927h6M875.4 865.9V940.3M872.4 865.9h6M872.4 940.3h6M882 862.6V925.8M879 862.6h6M879 925.8h6M888.7 862.6V932.5M885.7 862.6h6M885.7 932.5h6M895.3 864.8V930.3M892.3 864.8h6M892.3 930.3h6M902.6 885.3V963.5M899.6 885.3h6M899.6 963.5h6M908.8 894.6V965M905.8 894.6h6M905.8 965h6M915.1 900.9V949.4M912.1 900.9h6M912.1 949.4h6M919.8 897.8V944.7M916.8 897.8h6M916.8 944.7h6M927.6 864.9V957.2M924.6 864.9h6M924.6 957.2h6M934.8 897.8V910.3M931.8 897.8h6M931.8 910.3h6M940.1 904V915M937.1 904h6M937.1 915h6M947 900.9V938.4M944 900.9h6M944 938.4h6M952.6 900.9V955.6M949.6 900.9h6M949.6 955.6h6M960.5 904V944.7M957.5 904h6M957.5 944.7h6M966.7 904V969.7M963.7 904h6M963.7 969.7h6M973.6 902.5V941.6M970.6 902.5h6M970.6 941.6h6M980.8 910.3V943.1M977.8 910.3h6M977.8 943.1h6M986.1 907.2V951M983.1 907.2h6M983.1 951h6M991.7 886.8V965M988.7 886.8h6M988.7 965h6M999.6 910.3V965M996.6 910.3h6M996.6 965h6M1005.8 916.5V954.1M1002.8 916.5h6M1002.8 954.1h6M1012.1 860.2V969.7M1009.1 860.2h6M1009.1 969.7h6M1018.3 879V938.4M1015.3 879h6M1015.3 938.4h6M1024.6 872.7V949.4M1021.6 872.7h6M1021.6 949.4h6M1030.8 897.8V913.4M1027.8 897.8h6M1027.8 913.4h6M1044.9 874.3V930.6M1041.9 874.3h6M1041.9 930.6h6M1051.2 888.4V941.6M1048.2 888.4h6M1048.2 941.6h6M1057.4 889.9V946.3M1054.4 889.9h6M1054.4 946.3h6M1063.7 893.1V910.3M1060.7 893.1h6M1060.7 910.3h6M1077.8 885.3V915M1074.8 885.3h6M1074.8 915h6M1084 886.8V940M1081 886.8h6M1081 940h6M1090.3 891.5V925.9M1087.3 891.5h6M1087.3 925.9h6" stroke="#ea1c24" stroke-width="1.7" fill="none"/><path d="M710.2 754.4h5.4v5.4h-5.4zM716.8 766.7h5.4v5.4h-5.4zM723.5 767.1h5.4v5.4h-5.4zM730.2 741.1h5.4v5.4h-5.4zM735.5 739.6h5.4v5.4h-5.4zM742.8 750h5.4v5.4h-5.4zM749.5 748.9h5.4v5.4h-5.4zM755.7 731.1h5.4v5.4h-5.4zM762.1 723.4h5.4v5.4h-5.4zM766.1 735.6h5.4v5.4h-5.4zM768.3 746.7h5.4v5.4h-5.4zM772.3 763.3h5.4v5.4h-5.4zM776.1 815.5h5.4v5.4h-5.4zM775 891h5.4v5.4h-5.4zM780.5 965.3h5.4v5.4h-5.4zM781.7 973.1h5.4v5.4h-5.4zM786.8 912h5.4v5.4h-5.4zM790.5 957.5h5.4v5.4h-5.4zM795 886.5h5.4v5.4h-5.4zM798.3 908.7h5.4v5.4h-5.4zM801.6 935.4h5.4v5.4h-5.4zM807.2 919.8h5.4v5.4h-5.4zM813.8 906.5h5.4v5.4h-5.4zM820.5 897.6h5.4v5.4h-5.4zM827.2 902.1h5.4v5.4h-5.4zM833.1 900.9h5.4v5.4h-5.4zM840.5 900.9h5.4v5.4h-5.4zM847.1 904.3h5.4v5.4h-5.4zM853.8 915.4h5.4v5.4h-5.4zM860.5 918.7h5.4v5.4h-5.4zM867.1 915.4h5.4v5.4h-5.4zM872.7 900.9h5.4v5.4h-5.4zM879.3 891h5.4v5.4h-5.4zM886 893.2h5.4v5.4h-5.4zM892.6 895.4h5.4v5.4h-5.4zM899.9 906h5.4v5.4h-5.4zM906.1 923.2h5.4v5.4h-5.4zM912.4 920.1h5.4v5.4h-5.4zM917.1 918.5h5.4v5.4h-5.4zM924.9 907.6h5.4v5.4h-5.4zM932.1 899.8h5.4v5.4h-5.4zM937.4 906h5.4v5.4h-5.4zM944.3 917h5.4v5.4h-5.4zM949.9 924.8h5.4v5.4h-5.4zM957.8 931h5.4v5.4h-5.4zM964 934.2h5.4v5.4h-5.4zM970.9 919.5h5.4v5.4h-5.4zM978.1 923.8h5.4v5.4h-5.4zM983.4 923.8h5.4v5.4h-5.4zM989 923.2h5.4v5.4h-5.4zM996.9 934.2h5.4v5.4h-5.4zM1003.1 933.5h5.4v5.4h-5.4zM1009.4 913.8h5.4v5.4h-5.4zM1015.6 906h5.4v5.4h-5.4zM1021.9 906h5.4v5.4h-5.4zM1028.1 902.9h5.4v5.4h-5.4zM1042.2 898.8h5.4v5.4h-5.4zM1048.5 913.8h5.4v5.4h-5.4zM1054.7 915.4h5.4v5.4h-5.4zM1061 899.8h5.4v5.4h-5.4zM1075.1 897.6h5.4v5.4h-5.4zM1081.3 910.7h5.4v5.4h-5.4zM1087.6 906h5.4v5.4h-5.4z" fill="#ea1c24" stroke="#ea1c24" stroke-width="1.6" stroke-linejoin="round"/><path d="M704.4 757.1L707.1 757.1L709.7 757.1L712.4 757.1L715 757.1L717.7 757.1L720.3 757.1L722.9 757.1L725.6 757.1L728.2 757.1L730.9 757.1L733.5 757.1L736.2 757.1L738.8 757.1L741.4 757.1L744.1 757.1L746.7 757.1L749.4 757.1L752 757.1L754.7 757.1L757.3 757.1L759.9 757.1L762.6 757.3L765.2 757.7L767.7 758.8L769.3 760.6L770.5 763.1L771.2 765.7L771.8 768.2L772.3 770.8L772.6 773.5L773 776.1L773.3 778.8L773.6 781.4L773.9 784L774.2 786.6L774.5 789.3L774.7 791.9L775 794.5L775.2 797.2L775.4 799.8L775.6 802.4L775.8 805.1L776 807.7L776.2 810.3L776.4 813L776.6 815.6L776.7 818.2L776.9 820.9L777.1 823.5L777.2 826.2L777.3 828.8L777.5 831.4L777.6 834.1L777.7 836.7L777.8 839.4L777.9 842L778.1 844.6L778.2 847.3L778.3 849.9L778.4 852.6L778.5 855.2L778.6 857.8L778.7 860.5L778.8 863.1L778.9 865.8L779.1 868.4L779.2 871L779.3 873.7L779.4 876.3L779.5 879L779.7 881.6L779.8 884.2L779.9 886.9L780 889.5L780.2 892.2L780.3 894.8L780.4 897.4L780.6 900.1L780.7 902.7L780.8 905.4L780.9 908L781.1 910.6L781.2 913.3L781.4 915.9L781.5 918.6L781.6 921.2L781.8 923.8L782 926.5L782.1 929.1L782.3 931.7L782.5 934.4L782.6 937L782.8 939.7L783 942.3L783.2 945L783.4 947.6L783.7 950.2L784 952.8L784.3 955.4L784.7 958.4L785.3 961.8L786 964.8L786.7 966.7L787.4 966.5L788.3 964.2L789.2 961L790 958.1L790.7 955.5L791.3 952.9L791.9 950.4L792.5 947.8L793.2 945.2L793.9 942.7L794.7 940.2L795.5 937.6L796.4 935.1L797.3 932.7L798.3 930.2L799.4 927.7L800.6 925.3L802 923.2L803.7 921.2L805.7 919.4L807.9 917.9L810.2 916.7L812.7 915.7L815.3 914.9L817.9 914.5L820.5 914.2L823.1 914L825.7 913.9L828.4 913.7L831.1 913.7L833.7 913.6L836.4 913.6L839 913.6L841.6 913.6L844.3 913.6L846.9 913.6L849.6 913.6L852.2 913.6L854.8 913.6L857.5 913.6L860.1 913.6L862.8 913.6L865.4 913.6L868 913.6L870.7 913.6L873.3 913.6L876 913.6L878.6 913.6L881.3 913.6L883.9 913.6L886.6 913.6L889.2 913.6L891.8 913.6L894.5 913.6L897.1 913.6L899.8 913.6L1095.4 913.6" fill="none" stroke="#0a0a0a" stroke-width="3.2" stroke-linejoin="round"/></g><rect x="703.9" y="692.2" width="389.5" height="336.3" fill="none" stroke="#484848" stroke-width="2.2" rx="1.5"/><path d="M722.5 1028.5v-6M771.4 1028.5v-6M820.2 1028.5v-6M869.1 1028.5v-6M917.9 1028.5v-6M966.8 1028.5v-6M1015.6 1028.5v-6M1064.5 1028.5v-6" stroke="#4a4a4a" stroke-width="1.5" fill="none"/><path d="M722.5 692.2v6M771.4 692.2v6M820.2 692.2v6M869.1 692.2v6M917.9 692.2v6M966.8 692.2v6M1015.6 692.2v6M1064.5 692.2v6" stroke="#4a4a4a" stroke-width="1.5" fill="none"/><path d="M747 1028.5v-3.5M795.8 1028.5v-3.5M844.7 1028.5v-3.5M893.5 1028.5v-3.5M942.4 1028.5v-3.5M991.2 1028.5v-3.5M1040.1 1028.5v-3.5M1088.9 1028.5v-3.5" stroke="#4a4a4a" stroke-width="1.3" fill="none"/><path d="M747 692.2v3.5M795.8 692.2v3.5M844.7 692.2v3.5M893.5 692.2v3.5M942.4 692.2v3.5M991.2 692.2v3.5M1040.1 692.2v3.5M1088.9 692.2v3.5" stroke="#4a4a4a" stroke-width="1.3" fill="none"/><path d="M703.9 1010.9h6M703.9 947.5h6M703.9 884.1h6M703.9 820.7h6M703.9 757.3h6" stroke="#4a4a4a" stroke-width="1.5" fill="none"/><path d="M1093.4 1010.9h-6M1093.4 947.5h-6M1093.4 884.1h-6M1093.4 820.7h-6M1093.4 757.3h-6" stroke="#4a4a4a" stroke-width="1.5" fill="none"/><path d="M703.9 979.2h3.5M703.9 915.8h3.5M703.9 852.4h3.5M703.9 789h3.5M703.9 725.6h3.5" stroke="#4a4a4a" stroke-width="1.3" fill="none"/><path d="M1093.4 979.2h-3.5M1093.4 915.8h-3.5M1093.4 852.4h-3.5M1093.4 789h-3.5M1093.4 725.6h-3.5" stroke="#4a4a4a" stroke-width="1.3" fill="none"/><text transform="translate(720.5 1051.5) scale(0.9 1)" font-size="23" text-anchor="middle" fill="#2e2e2e" stroke="#2e2e2e" stroke-width="0.7">-5</text><text transform="translate(771.4 1051.5) scale(0.9 1)" font-size="23" text-anchor="middle" fill="#2e2e2e" stroke="#2e2e2e" stroke-width="0.7">0</text><text transform="translate(820.2 1051.5) scale(0.9 1)" font-size="23" text-anchor="middle" fill="#2e2e2e" stroke="#2e2e2e" stroke-width="0.7">5</text><text transform="translate(869.1 1051.5) scale(0.9 1)" font-size="23" text-anchor="middle" fill="#2e2e2e" stroke="#2e2e2e" stroke-width="0.7">10</text><text transform="translate(917.9 1051.5) scale(0.9 1)" font-size="23" text-anchor="middle" fill="#2e2e2e" stroke="#2e2e2e" stroke-width="0.7">15</text><text transform="translate(966.8 1051.5) scale(0.9 1)" font-size="23" text-anchor="middle" fill="#2e2e2e" stroke="#2e2e2e" stroke-width="0.7">20</text><text transform="translate(1015.6 1051.5) scale(0.9 1)" font-size="23" text-anchor="middle" fill="#2e2e2e" stroke="#2e2e2e" stroke-width="0.7">25</text><text transform="translate(1064.5 1051.5) scale(0.9 1)" font-size="23" text-anchor="middle" fill="#2e2e2e" stroke="#2e2e2e" stroke-width="0.7">30</text><text transform="translate(696 1017.3) scale(0.9 1)" font-size="23" text-anchor="end" fill="#2e2e2e" stroke="#2e2e2e" stroke-width="0.7">-120</text><text transform="translate(696 953.9) scale(0.9 1)" font-size="23" text-anchor="end" fill="#2e2e2e" stroke="#2e2e2e" stroke-width="0.7">-90</text><text transform="translate(696 890.5) scale(0.9 1)" font-size="23" text-anchor="end" fill="#2e2e2e" stroke="#2e2e2e" stroke-width="0.7">-60</text><text transform="translate(696 827.1) scale(0.9 1)" font-size="23" text-anchor="end" fill="#2e2e2e" stroke="#2e2e2e" stroke-width="0.7">-30</text><text transform="translate(696 763.7) scale(0.9 1)" font-size="23" text-anchor="end" fill="#2e2e2e" stroke="#2e2e2e" stroke-width="0.7">0</text><text transform="translate(696 700.3) scale(0.9 1)" font-size="23" text-anchor="end" fill="#2e2e2e" stroke="#2e2e2e" stroke-width="0.7">30</text><text transform="translate(898.8 1093.3) scale(0.9 1)" font-size="29.7" text-anchor="middle" font-weight="bold" fill="#1c1c1c" stroke="#1c1c1c" stroke-width="0.3">Time (ps)</text><text transform="translate(610.5 864) rotate(-90) scale(0.9 1)" font-size="31.4" text-anchor="middle" font-weight="bold" fill="#1c1c1c" stroke="#1c1c1c" stroke-width="0.3"><tspan font-family="Liberation Serif, serif" font-weight="normal" font-size="32.5">π+σ</tspan> Plasmon</text><text transform="translate(644.5 861) rotate(-90) scale(0.9 1)" font-size="31.4" text-anchor="middle" font-weight="bold" fill="#1c1c1c" stroke="#1c1c1c" stroke-width="0.3">Peak Shift (meV)</text><text transform="translate(852.5 776.5) scale(0.9 1)" font-size="29.7" font-weight="bold" fill="#111" stroke="#111" stroke-width="0.3">0.85 ps</text><text transform="translate(869.5 999) scale(0.9 1)" font-size="29.7" font-weight="bold" fill="#111" stroke="#111" stroke-width="0.3">1.1 ps</text><path d="M835.8 760.5L790.1 818.6" stroke="#0a0a0a" stroke-width="2.6" /><path d="M782.1 828.8L786.4 814.4L795.1 821.2Z" fill="#0a0a0a"/><path d="M860.9 973.6L825.6 962.4" stroke="#0a0a0a" stroke-width="2.8" /><path d="M813.2 958.5L828.2 957.5L824.9 968Z" fill="#0a0a0a"/></g>
<g id="pd"><g clip-path="url(#cpd)"><path d="M147.2 1204.4V1251M144.2 1204.4h6M144.2 1251h6M153.9 1199.3V1253.2M150.9 1199.3h6M150.9 1253.2h6M161.6 1180.6V1239.9M158.6 1180.6h6M158.6 1239.9h6M169.4 1160V1252.1M166.4 1160h6M166.4 1252.1h6M176.5 1166.6V1257.7M173.5 1166.6h6M173.5 1257.7h6M180.1 1144.4V1245.4M177.1 1144.4h6M177.1 1245.4h6M183.8 1172.2V1254.3M180.8 1172.2h6M180.8 1254.3h6M187.6 1171.1V1259.9M184.6 1171.1h6M184.6 1259.9h6M190.9 1189.5V1236.6M187.9 1189.5h6M187.9 1236.6h6M193.4 1236.6V1291M190.4 1236.6h6M190.4 1291h6M197.2 1307.6V1383.1M194.2 1307.6h6M194.2 1383.1h6M201.6 1338.7V1385.3M198.6 1338.7h6M198.6 1385.3h6M204.9 1365.3V1459.7M201.9 1365.3h6M201.9 1459.7h6M212.7 1335.4V1444.1M209.7 1335.4h6M209.7 1444.1h6M216 1308.7V1439.7M213 1308.7h6M213 1439.7h6M219.4 1315.4V1436.4M216.4 1315.4h6M216.4 1436.4h6M220.9 1356.4V1423M217.9 1356.4h6M217.9 1423h6M222.7 1276.5V1416.4M219.7 1276.5h6M219.7 1416.4h6M224.9 1288.7V1418.6M221.9 1288.7h6M221.9 1418.6h6M227.6 1251V1352M224.6 1251h6M224.6 1352h6M231.1 1267.6V1387.5M228.1 1267.6h6M228.1 1387.5h6M233.8 1287.6V1383.1M230.8 1287.6h6M230.8 1383.1h6M237.6 1257.7V1369.8M234.6 1257.7h6M234.6 1369.8h6M240.4 1283.2V1433M237.4 1283.2h6M237.4 1433h6M246 1295.4V1431.9M243 1295.4h6M243 1431.9h6M248.9 1306.5V1382M245.9 1306.5h6M245.9 1382h6M252 1294.3V1349.8M249 1294.3h6M249 1349.8h6M256 1296.5V1377.5M253 1296.5h6M253 1377.5h6M258.2 1297.6V1420.8M255.2 1297.6h6M255.2 1420.8h6M262.6 1312V1449.7M259.6 1312h6M259.6 1449.7h6M263.1 1329.8V1365.3M260.1 1329.8h6M260.1 1365.3h6M268.9 1269.9V1348.7M265.9 1269.9h6M265.9 1348.7h6M271.5 1232.1V1336.5M268.5 1232.1h6M268.5 1336.5h6M276 1283.2V1360.9M273 1283.2h6M273 1360.9h6M276.4 1318.7V1352M273.4 1318.7h6M273.4 1352h6M283.7 1325.4V1365.3M280.7 1325.4h6M280.7 1365.3h6M288.8 1319.8V1364.2M285.8 1319.8h6M285.8 1364.2h6M291.1 1279.9V1360.9M288.1 1279.9h6M288.1 1360.9h6M298.6 1265.4V1393.1M295.6 1265.4h6M295.6 1393.1h6M305.9 1239.9V1368.7M302.9 1239.9h6M302.9 1368.7h6M313.3 1278.7V1346.5M310.3 1278.7h6M310.3 1346.5h6M319.7 1237.7V1309.8M316.7 1237.7h6M316.7 1309.8h6M326.6 1219.9V1309.8M323.6 1219.9h6M323.6 1309.8h6M333.7 1225.5V1338.7M330.7 1225.5h6M330.7 1338.7h6M340.8 1265.4V1307.6M337.8 1265.4h6M337.8 1307.6h6M355.8 1276.6V1341.4M352.8 1276.6h6M352.8 1341.4h6M370 1271.7V1340.4M367 1271.7h6M367 1340.4h6M384.6 1282.1V1325.2M381.6 1282.1h6M381.6 1325.2h6M399.2 1275V1359.2M396.2 1275h6M396.2 1359.2h6M413.1 1289.6V1391.6M410.1 1289.6h6M410.1 1391.6h6M427.7 1265.3V1356M424.7 1265.3h6M424.7 1356h6M442.3 1323.6V1389M439.3 1323.6h6M439.3 1389h6M456.9 1310.6V1357.6M453.9 1310.6h6M453.9 1357.6h6M470.8 1265.3V1365.7M467.8 1265.3h6M467.8 1365.7h6M500 1291.2V1338.2M497 1291.2h6M497 1338.2h6M528.2 1288.9V1378.7M525.2 1288.9h6M525.2 1378.7h6" stroke="#5fba3e" stroke-width="1.7" fill="none"/><circle cx="147.2" cy="1229.9" r="3.9" fill="#5fba3e"/><circle cx="153.9" cy="1227.7" r="3.9" fill="#5fba3e"/><circle cx="161.6" cy="1210.4" r="3.9" fill="#5fba3e"/><circle cx="169.4" cy="1206.6" r="3.9" fill="#5fba3e"/><circle cx="176.5" cy="1204.4" r="3.9" fill="#5fba3e"/><circle cx="180.1" cy="1199.9" r="3.9" fill="#5fba3e"/><circle cx="183.8" cy="1198.8" r="3.9" fill="#5fba3e"/><circle cx="187.6" cy="1214.4" r="3.9" fill="#5fba3e"/><circle cx="190.9" cy="1213.9" r="3.9" fill="#5fba3e"/><circle cx="193.4" cy="1264.3" r="3.9" fill="#5fba3e"/><circle cx="197.2" cy="1326.5" r="3.9" fill="#5fba3e"/><circle cx="201.6" cy="1359.8" r="3.9" fill="#5fba3e"/><circle cx="204.9" cy="1413.1" r="3.9" fill="#5fba3e"/><circle cx="212.7" cy="1389.7" r="3.9" fill="#5fba3e"/><circle cx="216" cy="1349.8" r="3.9" fill="#5fba3e"/><circle cx="219.4" cy="1374.2" r="3.9" fill="#5fba3e"/><circle cx="220.9" cy="1402" r="3.9" fill="#5fba3e"/><circle cx="222.7" cy="1314.3" r="3.9" fill="#5fba3e"/><circle cx="224.9" cy="1346.5" r="3.9" fill="#5fba3e"/><circle cx="227.6" cy="1300.9" r="3.9" fill="#5fba3e"/><circle cx="231.1" cy="1298.7" r="3.9" fill="#5fba3e"/><circle cx="233.8" cy="1318.7" r="3.9" fill="#5fba3e"/><circle cx="237.6" cy="1312" r="3.9" fill="#5fba3e"/><circle cx="240.4" cy="1360.9" r="3.9" fill="#5fba3e"/><circle cx="246" cy="1376.4" r="3.9" fill="#5fba3e"/><circle cx="248.9" cy="1344.2" r="3.9" fill="#5fba3e"/><circle cx="252" cy="1317.6" r="3.9" fill="#5fba3e"/><circle cx="256" cy="1344.2" r="3.9" fill="#5fba3e"/><circle cx="258.2" cy="1358.7" r="3.9" fill="#5fba3e"/><circle cx="262.6" cy="1379.8" r="3.9" fill="#5fba3e"/><circle cx="263.1" cy="1347.6" r="3.9" fill="#5fba3e"/><circle cx="268.9" cy="1303.2" r="3.9" fill="#5fba3e"/><circle cx="271.5" cy="1291" r="3.9" fill="#5fba3e"/><circle cx="276" cy="1308.7" r="3.9" fill="#5fba3e"/><circle cx="276.4" cy="1335.4" r="3.9" fill="#5fba3e"/><circle cx="283.7" cy="1343.1" r="3.9" fill="#5fba3e"/><circle cx="288.8" cy="1344.2" r="3.9" fill="#5fba3e"/><circle cx="291.1" cy="1313.2" r="3.9" fill="#5fba3e"/><circle cx="298.6" cy="1328.7" r="3.9" fill="#5fba3e"/><circle cx="305.9" cy="1305.4" r="3.9" fill="#5fba3e"/><circle cx="313.3" cy="1310.9" r="3.9" fill="#5fba3e"/><circle cx="319.7" cy="1275.4" r="3.9" fill="#5fba3e"/><circle cx="326.6" cy="1266.5" r="3.9" fill="#5fba3e"/><circle cx="333.7" cy="1282.1" r="3.9" fill="#5fba3e"/><circle cx="340.8" cy="1287.6" r="3.9" fill="#5fba3e"/><circle cx="355.8" cy="1308" r="3.9" fill="#5fba3e"/><circle cx="370" cy="1306.7" r="3.9" fill="#5fba3e"/><circle cx="384.6" cy="1303.5" r="3.9" fill="#5fba3e"/><circle cx="399.2" cy="1317.7" r="3.9" fill="#5fba3e"/><circle cx="413.1" cy="1340.7" r="3.9" fill="#5fba3e"/><circle cx="427.7" cy="1309" r="3.9" fill="#5fba3e"/><circle cx="442.3" cy="1356" r="3.9" fill="#5fba3e"/><circle cx="456.9" cy="1333.9" r="3.9" fill="#5fba3e"/><circle cx="470.8" cy="1315.5" r="3.9" fill="#5fba3e"/><circle cx="500" cy="1314.5" r="3.9" fill="#5fba3e"/><circle cx="528.2" cy="1334.6" r="3.9" fill="#5fba3e"/><path d="M131.7 1225.5L134.4 1225.5L137.1 1225.5L139.8 1225.5L142.5 1225.5L145.2 1225.5L147.9 1225.5L150.6 1225.5L153.3 1225.5L156 1225.5L158.7 1225.5L161.4 1225.5L164.1 1225.5L166.8 1225.5L169.5 1225.5L172.2 1225.5L174.9 1225.5L177.6 1225.5L180.3 1225.5L183 1225.5L185.8 1225.5L188.4 1225.5L191.1 1225.5L194.1 1225.8L195.1 1227.1L195.5 1229.9L195.8 1233.1L195.9 1235.9L196 1238.6L196.1 1241.3L196.1 1244L196.2 1246.7L196.3 1249.4L196.3 1252.1L196.3 1254.8L196.4 1257.5L196.4 1260.2L196.5 1262.9L196.5 1265.6L196.6 1268.3L196.6 1271L196.7 1273.7L196.7 1276.4L196.7 1279.1L196.8 1281.8L196.8 1284.5L196.9 1287.2L196.9 1289.9L196.9 1292.6L197 1295.3L197 1298L197.1 1300.7L197.1 1303.4L197.1 1306.1L197.2 1308.8L197.2 1311.5L197.2 1314.3L197.3 1317L197.3 1319.7L197.4 1322.4L197.4 1325.1L197.4 1327.8L197.5 1330.5L197.5 1333.2L197.5 1335.9L197.6 1338.6L197.6 1341.3L197.7 1344L197.7 1346.7L197.8 1349.4L197.8 1352.1L197.9 1354.8L197.9 1357.5L198 1360.2L198 1362.9L198.1 1365.6L198.1 1368.3L198.2 1371L198.3 1373.7L198.4 1376.4L198.5 1379.1L198.6 1381.8L198.7 1384.5L198.8 1387.4L198.9 1390.8L199.1 1394.3L199.4 1397.7L199.7 1400.5L200.1 1402.4L200.5 1403L201.7 1401L203.2 1398.1L204.4 1395.7L205.5 1393.2L206.7 1390.8L207.8 1388.3L208.8 1385.8L209.9 1383.3L210.9 1380.8L211.9 1378.3L213 1375.8L214.2 1373.4L215.4 1371L216.7 1368.6L218.1 1366.3L219.4 1363.9L220.8 1361.6L222.3 1359.3L223.7 1357L225.1 1354.8L226.6 1352.5L228.2 1350.2L229.8 1348.1L231.4 1346L233.2 1343.9L235 1342L237 1340L239 1338.2L241 1336.4L243.1 1334.7L245.2 1333.1L247.4 1331.5L249.7 1330L252 1328.6L254.3 1327.2L256.7 1325.9L259.1 1324.7L261.6 1323.6L264.1 1322.6L266.6 1321.7L269.2 1320.9L271.8 1320.1L274.4 1319.4L277.1 1318.7L279.7 1318.2L282.3 1317.7L285 1317.2L287.7 1316.7L290.3 1316.3L293 1315.9L295.7 1315.6L298.4 1315.3L301.1 1315L303.8 1314.8L306.5 1314.7L309.2 1314.5L311.9 1314.3L314.6 1314.2L317.3 1314.1L320 1314L322.7 1313.9L325.4 1313.8L328.1 1313.7L330.8 1313.7L333.5 1313.6L336.2 1313.5L338.9 1313.5L341.6 1313.4L344.3 1313.4L347 1313.4L541.5 1313.4" fill="none" stroke="#0a0a0a" stroke-width="3.2" stroke-linejoin="round"/></g><rect x="133" y="1135.2" width="406.5" height="340" fill="none" stroke="#4a4a4a" stroke-width="1.8" /><path d="M139.8 1475.2v-6M193.8 1475.2v-6M247.8 1475.2v-6M301.8 1475.2v-6M355.8 1475.2v-6M409.8 1475.2v-6M463.8 1475.2v-6M517.8 1475.2v-6" stroke="#4a4a4a" stroke-width="1.5" fill="none"/><path d="M139.8 1135.2v6M193.8 1135.2v6M247.8 1135.2v6M301.8 1135.2v6M355.8 1135.2v6M409.8 1135.2v6M463.8 1135.2v6M517.8 1135.2v6" stroke="#4a4a4a" stroke-width="1.5" fill="none"/><path d="M166.8 1475.2v-3.5M220.8 1475.2v-3.5M274.8 1475.2v-3.5M328.8 1475.2v-3.5M382.8 1475.2v-3.5M436.8 1475.2v-3.5M490.8 1475.2v-3.5" stroke="#4a4a4a" stroke-width="1.3" fill="none"/><path d="M166.8 1135.2v3.5M220.8 1135.2v3.5M274.8 1135.2v3.5M328.8 1135.2v3.5M382.8 1135.2v3.5M436.8 1135.2v3.5M490.8 1135.2v3.5" stroke="#4a4a4a" stroke-width="1.3" fill="none"/><path d="M133 1447.8h6M133 1392h6M133 1336.3h6M133 1280.5h6M133 1224.8h6M133 1169.1h6" stroke="#4a4a4a" stroke-width="1.5" fill="none"/><path d="M539.5 1447.8h-6M539.5 1392h-6M539.5 1336.3h-6M539.5 1280.5h-6M539.5 1224.8h-6M539.5 1169.1h-6" stroke="#4a4a4a" stroke-width="1.5" fill="none"/><path d="M133 1419.9h3.5M133 1364.1h3.5M133 1308.4h3.5M133 1252.7h3.5M133 1196.9h3.5M133 1141.2h3.5" stroke="#4a4a4a" stroke-width="1.3" fill="none"/><path d="M539.5 1419.9h-3.5M539.5 1364.1h-3.5M539.5 1308.4h-3.5M539.5 1252.7h-3.5M539.5 1196.9h-3.5M539.5 1141.2h-3.5" stroke="#4a4a4a" stroke-width="1.3" fill="none"/><text transform="translate(137.8 1500) scale(0.92 1)" font-size="22.6" text-anchor="middle" fill="#2e2e2e" stroke="#2e2e2e" stroke-width="0.7">-5</text><text transform="translate(193.8 1500) scale(0.92 1)" font-size="22.6" text-anchor="middle" fill="#2e2e2e" stroke="#2e2e2e" stroke-width="0.7">0</text><text transform="translate(247.8 1500) scale(0.92 1)" font-size="22.6" text-anchor="middle" fill="#2e2e2e" stroke="#2e2e2e" stroke-width="0.7">5</text><text transform="translate(301.8 1500) scale(0.92 1)" font-size="22.6" text-anchor="middle" fill="#2e2e2e" stroke="#2e2e2e" stroke-width="0.7">10</text><text transform="translate(355.8 1500) scale(0.92 1)" font-size="22.6" text-anchor="middle" fill="#2e2e2e" stroke="#2e2e2e" stroke-width="0.7">15</text><text transform="translate(409.8 1500) scale(0.92 1)" font-size="22.6" text-anchor="middle" fill="#2e2e2e" stroke="#2e2e2e" stroke-width="0.7">20</text><text transform="translate(463.8 1500) scale(0.92 1)" font-size="22.6" text-anchor="middle" fill="#2e2e2e" stroke="#2e2e2e" stroke-width="0.7">25</text><text transform="translate(517.8 1500) scale(0.92 1)" font-size="22.6" text-anchor="middle" fill="#2e2e2e" stroke="#2e2e2e" stroke-width="0.7">30</text><text transform="translate(126 1454.4) scale(0.92 1)" font-size="23.7" text-anchor="end" fill="#2e2e2e" stroke="#2e2e2e" stroke-width="0.7">-80</text><text transform="translate(126 1398.6) scale(0.92 1)" font-size="23.7" text-anchor="end" fill="#2e2e2e" stroke="#2e2e2e" stroke-width="0.7">-60</text><text transform="translate(126 1342.9) scale(0.92 1)" font-size="23.7" text-anchor="end" fill="#2e2e2e" stroke="#2e2e2e" stroke-width="0.7">-40</text><text transform="translate(126 1287.1) scale(0.92 1)" font-size="23.7" text-anchor="end" fill="#2e2e2e" stroke="#2e2e2e" stroke-width="0.7">-20</text><text transform="translate(126 1231.4) scale(0.92 1)" font-size="23.7" text-anchor="end" fill="#2e2e2e" stroke="#2e2e2e" stroke-width="0.7">0</text><text transform="translate(126 1175.7) scale(0.92 1)" font-size="23.7" text-anchor="end" fill="#2e2e2e" stroke="#2e2e2e" stroke-width="0.7">20</text><text transform="translate(335.4 1541.4) scale(0.92 1)" font-size="29.2" text-anchor="middle" font-weight="bold" fill="#1c1c1c" stroke="#1c1c1c" stroke-width="0.3">Time (ps)</text><text transform="translate(86.5 1302.5) rotate(-90) scale(0.92 1)" font-size="31.5" text-anchor="middle" font-weight="bold" fill="#1c1c1c" stroke="#1c1c1c" stroke-width="0.3"><tspan font-family="Liberation Serif, serif" font-weight="normal" font-size="29.7">π</tspan> Plasmon Peak Shift (meV)</text><text transform="translate(237 1201.2) scale(0.92 1)" font-size="29.2" font-weight="bold" fill="#111" stroke="#111" stroke-width="0.3">1.1ps</text><text transform="translate(318 1419.4) scale(0.92 1)" font-size="29.2" font-weight="bold" fill="#111" stroke="#111" stroke-width="0.3">2.3 ps</text><path d="M224.9 1207.7L201.9 1294.1" stroke="#0a0a0a" stroke-width="2.6" /><path d="M198.3 1307.6L196.8 1291.7L207.5 1294.5Z" fill="#0a0a0a"/><path d="M307.5 1430.8L240.6 1396.1" stroke="#0a0a0a" stroke-width="2.8" /><path d="M228.2 1389.7L244 1391.7L239 1401.5Z" fill="#0a0a0a"/></g>
<g id="pe"><g clip-path="url(#cpe)"><path d="M704.3 1188.2V1224.4M701.3 1188.2h6M701.3 1224.4h6M711 1199.9V1239.9M708 1199.9h6M708 1239.9h6M717.2 1194.4V1207.7M714.2 1194.4h6M714.2 1207.7h6M722.1 1163.7V1233.2M719.1 1163.7h6M719.1 1233.2h6M728.3 1163.3V1196.6M725.3 1163.3h6M725.3 1196.6h6M734.3 1154V1228.8M731.3 1154h6M731.3 1228.8h6M740.5 1192.2V1201M737.5 1192.2h6M737.5 1201h6M745.6 1170.4V1221M742.6 1170.4h6M742.6 1221h6M751.6 1150.4V1218.8M748.6 1150.4h6M748.6 1218.8h6M756.7 1184.4V1239.9M753.7 1184.4h6M753.7 1239.9h6M762.7 1196.6V1255.4M759.7 1196.6h6M759.7 1255.4h6M768.3 1214.4V1234.3M765.3 1214.4h6M765.3 1234.3h6M773.8 1191.1V1241M770.8 1191.1h6M770.8 1241h6M779.4 1171.7V1207.7M776.4 1171.7h6M776.4 1207.7h6M784.9 1182.2V1213.9M781.9 1182.2h6M781.9 1213.9h6M790.9 1168.9V1235.5M787.9 1168.9h6M787.9 1235.5h6M796.7 1152.9V1236.1M793.7 1152.9h6M793.7 1236.1h6M802.7 1184.4V1224.4M799.7 1184.4h6M799.7 1224.4h6M808.7 1201V1243.2M805.7 1201h6M805.7 1243.2h6M814.4 1201.5V1275.4M811.4 1201.5h6M811.4 1275.4h6M819.8 1246.6V1305.4M816.8 1246.6h6M816.8 1305.4h6M826 1266.5V1330.9M823 1266.5h6M823 1330.9h6M830.9 1286.5V1358.7M827.9 1286.5h6M827.9 1358.7h6M837.1 1294.3V1362.7M834.1 1294.3h6M834.1 1362.7h6M842.6 1288.7V1325.4M839.6 1288.7h6M839.6 1325.4h6M848.6 1247.7V1368M845.6 1247.7h6M845.6 1368h6M854.4 1316.5V1358.7M851.4 1316.5h6M851.4 1358.7h6M859.7 1342V1430.1M856.7 1342h6M856.7 1430.1h6M865.5 1352V1426.4M862.5 1352h6M862.5 1426.4h6M871.5 1341.3V1419M868.5 1341.3h6M868.5 1419h6M877 1315.4V1384.2M874 1315.4h6M874 1384.2h6M882.6 1330.9V1443.5M879.6 1330.9h6M879.6 1443.5h6M888.6 1320.5V1453M885.6 1320.5h6M885.6 1453h6M894.1 1390.9V1431.5M891.1 1390.9h6M891.1 1431.5h6M899.7 1346.5V1392M896.7 1346.5h6M896.7 1392h6M905.5 1320.5V1419.7M902.5 1320.5h6M902.5 1419.7h6M911.5 1308.7V1382M908.5 1308.7h6M908.5 1382h6M917.3 1320.6V1417.5M914.3 1320.6h6M914.3 1417.5h6M922.9 1359.7V1392.5M919.9 1359.7h6M919.9 1392.5h6M928.5 1389.4V1435.4M925.5 1389.4h6M925.5 1435.4h6M933.9 1383.1V1455.1M930.9 1383.1h6M930.9 1455.1h6M939.2 1395.6V1441M936.2 1395.6h6M936.2 1441h6M946.4 1376.9V1428.5M943.4 1376.9h6M943.4 1428.5h6M951.7 1381.6V1422.2M948.7 1381.6h6M948.7 1422.2h6M957.3 1359.7V1401.9M954.3 1359.7h6M954.3 1401.9h6M963.6 1339.3V1392.5M960.6 1339.3h6M960.6 1392.5h6M968.3 1322.8V1369.7M965.3 1322.8h6M965.3 1369.7h6M974.5 1340.9V1381.6M971.5 1340.9h6M971.5 1381.6h6M979.8 1315.2V1387.8M976.8 1315.2h6M976.8 1387.8h6M985.5 1308V1426.9M982.5 1308h6M982.5 1426.9h6M991.7 1341.5V1392.5M988.7 1341.5h6M988.7 1392.5h6M997.4 1384.7V1404.1M994.4 1384.7h6M994.4 1404.1h6M1013.6 1370.6V1412.9M1010.6 1370.6h6M1010.6 1412.9h6M1019.9 1351.8V1419.1M1016.9 1351.8h6M1016.9 1419.1h6M1042.7 1326.8V1375.3M1039.7 1326.8h6M1039.7 1375.3h6M1065.9 1354V1438.5M1062.9 1354h6M1062.9 1438.5h6M1088.7 1347.8V1422.9M1085.7 1347.8h6M1085.7 1422.9h6" stroke="#ea1c24" stroke-width="1.7" fill="none"/><path d="M701.5 1202.7h5.6v5.6h-5.6zM708.2 1217.1h5.6v5.6h-5.6zM714.4 1197.8h5.6v5.6h-5.6zM719.3 1196h5.6v5.6h-5.6zM725.5 1177.2h5.6v5.6h-5.6zM731.5 1187.6h5.6v5.6h-5.6zM737.7 1193.4h5.6v5.6h-5.6zM742.8 1193.4h5.6v5.6h-5.6zM748.8 1181.6h5.6v5.6h-5.6zM753.9 1209.8h5.6v5.6h-5.6zM759.9 1223.1h5.6v5.6h-5.6zM765.5 1221.6h5.6v5.6h-5.6zM771 1213.3h5.6v5.6h-5.6zM776.6 1186.7h5.6v5.6h-5.6zM782.1 1193.4h5.6v5.6h-5.6zM788.1 1197.1h5.6v5.6h-5.6zM793.9 1191.6h5.6v5.6h-5.6zM799.9 1201.6h5.6v5.6h-5.6zM805.9 1219.3h5.6v5.6h-5.6zM811.6 1236h5.6v5.6h-5.6zM817 1272.6h5.6v5.6h-5.6zM823.2 1295.5h5.6v5.6h-5.6zM828.1 1319.9h5.6v5.6h-5.6zM834.3 1325.2h5.6v5.6h-5.6zM839.8 1304.1h5.6v5.6h-5.6zM845.8 1304.8h5.6v5.6h-5.6zM851.6 1334.8h5.6v5.6h-5.6zM856.9 1383.6h5.6v5.6h-5.6zM862.7 1385.2h5.6v5.6h-5.6zM868.7 1377.4h5.6v5.6h-5.6zM874.2 1347h5.6v5.6h-5.6zM879.8 1383.6h5.6v5.6h-5.6zM885.8 1384.3h5.6v5.6h-5.6zM891.3 1408h5.6v5.6h-5.6zM896.9 1366.5h5.6v5.6h-5.6zM902.7 1366.5h5.6v5.6h-5.6zM908.7 1343h5.6v5.6h-5.6zM914.5 1366.3h5.6v5.6h-5.6zM920.1 1373.1h5.6v5.6h-5.6zM925.7 1409.4h5.6v5.6h-5.6zM931.1 1414.7h5.6v5.6h-5.6zM936.4 1415.7h5.6v5.6h-5.6zM943.6 1400h5.6v5.6h-5.6zM948.9 1399.1h5.6v5.6h-5.6zM954.5 1378.1h5.6v5.6h-5.6zM960.8 1363.1h5.6v5.6h-5.6zM965.5 1343.4h5.6v5.6h-5.6zM971.7 1356.2h5.6v5.6h-5.6zM977 1348.4h5.6v5.6h-5.6zM982.7 1364.7h5.6v5.6h-5.6zM988.9 1363.1h5.6v5.6h-5.6zM994.6 1391.3h5.6v5.6h-5.6zM1010.8 1388.8h5.6v5.6h-5.6zM1017.1 1382.5h5.6v5.6h-5.6zM1039.9 1348.1h5.6v5.6h-5.6zM1063.1 1392.8h5.6v5.6h-5.6zM1085.9 1382.5h5.6v5.6h-5.6z" fill="#ea1c24" stroke="#ea1c24" stroke-width="1.6" stroke-linejoin="round"/><path d="M701.7 1206.1L703.8 1206.1L706 1206.1L708.1 1206.1L710.3 1206.1L712.5 1206.1L714.6 1206.1L716.8 1206.1L718.9 1206.1L721.1 1206.1L723.3 1206.1L725.4 1206.1L727.6 1206.1L729.7 1206.1L731.9 1206.1L734.1 1206.1L736.2 1206.1L738.4 1206.1L740.6 1206.1L742.7 1206.1L744.9 1206.1L747 1206.1L749.2 1206.1L751.4 1206.1L753.5 1206.1L755.7 1206.1L757.8 1206.1L760 1206.1L762.2 1206.1L764.3 1206.1L766.5 1206.1L768.7 1206.1L770.8 1206.1L773 1206.1L775.2 1206.1L777.3 1206.1L779.5 1206.1L781.6 1206.1L783.8 1206.1L785.9 1206.1L788.1 1206.1L790.3 1206.1L792.4 1206.1L794.6 1206.3L796.7 1206.6L798.8 1207.2L800.8 1208.2L802.6 1209.4L804.1 1210.8L805.4 1212.6L806.6 1214.5L807.5 1216.4L808.3 1218.3L809.1 1220.4L809.7 1222.5L810.2 1224.6L810.7 1226.7L811.1 1228.8L811.5 1230.9L811.8 1233.1L812.1 1235.2L812.4 1237.4L812.7 1239.5L813 1241.7L813.2 1243.8L813.5 1246L813.8 1248.1L814.1 1250.2L814.4 1252.4L814.7 1254.5L815 1256.7L815.3 1258.8L815.6 1261L815.8 1263.1L816.1 1265.2L816.4 1267.4L816.7 1269.5L817 1271.7L817.4 1273.8L817.7 1275.9L818 1278.1L818.4 1280.2L818.7 1282.3L819.1 1284.5L819.4 1286.6L819.8 1288.7L820.2 1290.8L820.6 1293L821 1295.1L821.4 1297.2L821.9 1299.3L822.3 1301.4L822.8 1303.5L823.3 1305.6L823.8 1307.7L824.3 1309.8L824.9 1311.9L825.4 1314L826 1316.1L826.6 1318.2L827.3 1320.3L827.9 1322.3L828.6 1324.3L829.4 1326.4L830.2 1328.4L831 1330.4L831.9 1332.4L832.7 1334.3L833.7 1336.3L834.6 1338.2L835.6 1340.2L836.6 1342.1L837.7 1344L838.8 1345.8L840.1 1347.5L841.4 1349.3L842.8 1350.9L844.3 1352.5L845.8 1354.1L847.4 1355.5L849 1356.9L850.8 1358.2L852.6 1359.5L854.4 1360.6L856.2 1361.7L858.1 1362.7L860.1 1363.6L862.1 1364.5L864.1 1365.3L866.1 1366.1L868.2 1366.7L870.2 1367.4L872.3 1368L874.4 1368.5L876.5 1369L878.6 1369.4L880.8 1369.8L882.9 1370.1L885 1370.4L887.2 1370.7L889.3 1371L891.5 1371.2L893.6 1371.4L895.8 1371.6L897.9 1371.8L900.1 1372L902.3 1372.1L904.4 1372.2L906.6 1372.4L908.7 1372.5L910.9 1372.5L913 1372.6L915.2 1372.7L917.4 1372.8L919.5 1372.9L921.7 1372.9L923.8 1373L926 1373L928.2 1373.1L930.3 1373.1L1099.5 1373.1" fill="none" stroke="#0a0a0a" stroke-width="3.4" stroke-linejoin="round"/></g><rect x="703" y="1138.6" width="394.5" height="330.4" fill="none" stroke="#444" stroke-width="2" /><path d="M719.6 1469v-6M762.4 1469v-6M805.2 1469v-6M848 1469v-6M890.8 1469v-6M933.6 1469v-6M976.4 1469v-6M1019.2 1469v-6M1062 1469v-6" stroke="#444" stroke-width="1.5" fill="none"/><path d="M719.6 1138.6v6M762.4 1138.6v6M805.2 1138.6v6M848 1138.6v6M890.8 1138.6v6M933.6 1138.6v6M976.4 1138.6v6M1019.2 1138.6v6M1062 1138.6v6" stroke="#444" stroke-width="1.5" fill="none"/><path d="M741 1469v-3.5M783.8 1469v-3.5M826.6 1469v-3.5M869.4 1469v-3.5M912.2 1469v-3.5M955 1469v-3.5M997.8 1469v-3.5M1040.6 1469v-3.5M1083.4 1469v-3.5" stroke="#444" stroke-width="1.3" fill="none"/><path d="M741 1138.6v3.5M783.8 1138.6v3.5M826.6 1138.6v3.5M869.4 1138.6v3.5M912.2 1138.6v3.5M955 1138.6v3.5M997.8 1138.6v3.5M1040.6 1138.6v3.5M1083.4 1138.6v3.5" stroke="#444" stroke-width="1.3" fill="none"/><path d="M703 1432h6M703 1386.7h6M703 1341.5h6M703 1296.2h6M703 1251h6M703 1205.7h6M703 1160.5h6" stroke="#444" stroke-width="1.5" fill="none"/><path d="M1097.5 1432h-6M1097.5 1386.7h-6M1097.5 1341.5h-6M1097.5 1296.2h-6M1097.5 1251h-6M1097.5 1205.7h-6M1097.5 1160.5h-6" stroke="#444" stroke-width="1.5" fill="none"/><path d="M703 1454.6h3.5M703 1409.3h3.5M703 1364.1h3.5M703 1318.8h3.5M703 1273.6h3.5M703 1228.3h3.5M703 1183.1h3.5" stroke="#444" stroke-width="1.3" fill="none"/><path d="M1097.5 1454.6h-3.5M1097.5 1409.3h-3.5M1097.5 1364.1h-3.5M1097.5 1318.8h-3.5M1097.5 1273.6h-3.5M1097.5 1228.3h-3.5M1097.5 1183.1h-3.5" stroke="#444" stroke-width="1.3" fill="none"/><text transform="translate(717.6 1492.8) scale(0.91 1)" font-size="22.6" text-anchor="middle" fill="#2e2e2e" stroke="#2e2e2e" stroke-width="0.7">-5</text><text transform="translate(762.4 1492.8) scale(0.91 1)" font-size="22.6" text-anchor="middle" fill="#2e2e2e" stroke="#2e2e2e" stroke-width="0.7">0</text><text transform="translate(805.2 1492.8) scale(0.91 1)" font-size="22.6" text-anchor="middle" fill="#2e2e2e" stroke="#2e2e2e" stroke-width="0.7">5</text><text transform="translate(848 1492.8) scale(0.91 1)" font-size="22.6" text-anchor="middle" fill="#2e2e2e" stroke="#2e2e2e" stroke-width="0.7">10</text><text transform="translate(890.8 1492.8) scale(0.91 1)" font-size="22.6" text-anchor="middle" fill="#2e2e2e" stroke="#2e2e2e" stroke-width="0.7">15</text><text transform="translate(933.6 1492.8) scale(0.91 1)" font-size="22.6" text-anchor="middle" fill="#2e2e2e" stroke="#2e2e2e" stroke-width="0.7">20</text><text transform="translate(976.4 1492.8) scale(0.91 1)" font-size="22.6" text-anchor="middle" fill="#2e2e2e" stroke="#2e2e2e" stroke-width="0.7">25</text><text transform="translate(1019.2 1492.8) scale(0.91 1)" font-size="22.6" text-anchor="middle" fill="#2e2e2e" stroke="#2e2e2e" stroke-width="0.7">30</text><text transform="translate(1062 1492.8) scale(0.91 1)" font-size="22.6" text-anchor="middle" fill="#2e2e2e" stroke="#2e2e2e" stroke-width="0.7">35</text><text transform="translate(695.5 1438.5) scale(0.91 1)" font-size="22.6" text-anchor="end" fill="#2e2e2e" stroke="#2e2e2e" stroke-width="0.7">-5</text><text transform="translate(695.5 1393.3) scale(0.91 1)" font-size="22.6" text-anchor="end" fill="#2e2e2e" stroke="#2e2e2e" stroke-width="0.7">-4</text><text transform="translate(695.5 1348) scale(0.91 1)" font-size="22.6" text-anchor="end" fill="#2e2e2e" stroke="#2e2e2e" stroke-width="0.7">-3</text><text transform="translate(695.5 1302.8) scale(0.91 1)" font-size="22.6" text-anchor="end" fill="#2e2e2e" stroke="#2e2e2e" stroke-width="0.7">-2</text><text transform="translate(695.5 1257.5) scale(0.91 1)" font-size="22.6" text-anchor="end" fill="#2e2e2e" stroke="#2e2e2e" stroke-width="0.7">-1</text><text transform="translate(695.5 1212.3) scale(0.91 1)" font-size="22.6" text-anchor="end" fill="#2e2e2e" stroke="#2e2e2e" stroke-width="0.7">0</text><text transform="translate(695.5 1167) scale(0.91 1)" font-size="22.6" text-anchor="end" fill="#2e2e2e" stroke="#2e2e2e" stroke-width="0.7">1</text><text transform="translate(900.4 1532.6) scale(0.91 1)" font-size="29.2" text-anchor="middle" font-weight="bold" fill="#1c1c1c" stroke="#1c1c1c" stroke-width="0.3">Time (ps)</text><text transform="translate(620 1307) rotate(-90) scale(0.91 1)" font-size="30.8" text-anchor="middle" font-weight="bold" fill="#1c1c1c" stroke="#1c1c1c" stroke-width="0.3"><tspan font-family="Liberation Serif, serif" font-weight="normal" font-size="31.9">π+σ</tspan> Plasmon</text><text transform="translate(653 1304) rotate(-90) scale(0.91 1)" font-size="30.8" text-anchor="middle" font-weight="bold" fill="#1c1c1c" stroke="#1c1c1c" stroke-width="0.3">Peak Intensity Change (%)</text><text transform="translate(918 1236.3) scale(0.91 1)" font-size="29.2" font-weight="bold" fill="#111" stroke="#111" stroke-width="0.3">2.4 ps</text><path d="M898.8 1239.8L847.6 1275.9" stroke="#0a0a0a" stroke-width="2.6" /><path d="M836.2 1284L845.3 1270.9L851.6 1279.8Z" fill="#0a0a0a"/></g>
<g id="pf"><path d="M1285.5 14.2L1285.5 211.5" stroke="#9a9a9a" stroke-width="1.6" /><g clip-path="url(#cpf)"><path d="M1205.3 35.6L1207.5 35.4L1209.6 35.2L1211.8 35L1213.9 34.9L1216.1 34.7L1218.2 34.5L1220.4 34.4L1222.5 34.2L1224.7 34.1L1226.8 34L1229 33.9L1231.1 33.7L1233.3 33.6L1235.4 33.6L1237.6 33.5L1239.7 33.4L1241.9 33.3L1244 33.3L1246.2 33.2L1248.3 33.1L1250.5 33L1252.6 32.8L1254.8 32.6L1256.9 32.2L1259.1 31.9L1261.2 31.5L1263.4 31L1265.5 30.6L1267.7 30.3L1269.8 29.9L1272 29.6L1274.1 29.3L1276.3 28.9L1278.4 28.6L1280.5 28.3L1282.7 28.1L1284.8 28.1L1287 28.2L1289.1 28.7L1291.3 29.2L1293.4 29.9L1295.6 30.6L1297.7 31.3L1299.9 32L1302 32.9L1304.2 33.8L1306.3 34.9L1308.5 35.9L1310.6 37.1L1312.8 38.2L1314.9 39.5L1317.1 40.8L1319.2 42.3L1321.4 43.9L1323.5 45.6L1325.7 47.3L1327.8 49.1L1330 50.8L1332.1 52.7L1334.3 54.6L1336.4 56.6L1338.6 58.6L1340.7 60.6L1342.9 62.4L1345 63.9L1347.2 65.6L1349.3 67.2L1351.5 68.1L1353.6 68.1L1355.8 68.1L1357.9 68.1L1360.1 68.1L1362.2 68L1364.3 68L1366.5 67.9L1368.6 67.8L1370.8 67.8L1372.9 67.7L1375.1 67.6L1377.2 67.6L1379.4 67.5L1381.5 67.4L1383.7 67.3L1385.8 67.2L1388 67L1390.1 66.8L1392.3 66.6L1394.4 66.4L1396.6 66.2L1398.7 66.1L1400.9 66L1403 65.9L1405.2 65.9L1407.3 65.9L1409.5 65.9L1411.6 65.9L1413.8 65.9L1415.9 65.9L1418.1 65.9L1420.2 65.9L1422.4 66.4L1424.5 67.3L1426.7 68.5L1428.8 69.8L1431 71.2L1433.1 72.4L1435.3 73.3L1437.4 74.2L1439.6 74.9L1441.7 75.7L1443.9 76.4L1446 77.2L1448.2 78.1L1450.3 79L1452.4 80.2L1454.6 81.6L1456.7 83L1458.9 84.4L1461 85.6L1463.2 86.5L1465.3 87.1L1467.5 87.6L1469.6 88L1471.8 88.4L1473.9 88.7L1476.1 88.9L1478.2 89.1L1480.4 89.1L1482.5 88.8L1484.7 88.3L1486.8 87.7L1489 87.1L1491.1 86.3L1493.3 85.6L1495.4 85L1497.6 84.2L1499.7 83.3L1501.9 82.3L1504 81.5L1506.2 80.9L1508.3 80.5L1510.5 80.5L1512.6 80.5L1514.8 80.5L1516.9 80.5L1519.1 80.5L1521.2 80.5L1523.4 80.6L1525.5 81.9L1527.7 84L1529.8 86.2L1532 88.1L1534.1 89.7L1536.2 91.3L1538.4 92.9L1540.5 94.4L1542.7 95.8L1544.8 97.1L1547 98.2L1549.1 99.3L1551.3 100.4L1553.4 101.5L1555.6 102.4L1557.7 103.2L1559.9 103.8L1562 104.1L1564.2 104.3L1566.3 104.5L1568.5 104.7L1570.6 104.8L1572.8 104.8L1574.9 104.5L1577.1 103.7L1579.2 102.4L1581.4 101L1583.5 99.6L1585.7 98.1L1587.8 96.1L1590 94L1592.1 92L1594.3 90.4L1596.4 89.4L1598.6 88.6L1600.7 87.9L1602.9 87.3L1605 86.9L1607.2 86.8L1609.3 86.9L1611.5 87.1L1613.6 87.3L1615.8 87.6L1617.9 87.8L1620 87.9L1622.2 88L1624.3 87.8L1626.5 87.4L1628.6 86.9L1630.8 86.1L1632.9 85.3L1635.1 82.4L1637.2 77.9L1639.4 73.9L1641.5 72.2L1643.7 70.9L1645.8 69.8L1648 69L1650.1 68.6L1652.3 68.5L1654.4 68.7L1656.6 69L1658.7 69.4L1660.9 69.9L1663 70.4L1665.2 71.1L1667.3 72L1669.5 73L1671.6 74L1673.8 74.8L1675.9 75.5L1678.1 76.2L1680.2 76.9L1682.4 77.6L1684.5 78.1L1686.7 78.5L1688.8 78.6L1691 78.5L1693.1 78.4L1695.3 78.2L1697.4 77.9L1699.6 77.7L1701.7 77.5L1703.9 77.5L1706 77.5L1708.1 77.5L1710.3 77.5L1712.4 77.6L1714.6 77.6L1716.7 77.7L1718.9 77.9" fill="none" stroke="#7b1519" stroke-width="1.6" stroke-linejoin="round"/><path d="M1206.3 35.6h.01M1210.7 34.9h.01M1215.1 35.5h.01M1219.5 31.9h.01M1223.9 37h.01M1228.3 29.8h.01M1232.7 34.4h.01M1237.1 32.8h.01M1241.5 34.6h.01M1245.9 31.6h.01M1250.3 32.7h.01M1254.7 34.3h.01M1259.1 35.8h.01M1263.5 30h.01M1267.9 30.4h.01M1272.3 28.1h.01M1276.7 30.8h.01M1281.1 29.9h.01M1285.5 26.7h.01M1289.9 31.6h.01M1294.3 28.8h.01M1298.7 30.4h.01M1303.1 32.8h.01M1307.5 32.9h.01M1311.9 35.9h.01M1316.3 40.7h.01M1320.7 44.3h.01M1325.1 48h.01M1329.5 49.9h.01M1333.9 55.2h.01M1338.3 60.5h.01M1342.7 63.8h.01M1347.1 63.8h.01M1351.5 65.8h.01M1355.9 68.6h.01M1360.3 69.7h.01M1364.7 67.9h.01M1369.1 69.1h.01M1373.5 68h.01M1377.9 67.8h.01M1382.3 67.7h.01M1386.7 67.4h.01M1391.1 66.2h.01M1395.5 68.7h.01M1399.9 67.2h.01M1404.3 65.2h.01M1408.7 65.5h.01M1413.1 64.5h.01M1417.5 66.5h.01M1421.9 64.4h.01M1426.3 67.9h.01M1430.7 72h.01M1435.1 74h.01M1439.5 75.7h.01M1443.9 74.9h.01M1448.3 79.2h.01M1452.7 80.3h.01M1457.1 85h.01M1461.5 85.4h.01M1465.9 89.4h.01M1470.3 88.7h.01M1474.7 89.8h.01M1479.1 88.6h.01M1483.5 88.1h.01M1487.9 86.9h.01M1492.3 87.2h.01M1496.7 83.9h.01M1501.1 82.5h.01M1505.5 82.6h.01M1509.9 81.2h.01M1514.3 80.1h.01M1518.7 80.8h.01M1523.1 78.8h.01M1527.5 81.9h.01M1531.9 88.7h.01M1536.3 95h.01M1540.7 97.1h.01M1545.1 100.5h.01M1549.5 100.3h.01M1553.9 101h.01M1558.3 104.7h.01M1562.7 102.6h.01M1567.1 100.9h.01M1571.5 105.3h.01M1575.9 105.5h.01M1580.3 102.6h.01M1584.7 100.7h.01M1589.1 95.8h.01M1593.5 91.4h.01M1597.9 87.5h.01M1602.3 87.2h.01M1606.7 85.3h.01M1611.1 86.6h.01M1615.5 90h.01M1619.9 88.2h.01M1624.3 88.3h.01M1628.7 85.9h.01M1633.1 88.4h.01M1637.5 74.7h.01M1641.9 70.7h.01M1646.3 70.9h.01M1650.7 67.6h.01M1655.1 67.8h.01M1659.5 70.3h.01M1663.9 71.7h.01M1668.3 73.4h.01M1672.7 73.3h.01M1677.1 76.9h.01M1681.5 75.8h.01M1685.9 77.1h.01M1690.3 77.3h.01M1694.7 78.7h.01M1699.1 77.3h.01M1703.5 76.3h.01M1707.9 77.5h.01M1712.3 76.2h.01M1716.7 77.1h.01" stroke="#7b1519" stroke-width="5.8" stroke-linecap="round" fill="none"/><path d="M1205.3 58L1207.5 57.5L1209.6 57L1211.8 56.5L1213.9 56L1216 55.6L1218.2 55.3L1220.3 54.9L1222.5 54.5L1224.6 54.2L1226.8 53.9L1228.9 53.7L1231 53.5L1233.2 53.5L1235.3 53.6L1237.5 53.7L1239.6 53.8L1241.7 53.9L1243.9 54L1246 54.1L1248.2 54.2L1250.3 54.3L1252.4 54.2L1254.6 53.8L1256.7 53.2L1258.9 52.4L1261 51.5L1263.1 50.5L1265.3 49.6L1267.4 48.7L1269.6 48L1271.7 47.3L1273.9 46.6L1276 45.9L1278.1 45.2L1280.3 44.7L1282.4 44.3L1284.6 44.2L1286.7 44.4L1288.8 45.2L1291 46.2L1293.1 47.3L1295.3 49L1297.4 51.2L1299.5 53.8L1301.7 56.6L1303.8 59.4L1306 62.2L1308.1 64.8L1310.2 67.4L1312.4 70.1L1314.5 72.8L1316.7 75.5L1318.8 78.2L1321 80.9L1323.1 83.5L1325.2 86.2L1327.4 88.9L1329.5 91.6L1331.7 94.3L1333.8 96.8L1335.9 99.1L1338.1 101.3L1340.2 103.4L1342.4 105.5L1344.5 107.4L1346.6 109.3L1348.8 110.9L1350.9 112.4L1353.1 113.6L1355.2 114.6L1357.3 115.6L1359.5 116.5L1361.6 117.2L1363.8 118L1365.9 118.7L1368.1 119.3L1370.2 120L1372.3 120.5L1374.5 121.1L1376.6 121.6L1378.8 122.1L1380.9 122.5L1383 123L1385.2 123.4L1387.3 123.7L1389.5 124.1L1391.6 124.4L1393.7 124.8L1395.9 125.2L1398 125.6L1400.2 126L1402.3 126.5L1404.4 126.9L1406.6 127.5L1408.7 128.1L1410.9 128.7L1413 129.6L1415.2 130.9L1417.3 132.5L1419.4 134.3L1421.6 136.2L1423.7 138L1425.9 139.7L1428 141L1430.1 142.3L1432.3 143.5L1434.4 144.6L1436.6 145.7L1438.7 146.6L1440.8 147.5L1443 148.2L1445.1 148.8L1447.3 149.3L1449.4 149.8L1451.5 150.3L1453.7 150.8L1455.8 151.3L1458 151.9L1460.1 152.7L1462.3 153.5L1464.4 154.4L1466.5 155.2L1468.7 155.9L1470.8 156.3L1473 156.5L1475.1 156.7L1477.2 156.8L1479.4 156.8L1481.5 156.9L1483.7 157L1485.8 157.1L1487.9 157.3L1490.1 157.7L1492.2 158.1L1494.4 158.6L1496.5 159.1L1498.6 159.6L1500.8 160.1L1502.9 160.3L1505.1 160.6L1507.2 160.7L1509.4 160.9L1511.5 161.1L1513.6 161.3L1515.8 161.5L1517.9 162L1520.1 162.9L1522.2 164.1L1524.3 165.7L1526.5 167.3L1528.6 169.1L1530.8 170.7L1532.9 172.3L1535 174.1L1537.2 176L1539.3 177.9L1541.5 179.7L1543.6 181.2L1545.7 182.3L1547.9 183L1550 183.6L1552.2 184.1L1554.3 184.5L1556.5 184.9L1558.6 185.1L1560.7 185.3L1562.9 185.2L1565 184.9L1567.2 184.3L1569.3 183.6L1571.4 182.8L1573.6 182.2L1575.7 181.7L1577.9 181.4L1580 181.2L1582.1 180.9L1584.3 180.7L1586.4 180.6L1588.6 180.5L1590.7 180.4L1592.8 180.4L1595 180.6L1597.1 180.8L1599.3 181L1601.4 181.2L1603.6 181.4L1605.7 181.5L1607.8 181.5L1610 181.1L1612.1 180.5L1614.3 179.7L1616.4 178.7L1618.5 177.6L1620.7 176.4L1622.8 175.1L1625 173.4L1627.1 171.2L1629.2 168.8L1631.4 166.3L1633.5 163.9L1635.7 161.7L1637.8 159.8L1639.9 157.8L1642.1 155.7L1644.2 154L1646.4 152.9L1648.5 152.7L1650.7 152.9L1652.8 153.4L1654.9 154L1657.1 154.7L1659.2 155.4L1661.4 156.7L1663.5 158.6L1665.6 160.7L1667.8 162.8L1669.9 164.5L1672.1 165.9L1674.2 167.3L1676.3 168.7L1678.5 169.7L1680.6 170.3L1682.8 170.3L1684.9 170.3L1687 170.3L1689.2 170.3L1691.3 170.3L1693.5 170.3L1695.6 170.3L1697.8 170.2L1699.9 169.9L1702 169.4L1704.2 168.7L1706.3 168.1L1708.5 167.5L1710.6 166.8L1712.7 166.2L1714.9 165.4L1717 164.7" fill="none" stroke="#e8212b" stroke-width="1.6" stroke-linejoin="round"/><path d="M1206.3 60.3h.01M1210.7 54.5h.01M1215.1 56.4h.01M1219.5 54.7h.01M1223.9 54h.01M1228.3 52.8h.01M1232.7 54.5h.01M1237.1 53.9h.01M1241.5 54.1h.01M1245.9 55.5h.01M1250.3 53.8h.01M1254.7 54.9h.01M1259.1 51.8h.01M1263.5 48.3h.01M1267.9 49.1h.01M1272.3 50.3h.01M1276.7 48.9h.01M1281.1 46.7h.01M1285.5 44.3h.01M1289.9 50.6h.01M1294.3 46.9h.01M1298.7 54.8h.01M1303.1 56.3h.01M1307.5 62.6h.01M1311.9 69.2h.01M1316.3 74.6h.01M1320.7 81.9h.01M1325.1 84.7h.01M1329.5 91.5h.01M1333.9 96.5h.01M1338.3 101.8h.01M1342.7 106.6h.01M1347.1 110.9h.01M1351.5 113.1h.01M1355.9 115.5h.01M1360.3 116.8h.01M1364.7 116.3h.01M1369.1 117.3h.01M1373.5 121.3h.01M1377.9 120.1h.01M1382.3 121.8h.01M1386.7 123.9h.01M1391.1 123.9h.01M1395.5 124.1h.01M1399.9 124.8h.01M1404.3 127h.01M1408.7 130h.01M1413.1 127.5h.01M1417.5 132.4h.01M1421.9 137.8h.01M1426.3 140.3h.01M1430.7 141.8h.01M1435.1 145h.01M1439.5 147.5h.01M1443.9 149.8h.01M1448.3 147.5h.01M1452.7 149.4h.01M1457.1 152h.01M1461.5 153.8h.01M1465.9 155.3h.01M1470.3 156.8h.01M1474.7 157.8h.01M1479.1 157.4h.01M1483.5 160.3h.01M1487.9 156.4h.01M1492.3 157.7h.01M1496.7 157.3h.01M1501.1 160.9h.01M1505.5 160.9h.01M1509.9 160.7h.01M1514.3 159.9h.01M1518.7 164.9h.01M1523.1 165.3h.01M1527.5 169.3h.01M1531.9 169.8h.01M1536.3 175.7h.01M1540.7 179.7h.01M1545.1 184.3h.01M1549.5 184.2h.01M1553.9 185.8h.01M1558.3 183.1h.01M1562.7 185h.01M1567.1 184.4h.01M1571.5 182.7h.01M1575.9 181.3h.01M1580.3 180.7h.01M1584.7 182.4h.01M1589.1 179.9h.01M1593.5 181.4h.01M1597.9 181.8h.01M1602.3 180.9h.01M1606.7 181.7h.01M1611.1 177.7h.01M1615.5 178.3h.01M1619.9 178.2h.01M1624.3 173.1h.01M1628.7 166.7h.01M1633.1 165.6h.01M1637.5 158.4h.01M1641.9 157.6h.01M1646.3 152.9h.01M1650.7 151.3h.01M1655.1 153.1h.01M1659.5 157.6h.01M1663.9 159.2h.01M1668.3 163.1h.01M1672.7 166.6h.01M1677.1 168.8h.01M1681.5 169.4h.01M1685.9 171.1h.01M1690.3 172.2h.01M1694.7 170.4h.01M1699.1 172.1h.01M1703.5 170.4h.01M1707.9 165.6h.01M1712.3 167.2h.01" stroke="#e8212b" stroke-width="5.8" stroke-linecap="round" fill="none"/><path d="M1205.3 88L1207.5 87.3L1209.6 86.6L1211.8 86.1L1213.9 85.6L1216 85.4L1218.2 85.3L1220.3 85.3L1222.5 85.3L1224.6 85.3L1226.8 85.3L1228.9 85.3L1231 85.3L1233.2 85.3L1235.3 85.3L1237.5 85.2L1239.6 85.1L1241.7 85L1243.9 84.9L1246 84.7L1248.2 84.5L1250.3 84.3L1252.4 84L1254.6 83.6L1256.7 83L1258.9 82.3L1261 81.6L1263.1 80.8L1265.3 80L1267.4 79.3L1269.6 78.6L1271.7 78L1273.9 77.3L1276 76.6L1278.1 75.9L1280.3 75.4L1282.4 75L1284.6 74.9L1286.7 75.2L1288.8 76L1291 77.2L1293.1 78.4L1295.3 80.1L1297.4 82.1L1299.5 84.5L1301.7 87L1303.8 89.6L1306 92.2L1308.1 94.7L1310.2 97.3L1312.4 100L1314.5 102.7L1316.7 105.5L1318.8 108.2L1321 110.9L1323.1 113.4L1325.2 116L1327.4 118.5L1329.5 121L1331.7 123.5L1333.8 125.8L1335.9 128L1338.1 130.1L1340.2 132.4L1342.4 134.7L1344.5 137L1346.6 139L1348.8 140.5L1350.9 141.4L1353.1 141.5L1355.2 141.2L1357.3 140.8L1359.5 140.4L1361.6 139.9L1363.8 139.5L1365.9 139.3L1368.1 139.3L1370.2 139.4L1372.3 139.6L1374.5 139.8L1376.6 140L1378.8 140.2L1380.9 140.3L1383 140.3L1385.2 139.9L1387.3 139.5L1389.5 139.2L1391.6 139.6L1393.7 140.6L1395.9 142.1L1398 143.7L1400.2 145.4L1402.3 146.8L1404.4 147.8L1406.6 148.5L1408.7 149L1410.9 149.5L1413 149.9L1415.2 150.3L1417.3 150.9L1419.4 151.6L1421.6 152.6L1423.7 154.1L1425.9 155.9L1428 157.7L1430.1 159.6L1432.3 161.4L1434.4 162.8L1436.6 164.1L1438.7 165.3L1440.8 166.5L1443 167.6L1445.1 168.6L1447.3 169.5L1449.4 170.3L1451.5 171L1453.7 171.8L1455.8 172.5L1458 173.1L1460.1 173.6L1462.3 173.9L1464.4 174.1L1466.5 174L1468.7 173.9L1470.8 173.7L1473 173.5L1475.1 173.3L1477.2 173.1L1479.4 172.9L1481.5 172.8L1483.7 172.7L1485.8 172.6L1487.9 172.5L1490.1 172.4L1492.2 172.3L1494.4 172.2L1496.5 172L1498.6 171.6L1500.8 171.3L1502.9 170.9L1505.1 170.6L1507.2 170.4L1509.4 170.3L1511.5 170.4L1513.6 170.6L1515.8 170.9L1517.9 171.3L1520.1 171.7L1522.2 172.3L1524.3 173L1526.5 174.3L1528.6 176.4L1530.8 178.7L1532.9 180.8L1535 183L1537.2 185.4L1539.3 187.8L1541.5 190.1L1543.6 192.2L1545.7 194L1547.9 195.4L1550 196.8L1552.2 198.1L1554.3 199.3L1556.5 200.4L1558.6 201.2L1560.7 201.9L1562.9 202.4L1565 202.8L1567.2 203.1L1569.3 203.5L1571.4 203.7L1573.6 203.9L1575.7 204L1577.9 203.9L1580 203.6L1582.1 203.1L1584.3 202.5L1586.4 201.8L1588.6 201.1L1590.7 200.5L1592.8 200L1595 199.6L1597.1 199.3L1599.3 199L1601.4 198.7L1603.6 198.3L1605.7 197.9L1607.8 197.3L1610 196.6L1612.1 195.7L1614.3 194.8L1616.4 193.7L1618.5 192.6L1620.7 191.4L1622.8 190.1L1625 188.6L1627.1 187L1629.2 185.2L1631.4 183.4L1633.5 181.7L1635.7 180.2L1637.8 178.9L1639.9 177.5L1642.1 176.1L1644.2 174.9L1646.4 174.2L1648.5 174.1L1650.7 174.1L1652.8 174.1L1654.9 174.1L1657.1 174.1L1659.2 174.1L1661.4 174.3L1663.5 174.8L1665.6 175.6L1667.8 176.5L1669.9 177.4L1672.1 178.3L1674.2 179L1676.3 179.6L1678.5 180.3L1680.6 180.9L1682.8 181.5L1684.9 182L1687 182.4L1689.2 182.7L1691.3 182.9L1693.5 183L1695.6 183.1L1697.8 183.3L1699.9 183.3L1702 183.4L1704.2 183.4L1706.3 183.3L1708.5 183L1710.6 182.5L1712.7 181.9L1714.9 181.2L1717 180.4" fill="none" stroke="#f18a1c" stroke-width="1.6" stroke-linejoin="round"/><path d="M1206.3 87.9h.01M1210.7 87.4h.01M1215.1 84.5h.01M1219.5 86.4h.01M1223.9 85.6h.01M1228.3 82.9h.01M1232.7 87h.01M1237.1 87.5h.01M1241.5 85.4h.01M1245.9 86.7h.01M1250.3 82.3h.01M1254.7 85.9h.01M1259.1 81.9h.01M1263.5 84.1h.01M1267.9 83.9h.01M1272.3 74.4h.01M1276.7 75.7h.01M1281.1 76.1h.01M1285.5 76.5h.01M1289.9 79.9h.01M1294.3 78.4h.01M1298.7 84.7h.01M1303.1 88.7h.01M1307.5 95.3h.01M1311.9 99.5h.01M1316.3 105.8h.01M1320.7 110.6h.01M1325.1 114.7h.01M1329.5 119.9h.01M1333.9 126.6h.01M1338.3 129.5h.01M1342.7 133.9h.01M1347.1 139.1h.01M1351.5 142h.01M1355.9 141.9h.01M1360.3 139.3h.01M1364.7 139.2h.01M1369.1 140h.01M1373.5 138.9h.01M1377.9 141.4h.01M1382.3 140.5h.01M1386.7 138.3h.01M1391.1 140.4h.01M1395.5 141.5h.01M1399.9 147.2h.01M1404.3 147.6h.01M1408.7 151h.01M1413.1 152.9h.01M1417.5 151.8h.01M1421.9 153.6h.01M1426.3 155.8h.01M1430.7 160.3h.01M1435.1 164.3h.01M1439.5 168.4h.01M1443.9 169.7h.01M1448.3 168.9h.01M1452.7 173.2h.01M1457.1 172h.01M1461.5 176.2h.01M1465.9 175.6h.01M1470.3 174.5h.01M1474.7 171.8h.01M1479.1 173.8h.01M1483.5 171.9h.01M1487.9 171.6h.01M1492.3 172.2h.01M1496.7 169.8h.01M1501.1 171.3h.01M1505.5 171.1h.01M1509.9 171.5h.01M1514.3 169.9h.01M1518.7 170.8h.01M1523.1 174.4h.01M1527.5 176.9h.01M1531.9 177.7h.01M1536.3 185.2h.01M1540.7 190.6h.01M1545.1 192.5h.01M1549.5 197.8h.01M1553.9 198.8h.01M1558.3 200.7h.01M1562.7 200.7h.01M1567.1 204.9h.01M1571.5 202.4h.01M1575.9 199.7h.01M1580.3 201.6h.01M1584.7 201.3h.01M1589.1 199.1h.01M1593.5 201.7h.01M1597.9 197.8h.01M1602.3 197.7h.01M1606.7 197.5h.01M1611.1 196.8h.01M1615.5 192.1h.01M1619.9 189.3h.01M1624.3 187.6h.01M1628.7 186.1h.01M1633.1 181.5h.01M1637.5 179.6h.01M1641.9 175h.01M1646.3 175.3h.01M1650.7 174.3h.01M1655.1 174h.01M1659.5 174.6h.01M1663.9 175.3h.01M1668.3 177h.01M1672.7 176.5h.01M1677.1 180.2h.01M1681.5 180.9h.01M1685.9 182.8h.01M1690.3 183h.01M1694.7 182.5h.01M1699.1 183.9h.01M1703.5 185.4h.01M1707.9 183.7h.01M1712.3 182h.01" stroke="#f18a1c" stroke-width="5.8" stroke-linecap="round" fill="none"/><path d="M1205.3 116L1207.5 115.7L1209.6 115.3L1211.8 115L1213.9 114.7L1216 114.3L1218.2 114L1220.3 113.8L1222.5 113.5L1224.6 113.3L1226.8 113L1228.9 112.8L1231 112.5L1233.2 112.1L1235.3 111.7L1237.5 111.2L1239.6 110.6L1241.7 110L1243.9 109.5L1246 109.1L1248.2 108.7L1250.3 108.6L1252.4 108.6L1254.6 108.7L1256.7 109L1258.9 109.3L1261 109.6L1263.1 109.9L1265.3 110.2L1267.4 110.3L1269.6 110.4L1271.7 110.4L1273.9 110.4L1276 110.4L1278.1 110.4L1280.3 110.4L1282.4 110.4L1284.6 110.4L1286.7 110.4L1288.8 110.4L1291 111.1L1293.1 112.5L1295.3 114.3L1297.4 116.2L1299.5 117.8L1301.7 119.2L1303.8 120.5L1306 121.7L1308.1 123L1310.2 124.3L1312.4 125.7L1314.5 127.2L1316.7 128.8L1318.8 130.5L1321 132.4L1323.1 134.3L1325.2 136.3L1327.4 138.3L1329.5 140.3L1331.7 142.4L1333.8 144.8L1335.9 147.3L1338.1 149.8L1340.2 152L1342.4 153.9L1344.5 155.3L1346.6 156.3L1348.8 157.2L1350.9 158L1353.1 158.7L1355.2 159.3L1357.3 159.8L1359.5 160.2L1361.6 160.6L1363.8 160.9L1365.9 161.2L1368.1 161.5L1370.2 161.7L1372.3 162L1374.5 162.2L1376.6 162.4L1378.8 162.6L1380.9 162.7L1383 162.9L1385.2 163L1387.3 163.2L1389.5 163.3L1391.6 163.5L1393.7 163.6L1395.9 163.7L1398 163.8L1400.2 163.9L1402.3 163.9L1404.4 163.9L1406.6 163.9L1408.7 163.9L1410.9 163.9L1413 163.9L1415.2 163.9L1417.3 163.9L1419.4 163.9L1421.6 164.2L1423.7 165L1425.9 166.1L1428 167.4L1430.1 168.9L1432.3 170.2L1434.4 171.4L1436.6 172.5L1438.7 173.5L1440.8 174.5L1443 175.6L1445.1 176.6L1447.3 177.7L1449.4 178.9L1451.5 180.3L1453.7 181.9L1455.8 183.7L1458 185.4L1460.1 186.9L1462.3 188.2L1464.4 189L1466.5 189.6L1468.7 190.2L1470.8 190.6L1473 191.1L1475.1 191.4L1477.2 191.6L1479.4 191.6L1481.5 191.5L1483.7 191L1485.8 190.4L1487.9 189.6L1490.1 188.8L1492.2 187.9L1494.4 187.1L1496.5 186.3L1498.6 185.3L1500.8 184.2L1502.9 183.2L1505.1 182.3L1507.2 181.7L1509.4 181.5L1511.5 181.6L1513.6 181.9L1515.8 182.4L1517.9 183L1520.1 183.7L1522.2 184.5L1524.3 185.3L1526.5 186.7L1528.6 188.7L1530.8 191.1L1532.9 193.7L1535 196.1L1537.2 198.4L1539.3 201L1541.5 203.5L1543.6 205.8L1545.7 207.3L1547.9 208.1L1550 208.7L1552.2 209.2L1554.3 209.6L1556.5 210L1558.6 210.2L1560.7 210.3L1562.9 210.3L1565 210.3L1567.2 210.1L1569.3 209.9L1571.4 209.6L1573.6 209.3L1575.7 209L1577.9 208.7L1580 208.2L1582.1 207.7L1584.3 207.2L1586.4 206.5L1588.6 205.9L1590.7 205.4L1592.8 204.8L1595 204.3L1597.1 203.9L1599.3 203.4L1601.4 202.9L1603.6 202.3L1605.7 201.7L1607.8 200.9L1610 199.9L1612.1 198.8L1614.3 197.5L1616.4 196.2L1618.5 194.8L1620.7 193.4L1622.8 191.9L1625 190.3L1627.1 188.6L1629.2 186.9L1631.4 185.2L1633.5 183.6L1635.7 182.1L1637.8 180.8L1639.9 179.3L1642.1 177.9L1644.2 176.8L1646.4 176.1L1648.5 175.9L1650.7 176.1L1652.8 176.4L1654.9 176.9L1657.1 177.4L1659.2 177.8L1661.4 178.4L1663.5 179.1L1665.6 179.8L1667.8 180.6L1669.9 181.3L1672.1 182.1L1674.2 182.7L1676.3 183.4L1678.5 184.1L1680.6 184.8L1682.8 185.4L1684.9 186L1687 186.3L1689.2 186.4L1691.3 186.4L1693.5 186.4L1695.6 186.4L1697.8 186.4L1699.9 186.4L1702 186.4L1704.2 186.4L1706.3 186.4L1708.5 186.2L1710.6 186L1712.7 185.8L1714.9 185.6L1717 185.3" fill="none" stroke="#69b93a" stroke-width="1.6" stroke-linejoin="round"/><path d="M1206.3 115.3h.01M1210.7 116.3h.01M1215.1 115.5h.01M1219.5 115.7h.01M1223.9 114.2h.01M1228.3 114.1h.01M1232.7 112.1h.01M1237.1 113.3h.01M1241.5 116.2h.01M1245.9 110.1h.01M1250.3 108h.01M1254.7 112h.01M1259.1 110.1h.01M1263.5 111.9h.01M1267.9 113.7h.01M1272.3 107.7h.01M1276.7 111.5h.01M1281.1 111.9h.01M1285.5 109h.01M1289.9 110.5h.01M1294.3 112.7h.01M1298.7 117h.01M1303.1 120.9h.01M1307.5 122.1h.01M1311.9 124.5h.01M1316.3 129.1h.01M1320.7 132.4h.01M1325.1 137.2h.01M1329.5 138.7h.01M1333.9 147.7h.01M1338.3 148.6h.01M1342.7 155.6h.01M1347.1 157.7h.01M1351.5 157.2h.01M1355.9 159.4h.01M1360.3 159.7h.01M1364.7 161.9h.01M1369.1 162.9h.01M1373.5 162.2h.01M1377.9 162.9h.01M1382.3 162h.01M1386.7 164.2h.01M1391.1 164.4h.01M1395.5 163.5h.01M1399.9 162.7h.01M1404.3 165.3h.01M1408.7 162.8h.01M1413.1 163.3h.01M1417.5 163h.01M1421.9 164.8h.01M1426.3 166.4h.01M1430.7 167.6h.01M1435.1 171.2h.01M1439.5 173.2h.01M1443.9 177.3h.01M1448.3 181.5h.01M1452.7 183.5h.01M1457.1 187h.01M1461.5 189.9h.01M1465.9 189h.01M1470.3 190.2h.01M1474.7 189.9h.01M1479.1 193.1h.01M1483.5 191.5h.01M1487.9 188.5h.01M1492.3 188.7h.01M1496.7 186.3h.01M1501.1 185.4h.01M1505.5 182.1h.01M1509.9 180.9h.01M1514.3 182.2h.01M1518.7 183.3h.01M1523.1 186.1h.01M1527.5 187.4h.01M1531.9 192.1h.01M1536.3 197.7h.01M1540.7 201.2h.01M1545.1 206.3h.01M1549.5 209.6h.01M1553.9 208.5h.01M1558.3 211.6h.01M1562.7 209.6h.01M1567.1 209.8h.01M1571.5 210.3h.01M1575.9 209.2h.01M1580.3 206.6h.01M1584.7 205h.01M1589.1 206.1h.01M1593.5 203.4h.01M1597.9 203.3h.01M1602.3 203.4h.01M1606.7 201h.01M1611.1 198.6h.01M1615.5 195.3h.01M1619.9 194h.01M1624.3 193.8h.01M1628.7 186.1h.01M1633.1 182h.01M1637.5 180.4h.01M1641.9 179.6h.01M1646.3 175.7h.01M1650.7 176h.01M1655.1 176.8h.01M1659.5 178.1h.01M1663.9 178h.01M1668.3 179.1h.01M1672.7 182.2h.01M1677.1 186.1h.01M1681.5 182.9h.01M1685.9 185.8h.01M1690.3 186h.01M1694.7 185.8h.01M1699.1 186.6h.01M1703.5 185.5h.01M1707.9 187.3h.01M1712.3 184.8h.01" stroke="#69b93a" stroke-width="5.8" stroke-linecap="round" fill="none"/><path d="M1205.3 161.7L1207.5 161.5L1209.6 161.3L1211.8 161L1213.9 160.7L1216 160.4L1218.2 160.1L1220.3 159.7L1222.5 159.2L1224.6 158.7L1226.8 158.2L1228.9 157.8L1231 157.4L1233.2 157.1L1235.3 156.8L1237.5 156.6L1239.6 156.4L1241.7 156.3L1243.9 156.1L1246 155.9L1248.2 155.7L1250.3 155.4L1252.4 155.1L1254.6 154.8L1256.7 154.3L1258.9 153.9L1261 153.4L1263.1 152.9L1265.3 152.4L1267.4 152L1269.6 151.6L1271.7 151.3L1273.9 150.9L1276 150.5L1278.1 150.1L1280.3 149.7L1282.4 149.4L1284.6 149.2L1286.7 149L1288.8 149L1291 149.5L1293.1 150.6L1295.3 152.1L1297.4 153.7L1299.5 155.3L1301.7 156.7L1303.8 158.3L1306 159.9L1308.1 161.6L1310.2 163.3L1312.4 165L1314.5 166.5L1316.7 167.9L1318.8 169.2L1321 170.5L1323.1 171.8L1325.2 173.1L1327.4 174.4L1329.5 175.9L1331.7 177.4L1333.8 179.1L1335.9 180.8L1338.1 182.6L1340.2 184.2L1342.4 185.8L1344.5 187.1L1346.6 188.3L1348.8 189.6L1350.9 190.8L1353.1 191.9L1355.2 192.9L1357.3 193.5L1359.5 193.9L1361.6 194L1363.8 194.1L1365.9 194.3L1368.1 194.3L1370.2 194.4L1372.3 194.5L1374.5 194.6L1376.6 194.6L1378.8 194.6L1380.9 194.6L1383 194.6L1385.2 194.6L1387.3 194.5L1389.5 194.4L1391.6 194.3L1393.7 194.2L1395.9 194.1L1398 194L1400.2 194L1402.3 193.9L1404.4 193.9L1406.6 193.9L1408.7 193.9L1410.9 193.9L1413 193.9L1415.2 193.9L1417.3 193.9L1419.4 193.9L1421.6 194.1L1423.7 194.8L1425.9 195.8L1428 197L1430.1 198.2L1432.3 199.3L1434.4 200.3L1436.6 201L1438.7 201.7L1440.8 202.3L1443 203L1445.1 203.6L1447.3 204.3L1449.4 205.1L1451.5 206.1L1453.7 207.3L1455.8 208.6L1458 209.9L1460.1 211.1L1462.3 212L1464.4 212.6L1466.5 213L1468.7 213.3L1470.8 213.5L1473 213.8L1475.1 214L1477.2 214.1L1479.4 214.1L1481.5 213.9L1483.7 213.4L1485.8 212.6L1487.9 211.8L1490.1 210.9L1492.2 210.2L1494.4 209.6L1496.5 209.1L1498.6 208.7L1500.8 208.2L1502.9 207.8L1505.1 207.4L1507.2 207L1509.4 206.8L1511.5 206.7L1513.6 206.6L1515.8 207L1517.9 207.9L1520.1 209L1522.2 210.2L1524.3 211.5L1526.5 213.2L1528.6 215.3L1530.8 217.7L1532.9 220.1L1535 222.3L1537.2 224.4L1539.3 226.7L1541.5 229L1543.6 231.2L1545.7 233.1L1547.9 234.4L1550 235L1552.2 235.1L1554.3 235.1L1556.5 235.1L1558.6 235.1L1560.7 235.1L1562.9 235L1565 234.5L1567.2 233.6L1569.3 232.5L1571.4 231.2L1573.6 229.9L1575.7 228.8L1577.9 227.8L1580 226.7L1582.1 225.6L1584.3 224.5L1586.4 223.5L1588.6 222.6L1590.7 221.8L1592.8 221.3L1595 220.9L1597.1 220.5L1599.3 220.2L1601.4 219.9L1603.6 219.5L1605.7 219.1L1607.8 218.7L1610 218.3L1612.1 217.8L1614.3 217.3L1616.4 216.8L1618.5 216.2L1620.7 215.5L1622.8 214.8L1625 213.8L1627.1 212.7L1629.2 211.5L1631.4 210.3L1633.5 209.1L1635.7 208.1L1637.8 207.2L1639.9 206.3L1642.1 205.3L1644.2 204.6L1646.4 204.1L1648.5 204L1650.7 204.6L1652.8 205.6L1654.9 206.8L1657.1 208L1659.2 208.9L1661.4 209.7L1663.5 210.5L1665.6 211.2L1667.8 211.8L1669.9 212.5L1672.1 213L1674.2 213.4L1676.3 213.8L1678.5 214.2L1680.6 214.5L1682.8 214.8L1684.9 215L1687 215.2L1689.2 215.2L1691.3 215.1L1693.5 214.8L1695.6 214.3L1697.8 213.8L1699.9 213.3L1702 212.9L1704.2 212.6L1706.3 212.3L1708.5 212.1L1710.6 211.9L1712.7 211.7L1714.9 211.6L1717 211.5" fill="none" stroke="#80d1e7" stroke-width="1.6" stroke-linejoin="round"/><path d="M1206.3 162.6h.01M1210.7 164.3h.01M1215.1 158.3h.01M1219.5 158.3h.01M1223.9 156.2h.01M1228.3 160.6h.01M1232.7 157.2h.01M1237.1 154.3h.01M1241.5 154.4h.01M1245.9 154.4h.01M1250.3 155.8h.01M1254.7 153h.01M1259.1 154.9h.01M1263.5 152h.01M1267.9 152.7h.01M1272.3 149.3h.01M1276.7 151.5h.01M1281.1 149.5h.01M1285.5 147.2h.01M1289.9 148.8h.01M1294.3 152.5h.01M1298.7 153.6h.01M1303.1 156.9h.01M1307.5 160.3h.01M1311.9 163.8h.01M1316.3 169.1h.01M1320.7 171.6h.01M1325.1 173.1h.01M1329.5 174.3h.01M1333.9 179.2h.01M1338.3 182h.01M1342.7 182.8h.01M1347.1 187.6h.01M1351.5 191.1h.01M1355.9 191.9h.01M1360.3 193.2h.01M1364.7 195.2h.01M1369.1 195.5h.01M1373.5 191.9h.01M1377.9 194.9h.01M1382.3 194.6h.01M1386.7 194.9h.01M1391.1 193.5h.01M1395.5 194.3h.01M1399.9 191h.01M1404.3 193.2h.01M1408.7 194.6h.01M1413.1 192h.01M1417.5 193h.01M1421.9 193.1h.01M1426.3 196.1h.01M1430.7 199.7h.01M1435.1 199.7h.01M1439.5 204.3h.01M1443.9 202.3h.01M1448.3 205.6h.01M1452.7 207.3h.01M1457.1 207.7h.01M1461.5 210.3h.01M1465.9 212.7h.01M1470.3 211.8h.01M1474.7 211.8h.01M1479.1 213.5h.01M1483.5 211.2h.01M1487.9 211.4h.01M1492.3 209.3h.01M1496.7 209.5h.01M1501.1 209.3h.01M1505.5 204.8h.01M1509.9 206h.01M1514.3 207.5h.01M1518.7 211.5h.01M1523.1 210.6h.01M1527.5 214.3h.01M1531.9 218h.01M1536.3 226.4h.01M1540.7 227.5h.01M1545.1 233h.01M1549.5 235.8h.01M1553.9 233.1h.01M1558.3 233h.01M1562.7 233h.01M1567.1 233.3h.01M1571.5 231.9h.01M1575.9 227.4h.01M1580.3 228.7h.01M1584.7 223.1h.01M1589.1 222.5h.01M1593.5 220.6h.01M1597.9 218.6h.01M1602.3 218.9h.01M1606.7 218.4h.01M1611.1 215.8h.01M1615.5 216.5h.01M1619.9 214.1h.01M1624.3 215h.01M1628.7 210h.01M1633.1 207.5h.01M1637.5 205.7h.01M1641.9 205.5h.01M1646.3 205.5h.01M1650.7 202.7h.01M1655.1 207.4h.01M1659.5 209.7h.01M1663.9 209.8h.01M1668.3 212.6h.01M1672.7 213.5h.01M1677.1 212.9h.01M1681.5 211.6h.01M1685.9 214.9h.01M1690.3 214.3h.01M1694.7 214.4h.01M1699.1 213.9h.01M1703.5 215h.01M1707.9 211.5h.01M1712.3 212.8h.01" stroke="#80d1e7" stroke-width="5.8" stroke-linecap="round" fill="none"/><path d="M1205.3 194.6L1207.5 194.3L1209.7 194.1L1211.9 194L1214 193.9L1216.2 193.9L1218.4 193.9L1220.5 194.1L1222.7 194.4L1224.9 194.8L1227.1 195.3L1229.2 195.8L1231.4 196.3L1233.6 196.8L1235.8 197.5L1237.9 198.3L1240.1 199.2L1242.3 200.1L1244.4 200.9L1246.6 201.5L1248.8 202L1251 202.1L1253.1 201.4L1255.3 199.5L1257.5 197L1259.6 194.6L1261.8 193L1264 192.2L1266.2 191.6L1268.3 191.1L1270.5 190.7L1272.7 190.3L1274.9 189.8L1277 189.1L1279.2 187.9L1281.4 185.9L1283.5 183.8L1285.7 181.9L1287.9 180.6L1290.1 180.1L1292.2 179.6L1294.4 179.3L1296.6 179.1L1298.7 178.9L1300.9 179L1303.1 179.2L1305.3 179.7L1307.4 180.4L1309.6 181.4L1311.8 182.5L1314 183.7L1316.1 185.7L1318.3 189.8L1320.5 194.7L1322.6 199.5L1324.8 204.3L1327 209.4L1329.2 214.3L1331.3 218.9L1333.5 223.4L1335.7 227.6L1337.8 231.5L1340 235.1L1342.2 238.4L1344.4 241.2L1346.5 243.4L1348.7 245.2L1350.9 246.9L1353.1 248.5L1355.2 250.3L1357.4 252.4L1359.6 254.8L1361.7 257.4L1363.9 259.7L1366.1 261.5L1368.3 262.6L1370.4 263.6L1372.6 264.5L1374.8 265.2L1376.9 265.8L1379.1 266.3L1381.3 266.5L1383.5 266.5L1385.6 266.5L1387.8 266.5L1390 266.5L1392.2 266.5L1394.3 266.5L1396.5 266.5L1398.7 266.5L1400.8 266.7L1403 266.9L1405.2 267.1L1407.4 267.4L1409.5 267.6L1411.7 267.6L1413.9 267.4L1416 267L1418.2 266.6L1420.4 266.8L1422.6 269.6L1424.7 273.5L1426.9 277L1429.1 279.4L1431.3 281.6L1433.4 283.6L1435.6 285.7L1437.8 287.8L1439.9 290.1L1442.1 292.7L1444.3 295.2L1446.5 297.5L1448.6 299.6L1450.8 301.3L1453 302.9L1455.1 304.4L1457.3 305.8L1459.5 307L1461.7 308L1463.8 308.7L1466 309.1L1468.2 309.5L1470.4 309.9L1472.5 310.2L1474.7 310.5L1476.9 310.6L1479 310.7L1481.2 310.6L1483.4 310.5L1485.6 310.4L1487.7 310.2L1489.9 310.1L1492.1 310L1494.2 309.9L1496.4 310.1L1498.6 310.7L1500.8 311.6L1502.9 312.7L1505.1 313.9L1507.3 315.2L1509.5 316.4L1511.6 317.9L1513.8 319.7L1516 321.8L1518.1 323.8L1520.3 325.6L1522.5 326.9L1524.7 327.6L1526.8 328L1529 328.2L1531.2 328.4L1533.3 328.6L1535.5 328.8L1537.7 329.1L1539.9 329.6L1542 330.8L1544.2 332.7L1546.4 334.8L1548.6 337L1550.7 339L1552.9 340.9L1555.1 342.9L1557.2 344.8L1559.4 346.3L1561.6 347.3L1563.8 347.9L1565.9 348.4L1568.1 348.8L1570.3 349.1L1572.5 349.4L1574.6 349.7L1576.8 350L1579 350.3L1581.1 350.6L1583.3 350.9L1585.5 351.1L1587.7 351.4L1589.8 351.6L1592 351.9L1594.2 352.2L1596.3 352.4L1598.5 352.7L1600.7 353L1602.9 353.3L1605 353.5L1607.2 353.8L1609.4 354.1L1611.6 354.5L1613.7 354.8L1615.9 355.2L1618.1 355.4L1620.2 355.6L1622.4 355.6L1624.6 355.4L1626.8 355.1L1628.9 354.7L1631.1 354.3L1633.3 353.9L1635.4 353.7L1637.6 353.7L1639.8 353.7L1642 353.7L1644.1 353.7L1646.3 353.7L1648.5 353.7L1650.7 353.7L1652.8 353.9L1655 354.6L1657.2 355.9L1659.3 357.4L1661.5 359.2L1663.7 362.2L1665.9 366.1L1668 369.8L1670.2 372.4L1672.4 373.9L1674.5 375L1676.7 376L1678.9 376.9L1681.1 377.9L1683.2 379L1685.4 380.1L1687.6 381.2L1689.8 382.3L1691.9 383.4L1694.1 384.5L1696.3 385.5L1698.4 386.4L1700.6 387.4L1702.8 388.4L1705 389.3L1707.1 390.1L1709.3 390.7L1711.5 391.2L1713.6 391.5L1715.8 391.7L1718 391.9L1720.2 392.1L1722.3 392.2L1724.5 392.3" fill="none" stroke="#3b49b1" stroke-width="1.6" stroke-linejoin="round"/><path d="M1206.3 195.5h.01M1210.7 196.5h.01M1215.1 193.3h.01M1219.5 192h.01M1223.9 198.3h.01M1228.3 200h.01M1232.7 194.7h.01M1237.1 197.3h.01M1241.5 204h.01M1245.9 203.1h.01M1250.3 204.2h.01M1254.7 200.7h.01M1259.1 196.2h.01M1263.5 188.5h.01M1267.9 189.1h.01M1272.3 188.1h.01M1276.7 192.1h.01M1281.1 189.2h.01M1285.5 184.1h.01M1289.9 181h.01M1294.3 179.6h.01M1298.7 179.5h.01M1303.1 179.1h.01M1307.5 182.6h.01M1311.9 181.7h.01M1316.3 185.8h.01M1320.7 193.5h.01M1325.1 203.3h.01M1329.5 215.6h.01M1333.9 225.6h.01M1338.3 233.5h.01M1342.7 240.4h.01M1347.1 242.7h.01M1351.5 249.8h.01M1355.9 251.7h.01M1360.3 255.3h.01M1364.7 260.4h.01M1369.1 261.9h.01M1373.5 263.9h.01M1377.9 266.4h.01M1382.3 266h.01M1386.7 266.8h.01M1391.1 266.8h.01M1395.5 264.5h.01M1399.9 268.3h.01M1404.3 269.8h.01M1408.7 266.6h.01M1413.1 268.1h.01M1417.5 268h.01M1421.9 268.8h.01M1426.3 276.4h.01M1430.7 280.2h.01M1435.1 284.7h.01M1439.5 290.1h.01M1443.9 296.5h.01M1448.3 299.6h.01M1452.7 304.1h.01M1457.1 306.2h.01M1461.5 307.8h.01M1465.9 310.3h.01M1470.3 310.6h.01M1474.7 312h.01M1479.1 312.7h.01M1483.5 311.2h.01M1487.9 310.9h.01M1492.3 311.4h.01M1496.7 309.7h.01M1501.1 311.6h.01M1505.5 315.4h.01M1509.9 315.3h.01M1514.3 318.1h.01M1518.7 323.2h.01M1523.1 328h.01M1527.5 328.4h.01M1531.9 328.4h.01M1536.3 328.9h.01M1540.7 328.8h.01M1545.1 333.6h.01M1549.5 337.1h.01M1553.9 343.1h.01M1558.3 345.6h.01M1562.7 348.6h.01M1567.1 349.3h.01M1571.5 349.2h.01M1575.9 349.4h.01M1580.3 349.8h.01M1584.7 351.8h.01M1589.1 352.4h.01M1593.5 350.9h.01M1597.9 352.2h.01M1602.3 353.6h.01M1606.7 353.8h.01M1611.1 355.7h.01M1615.5 355.3h.01M1619.9 357.3h.01M1624.3 354.6h.01M1628.7 355.4h.01M1633.1 353.6h.01M1637.5 352.6h.01M1641.9 349.9h.01M1646.3 353.3h.01M1650.7 353.8h.01M1655.1 355.2h.01M1659.5 359h.01M1663.9 363.1h.01M1668.3 369.8h.01M1672.7 372.9h.01M1677.1 375.5h.01M1681.5 378.5h.01M1685.9 378.2h.01M1690.3 380.9h.01M1694.7 384.6h.01M1699.1 388.5h.01M1703.5 388.8h.01M1707.9 391.3h.01M1712.3 390.9h.01M1716.7 390.3h.01M1721.1 391.4h.01" stroke="#3b49b1" stroke-width="5.8" stroke-linecap="round" fill="none"/></g><rect x="1205.3" y="14.2" width="527.4" height="388.9" fill="none" stroke="#3a3a3a" stroke-width="2.3" /><path d="M1233 403.1v-7M1288.4 403.1v-7M1343.8 403.1v-7M1399.2 403.1v-7M1454.6 403.1v-7M1510 403.1v-7M1565.4 403.1v-7M1620.8 403.1v-7M1676.2 403.1v-7" stroke="#3c3c3c" stroke-width="1.6" fill="none"/><path d="M1260.7 403.1v-4M1316.1 403.1v-4M1371.5 403.1v-4M1426.9 403.1v-4M1482.3 403.1v-4M1537.7 403.1v-4M1593.1 403.1v-4M1648.5 403.1v-4M1703.9 403.1v-4" stroke="#3c3c3c" stroke-width="1.4" fill="none"/><text x="1231" y="428.4" font-size="20" text-anchor="middle" fill="#2e2e2e" stroke="#2e2e2e" stroke-width="0.7">-10</text><text x="1288.4" y="428.4" font-size="20" text-anchor="middle" fill="#2e2e2e" stroke="#2e2e2e" stroke-width="0.7">0</text><text x="1343.8" y="428.4" font-size="20" text-anchor="middle" fill="#2e2e2e" stroke="#2e2e2e" stroke-width="0.7">10</text><text x="1399.2" y="428.4" font-size="20" text-anchor="middle" fill="#2e2e2e" stroke="#2e2e2e" stroke-width="0.7">20</text><text x="1454.6" y="428.4" font-size="20" text-anchor="middle" fill="#2e2e2e" stroke="#2e2e2e" stroke-width="0.7">30</text><text x="1510" y="428.4" font-size="20" text-anchor="middle" fill="#2e2e2e" stroke="#2e2e2e" stroke-width="0.7">40</text><text x="1565.4" y="428.4" font-size="20" text-anchor="middle" fill="#2e2e2e" stroke="#2e2e2e" stroke-width="0.7">50</text><text x="1620.8" y="428.4" font-size="20" text-anchor="middle" fill="#2e2e2e" stroke="#2e2e2e" stroke-width="0.7">60</text><text x="1676.2" y="428.4" font-size="20" text-anchor="middle" fill="#2e2e2e" stroke="#2e2e2e" stroke-width="0.7">70</text><text x="1731.6" y="428.4" font-size="20" text-anchor="middle" fill="#2e2e2e" stroke="#2e2e2e" stroke-width="0.7">80</text><text x="1469" y="471" font-size="29" text-anchor="middle" fill="#222" stroke="#222" stroke-width="0.45">Time (ps)</text><text transform="translate(1163.5 217) rotate(-90)" font-size="29.5" text-anchor="middle" fill="#222" stroke="#222" stroke-width="0.45">EELS intensity (A.U.)</text><circle cx="1227.8" cy="236.6" r="3.6" fill="#3b49b1"/><text x="1254.7" y="243.2" font-size="19" fill="#333" stroke="#333" stroke-width="0.7">3 eV pl.</text><circle cx="1227.8" cy="260.1" r="3.6" fill="#80d1e7"/><text x="1254.7" y="266.7" font-size="19" fill="#333" stroke="#333" stroke-width="0.7">13 eV pl.</text><circle cx="1227.8" cy="283.7" r="3.6" fill="#69b93a"/><text x="1254.7" y="290.3" font-size="19" fill="#333" stroke="#333" stroke-width="0.7">Pr O<tspan font-size="11.5" dy="6.5">23</tspan></text><circle cx="1227.8" cy="313.7" r="3.6" fill="#f18a1c"/><text x="1254.7" y="320.3" font-size="19" fill="#333" stroke="#333" stroke-width="0.7">Sr N<tspan font-size="11.5" dy="6.5">23</tspan></text><circle cx="1227.8" cy="343.6" r="3.6" fill="#e8212b"/><text x="1254.7" y="350.2" font-size="19" fill="#333" stroke="#333" stroke-width="0.7">Ca M<tspan font-size="11.5" dy="6.5">23</tspan></text><circle cx="1227.8" cy="373.6" r="3.6" fill="#7b1519"/><text x="1254.7" y="380.2" font-size="19" fill="#333" stroke="#333" stroke-width="0.7">Mn M<tspan font-size="11.5" dy="6.5">23</tspan></text></g>
<g id="pg"><path d="M1256.6 518.2V1218.2M1294 518.2V1218.2M1331.5 518.2V1218.2M1368.9 518.2V1218.2M1406.4 518.2V1218.2M1443.8 518.2V1218.2M1481.3 518.2V1218.2M1518.8 518.2V1218.2M1556.2 518.2V1218.2M1593.6 518.2V1218.2M1631.1 518.2V1218.2M1668.5 518.2V1218.2" stroke="#d3d6ee" stroke-width="1.2" stroke-dasharray="1.5 2" fill="none"/><g clip-path="url(#cpg1)"><path d="M1231.2 745.8L1231.2 743.9L1232.1 744.3L1232.9 744.7L1233.8 745L1234.7 745.4L1235.6 745.8L1236.5 746.1L1237.4 746.4L1238.2 746.7L1239.1 747L1240 747.2L1240.9 747.4L1241.8 747.5L1242.7 747.6L1243.5 747.6L1244.4 747.6L1245.3 747.6L1246.2 747.6L1247.1 747.6L1248 747.5L1248.8 747.5L1249.7 747.4L1250.6 747.4L1251.5 747.3L1252.4 747.3L1253.3 747.2L1254.1 747.2L1255 747.1L1255.9 747.1L1256.8 747L1257.7 747L1258.6 747L1259.4 746.9L1260.3 746.9L1261.2 746.9L1262.1 746.9L1263 746.9L1263.9 747L1264.7 747.1L1265.6 747.3L1266.5 747.5L1267.4 747.7L1268.3 747.9L1269.2 748.1L1270 748.3L1270.9 748.5L1271.8 748.6L1272.7 748.7L1273.6 748.7L1274.5 748.2L1275.4 746.8L1276.2 745L1277.1 742.8L1278 740.6L1278.9 738.7L1279.8 736.9L1280.7 735L1281.5 733L1282.4 731.1L1283.3 729.3L1284.2 727.8L1285.1 726.5L1286 725.3L1286.8 724.1L1287.7 723L1288.6 722.2L1289.5 721.6L1290.4 721.4L1291.3 722.1L1292.1 723.5L1293 725.2L1293.9 726.8L1294.8 728.1L1295.7 729.4L1296.6 730.7L1297.4 731.9L1298.3 733L1299.2 734L1300.1 735L1301 735.9L1301.9 736.9L1302.7 737.7L1303.6 738.4L1304.5 738.9L1305.4 739L1306.3 737.6L1307.2 734.9L1308 732.2L1308.9 730.8L1309.8 731L1310.7 731.6L1311.6 732.2L1312.5 732.6L1313.3 732.5L1314.2 731.8L1315.1 730.5L1316 728.9L1316.9 726.9L1317.8 724.8L1318.6 722.6L1319.5 719.8L1320.4 716.3L1321.3 712.2L1322.2 707.6L1323.1 702.6L1324 697.4L1324.8 691.4L1325.7 684.4L1326.6 676.6L1327.5 668.4L1328.4 660.3L1329.3 652.4L1330.1 644L1331 635.5L1331.9 627.6L1332.8 621L1333.7 614.2L1334.6 608.8L1335.4 607.4L1336.3 610.5L1337.2 616.7L1338.1 624.8L1339 640.4L1339.9 662.4L1340.7 686.8L1341.6 714.5L1342.5 746.9L1343.4 777.3L1344.3 805.5L1345.2 830.5L1346 842.4L1346.9 849.3L1347.8 854.4L1348.7 857L1349.6 857L1350.5 855.5L1351.3 853L1352.2 849.9L1353.1 844.4L1354 836.2L1354.9 826.7L1355.8 817.4L1356.6 808.1L1357.5 798.1L1358.4 787.9L1359.3 778.3L1360.2 769.4L1361.1 760.4L1361.9 752L1362.8 744.9L1363.7 739.7L1364.6 734.8L1365.5 730.6L1366.4 727.8L1367.2 727.1L1368.1 727.5L1369 728.3L1369.9 729.4L1370.8 730.6L1371.7 731.7L1372.6 732.8L1373.4 733.9L1374.3 735.1L1375.2 736.4L1376.1 737.8L1377 739.3L1377.9 741.2L1378.7 743.2L1379.6 745.3L1380.5 747.2L1381.4 748.7L1382.3 749.8L1383.2 750.6L1384 751.4L1384.9 752.1L1385.8 752.7L1386.7 753.1L1387.6 753.2L1388.5 752.7L1389.3 751.2L1390.2 749.1L1391.1 746.8L1392 744.5L1392.9 742.6L1393.8 741.3L1394.6 740.1L1395.5 738.9L1396.4 737.9L1397.3 737L1398.2 736.5L1399.1 736.5L1399.9 738.3L1400.8 741.4L1401.7 744.4L1402.6 745.8L1403.5 745.7L1404.4 745.5L1405.2 745.3L1406.1 744.9L1407 744.5L1407.9 744.1L1408.8 743.4L1409.7 742.1L1410.5 740.4L1411.4 738.6L1412.3 736.9L1413.2 735.7L1414.1 735.2L1415 735L1415.8 734.8L1416.7 734.6L1417.6 734.6L1418.5 734.6L1419.4 735.6L1420.3 737.6L1421.2 740.2L1422 742.8L1422.9 745.1L1423.8 747.5L1424.7 749.9L1425.6 752.6L1426.5 755.4L1427.3 758.4L1428.2 761.9L1429.1 765.8L1430 769.7L1430.9 773.5L1431.8 777.1L1432.6 781.3L1433.5 783.9L1434.4 783.7L1435.3 783.1L1436.2 782.1L1437.1 781L1437.9 779.7L1438.8 778.3L1439.7 776.3L1440.6 773.9L1441.5 771.6L1442.4 769.7L1443.2 768.4L1444.1 768.4L1445 770.6L1445.9 773.8L1446.8 776.6L1447.7 777.5L1448.5 775.7L1449.4 772.4L1450.3 769.1L1451.2 767.5L1452.1 768.4L1453 771L1453.8 774.6L1454.7 778.3L1455.6 782.2L1456.5 787.2L1457.4 792.3L1458.3 796.5L1459.1 799.2L1460 801.5L1460.9 803.3L1461.8 804.6L1462.7 804.9L1463.6 804.7L1464.4 804.2L1465.3 803.5L1466.2 802.7L1467.1 801.4L1468 799.3L1468.9 797L1469.8 794.9L1470.6 793L1471.5 790.9L1472.4 789L1473.3 787.8L1474.2 788L1475.1 790.2L1475.9 793.2L1476.8 795.6L1477.7 796.2L1478.6 793.6L1479.5 789.1L1480.4 783.8L1481.2 779.3L1482.1 775.7L1483 772.1L1483.9 768.7L1484.8 765.2L1485.7 761.6L1486.5 758L1487.4 754.4L1488.3 750.8L1489.2 747.2L1490.1 743.8L1491 740.6L1491.8 737.6L1492.7 734.6L1493.6 731.8L1494.5 728.9L1495.4 726L1496.3 723L1497.1 719.1L1498 715.3L1498.9 713.9L1499.8 714.2L1500.7 714.8L1501.6 715.6L1502.4 716.5L1503.3 717.5L1504.2 719L1505.1 720.8L1506 722.6L1506.9 724.3L1507.7 725.7L1508.6 727L1509.5 728.4L1510.4 729.6L1511.3 730.8L1512.2 731.8L1513 732.7L1513.9 733.5L1514.8 734.3L1515.7 735.1L1516.6 735.7L1517.5 736.2L1518.4 736.4L1519.2 736.1L1520.1 734.8L1521 732.8L1521.9 730.6L1522.8 728.7L1523.7 727.3L1524.5 727.1L1525.4 727.5L1526.3 728.2L1527.2 729L1528.1 729.9L1529 730.5L1529.8 730.8L1530.7 730.5L1531.6 729.9L1532.5 728.9L1533.4 727.8L1534.3 726.6L1535.1 725.5L1536 724.6L1536.9 723.5L1537.8 722.3L1538.7 721.2L1539.6 720.3L1540.4 719.7L1541.3 719.6L1542.2 719.9L1543.1 720.6L1544 721.5L1544.9 722.3L1545.7 723L1546.6 723.3L1547.5 723.1L1548.4 722.5L1549.3 721.7L1550.2 720.8L1551 720.1L1551.9 719.6L1552.8 719.8L1553.7 721L1554.6 722.9L1555.5 725.1L1556.3 727.1L1557.2 728.5L1558.1 728.9L1559 728.4L1559.9 727.4L1560.8 726.1L1561.6 724.8L1562.5 723.8L1563.4 723.3L1564.3 723.4L1565.2 723.9L1566.1 724.6L1567 725.3L1567.8 725.9L1568.7 726.2L1569.6 726.2L1570.5 725.9L1571.4 725.3L1572.3 724.6L1573.1 723.9L1574 723.5L1574.9 723.3L1575.8 723.7L1576.7 724.5L1577.6 725.7L1578.4 727.1L1579.3 728.5L1580.2 729.8L1581.1 731.1L1582 732.7L1582.9 734.4L1583.7 736L1584.6 737.4L1585.5 738.1L1586.4 738.2L1587.3 737.8L1588.2 737.1L1589 736.2L1589.9 735.4L1590.8 734.7L1591.7 734.5L1592.6 734.6L1593.5 734.8L1594.3 735L1595.2 735.4L1596.1 735.8L1597 736.3L1597.9 737.1L1598.8 738.9L1599.6 741.4L1600.5 744.1L1601.4 746.7L1602.3 748.7L1603.2 749.8L1604.1 750.7L1604.9 751.5L1605.8 752.2L1606.7 752.8L1607.6 753.1L1608.5 753.2L1609.4 752.9L1610.2 751.9L1611.1 750.7L1612 749.4L1612.9 748.3L1613.8 747.7L1614.7 747.9L1615.6 749.1L1616.4 751.2L1617.3 753.7L1618.2 756.4L1619.1 759.1L1620 761.5L1620.9 764.4L1621.7 766.9L1622.6 767.3L1623.5 765.6L1624.4 762.7L1625.3 759.4L1626.2 756.5L1627 755.1L1627.9 755.2L1628.8 755.5L1629.7 755.9L1630.6 756.3L1631.5 756.7L1632.3 757L1633.2 756.9L1634.1 756.5L1635 755.7L1635.9 754.9L1636.8 754L1637.6 753.4L1638.5 753.3L1639.4 754L1640.3 755.7L1641.2 757.8L1642.1 760L1642.9 761.7L1643.8 762.6L1644.7 762.5L1645.6 762.1L1646.5 761.5L1647.4 761L1648.2 760.8L1649.1 761.1L1650 762.8L1650.9 765.2L1651.8 767.7L1652.7 769.5L1653.5 770L1654.4 768.6L1655.3 765.6L1656.2 762L1657.1 758.4L1658 755.7L1658.8 754.2L1659.7 752.8L1660.6 751.6L1661.5 750.8L1662.4 750.3L1663.3 750.3L1664.2 750.5L1665 750.8L1665.9 751.1L1666.8 751.3L1667.7 751.3L1668.6 750.5L1669.5 749L1670.3 747L1671.2 744.6L1672.1 742L1672.1 745.8Z" fill="#fdf0f0"/><path d="M1231.2 745.8L1672.1 745.8" stroke="#111" stroke-width="2" stroke-dasharray="5 4.5"/><path d="M1231.2 743.9L1232.1 744.3L1232.9 744.7L1233.8 745L1234.7 745.4L1235.6 745.8L1236.5 746.1L1237.4 746.4L1238.2 746.7L1239.1 747L1240 747.2L1240.9 747.4L1241.8 747.5L1242.7 747.6L1243.5 747.6L1244.4 747.6L1245.3 747.6L1246.2 747.6L1247.1 747.6L1248 747.5L1248.8 747.5L1249.7 747.4L1250.6 747.4L1251.5 747.3L1252.4 747.3L1253.3 747.2L1254.1 747.2L1255 747.1L1255.9 747.1L1256.8 747L1257.7 747L1258.6 747L1259.4 746.9L1260.3 746.9L1261.2 746.9L1262.1 746.9L1263 746.9L1263.9 747L1264.7 747.1L1265.6 747.3L1266.5 747.5L1267.4 747.7L1268.3 747.9L1269.2 748.1L1270 748.3L1270.9 748.5L1271.8 748.6L1272.7 748.7L1273.6 748.7L1274.5 748.2L1275.4 746.8L1276.2 745L1277.1 742.8L1278 740.6L1278.9 738.7L1279.8 736.9L1280.7 735L1281.5 733L1282.4 731.1L1283.3 729.3L1284.2 727.8L1285.1 726.5L1286 725.3L1286.8 724.1L1287.7 723L1288.6 722.2L1289.5 721.6L1290.4 721.4L1291.3 722.1L1292.1 723.5L1293 725.2L1293.9 726.8L1294.8 728.1L1295.7 729.4L1296.6 730.7L1297.4 731.9L1298.3 733L1299.2 734L1300.1 735L1301 735.9L1301.9 736.9L1302.7 737.7L1303.6 738.4L1304.5 738.9L1305.4 739L1306.3 737.6L1307.2 734.9L1308 732.2L1308.9 730.8L1309.8 731L1310.7 731.6L1311.6 732.2L1312.5 732.6L1313.3 732.5L1314.2 731.8L1315.1 730.5L1316 728.9L1316.9 726.9L1317.8 724.8L1318.6 722.6L1319.5 719.8L1320.4 716.3L1321.3 712.2L1322.2 707.6L1323.1 702.6L1324 697.4L1324.8 691.4L1325.7 684.4L1326.6 676.6L1327.5 668.4L1328.4 660.3L1329.3 652.4L1330.1 644L1331 635.5L1331.9 627.6L1332.8 621L1333.7 614.2L1334.6 608.8L1335.4 607.4L1336.3 610.5L1337.2 616.7L1338.1 624.8L1339 640.4L1339.9 662.4L1340.7 686.8L1341.6 714.5L1342.5 746.9L1343.4 777.3L1344.3 805.5L1345.2 830.5L1346 842.4L1346.9 849.3L1347.8 854.4L1348.7 857L1349.6 857L1350.5 855.5L1351.3 853L1352.2 849.9L1353.1 844.4L1354 836.2L1354.9 826.7L1355.8 817.4L1356.6 808.1L1357.5 798.1L1358.4 787.9L1359.3 778.3L1360.2 769.4L1361.1 760.4L1361.9 752L1362.8 744.9L1363.7 739.7L1364.6 734.8L1365.5 730.6L1366.4 727.8L1367.2 727.1L1368.1 727.5L1369 728.3L1369.9 729.4L1370.8 730.6L1371.7 731.7L1372.6 732.8L1373.4 733.9L1374.3 735.1L1375.2 736.4L1376.1 737.8L1377 739.3L1377.9 741.2L1378.7 743.2L1379.6 745.3L1380.5 747.2L1381.4 748.7L1382.3 749.8L1383.2 750.6L1384 751.4L1384.9 752.1L1385.8 752.7L1386.7 753.1L1387.6 753.2L1388.5 752.7L1389.3 751.2L1390.2 749.1L1391.1 746.8L1392 744.5L1392.9 742.6L1393.8 741.3L1394.6 740.1L1395.5 738.9L1396.4 737.9L1397.3 737L1398.2 736.5L1399.1 736.5L1399.9 738.3L1400.8 741.4L1401.7 744.4L1402.6 745.8L1403.5 745.7L1404.4 745.5L1405.2 745.3L1406.1 744.9L1407 744.5L1407.9 744.1L1408.8 743.4L1409.7 742.1L1410.5 740.4L1411.4 738.6L1412.3 736.9L1413.2 735.7L1414.1 735.2L1415 735L1415.8 734.8L1416.7 734.6L1417.6 734.6L1418.5 734.6L1419.4 735.6L1420.3 737.6L1421.2 740.2L1422 742.8L1422.9 745.1L1423.8 747.5L1424.7 749.9L1425.6 752.6L1426.5 755.4L1427.3 758.4L1428.2 761.9L1429.1 765.8L1430 769.7L1430.9 773.5L1431.8 777.1L1432.6 781.3L1433.5 783.9L1434.4 783.7L1435.3 783.1L1436.2 782.1L1437.1 781L1437.9 779.7L1438.8 778.3L1439.7 776.3L1440.6 773.9L1441.5 771.6L1442.4 769.7L1443.2 768.4L1444.1 768.4L1445 770.6L1445.9 773.8L1446.8 776.6L1447.7 777.5L1448.5 775.7L1449.4 772.4L1450.3 769.1L1451.2 767.5L1452.1 768.4L1453 771L1453.8 774.6L1454.7 778.3L1455.6 782.2L1456.5 787.2L1457.4 792.3L1458.3 796.5L1459.1 799.2L1460 801.5L1460.9 803.3L1461.8 804.6L1462.7 804.9L1463.6 804.7L1464.4 804.2L1465.3 803.5L1466.2 802.7L1467.1 801.4L1468 799.3L1468.9 797L1469.8 794.9L1470.6 793L1471.5 790.9L1472.4 789L1473.3 787.8L1474.2 788L1475.1 790.2L1475.9 793.2L1476.8 795.6L1477.7 796.2L1478.6 793.6L1479.5 789.1L1480.4 783.8L1481.2 779.3L1482.1 775.7L1483 772.1L1483.9 768.7L1484.8 765.2L1485.7 761.6L1486.5 758L1487.4 754.4L1488.3 750.8L1489.2 747.2L1490.1 743.8L1491 740.6L1491.8 737.6L1492.7 734.6L1493.6 731.8L1494.5 728.9L1495.4 726L1496.3 723L1497.1 719.1L1498 715.3L1498.9 713.9L1499.8 714.2L1500.7 714.8L1501.6 715.6L1502.4 716.5L1503.3 717.5L1504.2 719L1505.1 720.8L1506 722.6L1506.9 724.3L1507.7 725.7L1508.6 727L1509.5 728.4L1510.4 729.6L1511.3 730.8L1512.2 731.8L1513 732.7L1513.9 733.5L1514.8 734.3L1515.7 735.1L1516.6 735.7L1517.5 736.2L1518.4 736.4L1519.2 736.1L1520.1 734.8L1521 732.8L1521.9 730.6L1522.8 728.7L1523.7 727.3L1524.5 727.1L1525.4 727.5L1526.3 728.2L1527.2 729L1528.1 729.9L1529 730.5L1529.8 730.8L1530.7 730.5L1531.6 729.9L1532.5 728.9L1533.4 727.8L1534.3 726.6L1535.1 725.5L1536 724.6L1536.9 723.5L1537.8 722.3L1538.7 721.2L1539.6 720.3L1540.4 719.7L1541.3 719.6L1542.2 719.9L1543.1 720.6L1544 721.5L1544.9 722.3L1545.7 723L1546.6 723.3L1547.5 723.1L1548.4 722.5L1549.3 721.7L1550.2 720.8L1551 720.1L1551.9 719.6L1552.8 719.8L1553.7 721L1554.6 722.9L1555.5 725.1L1556.3 727.1L1557.2 728.5L1558.1 728.9L1559 728.4L1559.9 727.4L1560.8 726.1L1561.6 724.8L1562.5 723.8L1563.4 723.3L1564.3 723.4L1565.2 723.9L1566.1 724.6L1567 725.3L1567.8 725.9L1568.7 726.2L1569.6 726.2L1570.5 725.9L1571.4 725.3L1572.3 724.6L1573.1 723.9L1574 723.5L1574.9 723.3L1575.8 723.7L1576.7 724.5L1577.6 725.7L1578.4 727.1L1579.3 728.5L1580.2 729.8L1581.1 731.1L1582 732.7L1582.9 734.4L1583.7 736L1584.6 737.4L1585.5 738.1L1586.4 738.2L1587.3 737.8L1588.2 737.1L1589 736.2L1589.9 735.4L1590.8 734.7L1591.7 734.5L1592.6 734.6L1593.5 734.8L1594.3 735L1595.2 735.4L1596.1 735.8L1597 736.3L1597.9 737.1L1598.8 738.9L1599.6 741.4L1600.5 744.1L1601.4 746.7L1602.3 748.7L1603.2 749.8L1604.1 750.7L1604.9 751.5L1605.8 752.2L1606.7 752.8L1607.6 753.1L1608.5 753.2L1609.4 752.9L1610.2 751.9L1611.1 750.7L1612 749.4L1612.9 748.3L1613.8 747.7L1614.7 747.9L1615.6 749.1L1616.4 751.2L1617.3 753.7L1618.2 756.4L1619.1 759.1L1620 761.5L1620.9 764.4L1621.7 766.9L1622.6 767.3L1623.5 765.6L1624.4 762.7L1625.3 759.4L1626.2 756.5L1627 755.1L1627.9 755.2L1628.8 755.5L1629.7 755.9L1630.6 756.3L1631.5 756.7L1632.3 757L1633.2 756.9L1634.1 756.5L1635 755.7L1635.9 754.9L1636.8 754L1637.6 753.4L1638.5 753.3L1639.4 754L1640.3 755.7L1641.2 757.8L1642.1 760L1642.9 761.7L1643.8 762.6L1644.7 762.5L1645.6 762.1L1646.5 761.5L1647.4 761L1648.2 760.8L1649.1 761.1L1650 762.8L1650.9 765.2L1651.8 767.7L1652.7 769.5L1653.5 770L1654.4 768.6L1655.3 765.6L1656.2 762L1657.1 758.4L1658 755.7L1658.8 754.2L1659.7 752.8L1660.6 751.6L1661.5 750.8L1662.4 750.3L1663.3 750.3L1664.2 750.5L1665 750.8L1665.9 751.1L1666.8 751.3L1667.7 751.3L1668.6 750.5L1669.5 749L1670.3 747L1671.2 744.6L1672.1 742" fill="none" stroke="#b3191c" stroke-width="1.9" stroke-linejoin="round"/><path d="M1231.2 745.8L1232.6 745.9L1234.1 746L1235.6 746L1237.1 746.1L1238.5 746.2L1240 746.2L1241.5 746.3L1243 746.3L1244.4 746.4L1245.9 746.4L1247.4 746.4L1248.9 746.4L1250.3 746.5L1251.8 746.5L1253.3 746.5L1254.8 746.5L1256.2 746.5L1257.7 746.5L1259.2 746.5L1260.7 746.5L1262.1 746.5L1263.6 746.5L1265.1 746.4L1266.6 746.3L1268 746.1L1269.5 745.9L1271 745.6L1272.5 745.3L1273.9 744.9L1275.4 744L1276.9 742.7L1278.4 741L1279.8 739L1281.3 736L1282.8 732.2L1284.3 728.2L1285.7 724L1287.2 719.1L1288.7 714.3L1290.2 710.5L1291.6 707.7L1293.1 705.1L1294.6 703.6L1296.1 703.6L1297.5 704.5L1299 705.8L1300.5 707.4L1302 709.9L1303.4 712.8L1304.9 715.3L1306.4 717.3L1307.9 719.2L1309.3 720.8L1310.8 721.4L1312.3 721.4L1313.8 721.4L1315.2 721.4L1316.7 721.4L1318.2 720.7L1319.7 719.3L1321.1 717.3L1322.6 715.1L1324.1 712L1325.5 708.1L1327 703.4L1328.5 697.9L1330 690.9L1331.4 682.4L1332.9 672.3L1334.4 659.4L1335.9 643.8L1337.3 626.7L1338.8 605.3L1340.3 583.7L1341.8 567.3L1343.2 553L1344.7 545.2L1346.2 541.9L1347.7 540.1L1349.1 540.2L1350.6 541.9L1352.1 544.4L1353.6 548.6L1355 554.6L1356.5 560.3L1358 565.6L1359.5 570.7L1360.9 574.6L1362.4 576.8L1363.9 578.5L1365.4 579.8L1366.8 580.3L1368.3 580.1L1369.8 579.3L1371.3 578.2L1372.7 576.9L1374.2 575.7L1375.7 574.5L1377.2 573L1378.6 571.4L1380.1 570.1L1381.6 569.2L1383.1 568.9L1384.5 568.6L1386 568.4L1387.5 568.3L1389 568.5L1390.4 568.9L1391.9 569.5L1393.4 570.2L1394.9 570.9L1396.3 571.5L1397.8 571.9L1399.3 572.4L1400.8 572.9L1402.2 573.3L1403.7 573.7L1405.2 574L1406.7 574.2L1408.1 574.3L1409.6 574.3L1411.1 574.3L1412.6 574.3L1414 574.3L1415.5 574.3L1417 574.3L1418.5 574.3L1419.9 574.3L1421.4 574.1L1422.9 573.7L1424.4 573.2L1425.8 572.9L1427.3 572.8L1428.8 573.2L1430.3 573.9L1431.7 574.8L1433.2 575.8L1434.7 576.7L1436.2 577.9L1437.6 579.2L1439.1 580.8L1440.6 582.3L1442.1 583.8L1443.5 585.2L1445 586.3L1446.5 587.1L1447.9 587.8L1449.4 588.3L1450.9 588.8L1452.4 589.3L1453.8 589.8L1455.3 590.4L1456.8 591.1L1458.3 592.1L1459.7 593.2L1461.2 594.5L1462.7 596L1464.2 597.7L1465.6 599.6L1467.1 602L1468.6 604.6L1470.1 607.5L1471.5 610.4L1473 613.4L1474.5 616.7L1476 620.2L1477.4 623.6L1478.9 627L1480.4 630.1L1481.9 633.2L1483.3 636.3L1484.8 639.2L1486.3 641.9L1487.8 644.4L1489.2 646.8L1490.7 649.1L1492.2 651.3L1493.7 653.3L1495.1 655L1496.6 656.7L1498.1 658.3L1499.6 659.8L1501 661L1502.5 662L1504 662.9L1505.5 663.8L1506.9 664.5L1508.4 665L1509.9 665.4L1511.4 665.8L1512.8 666.2L1514.3 666.5L1515.8 666.7L1517.3 666.9L1518.7 667.1L1520.2 667.2L1521.7 667.1L1523.2 667L1524.6 666.9L1526.1 666.7L1527.6 666.4L1529.1 666.2L1530.5 665.9L1532 665.6L1533.5 665.3L1535 664.9L1536.4 664.4L1537.9 663.9L1539.4 663.4L1540.9 662.8L1542.3 662.2L1543.8 661.6L1545.3 661L1546.8 660.4L1548.2 659.8L1549.7 659.1L1551.2 658.4L1552.7 657.7L1554.1 656.9L1555.6 656.2L1557.1 655.4L1558.6 654.6L1560 653.8L1561.5 653L1563 652.2L1564.5 651.4L1565.9 650.6L1567.4 649.8L1568.9 649L1570.3 648.1L1571.8 647.3L1573.3 646.5L1574.8 645.7L1576.2 644.9L1577.7 644.1L1579.2 643.3L1580.7 642.5L1582.1 641.7L1583.6 640.9L1585.1 640.2L1586.6 639.4L1588 638.7L1589.5 638.1L1591 637.5L1592.5 636.9L1593.9 636.3L1595.4 635.7L1596.9 635.2L1598.4 634.6L1599.8 634.1L1601.3 633.7L1602.8 633.3L1604.3 633L1605.7 632.8L1607.2 632.7L1608.7 632.6L1610.2 632.5L1611.6 632.5L1613.1 632.4L1614.6 632.4L1616.1 632.4L1617.5 632.3L1619 632.4L1620.5 632.5L1622 632.7L1623.4 632.9L1624.9 633.2L1626.4 633.6L1627.9 634L1629.3 634.4L1630.8 634.8L1632.3 635.2L1633.8 635.6L1635.2 636.1L1636.7 636.6L1638.2 637.2L1639.7 637.9L1641.1 638.6L1642.6 639.3L1644.1 640L1645.6 640.7L1647 641.4L1648.5 642L1650 642.7L1651.5 643.5L1652.9 644.2L1654.4 644.9L1655.9 645.7L1657.4 646.4L1658.8 647.2L1660.3 647.9L1661.8 648.7L1663.3 649.4L1664.7 650.2L1666.2 651L1667.7 651.7L1669.2 652.5L1670.6 653.3L1672.1 654.1" fill="none" stroke="#111" stroke-width="2.1" stroke-linejoin="round"/></g><g clip-path="url(#cpg2)"><path d="M1231.2 1114.5L1231.2 1114.5L1232.1 1114.4L1232.9 1114.3L1233.8 1114L1234.7 1113.8L1235.6 1113.4L1236.5 1113.1L1237.4 1112.7L1238.2 1112.3L1239.1 1111.9L1240 1111.4L1240.9 1110.9L1241.8 1110.2L1242.7 1109.4L1243.5 1108.6L1244.4 1107.8L1245.3 1107.1L1246.2 1106.3L1247.1 1105.4L1248 1104.6L1248.8 1103.8L1249.7 1103.4L1250.6 1103.4L1251.5 1104.6L1252.4 1106.6L1253.3 1108.6L1254.1 1110.2L1255 1111.6L1255.9 1113.1L1256.8 1114.4L1257.7 1115.5L1258.6 1116.2L1259.4 1116.4L1260.3 1116.3L1261.2 1116L1262.1 1115.6L1263 1115.2L1263.9 1114.7L1264.7 1114L1265.6 1112.7L1266.5 1111.1L1267.4 1109.5L1268.3 1108.1L1269.2 1107.2L1270 1107L1270.9 1107.1L1271.8 1107.3L1272.7 1107.4L1273.6 1107.6L1274.5 1107.9L1275.4 1108.2L1276.2 1108.7L1277.1 1109.2L1278 1109.7L1278.9 1110.2L1279.8 1110.6L1280.7 1110.8L1281.5 1110.8L1282.4 1110.6L1283.3 1110.3L1284.2 1110L1285.1 1109.5L1286 1109.1L1286.8 1108.6L1287.7 1108.1L1288.6 1107.7L1289.5 1107.3L1290.4 1106.9L1291.3 1106.4L1292.1 1105.9L1293 1105.5L1293.9 1105L1294.8 1104.5L1295.7 1104L1296.6 1103.4L1297.4 1102.9L1298.3 1102.3L1299.2 1101.7L1300.1 1101.1L1301 1100.6L1301.9 1100L1302.7 1099.4L1303.6 1098.7L1304.5 1098.1L1305.4 1097.4L1306.3 1096.6L1307.2 1095.8L1308 1095L1308.9 1094L1309.8 1093L1310.7 1091.9L1311.6 1090.6L1312.5 1089.2L1313.3 1087.6L1314.2 1085.9L1315.1 1084.1L1316 1082.1L1316.9 1079.9L1317.8 1077.3L1318.6 1074.3L1319.5 1070.8L1320.4 1067L1321.3 1062.7L1322.2 1058.1L1323.1 1052.3L1324 1045.4L1324.8 1037.5L1325.7 1029.3L1326.6 1021.1L1327.5 1012.2L1328.4 1002.4L1329.3 992.9L1330.1 985.1L1331 979L1331.9 973.3L1332.8 969.4L1333.7 968.7L1334.6 970L1335.4 972.5L1336.3 975.9L1337.2 983.1L1338.1 995.6L1339 1010.8L1339.9 1026.9L1340.7 1046.9L1341.6 1068.3L1342.5 1088.2L1343.4 1107L1344.3 1125.2L1345.2 1141.6L1346 1156L1346.9 1169.5L1347.8 1180.8L1348.7 1188.6L1349.6 1195.4L1350.5 1200.5L1351.3 1202.5L1352.2 1200.8L1353.1 1196.6L1354 1191.4L1354.9 1185.3L1355.8 1176.8L1356.6 1167L1357.5 1157.3L1358.4 1148.3L1359.3 1139.2L1360.2 1130.1L1361.1 1121.6L1361.9 1113.6L1362.8 1105.8L1363.7 1098.5L1364.6 1091.9L1365.5 1086.5L1366.4 1081.5L1367.2 1077L1368.1 1073.4L1369 1071.3L1369.9 1070L1370.8 1068.8L1371.7 1068.1L1372.6 1067.7L1373.4 1068.1L1374.3 1069.3L1375.2 1071L1376.1 1072.7L1377 1074.5L1377.9 1076.6L1378.7 1079L1379.6 1081.5L1380.5 1084.1L1381.4 1086.6L1382.3 1089L1383.2 1091.3L1384 1093.6L1384.9 1095.9L1385.8 1098.2L1386.7 1100.6L1387.6 1103.1L1388.5 1105.8L1389.3 1108.7L1390.2 1111.7L1391.1 1114.7L1392 1117.8L1392.9 1120.8L1393.8 1123.7L1394.6 1126.8L1395.5 1129.8L1396.4 1132.8L1397.3 1135.8L1398.2 1138.6L1399.1 1141.3L1399.9 1144.1L1400.8 1146.8L1401.7 1149.4L1402.6 1151.7L1403.5 1153.5L1404.4 1154.7L1405.2 1155.9L1406.1 1156.9L1407 1157.5L1407.9 1157.4L1408.8 1156.4L1409.7 1154.7L1410.5 1152.7L1411.4 1150.9L1412.3 1149.6L1413.2 1148.3L1414.1 1146.9L1415 1145.7L1415.8 1144.7L1416.7 1144L1417.6 1143.7L1418.5 1144L1419.4 1144.6L1420.3 1145.5L1421.2 1146.5L1422 1147.6L1422.9 1148.7L1423.8 1149.7L1424.7 1150.8L1425.6 1151.9L1426.5 1153.1L1427.3 1154.2L1428.2 1155.2L1429.1 1155.9L1430 1156.7L1430.9 1157.4L1431.8 1158L1432.6 1158.5L1433.5 1158.7L1434.4 1158.5L1435.3 1158L1436.2 1157.4L1437.1 1156.8L1437.9 1156.5L1438.8 1156.5L1439.7 1156.6L1440.6 1156.9L1441.5 1157.1L1442.4 1157.5L1443.2 1157.9L1444.1 1158.7L1445 1159.6L1445.9 1160.5L1446.8 1161.1L1447.7 1161.3L1448.5 1161L1449.4 1160.4L1450.3 1159.6L1451.2 1158.7L1452.1 1157.8L1453 1157.1L1453.8 1156.1L1454.7 1155.2L1455.6 1154.3L1456.5 1153.9L1457.4 1153.9L1458.3 1154.6L1459.1 1155.7L1460 1157.1L1460.9 1158.6L1461.8 1160.4L1462.7 1163.1L1463.6 1166.3L1464.4 1169.1L1465.3 1171.1L1466.2 1172.6L1467.1 1173.8L1468 1174.4L1468.9 1173.4L1469.8 1170.2L1470.6 1165.8L1471.5 1161.1L1472.4 1156.6L1473.3 1151.4L1474.2 1145.8L1475.1 1140.3L1475.9 1135.2L1476.8 1131L1477.7 1126.9L1478.6 1123L1479.5 1119.5L1480.4 1116.6L1481.2 1114.5L1482.1 1112.9L1483 1111.4L1483.9 1110L1484.8 1108.9L1485.7 1108.2L1486.5 1107.8L1487.4 1107.9L1488.3 1108.2L1489.2 1108.8L1490.1 1109.5L1491 1110.2L1491.8 1111L1492.7 1111.8L1493.6 1112.7L1494.5 1113.7L1495.4 1114.8L1496.3 1115.8L1497.1 1116.8L1498 1117.5L1498.9 1118.1L1499.8 1118.7L1500.7 1119.4L1501.6 1119.9L1502.4 1120.4L1503.3 1120.8L1504.2 1121.1L1505.1 1121.2L1506 1121.3L1506.9 1121.2L1507.7 1121.1L1508.6 1121L1509.5 1120.9L1510.4 1120.7L1511.3 1120.5L1512.2 1120.3L1513 1120.1L1513.9 1119.9L1514.8 1119.5L1515.7 1119.1L1516.6 1118.6L1517.5 1118L1518.4 1117.4L1519.2 1116.8L1520.1 1116.1L1521 1115.5L1521.9 1114.9L1522.8 1114.3L1523.7 1113.6L1524.5 1112.9L1525.4 1112.1L1526.3 1111.4L1527.2 1110.6L1528.1 1109.8L1529 1109.1L1529.8 1108.4L1530.7 1107.7L1531.6 1107.1L1532.5 1106.6L1533.4 1106.1L1534.3 1105.5L1535.1 1105L1536 1104.6L1536.9 1104.1L1537.8 1103.6L1538.7 1103.2L1539.6 1102.8L1540.4 1102.4L1541.3 1102L1542.2 1101.7L1543.1 1101.4L1544 1101.1L1544.9 1100.7L1545.7 1100.4L1546.6 1100.1L1547.5 1099.8L1548.4 1099.5L1549.3 1099.2L1550.2 1099L1551 1098.8L1551.9 1098.6L1552.8 1098.5L1553.7 1098.4L1554.6 1098.4L1555.5 1098.4L1556.3 1098.4L1557.2 1098.4L1558.1 1098.4L1559 1098.4L1559.9 1098.4L1560.8 1098.4L1561.6 1098.4L1562.5 1098.4L1563.4 1098.4L1564.3 1098.4L1565.2 1098.4L1566.1 1098.4L1567 1098.4L1567.8 1098.4L1568.7 1098.4L1569.6 1098.4L1570.5 1098.5L1571.4 1098.5L1572.3 1098.6L1573.1 1098.7L1574 1098.9L1574.9 1099L1575.8 1099.2L1576.7 1099.4L1577.6 1099.6L1578.4 1099.8L1579.3 1100L1580.2 1100.3L1581.1 1100.5L1582 1100.8L1582.9 1101.1L1583.7 1101.5L1584.6 1102L1585.5 1102.5L1586.4 1103L1587.3 1103.5L1588.2 1104.1L1589 1104.7L1589.9 1105.3L1590.8 1106L1591.7 1106.8L1592.6 1107.6L1593.5 1108.5L1594.3 1109.5L1595.2 1110.4L1596.1 1111.4L1597 1112.4L1597.9 1113.4L1598.8 1114.4L1599.6 1115.4L1600.5 1116.5L1601.4 1117.6L1602.3 1118.6L1603.2 1119.6L1604.1 1120.6L1604.9 1121.5L1605.8 1122.3L1606.7 1123.2L1607.6 1124L1608.5 1124.9L1609.4 1125.6L1610.2 1126.3L1611.1 1127L1612 1127.5L1612.9 1128L1613.8 1128.5L1614.7 1129L1615.6 1129.5L1616.4 1129.9L1617.3 1130.3L1618.2 1130.7L1619.1 1131L1620 1131.2L1620.9 1131.3L1621.7 1131.4L1622.6 1131.4L1623.5 1131.4L1624.4 1131.4L1625.3 1131.4L1626.2 1131.4L1627 1131.4L1627.9 1131.4L1628.8 1131.4L1629.7 1131.4L1630.6 1131.4L1631.5 1131.4L1632.3 1131.4L1633.2 1131.4L1634.1 1131.3L1635 1131.1L1635.9 1130.9L1636.8 1130.6L1637.6 1130.3L1638.5 1130L1639.4 1129.6L1640.3 1129.2L1641.2 1128.8L1642.1 1128.4L1642.9 1128.1L1643.8 1127.7L1644.7 1127.4L1645.6 1127L1646.5 1126.7L1647.4 1126.3L1648.2 1125.9L1649.1 1125.5L1650 1125.1L1650.9 1124.7L1651.8 1124.4L1652.7 1124L1653.5 1123.7L1654.4 1123.4L1655.3 1123.1L1656.2 1122.9L1657.1 1122.6L1658 1122.4L1658.8 1122.1L1659.7 1121.9L1660.6 1121.7L1661.5 1121.4L1662.4 1121.2L1663.3 1121L1664.2 1120.8L1665 1120.6L1665.9 1120.4L1666.8 1120.2L1667.7 1120.1L1668.6 1119.9L1669.5 1119.8L1670.3 1119.6L1671.2 1119.5L1672.1 1119.4L1672.1 1114.5Z" fill="#f2f2f2"/><path d="M1231.2 1114.5L1672.1 1114.5" stroke="#111" stroke-width="2" stroke-dasharray="5 4.5"/><path d="M1231.2 1114.5L1232.1 1114.4L1232.9 1114.3L1233.8 1114L1234.7 1113.8L1235.6 1113.4L1236.5 1113.1L1237.4 1112.7L1238.2 1112.3L1239.1 1111.9L1240 1111.4L1240.9 1110.9L1241.8 1110.2L1242.7 1109.4L1243.5 1108.6L1244.4 1107.8L1245.3 1107.1L1246.2 1106.3L1247.1 1105.4L1248 1104.6L1248.8 1103.8L1249.7 1103.4L1250.6 1103.4L1251.5 1104.6L1252.4 1106.6L1253.3 1108.6L1254.1 1110.2L1255 1111.6L1255.9 1113.1L1256.8 1114.4L1257.7 1115.5L1258.6 1116.2L1259.4 1116.4L1260.3 1116.3L1261.2 1116L1262.1 1115.6L1263 1115.2L1263.9 1114.7L1264.7 1114L1265.6 1112.7L1266.5 1111.1L1267.4 1109.5L1268.3 1108.1L1269.2 1107.2L1270 1107L1270.9 1107.1L1271.8 1107.3L1272.7 1107.4L1273.6 1107.6L1274.5 1107.9L1275.4 1108.2L1276.2 1108.7L1277.1 1109.2L1278 1109.7L1278.9 1110.2L1279.8 1110.6L1280.7 1110.8L1281.5 1110.8L1282.4 1110.6L1283.3 1110.3L1284.2 1110L1285.1 1109.5L1286 1109.1L1286.8 1108.6L1287.7 1108.1L1288.6 1107.7L1289.5 1107.3L1290.4 1106.9L1291.3 1106.4L1292.1 1105.9L1293 1105.5L1293.9 1105L1294.8 1104.5L1295.7 1104L1296.6 1103.4L1297.4 1102.9L1298.3 1102.3L1299.2 1101.7L1300.1 1101.1L1301 1100.6L1301.9 1100L1302.7 1099.4L1303.6 1098.7L1304.5 1098.1L1305.4 1097.4L1306.3 1096.6L1307.2 1095.8L1308 1095L1308.9 1094L1309.8 1093L1310.7 1091.9L1311.6 1090.6L1312.5 1089.2L1313.3 1087.6L1314.2 1085.9L1315.1 1084.1L1316 1082.1L1316.9 1079.9L1317.8 1077.3L1318.6 1074.3L1319.5 1070.8L1320.4 1067L1321.3 1062.7L1322.2 1058.1L1323.1 1052.3L1324 1045.4L1324.8 1037.5L1325.7 1029.3L1326.6 1021.1L1327.5 1012.2L1328.4 1002.4L1329.3 992.9L1330.1 985.1L1331 979L1331.9 973.3L1332.8 969.4L1333.7 968.7L1334.6 970L1335.4 972.5L1336.3 975.9L1337.2 983.1L1338.1 995.6L1339 1010.8L1339.9 1026.9L1340.7 1046.9L1341.6 1068.3L1342.5 1088.2L1343.4 1107L1344.3 1125.2L1345.2 1141.6L1346 1156L1346.9 1169.5L1347.8 1180.8L1348.7 1188.6L1349.6 1195.4L1350.5 1200.5L1351.3 1202.5L1352.2 1200.8L1353.1 1196.6L1354 1191.4L1354.9 1185.3L1355.8 1176.8L1356.6 1167L1357.5 1157.3L1358.4 1148.3L1359.3 1139.2L1360.2 1130.1L1361.1 1121.6L1361.9 1113.6L1362.8 1105.8L1363.7 1098.5L1364.6 1091.9L1365.5 1086.5L1366.4 1081.5L1367.2 1077L1368.1 1073.4L1369 1071.3L1369.9 1070L1370.8 1068.8L1371.7 1068.1L1372.6 1067.7L1373.4 1068.1L1374.3 1069.3L1375.2 1071L1376.1 1072.7L1377 1074.5L1377.9 1076.6L1378.7 1079L1379.6 1081.5L1380.5 1084.1L1381.4 1086.6L1382.3 1089L1383.2 1091.3L1384 1093.6L1384.9 1095.9L1385.8 1098.2L1386.7 1100.6L1387.6 1103.1L1388.5 1105.8L1389.3 1108.7L1390.2 1111.7L1391.1 1114.7L1392 1117.8L1392.9 1120.8L1393.8 1123.7L1394.6 1126.8L1395.5 1129.8L1396.4 1132.8L1397.3 1135.8L1398.2 1138.6L1399.1 1141.3L1399.9 1144.1L1400.8 1146.8L1401.7 1149.4L1402.6 1151.7L1403.5 1153.5L1404.4 1154.7L1405.2 1155.9L1406.1 1156.9L1407 1157.5L1407.9 1157.4L1408.8 1156.4L1409.7 1154.7L1410.5 1152.7L1411.4 1150.9L1412.3 1149.6L1413.2 1148.3L1414.1 1146.9L1415 1145.7L1415.8 1144.7L1416.7 1144L1417.6 1143.7L1418.5 1144L1419.4 1144.6L1420.3 1145.5L1421.2 1146.5L1422 1147.6L1422.9 1148.7L1423.8 1149.7L1424.7 1150.8L1425.6 1151.9L1426.5 1153.1L1427.3 1154.2L1428.2 1155.2L1429.1 1155.9L1430 1156.7L1430.9 1157.4L1431.8 1158L1432.6 1158.5L1433.5 1158.7L1434.4 1158.5L1435.3 1158L1436.2 1157.4L1437.1 1156.8L1437.9 1156.5L1438.8 1156.5L1439.7 1156.6L1440.6 1156.9L1441.5 1157.1L1442.4 1157.5L1443.2 1157.9L1444.1 1158.7L1445 1159.6L1445.9 1160.5L1446.8 1161.1L1447.7 1161.3L1448.5 1161L1449.4 1160.4L1450.3 1159.6L1451.2 1158.7L1452.1 1157.8L1453 1157.1L1453.8 1156.1L1454.7 1155.2L1455.6 1154.3L1456.5 1153.9L1457.4 1153.9L1458.3 1154.6L1459.1 1155.7L1460 1157.1L1460.9 1158.6L1461.8 1160.4L1462.7 1163.1L1463.6 1166.3L1464.4 1169.1L1465.3 1171.1L1466.2 1172.6L1467.1 1173.8L1468 1174.4L1468.9 1173.4L1469.8 1170.2L1470.6 1165.8L1471.5 1161.1L1472.4 1156.6L1473.3 1151.4L1474.2 1145.8L1475.1 1140.3L1475.9 1135.2L1476.8 1131L1477.7 1126.9L1478.6 1123L1479.5 1119.5L1480.4 1116.6L1481.2 1114.5L1482.1 1112.9L1483 1111.4L1483.9 1110L1484.8 1108.9L1485.7 1108.2L1486.5 1107.8L1487.4 1107.9L1488.3 1108.2L1489.2 1108.8L1490.1 1109.5L1491 1110.2L1491.8 1111L1492.7 1111.8L1493.6 1112.7L1494.5 1113.7L1495.4 1114.8L1496.3 1115.8L1497.1 1116.8L1498 1117.5L1498.9 1118.1L1499.8 1118.7L1500.7 1119.4L1501.6 1119.9L1502.4 1120.4L1503.3 1120.8L1504.2 1121.1L1505.1 1121.2L1506 1121.3L1506.9 1121.2L1507.7 1121.1L1508.6 1121L1509.5 1120.9L1510.4 1120.7L1511.3 1120.5L1512.2 1120.3L1513 1120.1L1513.9 1119.9L1514.8 1119.5L1515.7 1119.1L1516.6 1118.6L1517.5 1118L1518.4 1117.4L1519.2 1116.8L1520.1 1116.1L1521 1115.5L1521.9 1114.9L1522.8 1114.3L1523.7 1113.6L1524.5 1112.9L1525.4 1112.1L1526.3 1111.4L1527.2 1110.6L1528.1 1109.8L1529 1109.1L1529.8 1108.4L1530.7 1107.7L1531.6 1107.1L1532.5 1106.6L1533.4 1106.1L1534.3 1105.5L1535.1 1105L1536 1104.6L1536.9 1104.1L1537.8 1103.6L1538.7 1103.2L1539.6 1102.8L1540.4 1102.4L1541.3 1102L1542.2 1101.7L1543.1 1101.4L1544 1101.1L1544.9 1100.7L1545.7 1100.4L1546.6 1100.1L1547.5 1099.8L1548.4 1099.5L1549.3 1099.2L1550.2 1099L1551 1098.8L1551.9 1098.6L1552.8 1098.5L1553.7 1098.4L1554.6 1098.4L1555.5 1098.4L1556.3 1098.4L1557.2 1098.4L1558.1 1098.4L1559 1098.4L1559.9 1098.4L1560.8 1098.4L1561.6 1098.4L1562.5 1098.4L1563.4 1098.4L1564.3 1098.4L1565.2 1098.4L1566.1 1098.4L1567 1098.4L1567.8 1098.4L1568.7 1098.4L1569.6 1098.4L1570.5 1098.5L1571.4 1098.5L1572.3 1098.6L1573.1 1098.7L1574 1098.9L1574.9 1099L1575.8 1099.2L1576.7 1099.4L1577.6 1099.6L1578.4 1099.8L1579.3 1100L1580.2 1100.3L1581.1 1100.5L1582 1100.8L1582.9 1101.1L1583.7 1101.5L1584.6 1102L1585.5 1102.5L1586.4 1103L1587.3 1103.5L1588.2 1104.1L1589 1104.7L1589.9 1105.3L1590.8 1106L1591.7 1106.8L1592.6 1107.6L1593.5 1108.5L1594.3 1109.5L1595.2 1110.4L1596.1 1111.4L1597 1112.4L1597.9 1113.4L1598.8 1114.4L1599.6 1115.4L1600.5 1116.5L1601.4 1117.6L1602.3 1118.6L1603.2 1119.6L1604.1 1120.6L1604.9 1121.5L1605.8 1122.3L1606.7 1123.2L1607.6 1124L1608.5 1124.9L1609.4 1125.6L1610.2 1126.3L1611.1 1127L1612 1127.5L1612.9 1128L1613.8 1128.5L1614.7 1129L1615.6 1129.5L1616.4 1129.9L1617.3 1130.3L1618.2 1130.7L1619.1 1131L1620 1131.2L1620.9 1131.3L1621.7 1131.4L1622.6 1131.4L1623.5 1131.4L1624.4 1131.4L1625.3 1131.4L1626.2 1131.4L1627 1131.4L1627.9 1131.4L1628.8 1131.4L1629.7 1131.4L1630.6 1131.4L1631.5 1131.4L1632.3 1131.4L1633.2 1131.4L1634.1 1131.3L1635 1131.1L1635.9 1130.9L1636.8 1130.6L1637.6 1130.3L1638.5 1130L1639.4 1129.6L1640.3 1129.2L1641.2 1128.8L1642.1 1128.4L1642.9 1128.1L1643.8 1127.7L1644.7 1127.4L1645.6 1127L1646.5 1126.7L1647.4 1126.3L1648.2 1125.9L1649.1 1125.5L1650 1125.1L1650.9 1124.7L1651.8 1124.4L1652.7 1124L1653.5 1123.7L1654.4 1123.4L1655.3 1123.1L1656.2 1122.9L1657.1 1122.6L1658 1122.4L1658.8 1122.1L1659.7 1121.9L1660.6 1121.7L1661.5 1121.4L1662.4 1121.2L1663.3 1121L1664.2 1120.8L1665 1120.6L1665.9 1120.4L1666.8 1120.2L1667.7 1120.1L1668.6 1119.9L1669.5 1119.8L1670.3 1119.6L1671.2 1119.5L1672.1 1119.4" fill="none" stroke="#6e6e6e" stroke-width="1.9" stroke-linejoin="round"/><path d="M1231.2 1108.9L1232.6 1108L1234.1 1106.9L1235.6 1105.7L1237.1 1104.3L1238.5 1102.8L1240 1101.2L1241.5 1099.4L1243 1097.5L1244.4 1095.3L1245.9 1092.8L1247.4 1089.9L1248.9 1085.7L1250.3 1080.5L1251.8 1075.8L1253.3 1072.7L1254.8 1070.3L1256.2 1068.4L1257.7 1067.2L1259.2 1067L1260.7 1067.4L1262.1 1067.9L1263.6 1068.6L1265.1 1069.3L1266.6 1069.8L1268 1070.4L1269.5 1071L1271 1071.6L1272.5 1072.2L1273.9 1072.8L1275.4 1073.4L1276.9 1074L1278.4 1074.6L1279.8 1075.2L1281.3 1075.8L1282.8 1076.5L1284.3 1077L1285.7 1077.5L1287.2 1077.8L1288.7 1077.8L1290.2 1077.8L1291.6 1077.7L1293.1 1077.6L1294.6 1077.5L1296.1 1077.3L1297.5 1077.1L1299 1076.8L1300.5 1076.2L1302 1075.3L1303.4 1074.3L1304.9 1073.2L1306.4 1072.1L1307.9 1071L1309.3 1069.8L1310.8 1068.5L1312.3 1067.1L1313.8 1065.5L1315.2 1063.8L1316.7 1061.9L1318.2 1059.7L1319.7 1057.1L1321.1 1054.1L1322.6 1050.7L1324.1 1046.9L1325.5 1042.3L1327 1036.6L1328.5 1030.1L1330 1022.8L1331.4 1014.4L1332.9 1004.6L1334.4 993.8L1335.9 981.8L1337.3 967.4L1338.8 951.8L1340.3 936.4L1341.8 921.7L1343.2 906.7L1344.7 896.9L1346.2 891.1L1347.7 887L1349.1 885.5L1350.6 887.3L1352.1 891.4L1353.6 896.7L1355 905.4L1356.5 915.8L1358 925.6L1359.5 935.4L1360.9 945.1L1362.4 953L1363.9 959.1L1365.4 964.4L1366.8 967.6L1368.3 968.7L1369.8 969.3L1371.3 968.5L1372.7 966L1374.2 963.4L1375.7 961.4L1377.2 959.4L1378.6 957.4L1380.1 955.6L1381.6 954L1383.1 952.6L1384.5 951.3L1386 950L1387.5 949L1389 948.2L1390.4 947.6L1391.9 947.1L1393.4 946.6L1394.9 946.3L1396.3 946.1L1397.8 946.1L1399.3 946.5L1400.8 947L1402.2 947.8L1403.7 948.9L1405.2 950.9L1406.7 953.4L1408.1 956.1L1409.6 958.5L1411.1 960.5L1412.6 962.3L1414 964.1L1415.5 965.8L1417 967.6L1418.5 969.3L1419.9 971L1421.4 972.7L1422.9 974.3L1424.4 976L1425.8 977.7L1427.3 979.4L1428.8 981.1L1430.3 983L1431.7 984.9L1433.2 987L1434.7 989.2L1436.2 991.5L1437.6 993.8L1439.1 996.1L1440.6 998.3L1442.1 1000.6L1443.5 1002.8L1445 1005.1L1446.5 1007.4L1447.9 1009.7L1449.4 1011.9L1450.9 1014.1L1452.4 1016.2L1453.8 1018.2L1455.3 1020.2L1456.8 1022.1L1458.3 1023.9L1459.7 1025.6L1461.2 1027.1L1462.7 1028.3L1464.2 1029.4L1465.6 1030.8L1467.1 1032.7L1468.6 1035.6L1470.1 1039.1L1471.5 1042.7L1473 1046.5L1474.5 1050.7L1476 1054.9L1477.4 1058.3L1478.9 1061.1L1480.4 1063.6L1481.9 1065.9L1483.3 1067.8L1484.8 1069.5L1486.3 1070.9L1487.8 1072.1L1489.2 1073.2L1490.7 1074.2L1492.2 1075.1L1493.7 1076L1495.1 1076.8L1496.6 1077.6L1498.1 1078.3L1499.6 1079L1501 1079.6L1502.5 1080.3L1504 1080.9L1505.5 1081.4L1506.9 1081.9L1508.4 1082.4L1509.9 1082.9L1511.4 1083.4L1512.8 1083.8L1514.3 1084.3L1515.8 1084.7L1517.3 1085.1L1518.7 1085.5L1520.2 1085.8L1521.7 1086.1L1523.2 1086.3L1524.6 1086.5L1526.1 1086.7L1527.6 1086.8L1529.1 1087L1530.5 1087.1L1532 1087.3L1533.5 1087.4L1535 1087.5L1536.4 1087.5L1537.9 1087.6L1539.4 1087.6L1540.9 1087.5L1542.3 1087.4L1543.8 1087.2L1545.3 1086.9L1546.8 1086.6L1548.2 1086.2L1549.7 1085.8L1551.2 1085.4L1552.7 1085L1554.1 1084.6L1555.6 1084.2L1557.1 1083.7L1558.6 1083.2L1560 1082.7L1561.5 1082.2L1563 1081.6L1564.5 1081L1565.9 1080.4L1567.4 1079.7L1568.9 1079.1L1570.3 1078.4L1571.8 1077.8L1573.3 1077L1574.8 1076.3L1576.2 1075.5L1577.7 1074.7L1579.2 1073.9L1580.7 1073.2L1582.1 1072.4L1583.6 1071.7L1585.1 1071L1586.6 1070.4L1588 1069.7L1589.5 1069L1591 1068.3L1592.5 1067.7L1593.9 1067L1595.4 1066.4L1596.9 1065.9L1598.4 1065.4L1599.8 1064.9L1601.3 1064.4L1602.8 1063.9L1604.3 1063.4L1605.7 1062.9L1607.2 1062.5L1608.7 1062.1L1610.2 1061.8L1611.6 1061.5L1613.1 1061.4L1614.6 1061.4L1616.1 1061.4L1617.5 1061.5L1619 1061.6L1620.5 1061.7L1622 1061.8L1623.4 1061.9L1624.9 1062.1L1626.4 1062.3L1627.9 1062.5L1629.3 1062.9L1630.8 1063.3L1632.3 1063.8L1633.8 1064.3L1635.2 1064.8L1636.7 1065.3L1638.2 1065.9L1639.7 1066.4L1641.1 1066.9L1642.6 1067.5L1644.1 1068.1L1645.6 1068.7L1647 1069.3L1648.5 1070L1650 1070.6L1651.5 1071.2L1652.9 1071.8L1654.4 1072.3L1655.9 1072.8L1657.4 1073.3L1658.8 1073.7L1660.3 1074.2L1661.8 1074.6L1663.3 1075L1664.7 1075.4L1666.2 1075.8L1667.7 1076.1L1669.2 1076.5L1670.6 1076.8L1672.1 1077.1" fill="none" stroke="#111" stroke-width="2.3" stroke-linejoin="round"/></g><path d="M1231.2 518.2H1672.1V1218.2H1231.2ZM1231.2 868.2H1672.1" stroke="#0d0d0d" stroke-width="2.6" fill="none"/><path d="M1256.6 518.2v6M1331.5 518.2v6M1406.4 518.2v6M1481.3 518.2v6M1556.2 518.2v6M1631.1 518.2v6" stroke="#0d0d0d" stroke-width="2" fill="none"/><path d="M1294 518.2v4.8M1368.9 518.2v4.8M1443.8 518.2v4.8M1518.8 518.2v4.8M1593.6 518.2v4.8M1668.5 518.2v4.8" stroke="#0d0d0d" stroke-width="1.8" fill="none"/><path d="M1256.6 1218.2v-6M1331.5 1218.2v-6M1406.4 1218.2v-6M1481.3 1218.2v-6M1556.2 1218.2v-6M1631.1 1218.2v-6" stroke="#0d0d0d" stroke-width="2" fill="none"/><path d="M1294 1218.2v-4.8M1368.9 1218.2v-4.8M1443.8 1218.2v-4.8M1518.8 1218.2v-4.8M1593.6 1218.2v-4.8M1668.5 1218.2v-4.8" stroke="#0d0d0d" stroke-width="1.8" fill="none"/><path d="M1256.6 873.2v-10M1331.5 873.2v-10M1406.4 873.2v-10M1481.3 873.2v-10M1556.2 873.2v-10M1631.1 873.2v-10" stroke="#0d0d0d" stroke-width="2" fill="none"/><path d="M1294 872.2v-8M1368.9 872.2v-8M1443.8 872.2v-8M1518.8 872.2v-8M1593.6 872.2v-8M1668.5 872.2v-8" stroke="#0d0d0d" stroke-width="1.8" fill="none"/><path d="M1231.2 545.5h7M1231.2 644.7h7M1231.2 745.8h7M1231.2 846.1h7M1231.2 885.5h7M1231.2 961.1h7M1231.2 1037.8h7M1231.2 1114.5h7M1231.2 1191.3h7" stroke="#0d0d0d" stroke-width="2" fill="none"/><path d="M1672.1 536.1h-7M1672.1 607.3h-7M1672.1 675.4h-7M1672.1 745.8h-7M1672.1 816.1h-7M1672.1 894.4h-7M1672.1 967.8h-7M1672.1 1042.3h-7M1672.1 1114.5h-7M1672.1 1188.6h-7" stroke="#0d0d0d" stroke-width="2" fill="none"/><text x="1227" y="554.1" font-size="24.5" text-anchor="end" fill="#222" stroke="#222" stroke-width="0.45">800</text><text x="1227" y="653.3" font-size="24.5" text-anchor="end" fill="#222" stroke="#222" stroke-width="0.45">400</text><text x="1227" y="754.4" font-size="24.5" text-anchor="end" fill="#222" stroke="#222" stroke-width="0.45">0</text><text x="1227" y="854.7" font-size="24.5" text-anchor="end" fill="#222" stroke="#222" stroke-width="0.45">-400</text><text x="1227" y="894.1" font-size="24.5" text-anchor="end" fill="#222" stroke="#222" stroke-width="0.45">3000</text><text x="1227" y="969.7" font-size="24.5" text-anchor="end" fill="#222" stroke="#222" stroke-width="0.45">2000</text><text x="1227" y="1046.4" font-size="24.5" text-anchor="end" fill="#222" stroke="#222" stroke-width="0.45">1000</text><text x="1227" y="1123.1" font-size="24.5" text-anchor="end" fill="#222" stroke="#222" stroke-width="0.45">0</text><text x="1227" y="1199.9" font-size="24.5" text-anchor="end" fill="#222" stroke="#222" stroke-width="0.45">-1000</text><text x="1683.5" y="549.7" font-size="24.5" fill="#222" stroke="#222" stroke-width="0.45">30x10<tspan font-size="18.5" dy="-11">3</tspan></text><text x="1683.5" y="615.9" font-size="24.5" fill="#222" stroke="#222" stroke-width="0.45">20</text><text x="1683.5" y="684" font-size="24.5" fill="#222" stroke="#222" stroke-width="0.45">10</text><text x="1683.5" y="754.4" font-size="24.5" fill="#222" stroke="#222" stroke-width="0.45">0</text><text x="1679" y="824.7" font-size="24.5" fill="#222" stroke="#222" stroke-width="0.45">-10</text><text x="1683.5" y="903" font-size="24.5" fill="#222" stroke="#222" stroke-width="0.45">30</text><text x="1683.5" y="976.4" font-size="24.5" fill="#222" stroke="#222" stroke-width="0.45">20</text><text x="1683.5" y="1050.9" font-size="24.5" fill="#222" stroke="#222" stroke-width="0.45">10</text><text x="1683.5" y="1123.1" font-size="24.5" fill="#222" stroke="#222" stroke-width="0.45">0</text><text x="1679" y="1197.2" font-size="24.5" fill="#222" stroke="#222" stroke-width="0.45">-10</text><text x="1714.5" y="1174.5" font-size="24.5" fill="#222" stroke="#222" stroke-width="0.45">x10<tspan font-size="17" dy="-9">3</tspan></text><text x="1256.6" y="1248.5" font-size="24.5" text-anchor="middle" fill="#222" stroke="#222" stroke-width="0.45">280</text><text x="1331.5" y="1248.5" font-size="24.5" text-anchor="middle" fill="#222" stroke="#222" stroke-width="0.45">290</text><text x="1406.4" y="1248.5" font-size="24.5" text-anchor="middle" fill="#222" stroke="#222" stroke-width="0.45">300</text><text x="1481.3" y="1248.5" font-size="24.5" text-anchor="middle" fill="#222" stroke="#222" stroke-width="0.45">310</text><text x="1556.2" y="1248.5" font-size="24.5" text-anchor="middle" fill="#222" stroke="#222" stroke-width="0.45">320</text><text x="1631.1" y="1248.5" font-size="24.5" text-anchor="middle" fill="#222" stroke="#222" stroke-width="0.45">330</text><text x="1451.3" y="1277.6" font-size="25.5" text-anchor="middle" fill="#222" stroke="#222" stroke-width="0.45">Energy loss / eV</text><text transform="translate(1158 852.5) rotate(-90)" font-size="25.5" text-anchor="middle" fill="#222" stroke="#222" stroke-width="0.45">Difference intensity / a.u.</text><text transform="translate(1736.5 882.5) rotate(90)" font-size="25" text-anchor="middle" fill="#222" stroke="#222" stroke-width="0.45">Intensity / a.u.</text><text x="1442.7" y="504.4" font-size="22.6" text-anchor="middle" font-weight="bold" fill="#1a1a1a" stroke="#1a1a1a" stroke-width="0.3">Transient ELNES</text><text x="1311" y="549.3" font-size="22" font-weight="bold" fill="#1a1a1a" stroke="#1a1a1a" stroke-width="0.3">σ<tspan font-size="19" dy="-4">*</tspan></text><text x="1280" y="695.3" font-size="22" font-weight="bold" fill="#1a1a1a" stroke="#1a1a1a" stroke-width="0.3">π<tspan font-size="19" dy="-4">*</tspan></text><text x="1651.5" y="552" font-size="23" text-anchor="end" font-weight="bold" font-style="italic" fill="#a81c1e" stroke="#a81c1e" stroke-width="0.3">Experiment</text><text x="1648" y="585.7" font-size="23" text-anchor="end" font-weight="bold" fill="#a81c1e" stroke="#a81c1e" stroke-width="0.3">Δ<tspan font-style="italic">t</tspan> = 20±10 ns</text><text x="1648" y="912.5" font-size="23" text-anchor="end" font-weight="bold" font-style="italic" fill="#666" stroke="#666" stroke-width="0.3">Simulation</text><text x="1646.5" y="944.3" font-size="23" text-anchor="end" font-weight="bold" fill="#666" stroke="#666" stroke-width="0.3"><tspan font-style="italic">T</tspan> = 900 K</text><path d="M1600 660.8L1650 660.8" stroke="#111" stroke-width="2.5" /><path d="M1661 660.8L1649 665.4L1649 656.2Z" fill="#111"/><path d="M1299.7 762.6L1249.7 762.6" stroke="#a81c1e" stroke-width="2.3" /><path d="M1238.7 762.6L1250.7 758L1250.7 767.2Z" fill="#a81c1e"/><path d="M1600 1090.2L1649 1090.2" stroke="#111" stroke-width="2.8" /><path d="M1661 1090.2L1648 1095.2L1648 1085.2Z" fill="#111"/><path d="M1299.7 1130.6L1249.7 1130.6" stroke="#777" stroke-width="2.4" /><path d="M1238.7 1130.6L1250.7 1126L1250.7 1135.2Z" fill="#777"/></g>
<g id="ph"><g clip-path="url(#cph)"><path d="M1218.1 1322.9V1363M1215.6 1322.9h5M1215.6 1363h5M1224.1 1322.9V1363M1221.6 1322.9h5M1221.6 1363h5M1229.3 1338.7V1364.9M1226.8 1338.7h5M1226.8 1364.9h5M1234.2 1340.5V1364.9M1231.7 1340.5h5M1231.7 1364.9h5M1239.8 1333V1355.5M1237.3 1333h5M1237.3 1355.5h5M1244.6 1331.2V1353.6M1242.1 1331.2h5M1242.1 1353.6h5M1250.3 1319.9V1361.1M1247.8 1319.9h5M1247.8 1361.1h5M1254.8 1319.9V1361.1M1252.3 1319.9h5M1252.3 1361.1h5M1260.4 1319.9V1364.9M1257.9 1319.9h5M1257.9 1364.9h5M1265.2 1325.6V1370.5M1262.7 1325.6h5M1262.7 1370.5h5M1269 1331.2V1391.1M1266.5 1331.2h5M1266.5 1391.1h5M1273.5 1357.4V1391.1M1271 1357.4h5M1271 1391.1h5M1279.1 1364.9V1406M1276.6 1364.9h5M1276.6 1406h5M1281.7 1363V1443.5M1279.2 1363h5M1279.2 1443.5h5M1286.6 1398.5V1452.8M1284.1 1398.5h5M1284.1 1452.8h5M1290.3 1368.6V1443.5M1287.8 1368.6h5M1287.8 1443.5h5M1297.8 1376.8V1413.5M1295.3 1376.8h5M1295.3 1413.5h5M1301.5 1385.4V1422.9M1299 1385.4h5M1299 1422.9h5M1306 1376.8V1415.4M1303.5 1376.8h5M1303.5 1415.4h5M1310.1 1417.3V1457.7M1307.6 1417.3h5M1307.6 1457.7h5M1313.9 1409.8V1447.2M1311.4 1409.8h5M1311.4 1447.2h5M1339 1407.9V1451M1336.5 1407.9h5M1336.5 1451h5M1364 1410.5V1453.6M1361.5 1410.5h5M1361.5 1453.6h5M1388.8 1375.3V1436M1386.3 1375.3h5M1386.3 1436h5M1413.8 1401.2V1436.7M1411.3 1401.2h5M1411.3 1436.7h5M1438.9 1392.9V1434.1M1436.4 1392.9h5M1436.4 1434.1h5M1463.6 1396.7V1438.6M1461.1 1396.7h5M1461.1 1438.6h5M1488.7 1401.5V1466.7M1486.2 1401.5h5M1486.2 1466.7h5M1513.8 1409V1456.6M1511.3 1409h5M1511.3 1456.6h5M1538.5 1391.8V1430.4M1536 1391.8h5M1536 1430.4h5M1563.6 1378V1447.2M1561.1 1378h5M1561.1 1447.2h5M1588.6 1406.8V1457.7M1586.1 1406.8h5M1586.1 1457.7h5M1613.3 1429.2V1480.1M1610.8 1429.2h5M1610.8 1480.1h5M1638.4 1383.6V1434.1M1635.9 1383.6h5M1635.9 1434.1h5M1663.5 1399.3V1434.1M1661 1399.3h5M1661 1434.1h5M1688.2 1378.7V1452.1M1685.7 1378.7h5M1685.7 1452.1h5M1713.3 1415.4V1473.4M1710.8 1415.4h5M1710.8 1473.4h5M1738.4 1429.2V1487.3M1735.9 1429.2h5M1735.9 1487.3h5M1763.1 1427.7V1476M1760.6 1427.7h5M1760.6 1476h5" stroke="#8c8c8c" stroke-width="1.1" fill="none"/><circle cx="1218.1" cy="1344.3" r="4.9" fill="#fff" stroke="#5a5a5a" stroke-width="1.3"/><circle cx="1224.1" cy="1344.3" r="4.9" fill="#fff" stroke="#5a5a5a" stroke-width="1.3"/><circle cx="1229.3" cy="1351.8" r="4.9" fill="#fff" stroke="#5a5a5a" stroke-width="1.3"/><circle cx="1234.2" cy="1352.9" r="4.9" fill="#fff" stroke="#5a5a5a" stroke-width="1.3"/><circle cx="1239.8" cy="1344.3" r="4.9" fill="#fff" stroke="#5a5a5a" stroke-width="1.3"/><circle cx="1244.6" cy="1342.4" r="4.9" fill="#fff" stroke="#5a5a5a" stroke-width="1.3"/><circle cx="1250.3" cy="1340.5" r="4.9" fill="#fff" stroke="#5a5a5a" stroke-width="1.3"/><circle cx="1254.8" cy="1340.5" r="4.9" fill="#fff" stroke="#5a5a5a" stroke-width="1.3"/><circle cx="1260.4" cy="1344.3" r="4.9" fill="#fff" stroke="#5a5a5a" stroke-width="1.3"/><circle cx="1265.2" cy="1348" r="4.9" fill="#fff" stroke="#5a5a5a" stroke-width="1.3"/><circle cx="1269" cy="1361.1" r="4.9" fill="#fff" stroke="#5a5a5a" stroke-width="1.3"/><circle cx="1273.5" cy="1374.2" r="4.9" fill="#fff" stroke="#5a5a5a" stroke-width="1.3"/><circle cx="1279.1" cy="1385.4" r="4.9" fill="#fff" stroke="#5a5a5a" stroke-width="1.3"/><circle cx="1281.7" cy="1402.3" r="4.9" fill="#fff" stroke="#5a5a5a" stroke-width="1.3"/><circle cx="1286.6" cy="1426.6" r="4.9" fill="#fff" stroke="#5a5a5a" stroke-width="1.3"/><circle cx="1290.3" cy="1406" r="4.9" fill="#fff" stroke="#5a5a5a" stroke-width="1.3"/><circle cx="1297.8" cy="1394.8" r="4.9" fill="#fff" stroke="#5a5a5a" stroke-width="1.3"/><circle cx="1301.5" cy="1404.2" r="4.9" fill="#fff" stroke="#5a5a5a" stroke-width="1.3"/><circle cx="1306" cy="1395.9" r="4.9" fill="#fff" stroke="#5a5a5a" stroke-width="1.3"/><circle cx="1310.1" cy="1437.1" r="4.9" fill="#fff" stroke="#5a5a5a" stroke-width="1.3"/><circle cx="1313.9" cy="1428.5" r="4.9" fill="#fff" stroke="#5a5a5a" stroke-width="1.3"/><circle cx="1339" cy="1429.6" r="4.9" fill="#fff" stroke="#5a5a5a" stroke-width="1.3"/><circle cx="1364" cy="1432.2" r="4.9" fill="#fff" stroke="#5a5a5a" stroke-width="1.3"/><circle cx="1388.8" cy="1406" r="4.9" fill="#fff" stroke="#5a5a5a" stroke-width="1.3"/><circle cx="1413.8" cy="1418.8" r="4.9" fill="#fff" stroke="#5a5a5a" stroke-width="1.3"/><circle cx="1438.9" cy="1413.5" r="4.9" fill="#fff" stroke="#5a5a5a" stroke-width="1.3"/><circle cx="1463.6" cy="1417.3" r="4.9" fill="#fff" stroke="#5a5a5a" stroke-width="1.3"/><circle cx="1488.7" cy="1434.9" r="4.9" fill="#fff" stroke="#5a5a5a" stroke-width="1.3"/><circle cx="1513.8" cy="1432.2" r="4.9" fill="#fff" stroke="#5a5a5a" stroke-width="1.3"/><circle cx="1538.5" cy="1410.9" r="4.9" fill="#fff" stroke="#5a5a5a" stroke-width="1.3"/><circle cx="1563.6" cy="1412.4" r="4.9" fill="#fff" stroke="#5a5a5a" stroke-width="1.3"/><circle cx="1588.6" cy="1432.2" r="4.9" fill="#fff" stroke="#5a5a5a" stroke-width="1.3"/><circle cx="1613.3" cy="1454.7" r="4.9" fill="#fff" stroke="#5a5a5a" stroke-width="1.3"/><circle cx="1638.4" cy="1409" r="4.9" fill="#fff" stroke="#5a5a5a" stroke-width="1.3"/><circle cx="1663.5" cy="1416.5" r="4.9" fill="#fff" stroke="#5a5a5a" stroke-width="1.3"/><circle cx="1688.2" cy="1415.4" r="4.9" fill="#fff" stroke="#5a5a5a" stroke-width="1.3"/><circle cx="1713.3" cy="1444.2" r="4.9" fill="#fff" stroke="#5a5a5a" stroke-width="1.3"/><circle cx="1738.4" cy="1458.4" r="4.9" fill="#fff" stroke="#5a5a5a" stroke-width="1.3"/><circle cx="1763.1" cy="1451.7" r="4.9" fill="#fff" stroke="#5a5a5a" stroke-width="1.3"/><path d="M1209.8 1344.3L1213.6 1344.3L1217.4 1344.3L1221.2 1344.3L1225 1344.3L1228.8 1344.3L1232.6 1344.3L1236.3 1344.3L1240.1 1344.3L1243.9 1344.3L1247.7 1344.3L1251.6 1344.3L1255.4 1344.3L1259.1 1344.3L1262.9 1344.5L1265.6 1346.8L1267.3 1350.4L1268.6 1353.9L1269.6 1357.5L1270.6 1361.2L1271.6 1364.9L1272.6 1368.6L1273.5 1372.2L1274.5 1375.9L1275.4 1379.6L1276.5 1383.2L1277.7 1386.8L1279 1390.4L1280.4 1393.9L1282.1 1397.3L1284.1 1400.5L1286.5 1403.5L1289.3 1406L1292.5 1408L1295.9 1409.8L1299.4 1411.2L1303 1412.4L1306.6 1413.4L1310.3 1414.3L1314 1415.1L1317.7 1415.9L1321.5 1416.5L1325.2 1417.2L1328.9 1417.7L1332.7 1418.3L1336.4 1418.8L1340.2 1419.3L1343.9 1419.7L1347.7 1420.2L1351.5 1420.6L1355.2 1421L1359 1421.3L1362.8 1421.7L1366.5 1422.1L1370.3 1422.4L1374.1 1422.7L1377.9 1423L1381.6 1423.3L1385.4 1423.6L1389.2 1423.9L1393 1424.1L1396.7 1424.4L1400.5 1424.7L1404.3 1424.9L1408.1 1425.1L1411.9 1425.4L1415.6 1425.6L1419.4 1425.9L1423.2 1426.1L1427 1426.3L1430.8 1426.6L1434.5 1426.8L1438.3 1427L1442.1 1427.3L1445.9 1427.5L1449.6 1427.7L1453.4 1427.9L1457.2 1428.1L1461 1428.4L1464.8 1428.6L1468.6 1428.8L1472.3 1429L1476.1 1429.1L1479.9 1429.3L1483.7 1429.5L1487.5 1429.7L1491.2 1429.9L1495 1430L1498.8 1430.2L1502.6 1430.3L1506.4 1430.5L1510.2 1430.6L1513.9 1430.8L1517.7 1430.9L1521.5 1431.1L1525.3 1431.2L1529.1 1431.4L1532.9 1431.5L1536.6 1431.6L1540.4 1431.8L1544.2 1431.9L1548 1432L1551.8 1432.1L1555.6 1432.2L1559.3 1432.3L1563.1 1432.5L1566.9 1432.6L1570.7 1432.6L1574.5 1432.7L1578.3 1432.8L1582.1 1432.9L1585.8 1433L1589.6 1433.1L1593.4 1433.2L1597.2 1433.3L1601 1433.4L1604.8 1433.4L1608.5 1433.5L1612.3 1433.6L1616.1 1433.7L1619.9 1433.7L1623.7 1433.8L1627.5 1433.9L1631.3 1433.9L1635 1434L1638.8 1434L1642.6 1434.1L1646.4 1434.1L1650.2 1434.2L1654 1434.2L1657.8 1434.3L1661.5 1434.3L1665.3 1434.4L1669.1 1434.4L1672.9 1434.5L1676.7 1434.5L1680.5 1434.6L1684.3 1434.6L1688 1434.6L1691.8 1434.7L1695.6 1434.7L1699.4 1434.8L1703.2 1434.8L1707 1434.8L1710.8 1434.9L1714.5 1434.9L1718.3 1434.9L1722.1 1435L1725.9 1435L1729.7 1435L1733.5 1435.1L1737.3 1435.1L1741 1435.1L1744.8 1435.1L1748.6 1435.2L1752.4 1435.2L1756.2 1435.2L1760 1435.2L1763.8 1435.2L1767.6 1435.2" fill="none" stroke="#e0121f" stroke-width="4.8" stroke-linejoin="round"/></g><rect x="1214.7" y="1299.4" width="549.1" height="203.2" fill="none" stroke="#4a4a4a" stroke-width="1.8" /><path d="M1215 1502.6v5M1264.9 1502.6v5M1314.8 1502.6v5M1364.7 1502.6v5M1414.6 1502.6v5M1464.5 1502.6v5M1514.4 1502.6v5M1564.3 1502.6v5M1614.2 1502.6v5M1664.1 1502.6v5M1714 1502.6v5M1763.9 1502.6v5" stroke="#4a4a4a" stroke-width="1.4" fill="none"/><path d="M1214.7 1344.3h-5M1214.7 1388.5h-5M1214.7 1432.6h-5M1214.7 1476.8h-5" stroke="#4a4a4a" stroke-width="1.4" fill="none"/><text x="1213" y="1528.8" font-size="17.8" text-anchor="middle" fill="#2a2a2a" textLength="22.8" lengthAdjust="spacingAndGlyphs" stroke="#2a2a2a" stroke-width="0.3">-50</text><text x="1264.9" y="1528.8" font-size="17.8" text-anchor="middle" fill="#2a2a2a" textLength="8.8" lengthAdjust="spacingAndGlyphs" stroke="#2a2a2a" stroke-width="0.3">0</text><text x="1314.8" y="1528.8" font-size="17.8" text-anchor="middle" fill="#2a2a2a" textLength="17.5" lengthAdjust="spacingAndGlyphs" stroke="#2a2a2a" stroke-width="0.3">50</text><text x="1364.7" y="1528.8" font-size="17.8" text-anchor="middle" fill="#2a2a2a" textLength="26.2" lengthAdjust="spacingAndGlyphs" stroke="#2a2a2a" stroke-width="0.3">100</text><text x="1414.6" y="1528.8" font-size="17.8" text-anchor="middle" fill="#2a2a2a" textLength="26.2" lengthAdjust="spacingAndGlyphs" stroke="#2a2a2a" stroke-width="0.3">150</text><text x="1464.5" y="1528.8" font-size="17.8" text-anchor="middle" fill="#2a2a2a" textLength="26.2" lengthAdjust="spacingAndGlyphs" stroke="#2a2a2a" stroke-width="0.3">200</text><text x="1514.4" y="1528.8" font-size="17.8" text-anchor="middle" fill="#2a2a2a" textLength="26.2" lengthAdjust="spacingAndGlyphs" stroke="#2a2a2a" stroke-width="0.3">250</text><text x="1564.3" y="1528.8" font-size="17.8" text-anchor="middle" fill="#2a2a2a" textLength="26.2" lengthAdjust="spacingAndGlyphs" stroke="#2a2a2a" stroke-width="0.3">300</text><text x="1614.2" y="1528.8" font-size="17.8" text-anchor="middle" fill="#2a2a2a" textLength="26.2" lengthAdjust="spacingAndGlyphs" stroke="#2a2a2a" stroke-width="0.3">350</text><text x="1664.1" y="1528.8" font-size="17.8" text-anchor="middle" fill="#2a2a2a" textLength="26.2" lengthAdjust="spacingAndGlyphs" stroke="#2a2a2a" stroke-width="0.3">400</text><text x="1714" y="1528.8" font-size="17.8" text-anchor="middle" fill="#2a2a2a" textLength="26.2" lengthAdjust="spacingAndGlyphs" stroke="#2a2a2a" stroke-width="0.3">450</text><text x="1763.9" y="1528.8" font-size="17.8" text-anchor="middle" fill="#2a2a2a" textLength="26.2" lengthAdjust="spacingAndGlyphs" stroke="#2a2a2a" stroke-width="0.3">500</text><text x="1201" y="1306.4" font-size="17.8" text-anchor="end" fill="#2a2a2a" textLength="21.8" lengthAdjust="spacingAndGlyphs" stroke="#2a2a2a" stroke-width="0.3">0.5</text><text x="1201" y="1350.6" font-size="17.8" text-anchor="end" fill="#2a2a2a" textLength="21.8" lengthAdjust="spacingAndGlyphs" stroke="#2a2a2a" stroke-width="0.3">0.0</text><text x="1201" y="1394.8" font-size="17.8" text-anchor="end" fill="#2a2a2a" textLength="27.5" lengthAdjust="spacingAndGlyphs" stroke="#2a2a2a" stroke-width="0.3">-0.5</text><text x="1201" y="1438.9" font-size="17.8" text-anchor="end" fill="#2a2a2a" textLength="27.5" lengthAdjust="spacingAndGlyphs" stroke="#2a2a2a" stroke-width="0.3">-1.0</text><text x="1201" y="1483" font-size="17.8" text-anchor="end" fill="#2a2a2a" textLength="27.5" lengthAdjust="spacingAndGlyphs" stroke="#2a2a2a" stroke-width="0.3">-1.5</text><text x="1462.5" y="1561.5" font-size="18.5" text-anchor="middle" fill="#2a2a2a" stroke="#2a2a2a" stroke-width="0.45">τ<tspan font-size="9" dy="3">2</tspan><tspan dy="-3"> (ps)</tspan></text><text transform="translate(1161 1386) rotate(-90)" font-size="22" text-anchor="middle" fill="#2a2a2a" stroke="#2a2a2a" stroke-width="0.3"><tspan font-family="Liberation Serif, serif" font-weight="bold" font-size="23">ΔI</tspan><tspan font-size="12.5" dy="4.5">PINEM</tspan><tspan dy="-4.5" font-size="22">(%)</tspan></text><text x="1758" y="1321.8" font-size="17.5" text-anchor="end" fill="#2a2a2a" stroke="#2a2a2a" stroke-width="0.45">τ<tspan font-size="9" dy="3">1</tspan><tspan dy="-3">=0 ps</tspan></text></g>
</g>
<g id="labels"><text x="3" y="46" font-size="37.5" fill="#111" font-family="Liberation Serif, serif" letter-spacing="0.8">(a)</text><text x="38" y="718" font-size="37.5" fill="#111" font-family="Liberation Serif, serif" letter-spacing="0.8">(b)</text><text x="590.5" y="709" font-size="37.5" fill="#111" font-family="Liberation Serif, serif" letter-spacing="0.8">(c)</text><text x="3" y="1149" font-size="37.5" fill="#111" font-family="Liberation Serif, serif" letter-spacing="0.8">(d)</text><text x="582.5" y="1156" font-size="37.5" fill="#111" font-family="Liberation Serif, serif" letter-spacing="0.8">(e)</text><text x="1137.5" y="36.5" font-size="37.5" fill="#111" font-family="Liberation Serif, serif" letter-spacing="0.8">(f)</text><text x="1135" y="533.5" font-size="37.5" fill="#111" font-family="Liberation Serif, serif" letter-spacing="0.8">(g)</text><text x="1120.5" y="1309" font-size="37.5" fill="#111" font-family="Liberation Serif, serif" letter-spacing="0.8">(h)</text></g>
</svg>
</body>
</html>
